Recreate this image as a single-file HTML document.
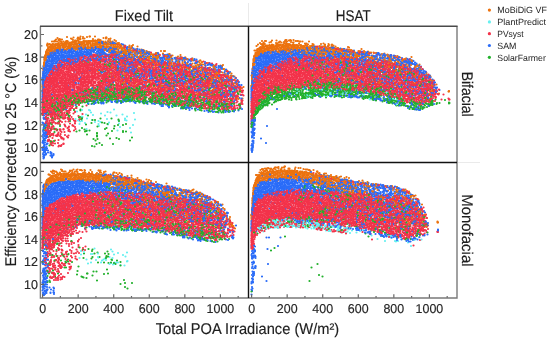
<!DOCTYPE html>
<html><head><meta charset="utf-8"><style>html,body{margin:0;padding:0;background:#fff;width:550px;height:338px;overflow:hidden}svg{display:block}</style></head>
<body><svg width="550" height="338" viewBox="0 0 550 338">
<rect width="550" height="338" fill="#fff"/>
<defs>
<clipPath id="cTL"><rect x="40.4" y="26.3" width="208.1" height="136.2"/></clipPath>
<clipPath id="cTR"><rect x="248.5" y="26.3" width="208.5" height="136.2"/></clipPath>
<clipPath id="cBL"><rect x="40.4" y="162.5" width="208.1" height="135.45"/></clipPath>
<clipPath id="cBR"><rect x="248.5" y="162.5" width="208.5" height="135.45"/></clipPath>
</defs>
<g clip-path="url(#cTL)"><g stroke-width="4.4" stroke-linecap="round" transform="scale(0.5)">
<path stroke="#EC720E" d="M156 75h0m76 7h0m-34-3h0m-12 2h0m-1 0h0m-27 2h0m-41-4h0m-10 4h0m93 6h0m12-4h0m28 10h0m-5-1h0m-2 0h0m13 3h0m5 3h0m61 6h0m-14-2h0m-23 2h0m36 2h0m7 1h0m53 6h0m-50 5h0m8 3h0m25 0h0m45 2h0m3 4h0m-5 1h0m45 6h0m-77 11h0m3-3h0m3 2h0m69 3h0m10-1h0m11 3h0m-4 16h0m-185-2h0m49 6h0"/>
<path stroke="#66F0F0" d="M186 230h0m47 1h0m17 9h0m-53 8h0m1 4h0m42 2h0"/>
<path stroke="#2A6CF8" d="M259 94h0m-68 6h0m54 0h0m55 5h0m-29 2h0m-74-2h0m-46-2h0m175 5h0m3 2h0m37 8h0m-5-4h0m-55 4h0m-89-4h0m107 7h0m101 8h0m-8 0h0m-46-1h0m-284 4h0m258 5h0m48-3h0m38-1h0m-58 6h0m-22 3h0m-91 4h0m13 0h0m138-1h0m45 3h0m-209 13h0m83 8h0m104 4h0m-61 1h0m-172 3h0m107 7h0m74-3h0m91 0h0m6 15h0m-242 2h0m-46 8h0m189 9h0m-42-2h0m24 4h0m122 1h0m-392 26h0m-4 8h0m-1 7h0m8 23h0m-2 7h0"/>
<path stroke="#F3324A" d="M183 111h0m192 8h0m-133-4h0m61 6h0m29 4h0m101 3h0m-232-2h0m-40 5h0m54 3h0m87 2h0m67 0h0m42-2h0m19 4h0m-237 1h0m132 8h0m104 0h0m18 2h0m4 5h0m-24-2h0m-7-2h0m-5 5h0m-29-4h0m-22 4h0m-20-1h0m-172 0h0m-51 3h0m71-1h0m17 5h0m87-1h0m14-4h0m75 1h0m13 0h0m29 2h0m39 1h0m6-4h0m-221 8h0m-10 0h0m-30-1h0m-23 3h0m-70 0h0m-13 7h0m23 0h0m10 0h0m3-1h0m12-4h0m67 4h0m78-1h0m50-1h0m1-1h0m1 3h0m78 4h0m-39 2h0m-7-2h0m-40 2h0m-4-4h0m-16 3h0m-16 2h0m-8-2h0m-19-2h0m-59 1h0m-71 1h0m-3-3h0m-3 5h0m-18 5h0m73-1h0m181 2h0m6-5h0m24 5h0m48-4h0m18 10h0m-18-4h0m-46-1h0m-4 4h0m-3 0h0m-46-4h0m-25 3h0m-35 1h0m-147-3h0m-1 4h0m-27 3h0m2 1h0m238 2h0m31-2h0m1-3h0m16 1h0m8 0h0m26 1h0m38 5h0m-25 4h0m-57-1h0m-229-4h0m-43 2h0m-18 4h0m41 4h0m285-2h0m36-1h0m11-1h0m-21 10h0m-76-2h0m-214-1h0m-42 3h0m-4-1h0m281 4h0m63 0h0m-324 10h0m-18-1h0m-18 7h0m25-5h0m24 10h0m-41 0h0m-8-1h0m-7-1h0m-5 5h0m7 11h0m25 1h0m6 2h0m-16 4h0m-15-1h0m-10 11h0m19 0h0m22 2h0m-15 3h0m-10-3h0m-9-1h0m-7 4h0m0 6h0m9-4h0m12 4h0m-1 6h0m-20-4h0"/>
<path stroke="#22B12C" d="M365 151h0m-93-1h0m158 15h0m-83 8h0m-81 4h0m-37-2h0m-23 1h0m4 4h0m1 1h0m31 1h0m16 2h0m217 0h0m-192 5h0m151 11h0m-99 1h0m-43 1h0m-50 0h0m-5-1h0m-19-1h0m-23 0h0m-2 0h0m-24-2h0m-13 1h0m13 5h0m20 2h0m90-1h0m111 3h0m24-1h0m29 6h0m-18 0h0m-57 0h0m-236 1h0m-6 0h0m35 5h0m230 2h0m12-4h0m32 1h0m-339 18h0m132 21h0m1-5h0m-56 9h0m65 17h0"/>
<path stroke="#EC720E" d="M158 77h0m8 0h0m3 0h0m56 6h0m-27-3h0m-13 2h0m-39-2h0m-51 7h0m53-3h0m118 6h0m-34 4h0m-132-1h0m108 8h0m42-1h0m30 2h0m0 5h0m-52 0h0m-137 3h0m145-2h0m45 3h0m9-2h0m7 4h0m9-2h0m8 0h0m2 0h0m18 7h0m31 6h0m39 0h0m25 7h0m-13-5h0m-31 1h0m-54 4h0m50 2h0m-4 5h0m-109 2h0m75 11h0m120 5h0m6 3h0m3 2h0m-387 11h0m354 17h0"/>
<path stroke="#66F0F0" d="M215 224h0m-1 14h0m-56 3h0m2 2h0m58 2h0m-2 4h0m44 7h0m-25 5h0m-62-3h0"/>
<path stroke="#2A6CF8" d="M186 100h0m50-1h0m1 2h0m61 4h0m-76 1h0m-27 1h0m-7-5h0m-6 2h0m-60 2h0m1 2h0m184 1h0m10 0h0m16 5h0m-8 4h0m-77-4h0m-2 2h0m-69-2h0m5 7h0m154 1h0m9 1h0m25 1h0m12-2h0m6-1h0m12 8h0m-7-3h0m-76 9h0m120-3h0m7 1h0m0 5h0m-8 5h0m-8-1h0m-32-2h0m-149 2h0m57 5h0m12 0h0m147 4h0m-13-1h0m-100 0h0m-132 5h0m-4 2h0m233 1h0m31 6h0m-3 3h0m-37-5h0m-85 4h0m-54 2h0m14 1h0m22 1h0m127 2h0m17 2h0m-1 2h0m-9 1h0m-3 1h0m-13-3h0m-73 0h0m-16 2h0m84 11h0m-46-1h0m-11 15h0m-31-3h0m-104 0h0m-73 9h0m137 1h0m46 5h0m18 3h0m6 0h0m87 4h0m-58 1h0m-331 16h0m-3 7h0m5 32h0m-5 8h0m4 4h0m4 11h0m10 10h0m-11-3h0"/>
<path stroke="#F3324A" d="M222 110h0m55 8h0m-45 3h0m22 2h0m178 7h0m-80-2h0m-1-1h0m-16 0h0m-5 3h0m-70 0h0m-66 1h0m-22-3h0m-15 0h0m-1 1h0m-2 0h0m-11 3h0m5 5h0m25-2h0m102-3h0m103 11h0m-77-4h0m-55 2h0m-62 0h0m-15 0h0m-25 0h0m-17 1h0m49 2h0m8 0h0m31 3h0m177-3h0m47 5h0m17 3h0m-3 2h0m-13 1h0m-47 0h0m-8-1h0m-15-4h0m-2 4h0m-17-4h0m-15 1h0m-17 3h0m-4 1h0m-58-5h0m-20 3h0m-43 7h0m29-2h0m23 0h0m3 0h0m11-2h0m6 5h0m46 0h0m4-2h0m85 2h0m45-2h0m-63 3h0m-107 4h0m-27 1h0m-11-5h0m-20 3h0m-11-2h0m-16 3h0m-1-3h0m-12 4h0m-12-1h0m-31-1h0m-16-3h0m67 10h0m20 0h0m11-2h0m5 1h0m11 2h0m0-5h0m0 2h0m9 2h0m1 1h0m28-2h0m1 1h0m24-1h0m5 0h0m162 1h0m5-1h0m5 7h0m-22 0h0m-1-2h0m-3 0h0m-63 2h0m-59-2h0m-2 3h0m-10-1h0m-8 0h0m-2 0h0m-3 1h0m-1-5h0m-41 4h0m-67 1h0m-49-5h0m51 9h0m17-1h0m46-2h0m45 5h0m10-4h0m8 3h0m17-4h0m15 0h0m7 2h0m6 1h0m17-1h0m9-2h0m19 2h0m1-1h0m10 0h0m11 3h0m3 1h0m49 5h0m-33-2h0m-14 1h0m-8-3h0m-23 5h0m-5-3h0m-3 0h0m-4 1h0m-13 1h0m-40 1h0m-66-4h0m-75 2h0m-73 5h0m144-1h0m28 4h0m88-4h0m1 4h0m32 0h0m42 2h0m-1-1h0m-12 1h0m0 2h0m-5-1h0m-51 2h0m-22-3h0m-5 2h0m-243 2h0m36 6h0m225-2h0m8 2h0m43 0h0m49-5h0m-41 8h0m-9 0h0m-9 2h0m-14-1h0m-11-2h0m-3 3h0m-13-4h0m-269 8h0m8 2h0m289-3h0m34 2h0m10 0h0m-305 5h0m-57 4h0m19 1h0m11 1h0m42-2h0m-35 6h0m-4 0h0m-23 5h0m-6-2h0m-4 7h0m13-4h0m31 3h0m11-2h0m-19 8h0m-14-2h0m-4 0h0m0-1h0m24 10h0m-8 3h0m-8 0h0m-16 9h0m33 7h0m-29-4h0m-7 2h0m-5 1h0m-1-2h0m4 9h0m12 0h0m0 6h0m8 4h0"/>
<path stroke="#22B12C" d="M219 147h0m224 14h0m-222 12h0m2-1h0m93-3h0m8 2h0m-43 8h0m-58-3h0m-26 8h0m60-3h0m212-1h0m-67 9h0m-123 2h0m-8-3h0m-4 0h0m-52 1h0m-50 4h0m52 4h0m39 0h0m85 4h0m-2 2h0m-41-5h0m-40 2h0m0 2h0m-17 0h0m-7-3h0m-33 2h0m-18 1h0m-30-3h0m8 6h0m165 3h0m132 0h0m-12 4h0m-51-2h0m-34 0h0m-26 0h0m-205 6h0m31 5h0m244-5h0m-270 12h0m2 3h0m39 0h0m-57 11h0m21 0h0m-23 5h0m47 9h0m82 6h0m-22 0h0m-54 1h0m-68-4h0m92 8h0m22 0h0m-116 5h0m95 6h0m31 10h0"/>
<path stroke="#EC720E" d="M147 75h0m14-2h0m13 1h0m6-1h0m27 3h0m-8 5h0m-39-2h0m-42 2h0m-8 0h0m-6 2h0m50 4h0m57 2h0m11-2h0m37 4h0m-56 0h0m-40 1h0m82 4h0m38 3h0m11 4h0m-1-1h0m-26 1h0m-10 3h0m-25-3h0m12 8h0m6-3h0m50 5h0m33 0h0m29 6h0m-10-4h0m-9 2h0m-6 2h0m-15-4h0m-10 2h0m-95 2h0m73 3h0m16 3h0m91-2h0m-2 6h0m-4 2h0m-36-3h0m-49 9h0m59-1h0m42-1h0m5 2h0m16 0h0m1-3h0m19 4h0m-32 3h0m-21-2h0m-41 4h0m-40-3h0m2 4h0m137 7h0m-158 2h0m-42-1h0m13 7h0m61 7h0m110 4h0m36 3h0m-80 12h0"/>
<path stroke="#66F0F0" d="M250 237h0m-49 7h0m36-3h0m1 6h0m-68-1h0"/>
<path stroke="#2A6CF8" d="M187 101h0m82-1h0m25 4h0m-5-2h0m-18 4h0m-2 0h0m-8 1h0m-14 0h0m-11-2h0m-14 0h0m-23 1h0m-34-3h0m-16-1h0m-10 4h0m-17-2h0m-1-2h0m-1 9h0m98-2h0m10 3h0m20-2h0m27-1h0m43 4h0m9-2h0m0 1h0m51 7h0m-8 0h0m-21-3h0m-20 0h0m0 2h0m-3-3h0m-37 1h0m-19 1h0m-10-2h0m-42 0h0m-42 2h0m-35-3h0m-14 2h0m37 5h0m112 2h0m8-2h0m56 3h0m40 5h0m-127 0h0m-147 2h0m193 5h0m34-2h0m61 2h0m22 0h0m27 0h0m1 0h0m-50 6h0m-25-2h0m-9 0h0m-37 2h0m35 5h0m5-3h0m52 1h0m27-1h0m7 1h0m-97 7h0m-50-2h0m-8 11h0m13-3h0m8 0h0m82-1h0m49 3h0m-45 3h0m-8-1h0m-40 3h0m58 6h0m42-3h0m22 7h0m-43 0h0m-6-1h0m-21 3h0m-124 0h0m63 3h0m53 4h0m8 0h0m-122 2h0m-16 17h0m-64-3h0m-12 5h0m42 0h0m2 0h0m7 1h0m50 0h0m57 2h0m115 4h0m-27 13h0m-8-2h0m-318 2h0m-17 5h0m-7 6h0m2 12h0m-3-2h0m1 10h0m2 0h0m3 13h0m1 2h0m0 3h0m2 13h0m-8 0h0m2 4h0m-4 6h0m22 13h0m-6 1h0m-11-2h0"/>
<path stroke="#F3324A" d="M226 88h0m76 17h0m-115 4h0m5 1h0m6 0h0m11-1h0m15 3h0m18 0h0m87-1h0m44 7h0m-19-2h0m-84 2h0m-28-2h0m-29 1h0m0 1h0m-27 4h0m23 1h0m4-3h0m74 1h0m28 10h0m-10-5h0m-73 4h0m-6-1h0m-27 1h0m-31 0h0m-3-3h0m-1 2h0m-47 7h0m2 0h0m17-4h0m15 2h0m10-2h0m10 2h0m107 2h0m33-4h0m7 2h0m27 1h0m19-1h0m13 0h0m46 4h0m-29 3h0m-44-1h0m-9-2h0m-5 2h0m-31 0h0m-68-1h0m-77-1h0m-2 1h0m-34 3h0m26 6h0m1 1h0m6-3h0m79-2h0m23 1h0m40 2h0m19 1h0m3 0h0m7-4h0m7 3h0m4 2h0m17 0h0m3-5h0m39 5h0m37 0h0m2-2h0m20 7h0m-14 0h0m-22-2h0m-74 3h0m-43-5h0m-28 5h0m-46 0h0m-4-1h0m-14 1h0m-104-5h0m-2 11h0m8-4h0m1 3h0m7 0h0m1-4h0m0 4h0m1-3h0m2 4h0m40-2h0m19 2h0m1-3h0m15 3h0m7-2h0m2 0h0m1-2h0m7 3h0m26-2h0m17 0h0m53 1h0m9 0h0m19 1h0m7 0h0m3 1h0m42-2h0m58 0h0m-32 8h0m-7 0h0m-13-2h0m-13 1h0m-6 0h0m-58-3h0m0 4h0m-25-3h0m-18 0h0m-18-1h0m-7 1h0m-15-1h0m-15 3h0m-8-3h0m-3 0h0m-31 4h0m-18-3h0m-9-2h0m-41 0h0m0 3h0m41 8h0m1-4h0m49 0h0m46 4h0m6-3h0m20-2h0m1 1h0m24 4h0m10-1h0m16-1h0m18-3h0m8 2h0m7 1h0m3-1h0m2 2h0m9 0h0m12-2h0m14-1h0m15 4h0m7 0h0m11-2h0m1 1h0m4 0h0m26-3h0m18 7h0m-21-2h0m-52 5h0m-36-1h0m-11 1h0m-2-4h0m-22 4h0m-10-4h0m-6-1h0m-24 0h0m-3 1h0m-35-1h0m-3 0h0m-16 3h0m-8-1h0m-4 0h0m-7 2h0m-19 0h0m-5 1h0m-17-1h0m-8-1h0m-2-2h0m-16-1h0m-3 2h0m-24-1h0m-9 1h0m-6 9h0m29-4h0m14 1h0m6 1h0m12 2h0m11-5h0m63 5h0m3-2h0m6-1h0m9-1h0m6 0h0m8 0h0m28 4h0m9-3h0m13 0h0m29 1h0m17 0h0m11 2h0m4-1h0m9-4h0m77 3h0m6 1h0m-23 4h0m-71 3h0m-2-4h0m-7-1h0m-20 5h0m-2-1h0m-18-4h0m-24 1h0m-10-1h0m-35 3h0m-8-3h0m-107 2h0m-63 8h0m19-2h0m30 3h0m36-2h0m38 2h0m23-2h0m1 2h0m31-1h0m30-1h0m16-2h0m12-1h0m19 1h0m16 3h0m31-4h0m5 4h0m20-4h0m22 5h0m3-4h0m2-1h0m11 4h0m25 5h0m-20-1h0m-26 1h0m-39-1h0m-18 0h0m-30-2h0m-6 5h0m-16-1h0m-24-4h0m-5 1h0m-157 3h0m-48-3h0m280 6h0m7 1h0m6-1h0m21 2h0m52 7h0m-15-1h0m-41-2h0m-273 2h0m-25-2h0m-10 6h0m2-1h0m25 1h0m2-1h0m3 3h0m2-1h0m279-2h0m29 3h0m27-3h0m-317 7h0m-12-1h0m-14 4h0m-4-3h0m-10 3h0m-6-4h0m-5 3h0m11 8h0m31 5h0m-10-2h0m0-1h0m-15 2h0m2 8h0m1-2h0m11 8h0m-15-5h0m6 16h0m-7-1h0m-4-2h0m-10 6h0m7 2h0m9 1h0m0 2h0m-3 2h0m-7 14h0m-5-4h0m16 11h0m6-3h0m4-2h0"/>
<path stroke="#22B12C" d="M208 113h0m28 24h0m147 4h0m-57 4h0m105 10h0m-19-2h0m-200 6h0m172 8h0m25 8h0m-33 0h0m-191 1h0m95 7h0m5 2h0m122-2h0m70 5h0m-130-2h0m-38 5h0m-45-1h0m-96 7h0m4-2h0m30 1h0m80 1h0m76-1h0m107-3h0m-23 6h0m-23 1h0m-53 3h0m-13-2h0m-24 0h0m-27-2h0m-43 0h0m-4 3h0m-12 1h0m-75-3h0m-15 3h0m-14 6h0m31-4h0m7 3h0m7-1h0m102-2h0m2 1h0m26 0h0m81 0h0m33-1h0m-26 6h0m-27 4h0m-11-4h0m-12 1h0m-7 2h0m132 5h0m-30 6h0m-210 14h0m-14-2h0m-85-1h0m-15-1h0m-14 3h0m127 12h0m-145 6h0m7-3h0m112 5h0m-31 3h0m-83-3h0m108 32h0"/>
<path stroke="#EC720E" d="M142 77h0m70-2h0m9 2h0m-4 1h0m-21 1h0m-6 2h0m-4-3h0m-6 4h0m-3 0h0m-1 0h0m-4 0h0m-11-4h0m-9 3h0m-8-3h0m-23 1h0m-2-1h0m-13 10h0m10-1h0m2-1h0m27-2h0m4 0h0m8 2h0m0-1h0m62 0h0m10 0h0m19 9h0m-11-1h0m-60 0h0m-76 0h0m82 4h0m50 0h0m0 2h0m6-3h0m35 2h0m13 3h0m-8 3h0m-19 2h0m-6-4h0m-5 2h0m-6 3h0m-9-3h0m-142 0h0m-1 7h0m129 2h0m40-4h0m24 2h0m19-3h0m5 9h0m-21-3h0m-4 9h0m3-1h0m18 1h0m65 1h0m41 6h0m-9-2h0m-11-1h0m-47 3h0m-24-4h0m-11 1h0m-23 2h0m-198 8h0m243-2h0m78 1h0m39 2h0m-17 1h0m-344 8h0m353-2h0m24 2h0m0 5h0m-3 3h0m-28-3h0m-98 0h0m77 4h0m26 1h0m1 3h0m10-1h0m20 8h0m-7-4h0m-12 1h0m-200-1h0m-51 0h0m122 6h0m167 5h0m-120 5h0m113 2h0m-13 13h0m18 3h0"/>
<path stroke="#66F0F0" d="M245 229h0m17 36h0"/>
<path stroke="#2A6CF8" d="M217 83h0m15 4h0m11 1h0m21 7h0m-82 5h0m10-3h0m6 0h0m1 3h0m65 5h0m-3-1h0m-14 2h0m-28-1h0m-42-2h0m-1 0h0m-5 2h0m-32-1h0m-7-2h0m-13 8h0m4 3h0m17-3h0m10-2h0m26 1h0m3 1h0m16-2h0m21 2h0m1 2h0m42-1h0m7-2h0m21 3h0m1-3h0m24 1h0m81 9h0m-19 0h0m-23 0h0m-1-3h0m-6 1h0m-24-1h0m-219-1h0m-2-1h0m-4 11h0m110-2h0m24 0h0m21 1h0m72 1h0m4-4h0m14-1h0m11 4h0m7-1h0m37 0h0m16 8h0m-34-1h0m-168 6h0m97-1h0m72 2h0m72 5h0m-31-3h0m-48 0h0m-50 2h0m-80-1h0m-125-1h0m103 5h0m87 2h0m116 3h0m9-5h0m-15 11h0m-122-2h0m-28 0h0m-181 7h0m241-1h0m66 1h0m11 1h0m31 0h0m41-1h0m-43 6h0m-315 1h0m77 6h0m27-5h0m225 3h0m9 0h0m17 7h0m-6-3h0m-89 2h0m-114-1h0m-96 8h0m160-1h0m71-2h0m30 1h0m27 3h0m10 0h0m17 5h0m-10 1h0m-6-5h0m-13 3h0m-38-3h0m-8 1h0m-204 7h0m158-1h0m45 3h0m44-1h0m33 2h0m-174 4h0m-74 2h0m-59 4h0m126-3h0m2 3h0m176 6h0m-79 0h0m-65-1h0m81 9h0m38 2h0m-46-1h0m-322 9h0m2 6h0m0 14h0m3 11h0m-2-1h0m1 3h0m3 9h0m-6 7h0m2 1h0m4 6h0m-8-4h0m7 11h0m-4 3h0m-2 2h0m9 2h0"/>
<path stroke="#F3324A" d="M263 97h0m-77 13h0m42 0h0m136 5h0m-1 0h0m-89 4h0m-41-4h0m-11 0h0m-4 2h0m-6-3h0m-57 11h0m24 0h0m7-5h0m20 3h0m21 2h0m196 3h0m-42 2h0m-65 0h0m-130-4h0m-1 1h0m-5 1h0m-1 0h0m-19-1h0m-19 2h0m-12 6h0m4 0h0m20-2h0m14 3h0m7-4h0m15 3h0m6-2h0m3 1h0m4-1h0m25 1h0m14 3h0m52-4h0m6 2h0m46-3h0m2 2h0m1 2h0m16 0h0m8-1h0m7 0h0m19 0h0m4 0h0m6 2h0m48 6h0m-66 0h0m-16 0h0m-4-2h0m-26 1h0m-25-3h0m-13 1h0m-9-1h0m0 3h0m-33-2h0m-30-2h0m-11 0h0m-8 2h0m-29-1h0m-4 0h0m-1 1h0m-1 3h0m-13-1h0m-6-2h0m-17 0h0m-9 3h0m-2-4h0m-11 2h0m-15 8h0m16-2h0m6-2h0m1 4h0m8 0h0m19-5h0m4 0h0m24 1h0m4 4h0m28-5h0m1 0h0m16 2h0m28 0h0m3 1h0m24 1h0m7 0h0m29 0h0m30-3h0m11-1h0m12 1h0m10 3h0m36 1h0m31 1h0m-19 3h0m-1-1h0m-1-2h0m-6 0h0m-51 3h0m-5 1h0m-2-1h0m-8-2h0m-2 4h0m-6-2h0m-60 2h0m-27-5h0m-4 3h0m-15-2h0m-19 0h0m0 3h0m-13-1h0m-29-2h0m-17 4h0m-3-3h0m-21 0h0m-3-2h0m-17 4h0m-22-3h0m9 8h0m6 2h0m8-1h0m7-4h0m9 3h0m11-1h0m9 2h0m6 1h0m16-2h0m18-3h0m3 1h0m10 1h0m4 2h0m4-3h0m12 1h0m60 3h0m9-1h0m20 1h0m24-4h0m21 1h0m7 1h0m25 0h0m0-3h0m18 3h0m2-3h0m22 5h0m17-2h0m12 6h0m-2-1h0m-6 1h0m-1-3h0m-11 2h0m-13 1h0m-7-2h0m-14 0h0m-16 2h0m-18 0h0m-5 1h0m-7-4h0m-1 4h0m-4 1h0m-6-1h0m-1-4h0m-23 2h0m-7 1h0m-1-1h0m-4 3h0m-43-2h0m-7-2h0m-9-1h0m-7 2h0m-7 0h0m-11-2h0m-7 0h0m-9 4h0m-1-2h0m-18 1h0m-11 0h0m-9 0h0m-5 1h0m-1 0h0m-2-1h0m-16 1h0m-34-4h0m-6 4h0m16 3h0m6 2h0m22-1h0m17 1h0m1-2h0m18 2h0m22-3h0m12 0h0m29 5h0m3 0h0m6-1h0m10 1h0m9-1h0m14 1h0m4-3h0m5 2h0m66 1h0m2 0h0m13-3h0m1 1h0m24-1h0m21 0h0m8 3h0m24-2h0m4 4h0m-8 1h0m-14 0h0m-18 1h0m-2 2h0m-35-4h0m-31 3h0m-4-1h0m-1-3h0m-22 5h0m-26-5h0m-4 4h0m-5 0h0m-12 1h0m-2-5h0m-9 2h0m-12-2h0m-15 4h0m-9-2h0m-33-1h0m-6 4h0m-22-4h0m-7 4h0m-5-5h0m-1 2h0m-5 1h0m-31 2h0m-2-5h0m-1 0h0m-7 2h0m-5 1h0m-18 6h0m18 2h0m20-4h0m5 0h0m2 2h0m29 1h0m9 0h0m6-3h0m4 3h0m28-4h0m12 1h0m4-1h0m23 5h0m16-4h0m32 4h0m5-1h0m16 1h0m2-3h0m25 3h0m13-1h0m11-2h0m7 0h0m1-2h0m7 1h0m1-1h0m10 2h0m10-1h0m9 0h0m5 0h0m46 0h0m-19 9h0m-21 1h0m-5 0h0m-1-1h0m-3-3h0m0 4h0m-3 0h0m-12-1h0m-9-3h0m0 4h0m-13-5h0m-47 2h0m-1 2h0m-20 1h0m-19-5h0m-31 1h0m-39 4h0m-24-4h0m-30 2h0m-45-3h0m-21 2h0m-7 4h0m39 4h0m1 1h0m3-1h0m14-4h0m4 4h0m1 1h0m36 0h0m4-5h0m17 4h0m89-1h0m4 1h0m9-2h0m19 2h0m0-1h0m19-2h0m28 1h0m27-2h0m2 2h0m19 1h0m24 5h0m-10-1h0m-38 0h0m-2 4h0m-17-5h0m-16 2h0m-17 1h0m-15-2h0m-8 0h0m-66-1h0m-70 0h0m-59 5h0m-2-5h0m-32 2h0m-19 9h0m8-1h0m17-3h0m3-1h0m3 0h0m24 3h0m226-2h0m3 2h0m47-1h0m5 1h0m11-1h0m11 1h0m20 5h0m-21-1h0m-7 3h0m-19-1h0m-34-1h0m-5 2h0m-1-4h0m-31 0h0m-216 2h0m-1-1h0m-14 0h0m-8 3h0m-38 2h0m39 0h0m2 4h0m3-3h0m12 3h0m3-4h0m9 0h0m313 2h0m9-2h0m-353 8h0m-14-2h0m-2 4h0m-3-1h0m-6 4h0m4 3h0m1 1h0m24-3h0m14 1h0m-19 4h0m-15 2h0m18 7h0m-29 4h0m8 6h0m-4 9h0m-4-1h0m-1 6h0m5 0h0m22 0h0m0 1h0m3 7h0m3 3h0m-21 12h0"/>
<path stroke="#22B12C" d="M194 111h0m-18 13h0m44-1h0m30-2h0m123 20h0m19 12h0m-46 7h0m11-3h0m56 2h0m3-1h0m11 9h0m-170 1h0m60 8h0m-122 1h0m7 4h0m3 3h0m38 1h0m9-4h0m13 3h0m21 1h0m84-2h0m72 6h0m-97 1h0m-61-1h0m-1 2h0m-8 0h0m-30-1h0m-17-2h0m-1-2h0m-1 4h0m-3-1h0m-9 2h0m-4-3h0m-44 0h0m-34 3h0m34 3h0m23-1h0m24 1h0m0 2h0m24-3h0m19 3h0m5-2h0m19 0h0m21 2h0m9 1h0m9 0h0m60-4h0m29 1h0m-10 8h0m-21 0h0m-112-3h0m-1 2h0m-12 2h0m-43-3h0m-6 2h0m-8-4h0m-5 4h0m-10-3h0m-22-1h0m-1 4h0m-25 2h0m29 2h0m72-2h0m86 3h0m4 1h0m23 1h0m12-1h0m4 0h0m35-1h0m12 0h0m35 2h0m1-3h0m19 1h0m15 4h0m-39 2h0m-57 0h0m-3-2h0m-22-1h0m-10 1h0m-10-1h0m-173 3h0m235 7h0m19-4h0m35 0h0m16 4h0m-11 2h0m-24 2h0m-314 1h0m-7-3h0m-4 6h0m0 11h0m73 7h0m69 17h0m-93-2h0m105 14h0m-51-4h0m-19 2h0m39 3h0m-34 10h0m-97 2h0"/>
<path stroke="#EC720E" d="M115 76h0m45 0h0m19-3h0m33 4h0m1-2h0m-10 8h0m-2-3h0m-23 2h0m-1 1h0m-10-1h0m-11-1h0m-3 2h0m-20-1h0m-32 7h0m13-1h0m48-4h0m11 4h0m31-1h0m8 1h0m1-1h0m1-1h0m6 3h0m8 0h0m9 0h0m38 4h0m-11-1h0m-21 2h0m-20-4h0m-10 0h0m-4 3h0m-18-1h0m-32 0h0m-55-2h0m-8 6h0m105 1h0m11 3h0m1-3h0m20 1h0m6-1h0m4 4h0m79 1h0m-8 4h0m-27-1h0m-3 1h0m-11-2h0m-20 2h0m-8 0h0m-25-4h0m-2 2h0m32 7h0m9 2h0m11-5h0m23 0h0m19 0h0m23 5h0m4-5h0m31 7h0m-55 2h0m-38-3h0m-21 1h0m-167 0h0m-1 10h0m178-5h0m30 5h0m23-2h0m24 2h0m58 6h0m-18-1h0m-40-3h0m-5-1h0m-31 5h0m-38-1h0m-13-2h0m81 8h0m16 1h0m7-1h0m23-2h0m14 0h0m41 5h0m-25 3h0m-4-1h0m-22 1h0m-24-3h0m-52 6h0m75 8h0m-44-2h0m-98 4h0m-4 5h0m231 6h0m-96-3h0m-143 2h0m99 3h0m49 5h0m12-1h0m67-3h0m23 8h0m-171-2h0m109 11h0m-8 5h0m65 7h0"/>
<path stroke="#66F0F0" d="M180 221h0m48-2h0m-63 15h0m19 6h0m82 10h0m-107-2h0"/>
<path stroke="#2A6CF8" d="M225 84h0m7 4h0m18 3h0m-68 10h0m17 0h0m2-1h0m11-4h0m7 0h0m13 1h0m28 1h0m-4 5h0m-10 0h0m-22 0h0m-24 4h0m-6-4h0m-7 1h0m-5 2h0m-2-1h0m-7 2h0m-10 0h0m0-2h0m-2 0h0m-32-1h0m-5-1h0m-14 2h0m-10 6h0m2 1h0m1-4h0m14 5h0m2-4h0m23 2h0m19-2h0m9 3h0m7-4h0m4 3h0m23-3h0m46 2h0m48-1h0m34 1h0m38 6h0m-2 1h0m-23 2h0m-24-1h0m-13-2h0m-6 1h0m-23 2h0m-11-5h0m-19 2h0m-1 1h0m-7 0h0m-10 2h0m-20-4h0m-12 4h0m-71 0h0m-10-2h0m-10-2h0m-3 1h0m-1 0h0m-10 8h0m50 0h0m115 0h0m100 0h0m11 1h0m15-5h0m9 4h0m28 6h0m-12-3h0m-29 0h0m-16 3h0m-94-3h0m-27 0h0m-23 2h0m-34 1h0m-49-1h0m-26-2h0m-7 2h0m-7 2h0m-11 3h0m26 0h0m99 3h0m9-2h0m16 0h0m82-2h0m62 1h0m6-1h0m11 0h0m6 4h0m23-4h0m6 2h0m-337 7h0m95 4h0m77 1h0m89 1h0m11 0h0m92-4h0m-44 9h0m-19-3h0m-26 2h0m-44 1h0m-47 2h0m-195 0h0m0 3h0m243-1h0m1-1h0m26 5h0m17-4h0m9 0h0m43 2h0m7 1h0m19 0h0m14-1h0m7-3h0m3 6h0m-11 2h0m-17-2h0m-2 4h0m-65 1h0m-31-5h0m-1 5h0m-21-3h0m-1-2h0m-71 5h0m-40-1h0m-78 5h0m112-3h0m133 2h0m16 3h0m61-1h0m21-2h0m-10 5h0m-84 1h0m-7-2h0m-146 4h0m-13-4h0m-134 7h0m377 1h0m-127 4h0m-57 4h0m-193-1h0m159 7h0m16 0h0m154-2h0m9-2h0m43 3h0m4 5h0m-99 1h0m-111-2h0m-28 4h0m-21-2h0m-33 2h0m-2 0h0m-63 1h0m75 4h0m35-4h0m19 1h0m29 1h0m39 2h0m6-2h0m134-2h0m31 11h0m-137-3h0m-6 3h0m-12-3h0m-3 0h0m-191 7h0m235-3h0m29 3h0m18 2h0m54-1h0m0 3h0m-379 13h0m5 29h0m-8 5h0m6 6h0m-7 24h0m3 2h0m15 4h0m-11 3h0m-5 1h0m1 5h0m16 0h0m1-3h0"/>
<path stroke="#F3324A" d="M180 112h0m21-3h0m13 0h0m17 3h0m7 0h0m13 1h0m79 0h0m-78 4h0m-22-3h0m-10 5h0m-17-5h0m-10 5h0m-7 0h0m-1 0h0m-6-1h0m-20-2h0m-40 8h0m46-4h0m5 5h0m2 0h0m8-1h0m14-3h0m6 0h0m7-1h0m3 5h0m15-4h0m2 3h0m5-1h0m6 1h0m11-1h0m10 0h0m2 0h0m2-2h0m2 2h0m6-3h0m1 2h0m1 2h0m4-1h0m2-3h0m93 11h0m-4-2h0m-21-1h0m-8 0h0m-16-2h0m-27 1h0m-21 3h0m-12-2h0m-12-2h0m-6 4h0m-3-3h0m-7 2h0m-13 2h0m-13-5h0m-10 3h0m-4 0h0m-2 0h0m-9 2h0m0-5h0m-8 2h0m-2-1h0m-6 0h0m-11 3h0m-3 0h0m-14 1h0m-9-2h0m-14-2h0m-1 1h0m-7 8h0m2 0h0m17 0h0m9 0h0m2-4h0m6 3h0m1 0h0m0-1h0m1 2h0m7-1h0m19 2h0m16-4h0m5 2h0m7-3h0m13 4h0m0-1h0m4-2h0m5 2h0m20-3h0m1 2h0m3-1h0m12 3h0m10 0h0m3-1h0m8 2h0m7-4h0m6 4h0m1-1h0m13 1h0m22-1h0m8-2h0m4 2h0m18-4h0m3 0h0m11 0h0m14 3h0m4 1h0m49 4h0m-34-1h0m-7 2h0m-27 1h0m-3-1h0m-7 2h0m-4 0h0m-19-5h0m-8 0h0m-39 5h0m-24-5h0m-4 4h0m-26-1h0m-16-1h0m-12-2h0m-13 5h0m-3-3h0m-7 2h0m-11-2h0m-8 3h0m-14-3h0m-2 1h0m-1 0h0m-4 1h0m-13-3h0m-12 0h0m-1 4h0m-2-3h0m-3 1h0m-8 7h0m11-3h0m6 4h0m55-3h0m11 1h0m3 0h0m2 1h0m17-2h0m2-1h0m10-1h0m7 5h0m48 0h0m9 0h0m4-3h0m21 1h0m14 0h0m23 0h0m10-2h0m0 4h0m59-3h0m12 2h0m11 3h0m-2 0h0m-12-1h0m-11 5h0m-9-4h0m-5 1h0m-13 2h0m-11-1h0m-5 0h0m-7 2h0m-13-5h0m-7 4h0m-7-4h0m-35 3h0m-13 0h0m-9-3h0m-5 2h0m-17-1h0m-4 0h0m0 2h0m-5 2h0m-10 0h0m-2-4h0m-2 2h0m-4-2h0m-26 4h0m-4-2h0m-37 0h0m-5-3h0m-2 4h0m-22 0h0m-9-3h0m-4 2h0m-17 1h0m-3 4h0m1 0h0m34-1h0m4 2h0m1 0h0m24 0h0m4 0h0m17-1h0m5-2h0m3 1h0m6 4h0m27-3h0m4 2h0m14-2h0m2-2h0m5 0h0m9 2h0m40 2h0m14-2h0m26-2h0m8 2h0m14 1h0m17-1h0m1-2h0m3 4h0m16-4h0m29 0h0m1 0h0m33 4h0m8 2h0m-23 1h0m-46 2h0m-2-2h0m-25 0h0m-9 2h0m-5-1h0m-6 2h0m-17-1h0m-7-2h0m-5 4h0m-9 0h0m-15-2h0m-7 0h0m-1-3h0m-3 1h0m-16 3h0m-10 1h0m-2-5h0m-31 4h0m0-1h0m-7-3h0m-11 0h0m-22 5h0m-6-4h0m-4 0h0m-5 0h0m-15 1h0m-4-2h0m-11 3h0m-11-3h0m-20 5h0m0-5h0m3 8h0m2 1h0m3-2h0m11-1h0m24 1h0m1 3h0m6-4h0m11 3h0m5 1h0m2-1h0m8-2h0m13 1h0m1-1h0m0-1h0m3 3h0m4-2h0m5 4h0m3-4h0m10 3h0m15-4h0m3 4h0m7-1h0m13-2h0m3 1h0m5-1h0m10-1h0m0 5h0m11-3h0m6 1h0m2-3h0m3 4h0m26 0h0m4 1h0m0-2h0m1 0h0m8 2h0m3-1h0m14-2h0m25 1h0m9-1h0m1 0h0m5-1h0m4 4h0m4-4h0m8-1h0m10 2h0m7 0h0m22 3h0m15 6h0m-1 0h0m-4-5h0m-38 0h0m-3 2h0m-5 2h0m-31-2h0m-26 3h0m-3-4h0m-17 4h0m-14-2h0m-6-2h0m-3 1h0m-2-2h0m-11 2h0m-6 1h0m-16 2h0m-7-4h0m-32 1h0m-15 3h0m0-2h0m-36-2h0m-1-1h0m-44 2h0m-4 3h0m-6-5h0m-1 5h0m-2 0h0m-6 0h0m-13 0h0m4 3h0m10 1h0m29 2h0m25-2h0m9-3h0m1 1h0m28-1h0m1 0h0m5 1h0m8 0h0m10 2h0m4-3h0m31 0h0m8 5h0m14-3h0m7-1h0m10 2h0m11-1h0m8 3h0m3-4h0m9 1h0m5-1h0m8-1h0m5 0h0m14 1h0m24 2h0m18-3h0m3 5h0m42 4h0m-14-3h0m-60 0h0m-17 3h0m-3-1h0m-2 2h0m-9 0h0m0-1h0m-3-1h0m0 2h0m-8-2h0m-4-1h0m-3 1h0m-12 2h0m-10 1h0m-7-5h0m-10 2h0m-7 0h0m-3-1h0m-39-1h0m-6 0h0m-17 2h0m-19 2h0m-48-4h0m-4 5h0m-4-1h0m-2-2h0m-13 0h0m-1 0h0m-25-2h0m-1 2h0m-2 0h0m-6 1h0m-21 1h0m14 4h0m25 0h0m20-2h0m3 5h0m20-1h0m3-3h0m1 0h0m9 1h0m7 3h0m6-5h0m1 4h0m9 0h0m1-1h0m4-2h0m26 1h0m2-1h0m18-1h0m5 0h0m2 1h0m5 0h0m5 4h0m14-3h0m56 3h0m15-2h0m16-1h0m1 0h0m3 2h0m6 0h0m12 1h0m14-5h0m6 4h0m23-1h0m20 3h0m-16 0h0m-5 4h0m-13-3h0m-12-1h0m-6 5h0m-13 0h0m-23-2h0m-2 2h0m-2-3h0m-30-2h0m-16 2h0m-44-1h0m-23-1h0m-49 0h0m-35 2h0m-15 2h0m-7-1h0m-11-1h0m-1 3h0m-12-5h0m-2 2h0m-6 1h0m-5 1h0m-6 0h0m-2-2h0m-1 1h0m-18-1h0m21 6h0m12 1h0m17-1h0m221 1h0m8 2h0m2 0h0m2-4h0m4-1h0m1 0h0m49 0h0m32 1h0m2 8h0m-1 1h0m-9-1h0m-5 0h0m-2-2h0m-16 3h0m-4-3h0m-10 2h0m-3 0h0m-2-2h0m-10 1h0m-8 1h0m-3 0h0m-260-3h0m-14 5h0m-12-1h0m-8-3h0m-3 4h0m-14 0h0m23 1h0m7 1h0m24 1h0m13-2h0m317 0h0m-335 10h0m-9 1h0m-1-5h0m-8 4h0m-6 1h0m-2-3h0m-6 0h0m-10 9h0m5-3h0m12-2h0m5 0h0m4 5h0m39-1h0m-17 7h0m-2-1h0m-9-1h0m-34 1h0m-4-2h0m2 6h0m2 0h0m8-1h0m55-1h0m-54 8h0m-9 4h0m52 0h0m-7 11h0m-13-5h0m-7 1h0m-18 2h0m21 3h0m-25 15h0m25-2h0m4 0h0m-23 6h0m-3 5h0m20 4h0m1 0h0"/>
<path stroke="#22B12C" d="M221 112h0m38 21h0m-48 9h0m-4 1h0m78 6h0m54 4h0m-63 1h0m-24-1h0m18 4h0m28 2h0m140 5h0m-14 3h0m-90-4h0m-22-1h0m-66 5h0m94 6h0m-87 4h0m-66-1h0m2 5h0m21 2h0m25-2h0m27 0h0m3 4h0m21-3h0m7 2h0m41-1h0m114 2h0m28 2h0m-51 3h0m-52-3h0m-28 0h0m-79 4h0m-17-1h0m-49 0h0m-29 0h0m-43 0h0m33 4h0m8-2h0m8 0h0m23 5h0m8 0h0m16-2h0m20-1h0m5 0h0m11 1h0m15 1h0m37-1h0m10-2h0m16 2h0m6-1h0m7-2h0m12 3h0m27-3h0m66 7h0m-36 4h0m-1-2h0m-18 0h0m-26-1h0m-70 3h0m-14 0h0m-6 0h0m-16-2h0m-17 1h0m-6-3h0m-43-1h0m-28 5h0m-17-1h0m-27 7h0m24-4h0m0 2h0m10-2h0m9-1h0m161 4h0m16 0h0m7-4h0m0 3h0m43 0h0m27 2h0m4-5h0m16 4h0m33-1h0m-72 5h0m-6 2h0m-1 1h0m-32 1h0m79 2h0m3 3h0m5-1h0m1 4h0m-363 1h0m-10 5h0m32 0h0m84 7h0m-37-3h0m-6 1h0m-53 0h0m0 2h0m12 7h0m-14 5h0m-15 5h0m125 2h0m-44 3h0m-55 0h0m-27 1h0m22 4h0m137 0h0m-52 7h0m66 10h0m-76 11h0"/>
<path stroke="#EC720E" d="M134 74h0m32 0h0m54 6h0m-9 3h0m-5 0h0m-10-1h0m-1-1h0m-4 0h0m-2 2h0m-16 0h0m-4 0h0m-13-3h0m-6 1h0m-15 1h0m-3 1h0m-8-4h0m-5 2h0m-7 2h0m-14 6h0m11 0h0m10 0h0m4-3h0m1 0h0m1 1h0m13 0h0m3 1h0m3-3h0m2 4h0m12-5h0m2 4h0m2 1h0m3-5h0m32 5h0m4-4h0m2 1h0m12 1h0m25 2h0m23 4h0m-7 2h0m-5-3h0m-4-2h0m-1 5h0m-6-4h0m-9 4h0m-3 0h0m-5-4h0m-5 2h0m-3 1h0m-2-1h0m-14-1h0m-5-2h0m-5 0h0m-11 5h0m-3-4h0m-13 2h0m-5-1h0m-7-2h0m-40 0h0m-5 0h0m-3 1h0m-1 3h0m-3 0h0m-4 6h0m3-4h0m0 2h0m4-2h0m18 4h0m9 0h0m12-2h0m82 2h0m37 0h0m3-4h0m9 3h0m16 1h0m-7 6h0m-4-4h0m-11 2h0m-12 3h0m-1-5h0m-18 5h0m-136 2h0m144 2h0m22 1h0m1 1h0m6-1h0m16-3h0m5 0h0m46 0h0m1 0h0m-40 7h0m-17-2h0m-7 1h0m-186 3h0m0-1h0m191 4h0m25-1h0m0 2h0m95-1h0m-88 5h0m-4 9h0m53-3h0m28 2h0m31 1h0m33 7h0m-33-1h0m-15 0h0m-19-3h0m-7 2h0m-12 3h0m-171 0h0m-109-5h0m298 6h0m39 0h0m6 3h0m3 0h0m1-2h0m21 2h0m4-1h0m10 7h0m-20-2h0m-13 3h0m-206-1h0m-12-2h0m45 9h0m19 1h0m3 0h0m174 2h0m-165 2h0m-34 3h0m9 2h0m83-1h0m108 6h0m-78-1h0m-50 4h0m-12-3h0"/>
<path stroke="#66F0F0" d="M164 220h0m104 6h0m-66 1h0m-20-2h0m-28-2h0m10 10h0m8-4h0m98 10h0m-96-2h0m-10 5h0"/>
<path stroke="#2A6CF8" d="M159 89h0m52-3h0m10 0h0m25 3h0m9 5h0m-3 1h0m-3-1h0m-52 1h0m-67 5h0m4-1h0m25 1h0m18-1h0m10 0h0m23 0h0m14 2h0m1-5h0m2 1h0m1 1h0m26 0h0m16 1h0m9 0h0m7 2h0m4 6h0m-17-4h0m-13 2h0m-18-2h0m-11 2h0m-5 1h0m-11-4h0m-13 2h0m-10 2h0m-16-2h0m-6-1h0m-1-1h0m-10 2h0m-3 1h0m-9-2h0m0 4h0m-5-2h0m-5-1h0m-7 2h0m-2-1h0m-10-1h0m0 3h0m-2 0h0m0-4h0m-16 5h0m6 3h0m2 0h0m8 1h0m12-2h0m10 0h0m21 0h0m6-1h0m13 4h0m7 0h0m12 0h0m6-4h0m12 2h0m16-1h0m55 2h0m5 1h0m4-1h0m47-1h0m47 7h0m-5-1h0m-17-1h0m-7 3h0m-19-5h0m-1 1h0m-51 3h0m-4 0h0m-2-3h0m-25-1h0m-22 4h0m-6 1h0m-32-4h0m-3 2h0m-2-2h0m-1 3h0m-35-1h0m-11-1h0m-3 3h0m-2-1h0m-2-4h0m-6 5h0m-1-5h0m-2 5h0m0-4h0m-1 1h0m-8-1h0m-16 4h0m-2-1h0m-10 0h0m2 2h0m1 3h0m3 0h0m4-3h0m2 3h0m2 2h0m1-5h0m4 0h0m1 5h0m1-1h0m26 1h0m5-2h0m19 0h0m34-3h0m12 1h0m1 0h0m6-1h0m6 4h0m3-2h0m21 0h0m55 0h0m9 0h0m12 1h0m9-3h0m47 1h0m31 3h0m9 5h0m-4 1h0m-12 1h0m-12-5h0m-10 3h0m-23 1h0m-4-1h0m-88 0h0m-18 2h0m-9-3h0m-10-1h0m-79-1h0m-16 1h0m-4 0h0m-11-1h0m-11 1h0m-13 6h0m13 1h0m14 0h0m112 1h0m7-1h0m7 3h0m3-4h0m16 4h0m55-3h0m22-1h0m94 0h0m-11 6h0m-59 4h0m-14-2h0m-6-2h0m-26-1h0m-4 4h0m-14-1h0m-16-2h0m-63 2h0m-46-1h0m-82 2h0m0-1h0m-10-2h0m62 5h0m60 2h0m61-1h0m26-1h0m35 0h0m35 4h0m50-2h0m5-1h0m34 3h0m1-2h0m1 0h0m-19 6h0m-12 3h0m-36-4h0m-34 1h0m-67-2h0m-6 3h0m-10 1h0m-31 1h0m63 1h0m27 2h0m27 2h0m16 1h0m4-2h0m16 0h0m48-1h0m17 2h0m-29 3h0m-5 1h0m-37 0h0m-22-1h0m-30 3h0m-1 0h0m-53 1h0m-56-3h0m20 8h0m68-2h0m3-1h0m14-1h0m2 3h0m3-3h0m29 0h0m22 1h0m3 1h0m16 3h0m18-2h0m6-3h0m24 4h0m9 3h0m-31 2h0m-19-1h0m-13 0h0m-50 2h0m-60-2h0m65 5h0m37 0h0m12-1h0m8 1h0m18-1h0m34 3h0m4 0h0m-6 7h0m-3-2h0m-39-1h0m-135 3h0m-115-4h0m-86 11h0m207-3h0m99 3h0m66-5h0m-35 6h0m-176 2h0m-25 1h0m-5 2h0m-131-5h0m116 7h0m2 2h0m4-2h0m17-1h0m108 5h0m39-1h0m69-4h0m22 6h0m-35 2h0m-76 0h0m-266 2h0m307 3h0m59 7h0m-358 1h0m-3 2h0m-3 0h0m5 12h0m0 8h0m-1 2h0m-3 6h0m0 11h0m1 1h0m3-1h0m1 6h0m-4-1h0m-3 10h0m1 4h0m-2 10h0m5 8h0m0 2h0m2-5h0m4 5h0m5-1h0m0 2h0m-12 5h0m-3-3h0m17 4h0"/>
<path stroke="#F3324A" d="M250 92h0m-9 0h0m40 11h0m-92 8h0m10 1h0m2 1h0m1-4h0m9 1h0m2 2h0m2 0h0m9-4h0m112 5h0m6-1h0m16 5h0m-91 0h0m-9 2h0m-5-3h0m-15 2h0m-36-3h0m0 4h0m-21-5h0m-1 3h0m-18-3h0m-12 2h0m-31 6h0m9-2h0m4 3h0m27 2h0m6-2h0m23 0h0m2 1h0m4 1h0m7-1h0m14 0h0m4-2h0m14 2h0m2 1h0m4-4h0m0 4h0m1-1h0m2-4h0m4 2h0m8-1h0m16 4h0m20-2h0m17-1h0m7 0h0m69-2h0m9 2h0m32 5h0m-11-1h0m-31 4h0m-10 0h0m-17 1h0m-2 0h0m-16 0h0m-4-5h0m-21 5h0m-9-5h0m-15 4h0m-7 0h0m-1 0h0m-6-4h0m-23 3h0m-3-2h0m-7 1h0m-6 3h0m-10-3h0m-19 0h0m-3 1h0m-9-1h0m-4 0h0m0-2h0m-2 3h0m-15-2h0m-4 3h0m-10-1h0m-7-3h0m-18 5h0m-19 6h0m0-5h0m0 4h0m5-1h0m20-1h0m10-2h0m7 2h0m5 2h0m0-3h0m7 0h0m6-1h0m6 3h0m4-1h0m5-2h0m3 2h0m6 1h0m5 1h0m22-4h0m6 1h0m18 3h0m11-2h0m13-1h0m20-1h0m6 3h0m21-3h0m27 2h0m1 2h0m7-4h0m12 0h0m7 4h0m62 4h0m-23-2h0m-5 5h0m-22-5h0m-3 5h0m-19-4h0m-8 3h0m-3-3h0m-4-1h0m-11 2h0m-5 2h0m-17-4h0m-6 1h0m-1 3h0m-2-3h0m-2 3h0m-14-2h0m-10 1h0m-1-3h0m-2 5h0m-2 0h0m-15-3h0m-3 3h0m-17-1h0m-8 1h0m-2-5h0m-3 1h0m-14 3h0m-11-3h0m-3 3h0m-9 0h0m-17-2h0m-1 2h0m-15-2h0m-1 3h0m-4-4h0m-2-1h0m-4 1h0m-5 1h0m-3 0h0m-2 2h0m-1-2h0m-1 3h0m-29 0h0m6 6h0m10-3h0m3 0h0m16 1h0m5 1h0m8-4h0m17 0h0m1 3h0m2-3h0m8 3h0m7-2h0m0 3h0m7-2h0m34 0h0m1-1h0m10-1h0m7 1h0m0-1h0m5 5h0m3-3h0m13-2h0m3 1h0m12 0h0m1 3h0m5 0h0m7 0h0m6-4h0m8 3h0m13-3h0m11 0h0m5 2h0m2 0h0m3 2h0m25 1h0m3-1h0m2 0h0m6 1h0m12 0h0m1-4h0m12 4h0m4 0h0m6-2h0m34 6h0m-2-1h0m-3 3h0m-5 0h0m-11-1h0m-5-3h0m-2 2h0m-12-3h0m-11 0h0m-1 0h0m-3 4h0m-12-1h0m-8-2h0m-3 0h0m-19 0h0m0 4h0m-28-2h0m-9-2h0m-3 4h0m-8-5h0m-13 4h0m-4-1h0m-28 0h0m-4-1h0m-19 1h0m-7-2h0m-17 3h0m-17 0h0m-8 1h0m-3-2h0m-3-3h0m-5 4h0m-2 0h0m-3-1h0m-10 0h0m-8-1h0m-2-2h0m-10 5h0m-6-2h0m-2-1h0m-9 0h0m-1 0h0m-1 1h0m-6-1h0m-3 1h0m-2-2h0m0-1h0m-2 2h0m-5 3h0m-3 3h0m29 1h0m1 0h0m2-2h0m4 2h0m1-2h0m6-1h0m0 4h0m8 1h0m7-1h0m14-4h0m4 2h0m9-1h0m9 1h0m9-2h0m6 5h0m11-5h0m5 4h0m0-3h0m4 4h0m4-5h0m1 2h0m1-2h0m2 2h0m14-1h0m3 0h0m0 4h0m9-4h0m3-1h0m2 2h0m8 1h0m2-3h0m2 4h0m37 0h0m2-3h0m1-1h0m8 3h0m14 0h0m8 0h0m9-3h0m2 3h0m2-3h0m14 4h0m2 1h0m2-1h0m1 0h0m5-2h0m8 3h0m4-3h0m3 1h0m4-3h0m10 0h0m7 2h0m6 1h0m24 5h0m-21 2h0m-6-3h0m-23 3h0m-8-1h0m-4-3h0m-3 5h0m-5-5h0m-6 3h0m-3-3h0m-13 5h0m-9-2h0m-5 0h0m-29 2h0m-11-4h0m-19 0h0m-3 0h0m-3 4h0m-6 0h0m-7-4h0m-5 4h0m-4-1h0m-8-4h0m-9 2h0m-1-2h0m-12 4h0m-12-2h0m-11 1h0m0-1h0m-3 2h0m-17-2h0m-20 0h0m-2 3h0m-1-4h0m-17-1h0m-1 3h0m-8 1h0m-3-4h0m-1 1h0m0 1h0m-1 3h0m-3-1h0m-1-4h0m-6 5h0m0-1h0m-6-1h0m-11 1h0m-4-3h0m-2 6h0m12 4h0m2-5h0m12 3h0m4-2h0m2 2h0m11 0h0m1 0h0m0 2h0m3-3h0m3-1h0m9 1h0m5 1h0m5 1h0m1-3h0m2 1h0m17 1h0m1-1h0m2 1h0m2-1h0m4 1h0m13 1h0m3 1h0m15-2h0m1 1h0m6 0h0m2 0h0m7-2h0m4 0h0m16-2h0m17 1h0m5 2h0m10-2h0m7 2h0m1 1h0m11-2h0m13 1h0m6-3h0m35 1h0m16 4h0m12 0h0m3 0h0m2-2h0m11-2h0m6-1h0m2 5h0m15-5h0m6 0h0m6 1h0m26 6h0m-5 0h0m-35 2h0m-48-1h0m-16-2h0m-5 5h0m-7 0h0m-8-1h0m-8-4h0m-17 5h0m-3-4h0m-4 4h0m-1-1h0m-26-2h0m-7-2h0m-22 5h0m-10-5h0m-7 0h0m0 5h0m-9-5h0m-44 5h0m-3 0h0m-46-4h0m-2 4h0m-15-1h0m-1-1h0m-4-2h0m-2 2h0m-6-3h0m-2 4h0m-2-4h0m-8 3h0m-2 4h0m4 3h0m4 1h0m0-5h0m0 4h0m13-1h0m4-2h0m10 2h0m1-2h0m3-1h0m3 5h0m4-2h0m13-1h0m8 2h0m3-1h0m9-2h0m13 4h0m6 0h0m18-2h0m21-2h0m32 3h0m3-4h0m13 4h0m8-2h0m1-1h0m5 1h0m14-2h0m7 2h0m8 2h0m4-3h0m6 3h0m5 0h0m3 0h0m1 0h0m6-4h0m15 4h0m2-3h0m6 1h0m6 1h0m15 1h0m16 0h0m10-4h0m19 4h0m5-2h0m2 2h0m2-3h0m1 2h0m20-2h0m8 3h0m3-3h0m-33 6h0m-5 3h0m-3 0h0m-11 0h0m-7 1h0m-11-5h0m-32 3h0m-1 1h0m-6-2h0m-2 0h0m-6 3h0m-10 0h0m-22-2h0m-2-1h0m-1 0h0m-7 2h0m-7-2h0m-34 1h0m-30-1h0m-2-2h0m-16 4h0m-6-3h0m-1 4h0m-19 0h0m-12 0h0m-15-3h0m-7 0h0m-10 3h0m-11-5h0m-4 0h0m-5 2h0m-7 3h0m-1-5h0m-3 2h0m-13 2h0m0-1h0m-2 2h0m-4-5h0m-5 5h0m-19 6h0m6-1h0m16 0h0m13-1h0m1-1h0m21-2h0m1 1h0m5 1h0m2 2h0m20-2h0m13-2h0m13 2h0m5 0h0m11 0h0m6 1h0m31-2h0m6 1h0m24 3h0m49-1h0m6-3h0m12 1h0m9-1h0m6 0h0m6 0h0m12-1h0m26 0h0m3 1h0m22 0h0m3-1h0m1 3h0m1 0h0m32-2h0m-46 7h0m-2 1h0m-1 1h0m-12-3h0m-7 2h0m-11-3h0m-8 2h0m-3 0h0m-39-2h0m-4 5h0m-3-5h0m-8 4h0m-1-4h0m-4 5h0m-16-1h0m-143 0h0m-1-4h0m-8 4h0m-17-4h0m-13 5h0m-12 0h0m-9-2h0m-7 5h0m8-1h0m2 1h0m5 1h0m12 2h0m3-5h0m184 0h0m22 3h0m4 0h0m15 2h0m12-5h0m7 2h0m75 1h0m12-1h0m0-2h0m5 0h0m2 2h0m10 2h0m6 0h0m-26 4h0m-24 3h0m-6 0h0m-16-5h0m-21 3h0m-28-3h0m-223 3h0m-3 0h0m-12-2h0m-4-1h0m-13 1h0m-1 2h0m-8-1h0m-15 7h0m15 2h0m8-2h0m6-3h0m299 1h0m33 0h0m2 0h0m11-1h0m4 2h0m17-2h0m-360 6h0m-6 1h0m-7 0h0m-2 4h0m-8-5h0m-11 3h0m-1 1h0m1 3h0m6 0h0m4 2h0m6-2h0m1 1h0m6 1h0m37 7h0m-3-4h0m-7 1h0m-9 2h0m-17 1h0m-1-4h0m-7 0h0m19 8h0m10 1h0m7-3h0m12 4h0m1-2h0m-1 5h0m-5 4h0m0-1h0m-5-3h0m-40 0h0m-2 4h0m-2-5h0m-5 0h0m3 9h0m2-1h0m6 3h0m4-3h0m1-1h0m30 9h0m-39-1h0m8 8h0m11-4h0m17 8h0m-11 2h0m-8-3h0m-12 18h0"/>
<path stroke="#22B12C" d="M198 113h0m37 11h0m23 17h0m-56 2h0m179 10h0m-70 2h0m-2-1h0m62 7h0m32-5h0m40 8h0m-96 2h0m-52 6h0m99 1h0m-46 1h0m-68 1h0m-2 3h0m-11 0h0m-4-1h0m-12 1h0m-3 0h0m-32-2h0m-20-2h0m-35 5h0m25 2h0m29 2h0m5-1h0m34 2h0m4-1h0m11-2h0m25 3h0m19 0h0m128-2h0m-133 5h0m-4 3h0m-6-3h0m-13 3h0m-23 0h0m-3 0h0m-8-2h0m-7-1h0m-1 2h0m-15 0h0m-40-3h0m-9 5h0m-4-2h0m-15-3h0m-26 10h0m49-1h0m1-3h0m5 4h0m3 1h0m6-4h0m8 0h0m31 2h0m16-1h0m1 0h0m14 1h0m7-1h0m16 2h0m2-1h0m54-3h0m23 0h0m11 5h0m81 4h0m-29 0h0m-50 1h0m-4-2h0m-9 3h0m-16 0h0m-10-3h0m-10 1h0m-3-2h0m-6 2h0m-21 0h0m-17-1h0m-7 2h0m-5 0h0m0-4h0m-3 5h0m-10-1h0m-29-3h0m-1 0h0m-4 0h0m-4-1h0m-25 2h0m-25 3h0m-37 0h0m-8-1h0m-6-3h0m-16 2h0m-9 5h0m25 0h0m21-2h0m2 4h0m11-4h0m40 2h0m113-1h0m19 2h0m6-2h0m3 4h0m14-1h0m16 0h0m19-4h0m16 1h0m2 4h0m1 0h0m4-1h0m40 1h0m4 0h0m14-1h0m-11 6h0m-16-3h0m-12 1h0m-51-2h0m-9 2h0m-248 0h0m-17 1h0m15 7h0m253-2h0m53-2h0m1 3h0m12-2h0m0 4h0m27 1h0m-22 3h0m-331-3h0m-14 6h0m40 4h0m26 5h0m-1 2h0m52 9h0m-114-2h0m-8 5h0m-5 28h0m20 3h0m-9 9h0"/>
<path stroke="#EC720E" d="M190 73h0m39 7h0m-42 3h0m-3 0h0m-57 0h0m-6 0h0m-22 5h0m16 0h0m9 0h0m3 0h0m2-2h0m18-1h0m3-1h0m1 4h0m18 1h0m0-3h0m8 3h0m0-1h0m1-4h0m7 3h0m6-1h0m3-1h0m0-1h0m1 3h0m4 1h0m1-1h0m0-3h0m8 5h0m0-2h0m8 2h0m1-2h0m7-2h0m12 1h0m22 9h0m-16-4h0m-7 0h0m-4 2h0m-2 0h0m-2-2h0m-1 3h0m-12-1h0m-1 2h0m-4-1h0m-1-1h0m-3-2h0m-1 2h0m-3-1h0m-6 1h0m-7 2h0m0-4h0m-12-1h0m-5 0h0m-17 0h0m0 2h0m-2 1h0m-4 0h0m-4 1h0m-1-4h0m-2 5h0m-1-2h0m-3-2h0m-2 2h0m-3-1h0m-1 3h0m-10-1h0m-9 1h0m-6-3h0m-2 0h0m-1 0h0m0 1h0m-8-3h0m0 9h0m13 1h0m3-2h0m1 1h0m1 1h0m6-1h0m2-1h0m4 3h0m2-3h0m1-2h0m5 4h0m1-2h0m2-1h0m5 0h0m12 1h0m34-2h0m37 2h0m1 1h0m4 2h0m17 0h0m13 0h0m4 0h0m20 0h0m47 1h0m-2 0h0m-15 5h0m-14 0h0m-2-2h0m-18 1h0m-28-2h0m-1 1h0m-9 1h0m-4-2h0m-126-2h0m-3 1h0m-4 3h0m-11-4h0m-1 5h0m0 2h0m2 2h0m138-3h0m20 0h0m3 3h0m19-1h0m5 3h0m2-1h0m20-2h0m35 0h0m1-1h0m19 4h0m5-3h0m14 8h0m-14-3h0m-8 4h0m-40-5h0m-7 1h0m-10 0h0m-2 0h0m-1 1h0m-5-2h0m-10 1h0m-13 0h0m-3 2h0m-4 1h0m-165-3h0m-1 1h0m-2 3h0m0-5h0m-1 5h0m0 5h0m1-4h0m204 1h0m5-1h0m5 1h0m10-1h0m1 5h0m24-2h0m5-3h0m12 5h0m1-4h0m12-1h0m37 9h0m-9 2h0m-48-1h0m-10-1h0m-62 0h0m-30 1h0m85 2h0m2 0h0m40 4h0m2-1h0m10-2h0m6-1h0m52 0h0m10 9h0m-43-3h0m-1 0h0m-30 0h0m-23 1h0m-10 4h0m-2-2h0m-15 0h0m-9 6h0m9-2h0m5 1h0m17 1h0m36 0h0m1-3h0m9 1h0m59 10h0m-135-3h0m-47 6h0m22 2h0m89 1h0m69-2h0m9 8h0m-125 0h0m-254 2h0m286 4h0m98 0h0m1-1h0m-44 7h0m-18 0h0m-2-1h0m-47-3h0m-57-1h0m-217 4h0m336 4h0m2 6h0m48 9h0m4-1h0"/>
<path stroke="#66F0F0" d="M210 231h0m-54 10h0m34 3h0"/>
<path stroke="#2A6CF8" d="M198 85h0m27 1h0m3 0h0m-57 8h0m-1 1h0m-44 4h0m12 1h0m4 0h0m4-2h0m4-2h0m5 0h0m4 1h0m2-1h0m5 3h0m8 0h0m5 1h0m1 1h0m11-3h0m1-2h0m4 2h0m7 0h0m2 3h0m1-3h0m3 0h0m2 0h0m4 3h0m2-1h0m14-2h0m1 0h0m24 1h0m60 7h0m-22 1h0m-2-1h0m-5-2h0m-4-1h0m-6 3h0m-3-4h0m-35 3h0m-12-2h0m-13-1h0m-3 5h0m-2-2h0m-2-1h0m-3 1h0m-5 0h0m-3-3h0m-20 5h0m-1-2h0m-1 0h0m-3-1h0m-3 0h0m-1 3h0m-7-2h0m-1 0h0m-2 2h0m-4-3h0m-8 1h0m-1-3h0m0 1h0m-4 0h0m-4 0h0m-4 3h0m-17-1h0m-6 1h0m-2-3h0m-11 7h0m2 3h0m3-5h0m11 0h0m12 2h0m1-1h0m1 0h0m5 2h0m3 0h0m0-1h0m4-2h0m5 0h0m1 3h0m3 2h0m1-2h0m1 1h0m1 1h0m6-2h0m18-1h0m6-1h0m3-1h0m4 4h0m7 1h0m5 0h0m1-3h0m3 0h0m4-2h0m26 3h0m2-1h0m4-1h0m14 3h0m4-3h0m45 4h0m9-2h0m24-2h0m3 3h0m4 1h0m-6 3h0m-27 2h0m-17-1h0m-38 0h0m-8 1h0m-14 0h0m-30-2h0m-2 2h0m-12-1h0m-21-1h0m-11 1h0m-3 0h0m-1 0h0m-13 0h0m-3-3h0m-1 5h0m-1-2h0m-3-3h0m-6 1h0m-3-1h0m-4 5h0m-1-4h0m0 4h0m-6-4h0m-2 2h0m-10 2h0m-1-3h0m-3-2h0m-4 7h0m2 0h0m5-1h0m3 3h0m2 0h0m1-3h0m4 2h0m3 2h0m2 0h0m2-2h0m3-2h0m3 5h0m5-3h0m48 0h0m4-2h0m33 3h0m26-3h0m2 0h0m7 0h0m10 4h0m12-3h0m49 0h0m9 3h0m27-3h0m26-1h0m47 10h0m-3 1h0m-1-2h0m-49 1h0m-26 1h0m-13-3h0m-37 1h0m-9 0h0m-34-3h0m-4 4h0m-12-3h0m-21 0h0m-75 1h0m-6 0h0m-33 3h0m-1-1h0m-2-2h0m-1-1h0m-2 0h0m-6 1h0m-1 2h0m-1 7h0m2-3h0m3 3h0m5-5h0m3 0h0m1 2h0m2 1h0m9 0h0m8-3h0m114 0h0m1 2h0m36 3h0m17-2h0m61-2h0m6 2h0m19-3h0m33 4h0m6 1h0m-10 3h0m-4 3h0m-67 0h0m0-5h0m-21 2h0m-28-2h0m-22 1h0m-7-1h0m0 3h0m-11-1h0m-35 3h0m-97-2h0m-11-3h0m-7 0h0m-2 5h0m0-5h0m-1 2h0m-4 3h0m-1 6h0m3-2h0m1-2h0m2 0h0m3 1h0m3-2h0m65 3h0m79-3h0m100 5h0m4-4h0m9-1h0m26 0h0m27 1h0m3 6h0m-27 1h0m-54 2h0m-9-4h0m-52 2h0m0-1h0m-109 4h0m-68-5h0m-1 1h0m-2 2h0m-2-2h0m-2 0h0m0 8h0m2 1h0m3-4h0m1 3h0m169 2h0m19-5h0m8 3h0m3 1h0m9-3h0m38 4h0m7-5h0m6 1h0m9 1h0m15-1h0m13 4h0m22-4h0m0 4h0m9-1h0m35-4h0m-43 8h0m-10 2h0m-32-2h0m-16 0h0m-10 3h0m-12-5h0m-4 1h0m-176 3h0m-5-4h0m-61 0h0m0 4h0m1 4h0m200 3h0m51-1h0m5-4h0m10 3h0m23-2h0m89-1h0m13 1h0m-7 5h0m-27 2h0m-14-2h0m-12 4h0m-2-1h0m-66-2h0m-8 0h0m-16-1h0m-43 1h0m-24-1h0m-170 0h0m117 9h0m28 0h0m70-2h0m45 0h0m97-1h0m13 1h0m-44 8h0m-110-2h0m-55 2h0m-68 0h0m-7-1h0m-1 1h0m-28-1h0m-59 2h0m-1 4h0m8-1h0m30 4h0m89-2h0m115 2h0m72-3h0m54 0h0m17-1h0m-57 8h0m-87 1h0m-13-3h0m-15 4h0m-16 0h0m-22 0h0m-8-4h0m-3 3h0m-11 0h0m-52 1h0m-101-4h0m103 6h0m3-1h0m96 2h0m20 1h0m95 2h0m48 3h0m-76-1h0m-2 4h0m-221-5h0m299 11h0m10 2h0m-36-1h0m-7 2h0m-316 1h0m-13 6h0m3 30h0m-4 4h0m0 3h0m3 17h0m-3-2h0m7 14h0m-3 1h0m-4-3h0m-1 1h0m2 4h0m19 8h0m-15 0h0m-5 5h0"/>
<path stroke="#F3324A" d="M235 88h0m-77 25h0m29-3h0m37 3h0m2-3h0m19 3h0m84-1h0m-43 7h0m-6-2h0m-13 1h0m-14 1h0m-24-4h0m-3 1h0m-1 0h0m-18-1h0m-12 3h0m-7 1h0m-4-5h0m-9 1h0m-1 3h0m-4-1h0m-8 1h0m-2 1h0m-2-5h0m-22 4h0m-15 3h0m2 0h0m1 1h0m4 1h0m12 0h0m6 0h0m4 1h0m8-3h0m0 1h0m2 0h0m2 3h0m8-4h0m19-1h0m3 2h0m4 3h0m7-3h0m27 2h0m11-4h0m5 1h0m20 4h0m5-1h0m6-3h0m0 4h0m15 0h0m2 0h0m15-3h0m1 3h0m6 0h0m13 0h0m1-1h0m77-1h0m12 3h0m-56 5h0m-2-1h0m-2-2h0m-29 0h0m-4 0h0m-7 1h0m0-1h0m-2 1h0m-17 0h0m-18 2h0m-1-3h0m-1 0h0m-19 1h0m0-3h0m-4 2h0m-25-2h0m-2 4h0m-12 1h0m0-5h0m-5 2h0m-31 1h0m-4 0h0m-8 2h0m-6-1h0m0-4h0m-12 3h0m-1 0h0m-4 1h0m0 1h0m-10-5h0m-4 0h0m-4 2h0m-1 1h0m-9-1h0m-10 5h0m8 2h0m0-2h0m8-1h0m4 5h0m10-1h0m3-3h0m1 4h0m1 0h0m13-1h0m3-2h0m5-1h0m1 4h0m10 0h0m2-5h0m3 4h0m4-1h0m14-1h0m2-1h0m0 3h0m5-4h0m2 0h0m2 1h0m5 4h0m4 0h0m21-1h0m26-2h0m1-2h0m15 5h0m1-1h0m6 0h0m6-2h0m1 1h0m3-3h0m12 4h0m13-1h0m8 2h0m8-5h0m8 0h0m30 4h0m10 1h0m16-3h0m14 2h0m22 7h0m-2-1h0m-6 0h0m-5 0h0m-4-3h0m-1 1h0m-9 3h0m-2-4h0m-20-1h0m-18 5h0m-9-2h0m-3-2h0m-5 1h0m-8-2h0m-1 3h0m-7-1h0m-10 2h0m-2-3h0m-1 1h0m-3 0h0m-12 0h0m-12 2h0m-6-2h0m-3-1h0m-1 0h0m-15 4h0m0-5h0m-1 2h0m-3 3h0m-32-1h0m-5-1h0m-2 0h0m-10-2h0m-9 1h0m-7-1h0m-1 3h0m-9-4h0m-11 4h0m-5-3h0m-1 0h0m-7 1h0m-2-2h0m-6 0h0m-1 5h0m-5-3h0m-8-1h0m-3 2h0m-21 0h0m-3-3h0m-1 2h0m-9-1h0m-2 4h0m-5 0h0m-5 2h0m1 0h0m0-1h0m1 1h0m1 2h0m2 0h0m7 1h0m2 1h0m3-4h0m8 4h0m1-5h0m3 3h0m8-2h0m1 0h0m9-1h0m5 0h0m0 2h0m1 1h0m3 2h0m2-1h0m3-2h0m0-2h0m2 0h0m3 3h0m1-2h0m0-1h0m1 4h0m17-2h0m9 3h0m9 0h0m4-2h0m1 0h0m2-2h0m4 4h0m13-3h0m1 1h0m0-1h0m6 2h0m7-2h0m2 2h0m2 0h0m4-3h0m1 2h0m11-3h0m0 5h0m7 0h0m14-1h0m15-1h0m11 0h0m4 1h0m1-4h0m13 5h0m5-1h0m2 0h0m8 1h0m20-1h0m12-2h0m1-1h0m0-1h0m30 0h0m57 11h0m-15-5h0m-3 0h0m-2 0h0m-34 3h0m-12-1h0m-13 1h0m-4-2h0m-21 1h0m-20 2h0m-8-3h0m-20 3h0m-11 0h0m-3-4h0m-4 0h0m-4 5h0m-2-4h0m-12 1h0m-6-1h0m-18 4h0m-14-5h0m-3 4h0m-1-1h0m-9-3h0m-2 4h0m-2 0h0m-6-3h0m0 3h0m-2 0h0m-4-4h0m-3 2h0m-9 0h0m-1 3h0m-4-4h0m-8 4h0m-3-5h0m-1 5h0m0-4h0m-2-1h0m-2 3h0m-1-2h0m-6 2h0m-13 2h0m-3-4h0m-1 3h0m-2-1h0m-3 1h0m-3 1h0m-1-2h0m-1-3h0m-3 1h0m0-1h0m-1 3h0m-5 1h0m-1 0h0m-8 1h0m-1-4h0m-2-1h0m-3 1h0m-6 4h0m-4-1h0m-1-3h0m-4 0h0m-4-1h0m-2 8h0m3 1h0m2-2h0m2 2h0m3-3h0m3 3h0m2-2h0m2 2h0m1-3h0m3 0h0m8 2h0m4-1h0m2 4h0m1-5h0m3 5h0m3-1h0m3-2h0m10 1h0m1-2h0m4 0h0m3-1h0m2 5h0m2-3h0m4-1h0m7 0h0m3 2h0m7 0h0m22-1h0m3-2h0m5 4h0m1 0h0m5-1h0m6 0h0m6 2h0m21-2h0m3-1h0m0 3h0m4 0h0m11-1h0m2 0h0m2-2h0m4 2h0m3 1h0m6-4h0m6 0h0m6 3h0m3 1h0m24-5h0m3 1h0m5 2h0m0-3h0m2 2h0m4 0h0m3 1h0m1-3h0m17 0h0m3 4h0m23-2h0m1 0h0m18 2h0m7 0h0m4-3h0m24 1h0m17 0h0m1 2h0m4 7h0m-9-5h0m-4 1h0m-5 3h0m-4 0h0m-11-4h0m-12 4h0m-25 1h0m-1-2h0m-14 0h0m-4 2h0m-13-3h0m-2-2h0m-2 0h0m-14 0h0m-1 3h0m-9 1h0m-14-2h0m-7 1h0m-4 2h0m-3-3h0m-12 1h0m-4 1h0m-4-2h0m-7-1h0m-9 2h0m-3 0h0m-8 2h0m-5-4h0m-28-1h0m-2 0h0m-3 4h0m-8-4h0m-8 1h0m-4 4h0m-1-2h0m-1 1h0m-9-1h0m-6-1h0m-2 1h0m-4-3h0m-8 1h0m-7 1h0m-1 3h0m-14-1h0m-1-2h0m-3 1h0m-1-2h0m-3 3h0m-8-4h0m0 4h0m-1-4h0m-1 2h0m-1 2h0m0-1h0m-1 1h0m-6-3h0m-7 4h0m0-5h0m-2 4h0m-4-3h0m-1 4h0m-1-1h0m-2 0h0m-6-4h0m-1 2h0m-3-2h0m0 10h0m2-3h0m5-1h0m5 3h0m0-1h0m2-1h0m2 4h0m2-4h0m1-1h0m0 3h0m1-2h0m3 3h0m4-1h0m4 0h0m2 1h0m4-3h0m1 0h0m0 4h0m1-3h0m16-1h0m12 0h0m9 3h0m6-4h0m22 2h0m2 2h0m3 1h0m8-3h0m5 3h0m3-5h0m8 4h0m8-4h0m9 0h0m18 2h0m2 0h0m8 3h0m4-2h0m6-3h0m1 0h0m3 3h0m2 1h0m13-4h0m9 0h0m8 3h0m9 0h0m26-1h0m14 3h0m14-1h0m1 1h0m15-5h0m13 5h0m3-1h0m4 0h0m11-1h0m5-1h0m15 0h0m15 0h0m18 3h0m-17 4h0m-1 2h0m-2-2h0m-2 0h0m0 1h0m-7 0h0m-8-1h0m-14-1h0m-9-1h0m-4 1h0m-5 0h0m-1-2h0m-13 4h0m-7-2h0m-3-2h0m-5 0h0m-12 5h0m-9-2h0m-2 2h0m-1 0h0m-12-3h0m-1 2h0m-6-3h0m-11 3h0m-9-4h0m-5 3h0m-20 2h0m-4-5h0m-1 1h0m-5 3h0m-2-3h0m-11 1h0m0 3h0m-4-3h0m-14 2h0m-1 1h0m-9-4h0m-1-1h0m-14 2h0m-2-1h0m-18-1h0m-1 3h0m-1 2h0m-7-2h0m0-1h0m-1 1h0m-8-1h0m-2 0h0m-1 0h0m-11 2h0m-4 1h0m-3-1h0m-1-1h0m-4-2h0m0 3h0m-4-1h0m-3 2h0m-22 0h0m-2-3h0m-2 3h0m-12-4h0m-1 4h0m-2 0h0m-2 0h0m-2-4h0m-4 1h0m-2 0h0m-1-2h0m-1 4h0m-3-4h0m-4 1h0m-2 4h0m-2-3h0m-2-1h0m-2 10h0m4 0h0m1-3h0m2 1h0m2-1h0m1 1h0m0-2h0m3-1h0m4 1h0m11 2h0m3 1h0m2-2h0m1-1h0m0-1h0m3 3h0m1-1h0m10 3h0m10-5h0m14 1h0m12 0h0m2 3h0m5-1h0m27 1h0m2 1h0m3-3h0m12-2h0m5 4h0m7-4h0m25 4h0m8-3h0m28 2h0m4-3h0m3 2h0m11 2h0m0-1h0m3-3h0m4 3h0m2-1h0m3-1h0m9-1h0m30 2h0m8 0h0m9 2h0m3 0h0m38-1h0m29-1h0m8-1h0m25 10h0m-19 0h0m-1-3h0m-11 3h0m-1-3h0m-5 3h0m-23-4h0m-3-1h0m-10 1h0m-1 0h0m-3 3h0m-7-2h0m-3 3h0m-4-2h0m-27-1h0m-1-2h0m-12 1h0m0 4h0m-3 0h0m-29-4h0m-2 2h0m-2 1h0m-3-1h0m-6 2h0m-9-4h0m-1 1h0m-6 2h0m-16-1h0m-9-1h0m-15 0h0m-7-2h0m-6 2h0m-6 0h0m-1 3h0m-15-5h0m-2 0h0m-2 0h0m-13 3h0m-6-1h0m-2-1h0m-6 2h0m-7 2h0m-9-4h0m-9 0h0m-1 0h0m-16 3h0m-7 0h0m-4 0h0m-3-2h0m-1-2h0m-5 3h0m-9 2h0m-1-2h0m-12 2h0m-2-3h0m-2-1h0m-3 4h0m0-1h0m-2 0h0m-3 0h0m-7 7h0m8-1h0m5-4h0m4 2h0m14-1h0m5 3h0m12-4h0m7 5h0m1-4h0m4 2h0m6-3h0m5 0h0m2 3h0m10 1h0m5 1h0m22-1h0m1 0h0m0-4h0m3 0h0m30 5h0m6 0h0m4-5h0m8 1h0m0 3h0m9-4h0m17 1h0m27 2h0m22 2h0m9-3h0m2-1h0m9 2h0m5-1h0m8 0h0m9 2h0m6 1h0m2-1h0m11 0h0m11 1h0m27 0h0m2-2h0m2-1h0m1 0h0m4 2h0m3-4h0m0 5h0m1-3h0m18-2h0m1 3h0m9 2h0m4 0h0m5-4h0m11 8h0m-11-2h0m-6 4h0m-14-3h0m-13-2h0m-6 1h0m-14 3h0m-9-3h0m-11 3h0m-7-4h0m-16 1h0m-1 0h0m-15 2h0m-39 1h0m-43-4h0m-74 1h0m-14-1h0m-26 3h0m-4 0h0m-12 2h0m-6-2h0m-3 2h0m-17-5h0m-6 1h0m-3-1h0m-1 2h0m-4-1h0m-1 1h0m-7-1h0m-5 4h0m0-2h0m-1 0h0m-8-3h0m9 8h0m4 3h0m7-2h0m3-1h0m2 3h0m10 0h0m5-1h0m1 0h0m7-3h0m0 4h0m4-2h0m4 2h0m191-3h0m20-1h0m0 2h0m2-3h0m5 0h0m5 3h0m2 2h0m28-5h0m7 4h0m7 0h0m6-4h0m5 5h0m12-1h0m7 0h0m4-4h0m1 2h0m0-1h0m12 4h0m26-1h0m-4 3h0m-4 0h0m-5 0h0m-52 2h0m-7-3h0m-2 3h0m-9 1h0m-241-4h0m-14 5h0m-2-5h0m-24 0h0m-5 5h0m-7 0h0m-6-2h0m-4 2h0m-1-1h0m-1-4h0m-9 2h0m0 8h0m12-4h0m8 3h0m6-1h0m11 0h0m15 3h0m4-4h0m7 1h0m274-1h0m22-1h0m4 0h0m10 0h0m9 2h0m-328 7h0m-1 1h0m-3-4h0m0 4h0m-13-3h0m-22 4h0m-15-3h0m0 5h0m20 3h0m15 0h0m2-1h0m14 7h0m-21-2h0m-11 3h0m0 6h0m2 0h0m2-1h0m12 5h0m-3-3h0m-19 2h0m1 8h0m39-3h0m12 1h0m1 4h0m-3 3h0m-11-1h0m-25-2h0m-21 2h0m6 4h0m33 6h0m-10 2h0m-19-1h0m3 14h0"/>
<path stroke="#22B12C" d="M167 123h0m33 1h0m20 3h0m-10 2h0m10 4h0m13 3h0m43 5h0m-25 1h0m-52-2h0m2 7h0m43-3h0m27 3h0m77 0h0m40 8h0m-16-3h0m-51 2h0m-3-3h0m-98 2h0m91 3h0m71 3h0m24 0h0m-50 6h0m-19 0h0m-93 4h0m35 4h0m171-2h0m-72 6h0m-134 2h0m-15-2h0m0 2h0m-37 0h0m-14 0h0m-12 4h0m13 0h0m44 0h0m17 2h0m20-1h0m17-3h0m7 3h0m15 0h0m53 1h0m12-1h0m74 1h0m-87 1h0m-44 5h0m-15-2h0m-3-3h0m-13 0h0m-7 1h0m-8 4h0m-2-5h0m-34 0h0m-5 5h0m-11-5h0m-4 4h0m-10 0h0m-3-1h0m-78 8h0m19-2h0m9 1h0m8 1h0m16-5h0m22 5h0m5-2h0m40-1h0m13 2h0m5 0h0m3 0h0m3-3h0m9 1h0m0 2h0m13-1h0m30 0h0m19-1h0m11-2h0m8 5h0m53-3h0m14 3h0m3 5h0m-24 0h0m-13 0h0m-18 0h0m-9 1h0m-6-1h0m-2-3h0m-3-1h0m-4 0h0m-1 1h0m-3-1h0m-2 1h0m-4 1h0m-2-2h0m-8 3h0m-6-1h0m-2 3h0m-15 0h0m-5-4h0m-17-1h0m-24 2h0m-15 3h0m-10-3h0m-7 2h0m-11 0h0m-2-1h0m-17 0h0m-8 1h0m-6-2h0m-68 8h0m16-1h0m1-2h0m22 3h0m7-3h0m45-1h0m8 0h0m84 3h0m15-2h0m9 0h0m7 1h0m4-1h0m26 0h0m5 1h0m33-1h0m19 0h0m11 3h0m0 1h0m2-5h0m8 5h0m7-5h0m4 4h0m25 0h0m15 1h0m-30 6h0m-11 0h0m-48-4h0m-12 3h0m-8 0h0m-5 1h0m-14-5h0m-197 3h0m-24-2h0m-15 3h0m-3-3h0m-14 9h0m30-1h0m239-2h0m48 0h0m32 6h0m-11 0h0m-301 4h0m-42-2h0m68 9h0m44 11h0m34-3h0m14 6h0m-6 2h0m-126 2h0m75 1h0m-1 13h0m-3 15h0m29-4h0"/>
<path stroke="#EC720E" d="M155 77h0m66 6h0m-5-1h0m-26 0h0m-8 0h0m-1 1h0m-13-1h0m-45 1h0m-8 0h0m-3-4h0m-3 4h0m-4 5h0m6 0h0m6 1h0m5-2h0m5 2h0m1-1h0m2-3h0m0 3h0m1-3h0m1 3h0m1-3h0m0 2h0m1-1h0m0 2h0m2-4h0m2 5h0m1-1h0m1-3h0m3 0h0m1 3h0m4-3h0m1 3h0m2-2h0m1 1h0m0-3h0m3 4h0m3-2h0m1-1h0m3 0h0m1 4h0m1-2h0m3-1h0m1 0h0m5-1h0m0-1h0m2 3h0m0 1h0m1-3h0m2 1h0m0-1h0m3 1h0m0 2h0m5 0h0m2-1h0m3 1h0m2-3h0m0 4h0m14-5h0m2 3h0m1 0h0m24 0h0m4-1h0m-7 4h0m-9 2h0m-5 1h0m-1 0h0m-14 2h0m-3-1h0m-2 0h0m-3 0h0m-8-3h0m-1 3h0m-1-4h0m-1 4h0m-1-4h0m-1 1h0m-1 4h0m-5-1h0m-1 1h0m-4-3h0m-1-1h0m-1 3h0m-1 1h0m-1-1h0m0-4h0m-9 4h0m-1-2h0m-1-1h0m0 4h0m-2-1h0m-5 1h0m-1-3h0m-2 2h0m-3-4h0m-3 1h0m0 4h0m-1-2h0m-5-3h0m-4 2h0m-2 0h0m0 2h0m-2 1h0m0-3h0m-2-1h0m-3 3h0m0-3h0m-3 2h0m0 2h0m-1 0h0m-1-3h0m-1-1h0m-2 0h0m-2 2h0m0-1h0m-2 1h0m-1 1h0m-3 0h0m-9-2h0m-1-2h0m2 11h0m0-3h0m0 2h0m3 0h0m2-1h0m1 1h0m1-4h0m1 2h0m0-1h0m1 3h0m2-4h0m3 1h0m4 0h0m1 0h0m3 0h0m2-1h0m2 4h0m8-1h0m5-3h0m7 2h0m4-1h0m2 0h0m3 3h0m1-4h0m4 3h0m6-1h0m3-1h0m3 0h0m6 0h0m3-1h0m4 0h0m28 4h0m10 1h0m1-3h0m1 0h0m5 2h0m4-1h0m5 0h0m8-1h0m1 0h0m5 2h0m0-3h0m8 3h0m9 0h0m60 7h0m-31-3h0m-5 1h0m-8 0h0m-12-1h0m-12 0h0m-9 1h0m-3 0h0m-6-1h0m-9 0h0m-125 0h0m-2 1h0m-2-3h0m-3 1h0m0 4h0m-2-2h0m-3-3h0m0 4h0m-1 1h0m-1-2h0m-2 7h0m1 0h0m1-1h0m4-2h0m147 4h0m21-4h0m17 4h0m1-3h0m24-1h0m1 3h0m0 1h0m9-1h0m16 0h0m13-1h0m40 6h0m-21 0h0m-22-3h0m-3 4h0m-7 0h0m-16-3h0m-5-1h0m-14 4h0m-15-1h0m-17-3h0m-2 5h0m-172-1h0m-1-2h0m-1 5h0m2-1h0m191 5h0m6-2h0m1 0h0m11 2h0m85-4h0m16 0h0m3 4h0m42 5h0m-5 1h0m-15 0h0m-51-3h0m-1-2h0m-9 1h0m-33 2h0m-7 2h0m-10-1h0m-13-1h0m-1-2h0m-6-1h0m-52 0h0m-155 1h0m0 2h0m0 2h0m0-1h0m0 4h0m136 1h0m30-3h0m16 1h0m7 2h0m3 0h0m67-3h0m21 2h0m27 3h0m8 0h0m24-3h0m-25 6h0m-47 3h0m-14-3h0m-6-1h0m-248 2h0m0-1h0m135 5h0m28 3h0m48-4h0m102 3h0m5 1h0m2-1h0m30-1h0m8-1h0m21 7h0m-12-1h0m-25 4h0m-6-4h0m-1 1h0m-5-2h0m-38 6h0m45 5h0m0-4h0m49 10h0m-27-1h0m-24-2h0m-13-2h0m-15 2h0m-34 0h0m-11 0h0m-48 1h0m-54 1h0m-162 7h0m239-1h0m50-3h0m44 2h0m2 0h0m54-3h0m-45 9h0m-84-1h0m-260-1h0m335 13h0m-25 0h0"/>
<path stroke="#66F0F0" d="M178 220h0m43 5h0m33 8h0m-103 5h0m46 4h0m56-1h0"/>
<path stroke="#2A6CF8" d="M204 84h0m1 3h0m16 8h0m-15-1h0m-15 0h0m-29 1h0m-49 6h0m2-1h0m1 0h0m1 1h0m6-1h0m0-1h0m1 2h0m19-2h0m1-2h0m4 4h0m10-4h0m3 4h0m3-3h0m0 1h0m6-1h0m2 1h0m12-3h0m5 3h0m28-1h0m5-2h0m7 3h0m38-2h0m8 1h0m9 2h0m11 5h0m-10 2h0m-27 0h0m-16-2h0m-12-1h0m-1 0h0m-3-2h0m-1 3h0m-19-3h0m-4 0h0m-5 0h0m-9 2h0m-2-1h0m-4-1h0m-2 5h0m-6-5h0m-8 5h0m-4 0h0m0-5h0m-7 0h0m-1 4h0m-3-1h0m-7 1h0m-1-4h0m-8 4h0m-1 1h0m-3 0h0m0-5h0m-4 3h0m-2 0h0m0-1h0m-2-2h0m-8 2h0m-1 0h0m-9 1h0m-4 1h0m2 5h0m0 2h0m1-2h0m1 2h0m1 0h0m1-5h0m3 1h0m1 2h0m4 0h0m1 2h0m8-2h0m1 2h0m2-2h0m2 2h0m7-1h0m3 0h0m4 1h0m1 0h0m0-5h0m5 3h0m3-1h0m1 1h0m0 2h0m0-5h0m1 3h0m2-2h0m1-1h0m3 3h0m2 0h0m3 1h0m1-3h0m1 0h0m2 0h0m3 0h0m2 2h0m36 2h0m3-4h0m19 0h0m1 4h0m25-4h0m11 2h0m29-3h0m61 11h0m-4-2h0m-32-1h0m-12 3h0m-30-5h0m-7 0h0m-5 4h0m-6-3h0m-19 1h0m-6-2h0m-12 3h0m-17-3h0m-4 5h0m-14-2h0m-5-1h0m-4 3h0m-1-1h0m-6 1h0m-7-5h0m-2 5h0m-9 0h0m0-5h0m-2 3h0m-7 1h0m-3-3h0m-1 0h0m0 4h0m-20-1h0m-2 0h0m-7-2h0m-1 2h0m-2-2h0m0 3h0m0-5h0m-3 4h0m-3-3h0m-9 1h0m-4 8h0m7-2h0m3 3h0m22-4h0m3 3h0m2-3h0m2 1h0m2 0h0m3-2h0m0 3h0m2 0h0m3-3h0m4 4h0m3-2h0m2 0h0m0-2h0m1 4h0m3-1h0m1-3h0m10 0h0m5 2h0m2-1h0m24 0h0m58-1h0m9 5h0m12-5h0m3 4h0m3 0h0m35-1h0m19 1h0m29-3h0m11 3h0m13-4h0m35 10h0m-5-3h0m-84 3h0m-12-3h0m0 2h0m-17 0h0m-21-1h0m-6-2h0m-6 4h0m-6-2h0m-3 3h0m-4-4h0m-2 2h0m-11-3h0m-16 5h0m-2-5h0m-82 1h0m-3-1h0m-19 3h0m-2-1h0m-4 3h0m-1-2h0m-1-1h0m-5 3h0m-2 0h0m-5-4h0m-3 2h0m-7 0h0m-1 1h0m-2 1h0m0-5h0m-4 10h0m3-4h0m2 2h0m3-2h0m2 1h0m0 3h0m2 0h0m0-1h0m6-3h0m13 0h0m4 0h0m6 0h0m116 5h0m11-2h0m4-1h0m3 1h0m5-2h0m52-1h0m15 4h0m20-2h0m82 2h0m4-4h0m0 3h0m1 0h0m10 4h0m-18 1h0m-10-1h0m-32 0h0m-3 0h0m-4 3h0m-43 0h0m-23 1h0m-15 0h0m-3 0h0m-2-3h0m-11 1h0m-18-2h0m-1 3h0m0-1h0m-4 2h0m-12-3h0m-1 3h0m-8-5h0m-9 2h0m-37 0h0m-83 3h0m-7-4h0m-1 2h0m-2-2h0m-4 1h0m-1-2h0m-2 2h0m-1 0h0m-1-1h0m-5 2h0m0-1h0m0-1h0m-3 0h0m-1 4h0m-1 1h0m0 4h0m2 0h0m0-1h0m6 1h0m8 0h0m100-3h0m2 0h0m37 4h0m15-5h0m10 0h0m12 3h0m3 2h0m3-3h0m7-2h0m9 2h0m13-2h0m7 1h0m16 0h0m45 0h0m2 3h0m2 0h0m6-1h0m4-1h0m7 1h0m10 1h0m10-1h0m45 6h0m-67 0h0m-30 1h0m-4-4h0m-3 4h0m-13-1h0m-39-2h0m-8 2h0m0-2h0m-5 0h0m-10 2h0m-12-2h0m-3 2h0m-25 2h0m-22-2h0m-128 1h0m-4-1h0m-2 0h0m-3 1h0m-2-1h0m0 1h0m-1-2h0m0 3h0m-1 2h0m1 1h0m1 3h0m0-1h0m1-4h0m3 5h0m2 0h0m66-3h0m142-1h0m3 0h0m9 3h0m22-4h0m29 5h0m64-1h0m29 0h0m14 5h0m-36-2h0m-8 2h0m-30 1h0m-37-3h0m-9-1h0m-33 0h0m-2 1h0m-2 1h0m-2 0h0m-1-1h0m-154 3h0m-66-3h0m-3 1h0m0 2h0m-1-3h0m-1 2h0m1 4h0m0 4h0m1-2h0m1 2h0m12-1h0m112 0h0m75-2h0m44-1h0m28 1h0m23-1h0m23 0h0m21 3h0m4-1h0m40 2h0m12-3h0m-39 6h0m-21-1h0m-26 4h0m-185-1h0m0-2h0m-28 1h0m-97-2h0m0 4h0m0-2h0m-2 7h0m1 1h0m0-5h0m59 0h0m16 5h0m68-1h0m7-4h0m102 2h0m52-1h0m10-1h0m9 1h0m14 4h0m22 0h0m0 2h0m-3-1h0m0 4h0m-116-3h0m-131-1h0m-91 3h0m-18-2h0m0 4h0m-1-5h0m0 6h0m1 1h0m263 1h0m33 1h0m68-2h0m11-1h0m7 11h0m-20 0h0m-36 0h0m-181-1h0m-1 1h0m-36-3h0m-6 2h0m-102-3h0m-1 1h0m0 3h0m120 2h0m2 2h0m39-3h0m24 1h0m24-1h0m1 4h0m30 1h0m49-5h0m7 0h0m57 8h0m-63 2h0m-24-3h0m20 5h0m6 0h0m1 0h0m1 4h0m69 1h0m-22 3h0m-332-2h0m-2 5h0m0 10h0m-1 15h0m-5 10h0m4 11h0m-4 1h0m1 3h0m2 2h0m-1 13h0m3 3h0m-4-1h0m0 11h0m2-5h0m-2 14h0m0 3h0"/>
<path stroke="#F3324A" d="M250 95h0m17 6h0m5 0h0m-103 11h0m20-3h0m2 4h0m2-2h0m12 1h0m6 0h0m10-1h0m10-2h0m79 0h0m10 1h0m62 8h0m-20-1h0m-2 0h0m-4 0h0m-64 2h0m-8-1h0m-23 1h0m-12-1h0m-13-3h0m-14 4h0m-12-1h0m-4 0h0m-7-4h0m-12 0h0m-3 4h0m-12-4h0m-8 1h0m-12 4h0m-14-1h0m-14 7h0m4 0h0m12-3h0m1-2h0m5 0h0m1 5h0m20-3h0m3 1h0m5-2h0m2-1h0m0 1h0m21 3h0m6-4h0m5 0h0m5 3h0m8 0h0m4 0h0m1-3h0m16 4h0m1-3h0m1 4h0m5 0h0m6-5h0m13 5h0m17 0h0m4 0h0m5-5h0m3 2h0m61 5h0m-3 2h0m-8-2h0m0-1h0m-8 1h0m-9 0h0m-3 0h0m-1 3h0m-5 1h0m-2-1h0m-7-2h0m-3 2h0m-5 1h0m-2-1h0m-2-4h0m-1 0h0m-3 5h0m-4-3h0m-3 1h0m-1 2h0m-1-4h0m-11 0h0m-2 2h0m-3 0h0m-5 0h0m-4 1h0m-13 1h0m-10-1h0m-16-2h0m-12 3h0m-6-2h0m-7-2h0m-3 1h0m-10 1h0m-4 2h0m-4-1h0m-1 1h0m-3-1h0m-1 0h0m-14 1h0m-14-3h0m-7 0h0m-3-2h0m-5 3h0m-10 0h0m-3 2h0m-1-2h0m-10 8h0m3-5h0m9 0h0m7 2h0m1 1h0m0 2h0m2-5h0m5 0h0m0 4h0m3 1h0m7-3h0m1 2h0m0-1h0m5-3h0m6 3h0m5 0h0m8-2h0m8 2h0m4 0h0m3 2h0m6 0h0m7-4h0m10 3h0m1 0h0m6-3h0m5 4h0m4-5h0m4 5h0m3-2h0m2-3h0m0 3h0m1 1h0m17-1h0m4 1h0m5-4h0m7 5h0m5-5h0m13 0h0m3 2h0m3 1h0m1-2h0m13 0h0m11 2h0m13-3h0m25 0h0m2 4h0m15-1h0m2-1h0m27 3h0m12 0h0m44 6h0m-27 0h0m-2-3h0m-6 2h0m-1-2h0m-5-1h0m-17 4h0m-17 0h0m-9 0h0m-10-4h0m-34-1h0m-8 5h0m-5-5h0m-5 5h0m-10 0h0m-9 0h0m-3 0h0m-1-2h0m-2-1h0m-5 0h0m-4 3h0m-2 0h0m-13-3h0m-9-1h0m-2 0h0m-5 0h0m-14 4h0m-2-1h0m-4-1h0m-4-2h0m-1 2h0m-9-3h0m-1 1h0m-6 1h0m-5-2h0m-6 0h0m-1 2h0m-1 3h0m-3-5h0m-10 1h0m-4 4h0m-6-4h0m-1 3h0m-6 0h0m-2-4h0m-16 4h0m-3-2h0m-6 3h0m-3-4h0m-12 3h0m-6-3h0m-7 3h0m-1 0h0m-3 4h0m7 0h0m1 0h0m2-1h0m0 4h0m1-4h0m3 2h0m1-3h0m3 5h0m0-3h0m2 2h0m1-2h0m2-1h0m10-1h0m0 4h0m2-2h0m1 2h0m1-2h0m4-1h0m4 3h0m25-1h0m6-1h0m0 2h0m0-1h0m9 0h0m4-2h0m9 1h0m2 1h0m8 1h0m4 0h0m1 1h0m6 0h0m1-1h0m3-1h0m2 0h0m2 2h0m11-4h0m0 4h0m0-2h0m7-3h0m8 1h0m1 1h0m8-1h0m2 0h0m2 4h0m6-4h0m8 2h0m3-3h0m6 0h0m2 3h0m15-3h0m1 2h0m2 3h0m1-1h0m11-2h0m13 3h0m6-5h0m2 4h0m18 1h0m4 0h0m8-2h0m8-1h0m0 3h0m34 0h0m9-3h0m5-1h0m10-1h0m17 9h0m-9-2h0m-22 0h0m-22-1h0m-7 4h0m-49-4h0m-7 4h0m-3 1h0m-10-4h0m-4 4h0m-8-3h0m-5-1h0m-3 0h0m-7 1h0m-14 3h0m-10-1h0m-6 1h0m-16-4h0m-2 3h0m-1-3h0m-9 3h0m-15-2h0m-2 1h0m-2 0h0m-5 2h0m-6-4h0m-1 1h0m-1-1h0m-2 2h0m-6-2h0m-1 2h0m-2-2h0m-6 3h0m-1-4h0m-2 4h0m-3 1h0m-1-4h0m-2 2h0m-2 0h0m-12-3h0m-1 5h0m-4-5h0m-5 1h0m-7 2h0m0-1h0m-2-1h0m-1 0h0m-8 3h0m-9-4h0m-1 3h0m-12 2h0m-8-1h0m-8 1h0m-3-1h0m0-1h0m-1-3h0m-3 5h0m-2 0h0m-2 6h0m1-3h0m5-1h0m1 0h0m0 3h0m3-4h0m1 0h0m7 4h0m8-2h0m14 3h0m1-1h0m5-2h0m1 0h0m8-1h0m0-1h0m1 2h0m2 3h0m5-1h0m3 1h0m4-2h0m2-3h0m1 0h0m3 0h0m1 2h0m2 2h0m8 0h0m4 1h0m2-4h0m16 3h0m18 1h0m7 0h0m5-1h0m13 1h0m7 0h0m13-3h0m11 3h0m8-3h0m8 0h0m1 0h0m0-1h0m14 2h0m2 2h0m5-4h0m1 3h0m3 0h0m4-2h0m17-1h0m4 0h0m44 3h0m2 0h0m28 1h0m4 0h0m22-2h0m20-3h0m-5 8h0m-5 3h0m-2 0h0m-6-5h0m-8 3h0m-19-1h0m-2 3h0m0-2h0m-1-2h0m-2 3h0m-2 0h0m-14-3h0m-39 4h0m-3-5h0m-7 2h0m-7 2h0m-17-2h0m-6 2h0m-13 1h0m-46-2h0m-16 1h0m-19-3h0m-3 0h0m-5 4h0m-10 0h0m-3-2h0m-5-2h0m-15 1h0m-4-1h0m-2 2h0m-2-2h0m-2 2h0m-2-2h0m-8 4h0m-2-4h0m-3 0h0m-12-1h0m-7 4h0m-8-1h0m-1 1h0m-4-1h0m-1-1h0m0-2h0m-2 2h0m-8 1h0m-3-2h0m-1-1h0m-1 0h0m-3 2h0m-3 1h0m0-3h0m-1 0h0m-1 1h0m-2 0h0m0 2h0m-1 2h0m0-3h0m-4 1h0m-1-2h0m-2 1h0m0 1h0m-1-1h0m-1 6h0m1 2h0m0-4h0m1 4h0m3-3h0m3 3h0m0-1h0m3 2h0m1-2h0m0-1h0m8 0h0m1 2h0m10 0h0m1 0h0m3-1h0m6 1h0m4 0h0m9-3h0m3-1h0m7 5h0m7-3h0m5 3h0m3 0h0m2 0h0m6-3h0m0 3h0m5-2h0m2-1h0m3 0h0m13 3h0m2-5h0m11 3h0m22-3h0m1 3h0m3 1h0m3-3h0m26 3h0m20 0h0m15 0h0m4-3h0m1-1h0m24 3h0m4 2h0m5-4h0m19 2h0m5-1h0m1 3h0m17-2h0m5-3h0m2 1h0m5 1h0m13-1h0m1 3h0m3 1h0m4-2h0m0-2h0m14 3h0m12 1h0m4 0h0m10 0h0m4-5h0m14 1h0m-3 6h0m-11 1h0m-10-1h0m-6 3h0m-1 1h0m-1-1h0m-7-1h0m-39 0h0m-35-1h0m-1-2h0m-24 2h0m-9 3h0m-20-3h0m-23 3h0m-36-5h0m0 2h0m-2 0h0m-8 3h0m-1-3h0m-2 1h0m-8 0h0m-4 2h0m-8 0h0m-12-4h0m-3 1h0m-36 1h0m-2-2h0m0-1h0m-3 0h0m-2 3h0m-3-2h0m-13 0h0m-1 2h0m-3-3h0m-1 3h0m-1 2h0m-1-5h0m-3 3h0m-9 1h0m-1-1h0m-2-2h0m-7 4h0m-4 0h0m-1 0h0m0-2h0m-1 2h0m-4-2h0m-3 1h0m-6 1h0m0-1h0m-1 1h0m-2-1h0m-1 1h0m-1 3h0m1 1h0m0 1h0m2-4h0m0 3h0m2-1h0m6 3h0m6 0h0m1-1h0m8-2h0m2 2h0m2-4h0m3 3h0m1-1h0m6 2h0m6 0h0m0-1h0m2-1h0m0 3h0m2-1h0m9 1h0m9-4h0m0 4h0m6-2h0m5-2h0m0-1h0m5 0h0m6 4h0m1-2h0m9 3h0m12 0h0m7-3h0m13-2h0m3 0h0m5 2h0m7 0h0m1 2h0m6 0h0m6 1h0m2-3h0m3 2h0m11-2h0m8 0h0m5 1h0m13-3h0m0 2h0m8 2h0m4-4h0m4 0h0m19 0h0m30 5h0m1 0h0m5-1h0m23 0h0m16 1h0m5-4h0m21 3h0m5-1h0m2-1h0m3 1h0m13-2h0m5 1h0m18 3h0m2-2h0m12 6h0m-11 2h0m-5-3h0m-1-2h0m-10 3h0m-15-3h0m-10 3h0m0-1h0m-3 1h0m-5-2h0m-7 1h0m-1 1h0m-8 0h0m-21-2h0m-3-1h0m-4 3h0m-42-1h0m-8 0h0m-3 0h0m-30-2h0m-2 5h0m-3-5h0m0 4h0m-16-3h0m-1 3h0m-5 0h0m-1 1h0m-7-3h0m-2 1h0m-9 0h0m-12 1h0m-5-4h0m-10 3h0m-4-2h0m-7-1h0m-3 1h0m-22 0h0m-9 3h0m-9-1h0m-5 0h0m-3 2h0m-1-3h0m-5-1h0m-7-1h0m-1 0h0m-3 3h0m-3 1h0m-7-3h0m-16 3h0m-5 0h0m0-1h0m-2 0h0m-2 2h0m-1-3h0m-1 3h0m-1-4h0m-1 4h0m-1 0h0m-8-5h0m-1 0h0m-3 1h0m-4 1h0m0 3h0m-1-5h0m0 4h0m-1-2h0m-1 2h0m0-1h0m0-1h0m0 7h0m0 2h0m1-5h0m1 1h0m1 3h0m2-1h0m0-1h0m1 3h0m3-3h0m1-1h0m0-1h0m2 5h0m2-4h0m3 4h0m0-2h0m3-3h0m2 3h0m0-2h0m1-1h0m1 4h0m7-3h0m1 0h0m0 4h0m2 0h0m5-5h0m3 4h0m2-1h0m0-2h0m5 2h0m1-3h0m6 0h0m6 1h0m7 0h0m8 3h0m0 1h0m3 0h0m7-3h0m11 2h0m6 1h0m15-2h0m29-3h0m3 4h0m8-1h0m0-3h0m21 0h0m2 4h0m17-2h0m4-2h0m17 0h0m0 3h0m4-3h0m3 2h0m1 2h0m11-3h0m5 2h0m8 2h0m2-1h0m5 1h0m14-4h0m7 2h0m2-3h0m6 4h0m20 0h0m1-1h0m20 1h0m4 0h0m13-4h0m3 1h0m2-1h0m0 4h0m3 0h0m25 1h0m6-2h0m3 8h0m-20 0h0m-1-4h0m0 4h0m-4-4h0m-4 1h0m-4 3h0m-3 0h0m-21-1h0m-13-2h0m-17-1h0m-31 4h0m-7 0h0m-3 0h0m-11-4h0m-22 1h0m-1 3h0m-5 0h0m-26-4h0m-103 1h0m-12 3h0m-3 0h0m-4-5h0m-12 1h0m-6 4h0m-4-3h0m-2 1h0m-3-1h0m-2-1h0m-16 1h0m-5-2h0m-6 2h0m-1-2h0m0 2h0m-1 1h0m0 1h0m-4-1h0m-4 2h0m-1-1h0m-1-2h0m-1-2h0m0 4h0m-3 0h0m-1-3h0m0 4h0m-1-3h0m0 3h0m-1 2h0m0 4h0m0-1h0m0-1h0m2 1h0m0-1h0m1 1h0m1-2h0m2 2h0m1 0h0m0-1h0m1-3h0m2 1h0m4 0h0m4-1h0m0 2h0m3-2h0m12 4h0m5-3h0m0-1h0m3 0h0m6 5h0m5-2h0m3-1h0m5 0h0m2 0h0m180-1h0m15 1h0m28 2h0m2-4h0m20 1h0m31 1h0m1 3h0m1-3h0m3-2h0m31 2h0m-12 4h0m-58 0h0m-4 0h0m-5 2h0m-245 1h0m-11-2h0m0 2h0m-6-1h0m-1 1h0m0-2h0m-2 1h0m-16-2h0m-1 1h0m-2-1h0m-3 3h0m-1-1h0m0 3h0m-3-4h0m0 2h0m-3 1h0m0-2h0m-1 9h0m1-4h0m2 3h0m2-2h0m1 1h0m1 1h0m3-2h0m1 1h0m0-2h0m1 1h0m5 2h0m0-3h0m0-1h0m5 2h0m3-1h0m8-1h0m16 0h0m6 4h0m276-4h0m7 1h0m9-1h0m13 2h0m7 0h0m-319 4h0m-4 3h0m-13-2h0m-14 4h0m-3-4h0m-6-1h0m-2 2h0m-1-1h0m0 1h0m-1 0h0m-1 0h0m-2 0h0m-1 4h0m21 1h0m8 2h0m1 2h0m4-5h0m11 2h0m3 0h0m-7 7h0m-11 0h0m-22 1h0m-1-2h0m7 8h0m6-3h0m33 18h0m-43-1h0m-3 3h0m4 5h0m10 2h0m23-4h0m-2 23h0m-26-3h0"/>
<path stroke="#22B12C" d="M228 119h0m-12 11h0m110 4h0m-50 13h0m52 4h0m-83 1h0m17 4h0m70 5h0m7 5h0m-136-4h0m20 7h0m6 1h0m69-1h0m10 2h0m145 2h0m-33 4h0m-145 0h0m-2-1h0m-15 0h0m-6 1h0m-39 2h0m-32 0h0m-11 2h0m2 1h0m14 3h0m3-3h0m5-2h0m22 0h0m1 0h0m11 4h0m10 1h0m8-2h0m23-3h0m10 3h0m2 2h0m9-1h0m128-4h0m42 4h0m20-1h0m-51 6h0m-47 0h0m-30 0h0m-9-1h0m-19 1h0m-1 1h0m-8 1h0m-9 0h0m-1-5h0m-16 3h0m-12-3h0m-23 4h0m-9-4h0m-1 0h0m-6 0h0m-6 2h0m-13 2h0m-5-1h0m-1-1h0m-6 0h0m-1 1h0m-3-2h0m-12-1h0m-9 0h0m-29 2h0m-48 8h0m27-3h0m14-1h0m3 4h0m6-4h0m28 0h0m3 2h0m9 1h0m9-3h0m6 3h0m7-1h0m3 0h0m3-2h0m5 2h0m1-2h0m2 1h0m24 1h0m28-2h0m6 2h0m16 0h0m12-1h0m10-1h0m12 3h0m1-2h0m17 3h0m9-4h0m2 3h0m10 0h0m3-3h0m22 8h0m-14-2h0m-11 1h0m-13 4h0m-9-4h0m-34 0h0m-4-1h0m0 5h0m-3-1h0m-10-4h0m0 4h0m-5-1h0m0 2h0m-11-2h0m-2 2h0m-1-1h0m-9 0h0m-13-4h0m-5 2h0m-11-2h0m0 1h0m-28-1h0m-6 3h0m-9-3h0m-17 5h0m-7-1h0m-4-3h0m-11 3h0m-7-1h0m-11 0h0m-9-2h0m-2 3h0m-11-3h0m-32 3h0m21 4h0m0 2h0m29-3h0m43-1h0m26 1h0m30-1h0m36 0h0m15 2h0m40-2h0m5 2h0m6 1h0m17-2h0m12 2h0m5-1h0m8 3h0m6-5h0m21 2h0m4-2h0m2 4h0m23-1h0m11 0h0m26 3h0m-25 3h0m-9-3h0m-17 3h0m-9-1h0m-44-1h0m-6-1h0m-7 4h0m0 1h0m-6-3h0m-7 0h0m-1-2h0m-244 3h0m0-1h0m-17 3h0m21 4h0m7-2h0m1 3h0m31 0h0m242-2h0m9-2h0m4 5h0m15 0h0m1-3h0m10 0h0m6-2h0m12 5h0m33-4h0m-39 5h0m-9 2h0m-11-1h0m-300 11h0m64 6h0m5 0h0m19 6h0m-37 3h0m-63 8h0m64 5h0m-20 1h0m21 6h0m13 9h0m-85 5h0m87 10h0m4-5h0"/>
</g></g>
<g clip-path="url(#cTR)"><g stroke-width="4.4" stroke-linecap="round" transform="scale(0.5)">
<path stroke="#EC720E" d="M618 83h0m-19 0h0m-5-1h0m-12-1h0m-1-1h0m-37 1h0m-15 6h0m13-3h0m26 2h0m3 2h0m27-1h0m12 0h0m88 8h0m-31-4h0m-8 4h0m-11-2h0m-16 0h0m-9-1h0m-35-2h0m56 9h0m17 0h0m62-1h0m46 9h0m-79-2h0m-19 2h0m-160-1h0m-2 5h0m237 0h0m77 3h0m-38 3h0m54 12h0m-54-3h0m62 19h0m-3 5h0m29 19h0"/>
<path stroke="#66F0F0" d="M631 179h0m96 11h0m-6 0h0m-100 0h0m-6 5h0"/>
<path stroke="#2A6CF8" d="M653 95h0m-10-2h0m-4 1h0m41 4h0m-6 5h0m-114 8h0m140-3h0m23 4h0m1-1h0m67 1h0m13 4h0m-36-1h0m-18 1h0m-12 0h0m-202 6h0m276-1h0m1 5h0m-16 5h0m25 6h0m-318 8h0m342 0h0m3 3h0m7 6h0m-5 9h0m-84 13h0m-149 4h0m201 5h0m-182 2h0m78 8h0m84 13h0m69 0h0m-76 2h0m48 10h0m6-4h0m-339 55h0m0 15h0m-2-3h0m0-1h0m1 8h0"/>
<path stroke="#F3324A" d="M660 96h0m88 10h0m8 3h0m-86 14h0m30-3h0m56 2h0m1 3h0m16-3h0m36 7h0m-134-3h0m-88 10h0m45-3h0m109-1h0m3 2h0m78 9h0m-159-1h0m-53 6h0m68 1h0m14 0h0m70-5h0m90 0h0m-90 6h0m-114 4h0m154 5h0m62 8h0m-15-1h0m-94 1h0m-21 0h0m-31 0h0m-88 6h0m113-2h0m124 5h0m-9 1h0m-239 0h0m207 4h0m29 10h0m-2-1h0m-41 4h0m13 3h0m26-3h0m17 2h0m10-4h0m4 0h0m32 7h0m-71 4h0m-1-4h0m-18 4h0"/>
<path stroke="#22B12C" d="M686 157h0m-1 7h0m-67 21h0m103-2h0m30 6h0m-12-1h0m-1-1h0m-60 1h0m-7 3h0m-40-2h0m-36 3h0m3 2h0m24 1h0m97-2h0m25 1h0m15 1h0m22 0h0m73-2h0m-63 9h0m-38-4h0m-6 2h0m-169-1h0m-45 1h0m271 5h0m21 3h0m39 0h0m9 0h0m-19 6h0m-4-3h0m-8 0h0m-14 0h0m-16 1h0m7 6h0"/>
<path stroke="#EC720E" d="M605 83h0m-9-1h0m-22 1h0m-21-2h0m-29 1h0m2 6h0m35 1h0m7-5h0m10 4h0m4-4h0m4 1h0m1 0h0m0 4h0m29 0h0m40 3h0m-48 0h0m-43-2h0m-18 0h0m-16 1h0m-6 0h0m154 9h0m20-1h0m40 6h0m-53-2h0m-50 4h0m35 1h0m37 2h0m6 3h0m50-5h0m5 3h0m14 2h0m-58 2h0m26 9h0m1 0h0m56 0h0m8-2h0m-36 5h0m50 5h0m-325 12h0m349 9h0m-2-3h0m1 9h0m-19 4h0m-331 8h0m335 17h0"/>
<path stroke="#66F0F0" d="M672 181h0m29 1h0m-109 15h0m148 2h0m-1-1h0"/>
<path stroke="#2A6CF8" d="M687 98h0m21 3h0m49 5h0m-58-1h0m-5-2h0m0 3h0m-19-1h0m-5 0h0m-37-1h0m-50 5h0m12 1h0m10-2h0m32 2h0m73 1h0m13-2h0m12-1h0m0 2h0m85 8h0m-22 1h0m-23-3h0m-1 1h0m-4-1h0m-21-1h0m-26 1h0m-24 0h0m-131 0h0m-12 9h0m120-2h0m84-2h0m10 0h0m12-1h0m0 4h0m2-4h0m-261 7h0m119 10h0m187-1h0m22 7h0m-33-5h0m-43 7h0m67 0h0m3 2h0m15 4h0m-60-1h0m68 12h0m1 9h0m-21 5h0m-254 6h0m269 9h0m-46-3h0m-153 2h0m32 4h0m6 1h0m9-2h0m35-1h0m42 5h0m8 5h0m62 10h0m-47-1h0m-307 77h0m2 6h0m-2 10h0"/>
<path stroke="#F3324A" d="M649 113h0m105-3h0m39 5h0m-74 4h0m-66 5h0m4-2h0m15 3h0m48-5h0m20 4h0m9-1h0m10-3h0m-15 11h0m-5-3h0m-1 2h0m-85-3h0m-34 0h0m-4-1h0m-29 9h0m30 0h0m21-1h0m92 0h0m11-1h0m21 10h0m-54 0h0m-44 0h0m-24-3h0m-10 2h0m-13-2h0m11 4h0m51 3h0m130-2h0m2 0h0m48 6h0m-7 2h0m-162-3h0m-70 2h0m-50-2h0m-3 1h0m-6 4h0m57 1h0m38 2h0m84-2h0m129 5h0m-14 6h0m-15-4h0m-61 4h0m-72 0h0m-54 3h0m50 2h0m27-4h0m6 1h0m102-1h0m13 5h0m5-4h0m10 0h0m-70 10h0m-64-4h0m-143 1h0m134 4h0m42 4h0m25 0h0m72 0h0m-18 6h0m-2-4h0m-18 3h0m-57-2h0m57 5h0m19 3h0m13 0h0m1-3h0m16 2h0m-13 5h0m-31 0h0m-12-1h0m-3 1h0m32 10h0m-342 37h0"/>
<path stroke="#22B12C" d="M689 147h0m89-2h0m-35 15h0m-130 12h0m88-2h0m21 4h0m-56 3h0m-107 8h0m63-4h0m3 1h0m3 1h0m13-2h0m2 1h0m6 0h0m6-1h0m63 2h0m10-3h0m128 8h0m-79 2h0m-50-3h0m-16 2h0m-12-3h0m-10 1h0m-24-1h0m-13 5h0m-1-2h0m-8 1h0m-7-2h0m-24 1h0m-26 0h0m-17 1h0m-23 6h0m13-1h0m10 0h0m4 2h0m10-1h0m26 0h0m30-3h0m23 0h0m40 1h0m25-1h0m4 3h0m27-4h0m1 1h0m29 2h0m41 8h0m-37-1h0m-4-1h0m-18-3h0m-18 3h0m-25-3h0m-167 2h0m-4-2h0m-6 5h0m-11 3h0m9-1h0m300 4h0m15-1h0m2-3h0m-6 6h0m-44 1h0m-7-1h0m-276-1h0m-2 1h0m303 8h0"/>
<path stroke="#EC720E" d="M578 81h0m-46 1h0m-12 4h0m4 3h0m2 0h0m3-1h0m15 1h0m10-2h0m3-2h0m2-1h0m7 5h0m6-5h0m1 3h0m54 2h0m23 4h0m-48-3h0m-12 4h0m-20-3h0m-61 10h0m3 0h0m170 0h0m12-2h0m8 1h0m2 1h0m43 4h0m-11-2h0m-26 2h0m-2-1h0m-7-1h0m-10 3h0m-32-3h0m-25 0h0m80 8h0m4 2h0m64-1h0m13 0h0m1 4h0m-27 3h0m-14-1h0m-2 1h0m23 3h0m5-1h0m41-1h0m-66 23h0m-113 7h0m-139 10h0m250-4h0m3 10h0m64 17h0m57 4h0"/>
<path stroke="#66F0F0" d="M612 176h0m2 14h0m63 3h0m75-1h0"/>
<path stroke="#2A6CF8" d="M689 98h0m49 8h0m-14-3h0m0 2h0m-9 0h0m-11 0h0m-133 6h0m73 0h0m92-3h0m2 3h0m5 0h0m4 1h0m3 0h0m4-3h0m4-1h0m55 9h0m-37-3h0m-11 2h0m-5-1h0m-23 4h0m-163-5h0m-36 10h0m19-3h0m140 0h0m5-1h0m94 2h0m11 0h0m3 2h0m-13 3h0m-63-1h0m-160 2h0m-54 9h0m313 0h0m9-4h0m4 6h0m-3 1h0m-10 2h0m-88-3h0m-52 3h0m-174 4h0m-16 5h0m337 5h0m30 9h0m-24 0h0m-9 0h0m-30 0h0m-35-3h0m-104 7h0m14 3h0m48 1h0m116-1h0m-19 4h0m-5-2h0m-173 4h0m3 2h0m14 1h0m196 3h0m17-4h0m-101 11h0m-76-5h0m-3 2h0m-6 3h0m0-5h0m-4 4h0m41 3h0m43 8h0m-16-3h0m45 9h0m21 2h0m14 6h0m-3 0h0m-280 3h0m284 2h0m-329 23h0m-2 4h0m0 4h0m2 6h0m-3 5h0m-1-2h0m3 10h0m24 16h0m-25-4h0m-4 9h0m2 9h0"/>
<path stroke="#F3324A" d="M652 95h0m51 22h0m-5 0h0m-15 1h0m-21 1h0m-65-5h0m73 11h0m33-4h0m47 4h0m29-1h0m16 4h0m-11-1h0m-8 4h0m-41-5h0m-1 4h0m-3-4h0m-15 3h0m-40 0h0m-74 2h0m-27-2h0m12 8h0m15-2h0m4-2h0m168 2h0m34-1h0m12 1h0m10 4h0m-9 4h0m-41-4h0m-85 1h0m-84 5h0m149 2h0m17 1h0m60 2h0m-29 3h0m-3 2h0m-13-4h0m-37-1h0m-67 2h0m-37 1h0m-31 0h0m-30-2h0m-44-1h0m16 6h0m27 4h0m27 1h0m1-4h0m2 1h0m65 3h0m1-1h0m35-3h0m16 1h0m2-1h0m35 0h0m16 1h0m2-2h0m35 3h0m12 0h0m11-2h0m4-1h0m-79 8h0m-87 1h0m-2 0h0m-95-3h0m-5 0h0m-22 3h0m102 3h0m68 2h0m20-2h0m34 0h0m28 3h0m0-3h0m43 0h0m20 11h0m-33-1h0m-17 0h0m-79 1h0m-12-2h0m-33-3h0m-43 3h0m-30-1h0m-48 3h0m-25 2h0m167 0h0m42-1h0m46 5h0m4-2h0m12-3h0m37 0h0m1 4h0m10 5h0m-7 0h0m-10-1h0m-7 3h0m-9 0h0m-33-1h0m-53-1h0m-238 0h0m294 3h0m17 5h0m19 0h0m20-4h0m27 4h0m-83 1h0m4 6h0m3 1h0m-318 29h0"/>
<path stroke="#22B12C" d="M654 128h0m37 11h0m53 10h0m94 9h0m-152 13h0m46 4h0m-138 4h0m-14-1h0m-10 5h0m1 2h0m1-4h0m21 3h0m12-1h0m7 2h0m9-4h0m7 1h0m3 1h0m16-1h0m9 3h0m7-3h0m7 3h0m2 0h0m37-5h0m1 4h0m8 0h0m0-4h0m12 5h0m68 5h0m-62-4h0m-2 0h0m-19 2h0m-44 1h0m-6 0h0m-1-2h0m-42 2h0m-8-2h0m-8 0h0m-20 1h0m-25 2h0m-3-1h0m-3-3h0m-4 1h0m42 8h0m14 1h0m1-4h0m44 3h0m96 2h0m4 0h0m41-4h0m12-1h0m-20 8h0m-221-2h0m-24 1h0m-6-1h0m-6 11h0m6 0h0m3-2h0m7 2h0m238-4h0m16 4h0m1-4h0m1-1h0m52 3h0m2 1h0m44-1h0m0-2h0m-71 10h0m-25-4h0m-267 0h0m-9 0h0m311 6h0m-322 8h0"/>
<path stroke="#EC720E" d="M591 82h0m-20-2h0m-41 2h0m-8 6h0m17-3h0m16 3h0m4 1h0m19 0h0m8 0h0m56-1h0m9 7h0m-1-5h0m-4 3h0m-2 1h0m-17-3h0m-16 0h0m-5 1h0m-12-2h0m-28 0h0m-21 1h0m-6-1h0m-7 1h0m-5 1h0m-5 2h0m-8 7h0m28-4h0m1 2h0m132-3h0m7 3h0m55 7h0m-9-4h0m-20 1h0m-10 2h0m-11 2h0m-55-1h0m-18-1h0m-105 7h0m137-3h0m47 1h0m6 3h0m20-1h0m6-1h0m13-3h0m42 11h0m-30-5h0m-2 4h0m-4-4h0m-49 0h0m-188 9h0m0-1h0m250-2h0m25 3h0m10 2h0m21 4h0m-53-3h0m-254 4h0m272 4h0m60 0h0m-52 5h0m-281 6h0m174 1h0m174 0h0m-3 9h0m-12-5h0m-334 3h0m361 7h0m-18 2h0m-101 7h0m27 2h0m94 1h0m31 11h0"/>
<path stroke="#66F0F0" d="M762 191h0m-100-1h0m-34 2h0m165 7h0m-22-1h0"/>
<path stroke="#2A6CF8" d="M664 94h0m0 5h0m23 0h0m1 0h0m54 7h0m-9 1h0m-60-5h0m-3 1h0m-12 3h0m-41 1h0m-29 0h0m-3-2h0m-12 4h0m3 0h0m5 4h0m10-2h0m12-2h0m37 4h0m45-3h0m44-1h0m36 3h0m3-4h0m4 2h0m-41 5h0m-11 1h0m-60-2h0m-1 0h0m-65 3h0m-29 2h0m-28 0h0m-6 1h0m4 3h0m42 2h0m200-4h0m16-1h0m5 1h0m1-1h0m26 1h0m2 1h0m-2 6h0m-18 1h0m-2-3h0m-56 1h0m-77 2h0m-95-1h0m-49 2h0m10 2h0m127 2h0m47 1h0m119-3h0m5 5h0m5 0h0m-63 1h0m-35 2h0m-18 0h0m122 8h0m12 4h0m-20 0h0m-11 0h0m-24 2h0m-69-1h0m-17-2h0m-214-1h0m242 7h0m6 1h0m76 3h0m37-2h0m-89 4h0m4 6h0m38 1h0m56 5h0m-273 10h0m76-5h0m12 4h0m14-3h0m161 5h0m-12 4h0m-17-1h0m-157 1h0m-101-1h0m178 4h0m24 4h0m2-3h0m83 6h0m-337 8h0m295-3h0m1 1h0m34 5h0m-31-1h0m-292 42h0m-26 16h0m-3 5h0m0 24h0"/>
<path stroke="#F3324A" d="M726 105h0m56 5h0m36 9h0m-30-5h0m-9 0h0m-122 1h0m-13-1h0m-3 0h0m-26 0h0m-41 4h0m84 5h0m153-3h0m-4 10h0m-26 1h0m-2-3h0m-9-2h0m-7 2h0m-2 2h0m-29 0h0m-8-1h0m-8-2h0m-16 4h0m-20-4h0m-52-1h0m-11 3h0m-5 0h0m-6 2h0m-29-2h0m19 3h0m4 4h0m1 0h0m5-1h0m26 2h0m83-5h0m24 3h0m6 0h0m17 0h0m19 0h0m59 8h0m-11-3h0m-32 0h0m-41 1h0m-7 0h0m-27-2h0m-10-1h0m-5 2h0m-67 2h0m-2-4h0m-22 3h0m-16 0h0m-9 1h0m-22 0h0m-8 1h0m-4-5h0m-16 6h0m46 3h0m2-2h0m3 3h0m1-1h0m20-2h0m10 0h0m69 1h0m68 3h0m33-4h0m16-1h0m3 4h0m3 1h0m21-1h0m7 0h0m7 4h0m-21 3h0m-42 0h0m-11-1h0m-26-3h0m-2 2h0m-52-3h0m-77 0h0m-7 0h0m-1 1h0m-36-1h0m-13 2h0m-6-1h0m-11 1h0m-14 4h0m83 4h0m6-3h0m2 2h0m18-3h0m3 3h0m14 2h0m24-5h0m4 0h0m30 4h0m12-3h0m16 4h0m2-5h0m2 0h0m24 5h0m5-3h0m2 3h0m14-5h0m9 4h0m5-4h0m1 0h0m10 0h0m12 4h0m2-3h0m3 2h0m16-3h0m16 10h0m-23 1h0m0-5h0m-9 2h0m-1 2h0m-1 0h0m-2-3h0m-53 2h0m-40 2h0m-21-4h0m-2-1h0m-29 5h0m-14-3h0m-48 1h0m-50 0h0m-9 2h0m-28 2h0m31 0h0m41 0h0m3-1h0m56 5h0m12-3h0m57 0h0m4-1h0m13 2h0m18 1h0m8-1h0m48 2h0m17 0h0m24 2h0m-18 3h0m-41 1h0m-10-2h0m-1-1h0m-4-1h0m-54 0h0m-16 2h0m-13 0h0m-6 0h0m-3-1h0m-17 0h0m-13 1h0m-32-1h0m-11-1h0m-25 1h0m-34 5h0m186 1h0m16-1h0m21 3h0m26-1h0m20-1h0m32 5h0m-8 1h0m-32 3h0m-25-5h0m-59 1h0m68 6h0m33 4h0m13 5h0m-16-4h0m-17 0h0m-9 1h0m7 5h0m4 0h0m13 3h0m-340 4h0m0 20h0m0 16h0"/>
<path stroke="#22B12C" d="M730 135h0m63 4h0m-57 0h0m95 14h0m-89 11h0m-30-1h0m-43 3h0m-60 7h0m6-1h0m10 1h0m73-1h0m26-2h0m8 1h0m1 1h0m-99 5h0m-8 2h0m-7-2h0m-2 2h0m-6-3h0m-20-1h0m-28 10h0m4-2h0m1-1h0m7 2h0m3 0h0m10-4h0m51 4h0m13-1h0m23-1h0m12 3h0m6-1h0m40 0h0m67 6h0m-9 0h0m-28 1h0m-2-5h0m-2 5h0m-55-4h0m-35 2h0m-28 0h0m-21-2h0m-5 2h0m-27-2h0m-19 1h0m-25 3h0m8 4h0m4 0h0m32-3h0m3 1h0m13-1h0m8 0h0m13 4h0m5-4h0m117 2h0m6 1h0m30-2h0m11 2h0m64 7h0m-78 0h0m-9-2h0m-20-1h0m-6 0h0m-175-1h0m-12 2h0m-5-1h0m-13-1h0m-2 2h0m-5 3h0m-7 3h0m0 1h0m4-3h0m1 5h0m5-3h0m272 2h0m12-2h0m10 0h0m4-2h0m27 3h0m38-1h0m-34 4h0m-355 26h0"/>
<path stroke="#EC720E" d="M601 83h0m-25 6h0m71-2h0m10 1h0m39 6h0m-25-1h0m-13-3h0m-17 3h0m-6 1h0m-11-2h0m-8 2h0m-3 0h0m0 1h0m-3 0h0m-3 0h0m-4-3h0m-2 0h0m-1-2h0m-7 5h0m-18 0h0m-7-3h0m-3 0h0m-1 0h0m0 1h0m-11-3h0m-6 2h0m-15 0h0m-13 4h0m41 5h0m2-1h0m9-2h0m2 1h0m1-3h0m1 2h0m26-2h0m7 3h0m20-3h0m2 2h0m1 0h0m24 0h0m0-1h0m10 1h0m1 2h0m2-4h0m5 1h0m24 3h0m14 7h0m-16-5h0m-11 5h0m-18-3h0m-11 0h0m-23-2h0m-10 5h0m-95-4h0m-16 5h0m160 4h0m2 1h0m19-1h0m41 1h0m13 0h0m6 0h0m60 4h0m-42-3h0m-13 5h0m-41-1h0m-13-2h0m-5-2h0m-191 6h0m203 0h0m62 2h0m46 0h0m6 0h0m10 8h0m-23-1h0m-40-2h0m-264-1h0m209 7h0m99 0h0m16 2h0m-24 7h0m-83-4h0m-33 0h0m20 6h0m74 4h0m54 5h0m-185 0h0m79 8h0m117 0h0m-8 4h0m-338-1h0m262 6h0m83 1h0m-346 3h0m346 9h0m16-1h0m-14 6h0"/>
<path stroke="#66F0F0" d="M664 173h0m56 3h0m-120 5h0m91 0h0m98 10h0m-135 1h0"/>
<path stroke="#2A6CF8" d="M630 94h0m-54 5h0m49 1h0m25-4h0m106 10h0m-49-2h0m-5 3h0m-5-5h0m-20 1h0m-33 4h0m-13 0h0m-72-5h0m4 8h0m21-1h0m32 1h0m6 0h0m38 1h0m13-2h0m6 2h0m26-1h0m14-1h0m12-1h0m30 1h0m9 3h0m18-1h0m15 8h0m-53 0h0m-23 0h0m-13-3h0m-41-2h0m-55 0h0m-19 0h0m-1 0h0m0 2h0m-18-2h0m-23 5h0m-8-1h0m-5-1h0m-4-3h0m-2 5h0m-1-2h0m-23 4h0m11 3h0m7 0h0m21 1h0m12-3h0m50 2h0m48-3h0m99 4h0m39-2h0m23 2h0m6 0h0m8 6h0m-27-1h0m-11 0h0m-15 1h0m-35-5h0m-14 1h0m-11 0h0m-18 1h0m-43-1h0m-30 2h0m-112-1h0m89 5h0m87 0h0m53 0h0m47 4h0m40 4h0m-5-1h0m-11 1h0m-20 2h0m-18-1h0m-80 1h0m-142-3h0m-33 0h0m-11 2h0m197 4h0m29-1h0m82 1h0m23 5h0m-14 2h0m-45 0h0m-107-3h0m-29 4h0m124 2h0m25 5h0m33-3h0m32 8h0m-6-3h0m-37-1h0m-97 2h0m-83 2h0m10 7h0m29-2h0m91 2h0m17-3h0m53 0h0m26 5h0m-4 0h0m-2 1h0m-49 1h0m-208 1h0m55 7h0m170-3h0m1 0h0m18-1h0m12 6h0m-108 2h0m-46 1h0m-36 0h0m-95 1h0m168 6h0m6-5h0m5 6h0m66 10h0m10-1h0m10-1h0m-332 7h0m-9 5h0m323-2h0m5 2h0m-323 25h0m1 5h0m-1 0h0m-2-2h0m0 4h0m0 2h0m1 9h0m-3 4h0m1 3h0m1-3h0m-2 10h0m1 16h0m-1 5h0m-1 1h0"/>
<path stroke="#F3324A" d="M645 95h0m-6 2h0m56 2h0m95 14h0m15 5h0m-8-3h0m-91 1h0m-10 1h0m-21 0h0m-82-1h0m-2-2h0m-26 11h0m42-1h0m28-3h0m0 2h0m2-3h0m10 1h0m23-1h0m19 2h0m2-2h0m55 5h0m21 5h0m-3-4h0m-2 4h0m-1-4h0m-3 1h0m-16-1h0m-5 1h0m-10 3h0m-4-4h0m-9 1h0m-1-1h0m-18 5h0m-29 0h0m-10-5h0m-57 1h0m-32 1h0m-13-1h0m-2-1h0m9 11h0m17-3h0m0 1h0m24-3h0m5 1h0m6 4h0m22-3h0m17 1h0m26 1h0m9 1h0m11-2h0m29-1h0m29-2h0m2 5h0m12-1h0m4-2h0m13 3h0m2-4h0m26 1h0m27 0h0m-24 8h0m-8 0h0m-12 0h0m-9-1h0m-4 1h0m-9 0h0m-5-2h0m-9-1h0m-30 0h0m-18 0h0m-3 0h0m-16-1h0m-5 4h0m-1-1h0m-45-2h0m-36 1h0m0 2h0m-8 1h0m-3-4h0m-40 9h0m15-2h0m4 3h0m12 0h0m17-1h0m4-1h0m6-1h0m7 0h0m2 2h0m4-1h0m0-1h0m3 3h0m8-5h0m15 1h0m37 0h0m3 2h0m6-3h0m6 0h0m7 4h0m29-3h0m1 2h0m2 0h0m3-2h0m31 3h0m14 0h0m4-4h0m5 0h0m47 10h0m-1-4h0m-15 2h0m-2-1h0m-16 1h0m-4 2h0m-19 1h0m-8-5h0m-21 5h0m-9-3h0m-13-1h0m-46 2h0m-11-2h0m0-1h0m-37 0h0m-1 5h0m-3-2h0m-6 0h0m-2 2h0m-26-5h0m-11 2h0m-3 1h0m-2-3h0m-5 1h0m-12 4h0m-2-3h0m-22-1h0m0 2h0m-9 0h0m-23 8h0m3 0h0m34 0h0m4-1h0m4-1h0m10-2h0m6 2h0m4 0h0m1 0h0m7 0h0m19 0h0m19-2h0m2 4h0m28 0h0m3-5h0m3 3h0m31-1h0m3-1h0m3-1h0m18 1h0m9 3h0m6-1h0m19-1h0m13 0h0m20 3h0m12-5h0m6 5h0m8-3h0m36 3h0m5 0h0m3 0h0m6 3h0m-5 1h0m-34 0h0m-10 1h0m-19-1h0m-20 1h0m-29 1h0m-10-3h0m-15 3h0m-4-3h0m-25 1h0m-2-3h0m-10 0h0m-7 5h0m-24-5h0m-17 1h0m-25-1h0m-21 5h0m-35-4h0m-24 9h0m6-3h0m26 0h0m15 2h0m56 0h0m13-1h0m8-2h0m10 0h0m18 2h0m11 2h0m21-1h0m4-2h0m3 1h0m6-2h0m11 0h0m15 1h0m8-1h0m20 5h0m4-2h0m2 1h0m16 0h0m17-4h0m12 4h0m2-3h0m19 2h0m7-3h0m14 10h0m-8-4h0m-3 4h0m-37 0h0m-10 0h0m-2-2h0m-21 1h0m-10-2h0m-8-1h0m-12 3h0m-6 1h0m-11 0h0m-2 1h0m-8-1h0m-19-3h0m-19 1h0m-8 0h0m-6-1h0m-34 2h0m-6-1h0m-12-2h0m-10 2h0m-3 0h0m-1-1h0m-14 0h0m-10 0h0m-3-1h0m-10 3h0m-4-3h0m-10 0h0m-32 1h0m-1 0h0m-5 2h0m-5-2h0m-3-1h0m21 6h0m12 4h0m14-4h0m138 0h0m2 1h0m23 0h0m26 2h0m4 0h0m3-1h0m7 1h0m7-3h0m6 1h0m23 4h0m7-3h0m11 2h0m1-3h0m1 1h0m5 0h0m17-2h0m6 1h0m14 2h0m5 0h0m-65 3h0m-7 4h0m-2-4h0m-18 0h0m-14 4h0m-16-4h0m-199 0h0m-6 2h0m-18 8h0m2 1h0m246-5h0m21 3h0m11-1h0m2-1h0m13 0h0m11 2h0m5 0h0m6 1h0m17 3h0m-8 4h0m-10-4h0m-8 0h0m-3 4h0m-17-2h0m-5 0h0m-302 7h0m305-3h0m26 4h0m9-4h0m-335 9h0m-11 7h0m1 0h0m8-5h0m-9 9h0m0 13h0"/>
<path stroke="#22B12C" d="M696 124h0m23 1h0m27 11h0m0-3h0m36 2h0m-17 9h0m24 4h0m34-2h0m3 9h0m-60-5h0m-138 9h0m187 6h0m-107 2h0m-55-1h0m-27-3h0m-20 7h0m23 3h0m10 0h0m15-5h0m199 0h0m-68 11h0m-58-4h0m-18 2h0m-3-3h0m-12 3h0m-3 2h0m-2-5h0m-6 0h0m-15 2h0m-14 3h0m-4-4h0m-4 3h0m-9-2h0m0 2h0m-32 1h0m-5-2h0m-2 2h0m-53-4h0m8 8h0m31 2h0m7 0h0m5-5h0m25 3h0m15-3h0m0 1h0m5 2h0m1-2h0m4 2h0m19 2h0m5-5h0m22 1h0m34 4h0m2-1h0m52-1h0m87-3h0m-84 7h0m-21 1h0m-13 3h0m-27-5h0m-3 0h0m-13 4h0m-9-4h0m-9 5h0m-3-2h0m-33 1h0m-6-2h0m-3-2h0m-3 1h0m-3 1h0m-1 2h0m-12-1h0m-8 2h0m-7 0h0m-1 0h0m-11-4h0m-5 2h0m-8-2h0m-1 3h0m-10-3h0m0 2h0m-7 2h0m-2-1h0m0 1h0m-4 0h0m-3-3h0m-19 3h0m6 2h0m27 2h0m7 0h0m11-2h0m16 2h0m2-2h0m9 1h0m62-2h0m2 1h0m4 2h0m41 1h0m4-1h0m4-1h0m5 0h0m101 2h0m23-2h0m-10 6h0m-45 0h0m-24 0h0m-7 0h0m-11 3h0m-19-5h0m-194 5h0m-2-5h0m-15 1h0m-7 0h0m-11 8h0m4-2h0m3 1h0m7-1h0m248 1h0m6-2h0m20 0h0m1 3h0m2-1h0m22 1h0m21-2h0m6 3h0m4-4h0m1 6h0m-29 3h0m-318 8h0m1 2h0m-2 3h0m-1 1h0m-5 5h0m-3 13h0m0 1h0m-1 5h0"/>
<path stroke="#EC720E" d="M587 80h0m-17 2h0m45 7h0m47 6h0m-6-2h0m-16 0h0m-1-1h0m-18 1h0m-1-1h0m-6-1h0m-6 2h0m-5 1h0m-6 0h0m-3 0h0m-5-2h0m-4-1h0m-7 1h0m-6-2h0m-1 4h0m-8 0h0m-5-4h0m-7 1h0m-9 0h0m0 2h0m-3 1h0m-5-2h0m-14 3h0m18 3h0m3-2h0m7 3h0m2-2h0m21 2h0m3 1h0m3-4h0m2 5h0m0-5h0m7 3h0m1-2h0m49 3h0m4 0h0m7-2h0m14 0h0m10-1h0m17 3h0m4 1h0m10 0h0m40 4h0m-6 1h0m-8 1h0m-3 0h0m-18-2h0m-39 0h0m-1-1h0m-6-2h0m-4 0h0m-3 2h0m-24 3h0m-15-2h0m-11 1h0m-5-1h0m-26-1h0m-1 3h0m-11-4h0m-30 0h0m-9 1h0m-7-1h0m-6 10h0m123-4h0m2 1h0m14 1h0m4-2h0m30 3h0m4-3h0m1-1h0m16 5h0m4-2h0m11 0h0m12 1h0m31-1h0m16 2h0m14 0h0m9 2h0m-12 1h0m-48 1h0m-10-2h0m0 1h0m-17-2h0m-11 1h0m-62-1h0m-124 0h0m-9 4h0m155 4h0m22 2h0m25-3h0m26 4h0m2-1h0m7 0h0m34-4h0m39 10h0m-23 1h0m-14-1h0m-29-4h0m-43 8h0m47 2h0m10-4h0m66 1h0m4-1h0m-15 12h0m15 3h0m26 6h0m-7-3h0m-72 3h0m-14-3h0m-98 4h0m-166 3h0m214 2h0m82 6h0m-75-1h0m51 9h0m48 4h0m-14 4h0m53 1h0m-4 6h0"/>
<path stroke="#66F0F0" d="M606 178h0m146 5h0m-58 3h0m-33 0h0m-2 2h0m-7-2h0m-70 5h0m113 2h0m82 2h0m39 7h0"/>
<path stroke="#2A6CF8" d="M629 93h0m-20 8h0m12 0h0m16-4h0m36 2h0m8-2h0m72 9h0m-56-3h0m-7-1h0m-47 4h0m-2-3h0m-11-1h0m-11 4h0m-39-4h0m-1 2h0m-32-1h0m-29 9h0m14-2h0m22 3h0m5 0h0m5-1h0m10-4h0m1 4h0m4 0h0m0-1h0m8-3h0m6 1h0m4 0h0m4 1h0m5 2h0m27 1h0m23-5h0m20 4h0m6-4h0m15 5h0m27-5h0m2 5h0m1-5h0m20 5h0m29-3h0m6 6h0m-39 0h0m-17-1h0m-4 2h0m-1 2h0m-17 0h0m-39-1h0m-3-1h0m-16-2h0m-3 2h0m-3-2h0m-8-1h0m-10 2h0m-4 1h0m-13-1h0m-11-2h0m-6 3h0m-3-3h0m-3 2h0m-6-2h0m-10 3h0m-5 2h0m-7-1h0m-1 1h0m-5-2h0m-1-2h0m-4 4h0m-2-1h0m-5-3h0m-2 2h0m-17-2h0m0 2h0m-1 8h0m31-1h0m6-3h0m3-1h0m34 0h0m17 3h0m3-1h0m48-1h0m23 1h0m36 3h0m9-2h0m3-3h0m79 0h0m23 9h0m-3-1h0m-4-2h0m-5 4h0m-3-4h0m-50 1h0m-53 4h0m-6-1h0m-2-2h0m-27-2h0m-7 0h0m0 2h0m-19 2h0m-54 1h0m-63-5h0m-1 4h0m-8 0h0m-13-3h0m-4 7h0m13-1h0m3 2h0m2-2h0m37 0h0m121-1h0m19 0h0m11 1h0m21 4h0m10-5h0m5 5h0m1-3h0m43-1h0m15-1h0m28 4h0m-1 2h0m-29 0h0m-1 1h0m-72 1h0m-4 0h0m-42 2h0m-21-3h0m-4 0h0m-132-1h0m-27 1h0m8 6h0m2 0h0m173 0h0m7 0h0m3 4h0m19-3h0m4-1h0m70-1h0m48 5h0m5-4h0m7 0h0m8 9h0m-58-3h0m-37 2h0m-30 2h0m-12-4h0m-49 3h0m-156 6h0m161-3h0m59 4h0m50-1h0m35-4h0m35 1h0m-1 5h0m-8 4h0m-37-1h0m-2-3h0m-14 0h0m-9 5h0m0-3h0m-14 2h0m-64 0h0m-38-1h0m-32-3h0m-134 0h0m195 8h0m90 1h0m6-3h0m26 3h0m5 2h0m15 0h0m6-4h0m20 0h0m-6 6h0m-86-1h0m-29 3h0m-38-2h0m-98 0h0m31 7h0m75 2h0m15-4h0m37 0h0m69 5h0m16-1h0m18-3h0m-32 6h0m-23 2h0m-1 0h0m-20-3h0m-55 2h0m-17-2h0m-8 1h0m-45 2h0m-33 1h0m-134 6h0m86-4h0m52 2h0m40-2h0m1 0h0m23 0h0m4 1h0m12 0h0m105 2h0m-26 5h0m-35 1h0m-4 0h0m-10-3h0m-248 0h0m271 7h0m20 1h0m22 10h0m14 3h0m-324 22h0m4 0h0m-7 7h0m0 16h0m6 2h0m-4 27h0"/>
<path stroke="#F3324A" d="M633 94h0m24 3h0m13 1h0m23 2h0m23 6h0m-16-3h0m-92 10h0m27 0h0m36 2h0m-2 4h0m-2-5h0m-12 1h0m-1 0h0m-9 4h0m-3 0h0m-8-1h0m-4-2h0m-1 2h0m-52 0h0m-1 3h0m29 2h0m19 1h0m8-4h0m3 4h0m14 0h0m2 0h0m15-2h0m5-2h0m6 4h0m14 0h0m12 0h0m2 0h0m14-2h0m6 1h0m11 1h0m12-2h0m20 1h0m23 8h0m-13-1h0m-4-4h0m-2 4h0m-2 1h0m-11 0h0m-11-2h0m-3 2h0m-3-1h0m-14-1h0m-18 2h0m0-5h0m-13 3h0m-6-3h0m-1 4h0m-2-2h0m-4-2h0m-21 0h0m-4 1h0m-27 1h0m-18 3h0m0-4h0m-4 4h0m-8-3h0m-5-2h0m-6 2h0m-12 2h0m-4 0h0m-7-1h0m-13-2h0m-14 2h0m21 7h0m8-3h0m0 4h0m2-1h0m1 1h0m2-3h0m18 3h0m6-4h0m0 1h0m12 3h0m2-4h0m3-1h0m3 4h0m8-4h0m2 5h0m0-1h0m5-1h0m23-3h0m1 0h0m9 5h0m18 0h0m5 0h0m11-3h0m0-2h0m4 3h0m15-3h0m6 4h0m0-4h0m2 4h0m4-2h0m4-1h0m3-1h0m2 5h0m1-1h0m17 0h0m9-1h0m3-3h0m12 4h0m1-4h0m15 5h0m0-5h0m1 3h0m2 1h0m1-4h0m13 5h0m12 0h0m17 1h0m-8 5h0m-3-2h0m-14 1h0m-32 1h0m-27-2h0m-3 0h0m-6-2h0m-2-1h0m-6 4h0m-2-4h0m-14 4h0m-1-2h0m-12-2h0m-1 5h0m-32-1h0m-2-3h0m-3 1h0m0 1h0m-7-3h0m-10 1h0m-8 1h0m-1 2h0m-4-3h0m-1 4h0m-9-5h0m-4 1h0m-5-1h0m-10 2h0m-1 1h0m-4 0h0m-1-2h0m-5 0h0m-4 0h0m-1 4h0m-4-5h0m-1 4h0m-14-1h0m-6 0h0m-11-1h0m-7-2h0m-10 2h0m-1 3h0m-17-3h0m-12 7h0m25 0h0m1-1h0m3 0h0m17-2h0m15 5h0m4-1h0m3-4h0m6 0h0m1 5h0m4-3h0m3-1h0m4 0h0m2 4h0m10-3h0m1 1h0m1-3h0m3 0h0m12 0h0m2 0h0m4 0h0m2 1h0m2 2h0m12 0h0m3 1h0m4-1h0m7 2h0m6-1h0m0-2h0m6 1h0m36 2h0m1-1h0m16-2h0m3 1h0m16-1h0m4 2h0m8 0h0m3 0h0m3 0h0m30-2h0m3 3h0m0-3h0m4 3h0m6-3h0m6 1h0m8 1h0m4 0h0m-18 6h0m-35-4h0m-2 4h0m-15-1h0m-3-1h0m-1 2h0m-31-2h0m-1 1h0m-6 2h0m-29-3h0m-15-2h0m-6 1h0m-5 2h0m-4 1h0m-2 1h0m-1-4h0m-8 1h0m-4 0h0m-6 0h0m-11-2h0m-1 5h0m-22 0h0m-2-4h0m-10 4h0m-3-2h0m-13 0h0m-19-2h0m-2 2h0m-1 0h0m-8-1h0m-1 2h0m-2 1h0m-4-1h0m-5 1h0m-5-3h0m-12 3h0m-2-1h0m2 3h0m2 0h0m1-1h0m2 5h0m2-2h0m6 1h0m0-1h0m24-2h0m1-1h0m2 2h0m2 3h0m11-1h0m1-1h0m7-2h0m16 3h0m6 1h0m3 0h0m6-3h0m19 1h0m6 0h0m2-2h0m2 1h0m5 1h0m5-2h0m4 4h0m6-5h0m4 3h0m3-3h0m16 2h0m3 1h0m9 2h0m12-5h0m3 0h0m10 5h0m4-4h0m2 4h0m3-5h0m5 1h0m3 3h0m9 0h0m9-1h0m9 1h0m20 1h0m2-4h0m5 2h0m7 2h0m1-5h0m16 4h0m3-3h0m26-1h0m13 5h0m-4 1h0m-1 1h0m-25 4h0m-25-3h0m-10-1h0m-3 2h0m-8 0h0m0 1h0m-28-3h0m-22 2h0m-11-1h0m-2-1h0m-12 4h0m-6-2h0m-1 1h0m-2 1h0m0-3h0m-1 0h0m-8-1h0m-69-1h0m-15 0h0m-10 5h0m0-5h0m-4 2h0m0-2h0m-8 4h0m-1-3h0m-20 2h0m-7 1h0m-18-3h0m-3 1h0m-4 2h0m-3-3h0m-1 0h0m-4-1h0m-3 1h0m-6 10h0m16 0h0m8-1h0m19-2h0m2 1h0m7-1h0m4 2h0m4 0h0m10-2h0m5 1h0m1 2h0m6 0h0m7-2h0m1-3h0m11 3h0m23 1h0m25-3h0m13 2h0m1-2h0m13 1h0m33-2h0m9 0h0m5 4h0m7-3h0m1 4h0m16 0h0m2-4h0m6 2h0m16-3h0m5 0h0m11 0h0m14 3h0m8-1h0m2 1h0m6-1h0m13 2h0m0-4h0m12 2h0m1 0h0m-13 9h0m-8-4h0m-1-1h0m-2 1h0m-20 0h0m0 2h0m-6 0h0m-4 1h0m-17-4h0m-7 1h0m-15 0h0m-1 0h0m-21 3h0m-7 1h0m-3-1h0m-6-1h0m-5 2h0m-40-1h0m-74-4h0m-8 1h0m-14 2h0m-12 1h0m-2-3h0m0 3h0m-6 1h0m-1-4h0m-2 0h0m-3 1h0m-5 1h0m-5 2h0m-4-2h0m-8-1h0m-5-1h0m-1 0h0m-6 1h0m-12 0h0m36 5h0m8 3h0m202 1h0m7-1h0m1-3h0m12 3h0m15 1h0m2-3h0m30 3h0m22-2h0m22-1h0m18 7h0m-12-1h0m-7 0h0m-21 0h0m-13 0h0m-2-2h0m-6 5h0m-1-1h0m-29 0h0m-1-1h0m-22 0h0m-231 0h0m-5-1h0m-5 2h0m-3 1h0m-8-1h0m-2-3h0m2 8h0m9-3h0m1 1h0m266 4h0m8-2h0m4-1h0m29 0h0m0 3h0m5-5h0m27 10h0m-14-2h0m-18 1h0m-5-3h0m0 2h0m-4 0h0m-4-2h0m-10 4h0m-8-4h0m-294 10h0m345-4h0m-343 6h0m-7 6h0m1 1h0m-6 20h0m0 4h0"/>
<path stroke="#22B12C" d="M657 119h0m-30 2h0m126 7h0m-7 2h0m-53-2h0m-96 2h0m50 5h0m149 8h0m-35-1h0m-74-2h0m-39-1h0m-14 0h0m182 9h0m-62 5h0m-14 1h0m-48-1h0m-26-3h0m-3 8h0m7 0h0m27-1h0m59 6h0m-78 2h0m-4-3h0m-22 4h0m-6-1h0m-12 1h0m-16-1h0m-55 6h0m9 1h0m7-1h0m4 1h0m6-1h0m39-1h0m14 2h0m19-4h0m6 0h0m3 4h0m2-3h0m12-1h0m5 1h0m16 1h0m2 2h0m84 4h0m-17 3h0m-20-1h0m-10-2h0m-16 2h0m-18-2h0m-2 1h0m-7-3h0m-2 1h0m-13 0h0m-22 1h0m-6-2h0m-2 4h0m-2-2h0m-3 2h0m-16-4h0m-7 4h0m-7-4h0m-24 4h0m-3-1h0m-15 0h0m-39 7h0m44-2h0m11-1h0m2 4h0m37-1h0m14-1h0m4 2h0m14-2h0m10 0h0m8 0h0m21 0h0m47-3h0m27 0h0m11 1h0m67-1h0m-71 7h0m-61 3h0m-17 0h0m-12-3h0m-15 0h0m-24 3h0m-17-4h0m-16 2h0m-5 1h0m-17-2h0m-5 3h0m-28-3h0m-13 3h0m-15-2h0m-10 0h0m17 8h0m5-4h0m10 4h0m2 1h0m8-1h0m7-4h0m8 2h0m16 3h0m16-4h0m18-1h0m35 0h0m32 2h0m20-1h0m10 3h0m7 0h0m25 0h0m17 1h0m2-3h0m0 2h0m13 1h0m51-2h0m21 4h0m-16-1h0m-11 4h0m-21 0h0m-48-2h0m-7 0h0m-175-1h0m-1-1h0m-36 3h0m-5 1h0m-14 0h0m-17-1h0m6 3h0m259 3h0m54-3h0m40 2h0m-38 7h0m-11 1h0m-33-3h0m-4 0h0m-267 2h0m-3-2h0m-2 4h0m0-1h0m-2-4h0m-3 6h0m0 4h0m2-3h0m307 1h0m3 0h0m-314 7h0m-7 8h0m3-3h0m1-1h0"/>
<path stroke="#EC720E" d="M579 81h0m-19 2h0m-33 2h0m54 4h0m69 0h0m14 0h0m-40 4h0m-27-2h0m-1 0h0m-1 1h0m-3-2h0m-3 4h0m-5 0h0m-1 1h0m-1-3h0m-2-2h0m-4 4h0m-2-1h0m-1-2h0m-3 3h0m-6 1h0m-4-4h0m-1-1h0m-2 2h0m-3-2h0m0 2h0m-2 1h0m-5 0h0m-6 2h0m-2-4h0m-3 4h0m-1 0h0m0-3h0m0-1h0m-1 4h0m-9-1h0m-10 4h0m2 0h0m2 2h0m2-3h0m1 3h0m1-4h0m0 2h0m2 3h0m2 0h0m2-3h0m5 2h0m3 1h0m0-4h0m10 1h0m11 0h0m20-1h0m4-1h0m4 4h0m4-4h0m4 0h0m17 2h0m1-1h0m0 2h0m4-1h0m17-2h0m11 4h0m2-1h0m3-2h0m8 3h0m10 0h0m2 1h0m3-1h0m4-4h0m44 6h0m-3 0h0m-14 5h0m-20-5h0m-3 3h0m-4 2h0m-31-4h0m-5 4h0m-3-2h0m-3-3h0m-5 4h0m-1-2h0m-2 3h0m-10-3h0m-1-2h0m-5 4h0m-26-1h0m-11-3h0m-13 4h0m-4-2h0m0 2h0m-3-4h0m-5 2h0m-18-1h0m-6 4h0m0-3h0m-3-2h0m-3 0h0m-2 2h0m-1 1h0m0 2h0m-1 1h0m1 3h0m67-3h0m61 3h0m27-2h0m17 4h0m14-4h0m74 3h0m0-3h0m5 2h0m-18 4h0m-1 3h0m-15 1h0m-2-1h0m-8-4h0m-24 4h0m-30-2h0m-2 1h0m-6 1h0m-166-4h0m0 9h0m205 2h0m2-5h0m1 4h0m22-1h0m26 0h0m28-3h0m5 4h0m26-1h0m-1 7h0m-22-3h0m-15 1h0m-8-2h0m-20 0h0m-13 2h0m-56-1h0m-49 0h0m-131 3h0m0-1h0m-2-2h0m0 4h0m-1 6h0m1-3h0m0 3h0m211-1h0m73 0h0m3-3h0m3 1h0m9-1h0m16 4h0m21 2h0m-30 4h0m-23-5h0m-36 3h0m-6-3h0m-41 3h0m-17 2h0m-31-5h0m-23 4h0m-129 0h0m244 7h0m22-2h0m28-1h0m30 6h0m-17 2h0m-28-3h0m-64 1h0m-17 1h0m0-1h0m-200 3h0m0 6h0m150-1h0m5 1h0m37-4h0m16 0h0m113 9h0m-38-4h0m-28 1h0m-50 0h0m-206 9h0m273-3h0m121 14h0"/>
<path stroke="#66F0F0" d="M624 172h0m29 0h0m44 2h0m-2 5h0m-22-3h0m-11 2h0m-29-3h0m-19 5h0m71 5h0m-60 2h0m-10 3h0m-7 0h0m178 7h0m7 12h0"/>
<path stroke="#2A6CF8" d="M663 95h0m-81 4h0m11 2h0m3 0h0m7-2h0m16 1h0m1 0h0m7 0h0m108 4h0m-21 2h0m-7 1h0m-26-1h0m-5-2h0m-17 2h0m-12-4h0m-15 2h0m-8 2h0m-17 1h0m-1-1h0m-7-2h0m-2 1h0m-1-2h0m-2 4h0m-3-3h0m-1 3h0m-4-4h0m-7 4h0m-1 0h0m-7-5h0m-5 4h0m-10 1h0m-4-1h0m-1-4h0m-2 4h0m-3-2h0m-4 0h0m-2 3h0m-18 0h0m-2 6h0m0-5h0m2 3h0m1-1h0m3 3h0m1-4h0m3 4h0m3-2h0m1 2h0m3-3h0m11-1h0m3 4h0m1-4h0m3 0h0m1 4h0m2-2h0m2-2h0m4-1h0m4 4h0m4-4h0m3 5h0m10-2h0m2-1h0m3 1h0m14 1h0m4-2h0m2 3h0m50-5h0m7 0h0m3 2h0m20-2h0m8 2h0m9 2h0m25-1h0m27 0h0m8-1h0m14 0h0m2 1h0m32 7h0m-17-4h0m-37 2h0m-8 2h0m-28 0h0m-29 0h0m-1 1h0m-15-5h0m-1 5h0m-39-3h0m0 3h0m-11-2h0m-13-2h0m-3 3h0m-10-2h0m-2 0h0m-2-1h0m-22 0h0m-5 4h0m0-2h0m-2-3h0m-2 4h0m-5-1h0m-2-2h0m-2 4h0m-2-5h0m-3 1h0m-4 0h0m-7 1h0m-10-1h0m-3 2h0m-3-1h0m-4 3h0m-1-5h0m0 4h0m-2-1h0m-4-1h0m-2 0h0m-2 2h0m-2 3h0m2 2h0m2-3h0m2 0h0m2 2h0m2-2h0m2 2h0m0-1h0m1 2h0m0-1h0m3 3h0m1-3h0m0-2h0m15 5h0m2-3h0m3-2h0m1 2h0m1 0h0m1 1h0m25 1h0m3-2h0m8 2h0m12 0h0m18-1h0m0-2h0m13 3h0m11 1h0m2-2h0m2 0h0m61-2h0m35-1h0m5 1h0m10 3h0m17-1h0m14-3h0m31 1h0m2 5h0m0 2h0m-25-2h0m-74 3h0m-1-3h0m-34 4h0m-47-1h0m-47-3h0m-2 1h0m-24 1h0m-8-2h0m-2 5h0m-16-1h0m-3-2h0m-3 0h0m-2 1h0m-1-1h0m-9 3h0m-6-4h0m0 3h0m-1-1h0m-1 1h0m-4-3h0m0-1h0m3 10h0m4-1h0m1-1h0m1 0h0m5 3h0m0-5h0m8 1h0m2 0h0m2 1h0m14 1h0m2-2h0m1 4h0m5-2h0m9-3h0m52 1h0m4 4h0m4-3h0m27 3h0m4-3h0m4 1h0m7-2h0m22 2h0m26-1h0m7 3h0m16-4h0m8 1h0m42 3h0m0-3h0m45 9h0m-7 0h0m-10 0h0m-2-3h0m-4 0h0m-16 3h0m-43 0h0m-16 0h0m-15-3h0m-23 0h0m-23 2h0m-44-1h0m-89 1h0m0-2h0m-26 0h0m-8 2h0m-3-1h0m3 3h0m4 5h0m4-1h0m3 0h0m1-2h0m1 0h0m164 0h0m32 2h0m51-3h0m15 1h0m78 9h0m-38-5h0m-2 3h0m-7 1h0m-12-2h0m-48 2h0m-26-3h0m-20 2h0m-6-2h0m-178 0h0m-9 1h0m-1-2h0m-3 2h0m-1-1h0m-3 2h0m-1-2h0m-1 4h0m32 6h0m30-5h0m9 4h0m103 1h0m63-2h0m7 2h0m2-3h0m18 3h0m10-3h0m7-1h0m7 2h0m14 1h0m45-3h0m10 9h0m-45-1h0m-34-3h0m-15 4h0m-15-4h0m-6 4h0m-23-2h0m-14 1h0m-29-3h0m-6 2h0m-15 2h0m-8-3h0m-147 3h0m0-1h0m-1 2h0m0-1h0m0 2h0m265 0h0m38 5h0m28-4h0m25 0h0m-6 7h0m-12 3h0m-24-5h0m-19 0h0m-10 1h0m-19 4h0m-44-5h0m-12 4h0m-128-3h0m-83 3h0m0 6h0m172-3h0m31 0h0m29 2h0m41-1h0m23 1h0m28-1h0m14 1h0m25 4h0m-11 1h0m-49 1h0m-27 2h0m-47-5h0m-31 5h0m-68-1h0m-3-3h0m-54 0h0m-73 4h0m0 2h0m0 2h0m160-3h0m29 0h0m7 2h0m19 1h0m139 1h0m-9 6h0m-6-3h0m-41 0h0m-5 4h0m-16-4h0m-19 0h0m-214 0h0m-44 5h0m284 2h0m3 2h0m56 6h0m-9-2h0m-17 2h0m14 5h0m6 0h0m-336 7h0m6 13h0m-3 0h0m-3 0h0m-1 4h0m6 7h0m-5-4h0m0 4h0m2 6h0m3 2h0m-3 0h0m-2 14h0m2 9h0m2-5h0m14 1h0m-19 23h0m1 2h0"/>
<path stroke="#F3324A" d="M635 93h0m104 14h0m-18-3h0m-102 9h0m10 0h0m7 0h0m17 0h0m16 0h0m19 6h0m-5-3h0m-11 3h0m-5 0h0m-6-2h0m-3-1h0m-8 3h0m-3-1h0m-20-4h0m-2 4h0m-1-3h0m-1 3h0m-1-4h0m-4 1h0m-8 1h0m-1 3h0m-2-2h0m-11 2h0m-3 0h0m-1-3h0m-3 3h0m-11 0h0m-11 5h0m2-2h0m2 1h0m8 2h0m5-3h0m4 3h0m3-2h0m4-3h0m7 5h0m3 0h0m1-2h0m4-2h0m10-1h0m1 1h0m4 1h0m5 1h0m6 1h0m6 1h0m1-5h0m1 1h0m3-1h0m8 1h0m7 4h0m2 0h0m1-5h0m6 3h0m0-1h0m22-1h0m5 2h0m3 0h0m1 1h0m17-3h0m6 1h0m5 0h0m12 0h0m4-2h0m17 1h0m8 1h0m4 2h0m17 6h0m-2-4h0m-3 2h0m0 2h0m-6-1h0m-5 1h0m-2-1h0m-2-2h0m-10 4h0m-8-4h0m-1 4h0m-1-5h0m-17 5h0m-7 0h0m-10-2h0m-7-2h0m-10 1h0m-3-2h0m-2 2h0m-9 3h0m-19-5h0m-1 2h0m0-2h0m-5 5h0m0-2h0m-5-1h0m-3 1h0m-5-2h0m-20 2h0m-5 2h0m-14-5h0m0 4h0m-6-3h0m-15 3h0m-9-1h0m-2-3h0m-26 4h0m-3-3h0m-9 4h0m-3 3h0m5 2h0m3-2h0m3 0h0m8 2h0m2-1h0m23 2h0m0-5h0m2 3h0m8 1h0m1-2h0m6 3h0m7-1h0m6 0h0m1 0h0m5-1h0m7 0h0m4 0h0m3-3h0m3 1h0m0 1h0m8 2h0m0-2h0m1 2h0m2-4h0m9 1h0m9-1h0m6 3h0m3-3h0m11 2h0m7 0h0m13 3h0m5 0h0m6-5h0m2 3h0m19 0h0m13-3h0m3 0h0m5 3h0m2-1h0m1-2h0m1 3h0m4-1h0m3-2h0m10 5h0m29-1h0m2 1h0m1-5h0m17 10h0m-21 0h0m-1-4h0m-4 3h0m-9-1h0m-12 3h0m-2-5h0m-9 4h0m-1-4h0m-2 1h0m0 3h0m-1 0h0m-7 0h0m-11-1h0m-12 2h0m-2-3h0m-5 1h0m-1 2h0m-7-4h0m-3 1h0m0 3h0m-5-2h0m-13 0h0m-3 1h0m-12-1h0m-2-3h0m-5 0h0m-4 0h0m-5 4h0m-1 1h0m-5 0h0m-3 0h0m-8-4h0m-3 4h0m-22-1h0m-4-2h0m-4 3h0m-4 0h0m-1 0h0m-2-3h0m-14 2h0m-4-2h0m-3-1h0m-3 3h0m0-2h0m-4 3h0m-6-1h0m-2-1h0m-2 2h0m-2-4h0m0 3h0m-1-2h0m-4-2h0m-2 3h0m-7 0h0m-3 1h0m0-1h0m-2 0h0m-1 0h0m-1-2h0m-4-1h0m0 4h0m-1-2h0m-18-1h0m-2 1h0m-5 3h0m6 5h0m1 1h0m1 0h0m2-4h0m3 4h0m1-3h0m10 1h0m12-2h0m2-1h0m0 2h0m2 1h0m1-3h0m0 4h0m14-1h0m1-3h0m2 2h0m0-2h0m0 3h0m4-2h0m5 4h0m5-4h0m2 1h0m4 0h0m3 2h0m3-1h0m0-1h0m5 1h0m14 2h0m13-2h0m20-3h0m5 1h0m1 4h0m5-1h0m2-1h0m6-1h0m6-1h0m5 0h0m14-1h0m0 3h0m1 2h0m0-1h0m2 1h0m5-2h0m2-2h0m2 2h0m1 1h0m11 0h0m10-1h0m3 2h0m1 0h0m20-4h0m3-1h0m11 1h0m7 2h0m3-2h0m7 0h0m23 1h0m13 3h0m1-2h0m4 0h0m1-3h0m2 1h0m8 6h0m-3 3h0m-11-3h0m-8-1h0m-9 1h0m-12 1h0m-3 2h0m-5-3h0m-4 4h0m-3 0h0m0-5h0m-11 5h0m-3-2h0m-13 1h0m-3-1h0m-6 2h0m-1-3h0m-2 3h0m0-2h0m-9-1h0m-1 2h0m-2-2h0m0-1h0m-13 3h0m0 1h0m-4-5h0m0 4h0m-2-3h0m-3-1h0m-3 0h0m-6 4h0m-3-4h0m-6 4h0m-4-4h0m-12 4h0m-6-3h0m-1 1h0m-5-1h0m-11-1h0m-3 1h0m-9 0h0m-6 4h0m0-3h0m-3 1h0m-10 2h0m-1-3h0m-3-2h0m-5 3h0m-11-2h0m-11 3h0m-1-2h0m-6-1h0m-1 4h0m-5-5h0m-6 4h0m-2-2h0m-2 0h0m-1 3h0m-1-1h0m-1-4h0m-9 2h0m-10-2h0m-8 4h0m-4 1h0m-2-5h0m0 4h0m-3 1h0m0-5h0m-3 3h0m-3-1h0m-10 2h0m4 4h0m8-1h0m1 2h0m3 2h0m1-5h0m0 4h0m5-2h0m3 1h0m8 0h0m3 2h0m4-2h0m2-1h0m7-1h0m4 3h0m4-1h0m0-2h0m11 0h0m7-1h0m19 1h0m4 3h0m1-3h0m5-1h0m7 2h0m1-1h0m27 1h0m6-1h0m3 2h0m1-1h0m1-1h0m5 4h0m6-4h0m1 0h0m4 2h0m4 1h0m4-2h0m2 0h0m4-2h0m3 4h0m4-1h0m3 1h0m2 0h0m1-2h0m7 3h0m11-2h0m4-1h0m5 1h0m8-2h0m1 2h0m7-2h0m11 3h0m15-1h0m7-2h0m14-1h0m2 0h0m3 5h0m15-2h0m8-2h0m4-1h0m4 3h0m16 0h0m13-1h0m1 1h0m-15 4h0m-5 4h0m-7-2h0m-10-2h0m-13 0h0m-1 1h0m-2 3h0m-2-1h0m-14-1h0m-1 1h0m-22-3h0m-3 3h0m-3 1h0m-2-1h0m-5-2h0m-5 3h0m-1-3h0m-6 1h0m-4 1h0m-1-3h0m-1 4h0m-6-4h0m-2 0h0m-1 4h0m-14-1h0m-3 1h0m-5-2h0m-4-2h0m-4-1h0m-9 4h0m-8 1h0m0-2h0m-7-3h0m-12 1h0m-6 0h0m-2 1h0m-2-2h0m-4 5h0m-1-1h0m-1-2h0m-21-2h0m-1 5h0m-4-2h0m-6-2h0m-1 3h0m-3-3h0m-4 2h0m-9-2h0m-9 0h0m-4 0h0m-3 4h0m-3-2h0m-3 1h0m-3-4h0m-1 4h0m-2 0h0m-3 1h0m0-5h0m0 3h0m-6 1h0m-4-4h0m-5 0h0m-4 3h0m-5-1h0m-1 2h0m0-3h0m0 4h0m-1-5h0m0 4h0m-6-1h0m-1 2h0m0-2h0m-2 1h0m-3-3h0m-7 1h0m-6 4h0m6 3h0m2 1h0m3 1h0m2-5h0m3 1h0m1 2h0m14-3h0m1 2h0m2 1h0m21-1h0m4 0h0m9 2h0m1-2h0m6-2h0m1 5h0m5-1h0m4-4h0m0 3h0m15-1h0m14 1h0m3-1h0m2 0h0m5-2h0m16 1h0m2 0h0m2 1h0m2 1h0m35-1h0m1-2h0m8 0h0m10 3h0m3 1h0m11-4h0m0 4h0m5 0h0m3 1h0m6-3h0m6 3h0m1-1h0m3 1h0m5-2h0m0-1h0m5 2h0m11-3h0m9 3h0m11 0h0m10-2h0m1-1h0m13 4h0m6-3h0m2 0h0m7 1h0m16-1h0m3 2h0m7 0h0m3-1h0m1 2h0m5-4h0m-5 8h0m-10 2h0m-12-2h0m-1 0h0m-3-3h0m-18 4h0m-4-4h0m-7 2h0m-4 1h0m-13 1h0m-4-2h0m-11 1h0m-5 0h0m-3 0h0m-3-3h0m-5 1h0m-7 0h0m-3 1h0m-10 3h0m-6-5h0m-8 2h0m-6-2h0m-4 1h0m-2 1h0m-2-1h0m-2 1h0m-5-1h0m0 4h0m-16 0h0m-11-5h0m-7 1h0m-10-1h0m-13 0h0m-8 1h0m-3-1h0m-4 2h0m-4-2h0m-6 2h0m-28-1h0m-16-1h0m-2 3h0m-3-1h0m-2-1h0m-7 4h0m-11-3h0m-1-1h0m-3 3h0m-1 1h0m-25-1h0m-3-1h0m-3 2h0m-10 4h0m4-1h0m4-1h0m4 4h0m7-4h0m16 1h0m0-2h0m1 5h0m3-3h0m1-2h0m3 0h0m2 2h0m2-2h0m161 0h0m10 4h0m24 1h0m0-1h0m3 1h0m21-3h0m4-1h0m5 1h0m3-2h0m1 4h0m14-4h0m2 1h0m0 2h0m4 1h0m25 0h0m11-1h0m16 0h0m11 2h0m3-3h0m-3 4h0m-19 1h0m-2 4h0m-4-5h0m-2 1h0m-14 4h0m-1-4h0m-6-1h0m-3 1h0m-13 3h0m-2 0h0m-15-3h0m-4 4h0m-1-3h0m-4 0h0m-10 2h0m-3-3h0m-232 3h0m-2-4h0m-1 1h0m-8 4h0m-1-4h0m-7 4h0m-8-4h0m1 8h0m1-2h0m6 3h0m3-4h0m2 0h0m2 1h0m0 4h0m3-3h0m253-1h0m3-1h0m7 2h0m5-2h0m5 0h0m8 3h0m8-2h0m0-1h0m1 4h0m2-4h0m0 3h0m5 0h0m14-2h0m23 4h0m5-1h0m5 0h0m12 3h0m-17 3h0m-5-4h0m-1 0h0m-17 3h0m-23-2h0m-6 4h0m-8-5h0m-3 1h0m-277-1h0m-3 0h0m0 4h0m-11 2h0m1 0h0m2 0h0m3 4h0m1-4h0m296 0h0m22 1h0m5 0h0m1 0h0m20-1h0m-24 6h0m-326 1h0m-5-1h0m-2 0h0m-3 7h0m2 1h0m6 2h0m-3 3h0m-3 3h0m-1-1h0m0-2h0m-1-1h0m1 7h0m1 2h0m1 1h0"/>
<path stroke="#22B12C" d="M600 118h0m33 7h0m67 1h0m-77 0h0m-3 4h0m33 2h0m41 1h0m67 1h0m5-1h0m38 6h0m-5 2h0m-60 1h0m-34 0h0m-17 0h0m-9 1h0m-66-1h0m37 2h0m169 2h0m9 2h0m-51 6h0m-107 5h0m35 1h0m1 1h0m43-2h0m97-2h0m12 7h0m-95 0h0m-87-2h0m-74 5h0m-18 0h0m-36 6h0m34 0h0m12-5h0m11 5h0m9-3h0m12-2h0m28 4h0m1-1h0m2 0h0m2-3h0m16 5h0m18-2h0m1 0h0m0 2h0m17-2h0m131-3h0m18 10h0m-57-4h0m-40 5h0m-5-3h0m-13 1h0m-46 1h0m-24-1h0m-1-3h0m-4 4h0m-7-4h0m-12 2h0m0 1h0m-6 1h0m-17-2h0m-23-2h0m-30 4h0m-18 1h0m-14 6h0m21 0h0m16 0h0m10-4h0m16-1h0m19 4h0m1 0h0m6-4h0m8 3h0m20-3h0m0 2h0m21 0h0m16 0h0m10 3h0m4 0h0m40-5h0m12 0h0m23 10h0m-3-2h0m-12-1h0m-18 0h0m0 3h0m-8-1h0m-1 0h0m-2 1h0m-1-3h0m-17 3h0m-12-3h0m-10 1h0m0 1h0m-8 2h0m-11-1h0m-13-4h0m-15 2h0m-12 0h0m0 1h0m-12 2h0m-3-2h0m-1 2h0m0-5h0m-5 0h0m-5 2h0m-10 0h0m-1 3h0m-1-5h0m-9 4h0m-2 0h0m-19-3h0m-10 1h0m-12 1h0m-5-1h0m-8-2h0m-5 3h0m-2 6h0m1-2h0m2-1h0m2 3h0m5 1h0m6-2h0m3-1h0m3 0h0m6 0h0m2 1h0m2 0h0m12-1h0m9 1h0m39-1h0m44 1h0m19 0h0m47-1h0m0 2h0m3-2h0m3 1h0m5-1h0m10 1h0m18-2h0m54 4h0m22 0h0m40 4h0m-25 1h0m-72 2h0m-21-5h0m-173 0h0m-16 2h0m-21-1h0m-18 0h0m-11 3h0m-3-1h0m0 2h0m-1-3h0m-5 3h0m5 6h0m5-1h0m243-2h0m12-1h0m11 1h0m27 3h0m0-5h0m5 3h0m27 2h0m15-3h0m-28 9h0m-321 0h0m-7-3h0m-1 3h0m6 2h0m318 0h0m4 1h0m-332 8h0m-2-2h0m-2 7h0m-5 18h0m-1 1h0m0 3h0"/>
<path stroke="#EC720E" d="M573 80h0m-57 9h0m36-3h0m11-1h0m8 4h0m2 0h0m2-1h0m38-1h0m12 1h0m40 5h0m-2-3h0m-23 5h0m-14-3h0m-6 3h0m-5-1h0m-4-4h0m-2 4h0m-3-1h0m-9 2h0m-1-2h0m-6-2h0m-3 3h0m-1-1h0m-3-2h0m-3 0h0m-2-1h0m-2 3h0m-1-2h0m-9 4h0m-5-5h0m-1 5h0m-1-4h0m-4 2h0m-6 1h0m-2 0h0m-3-1h0m0 1h0m-1 1h0m-8-2h0m-5 0h0m-1 2h0m-3-3h0m0 2h0m-5 1h0m-8-3h0m2 8h0m0-1h0m4-2h0m1 3h0m2 1h0m4-4h0m3 4h0m1-1h0m1-3h0m3 0h0m0 2h0m4 2h0m1 0h0m2 0h0m2-5h0m1 1h0m0 2h0m2 2h0m5-2h0m1-2h0m0 2h0m1-3h0m3 0h0m0 2h0m1 2h0m5-3h0m2 4h0m2-2h0m2 2h0m0-5h0m1 3h0m3 1h0m4 1h0m4-3h0m4-2h0m5 3h0m2-2h0m1 1h0m3-1h0m1 3h0m3-4h0m0 4h0m2-2h0m4-2h0m1 2h0m1 2h0m10-4h0m1 5h0m2-3h0m1 0h0m1-1h0m4 1h0m2 2h0m3-4h0m3 2h0m7 3h0m5-1h0m4 1h0m2-3h0m0-2h0m1 5h0m5-4h0m18 1h0m3 1h0m5-1h0m12 2h0m56 6h0m-22-2h0m-11 1h0m-14-2h0m-12 4h0m-8-3h0m-6 0h0m-3-1h0m-9 3h0m-6 1h0m-9-1h0m-1-3h0m-1 3h0m-2-4h0m-1 4h0m-4-2h0m-4-2h0m-2 2h0m-11-1h0m-1 1h0m-2 2h0m0-1h0m-7-2h0m-5 0h0m-2 0h0m-4-1h0m-2 3h0m-1-2h0m-7-1h0m-12 1h0m-1 2h0m-1-2h0m-4-1h0m-7 5h0m-2-2h0m-11-2h0m-13 0h0m-2 3h0m-5-1h0m-1 1h0m-4 0h0m-1-1h0m0-1h0m-4 2h0m-2-2h0m-6 1h0m-2 1h0m-5 0h0m0-1h0m-2 7h0m0-1h0m2-3h0m1 4h0m4-2h0m1-2h0m0 1h0m80-1h0m11 0h0m4 0h0m5 2h0m8-1h0m3 0h0m10 1h0m3-2h0m14 5h0m8-5h0m2 2h0m15 3h0m2 0h0m10-1h0m18-1h0m1-1h0m2-1h0m2 1h0m3-2h0m90 10h0m-30-1h0m-12 2h0m-23-4h0m-2 0h0m-2 0h0m-16 4h0m-12-4h0m-2 0h0m-2 4h0m-5-4h0m-7-1h0m-3 3h0m-1 0h0m-6 2h0m-3-5h0m-6 5h0m-9-3h0m-4-2h0m-151 3h0m-2-1h0m-1-2h0m-1 5h0m-1-1h0m0 1h0m0 3h0m176-2h0m17 2h0m6 3h0m28-2h0m13-2h0m21-1h0m21 3h0m6 0h0m8-1h0m2-2h0m17 7h0m-20 2h0m-57-2h0m-93 2h0m-4 0h0m-140-1h0m-1 0h0m-1 2h0m191 6h0m74 1h0m6-4h0m35 0h0m26 5h0m-23 5h0m-16-4h0m-8 3h0m-286-4h0m-1 8h0m0 2h0m150 0h0m185 5h0m-69-3h0m-6 5h0m-86-1h0m-174-3h0m-1 0h0m0 5h0m1 3h0m305-3h0m2 0h0m26 1h0m25 4h0m-33 6h0m-27 0h0m-40-4h0m-4 2h0m-13-1h0m-242 5h0m0 2h0m286-1h0m6 3h0m2-5h0m40 2h0m26 1h0m-55 11h0m89 0h0"/>
<path stroke="#66F0F0" d="M644 179h0m-49 0h0m141 6h0m7-2h0m31 2h0m-48 4h0m-41-1h0m-6 0h0m-31 3h0m-28 0h0m-26-5h0m19 10h0m190-1h0"/>
<path stroke="#2A6CF8" d="M667 95h0m-42 0h0m-35 5h0m1 1h0m7-1h0m6 1h0m3 0h0m7-5h0m1 4h0m14-2h0m14 3h0m5-3h0m1 3h0m17-5h0m27 5h0m40 4h0m-46-3h0m-8 5h0m-16-3h0m-1-1h0m-7 0h0m-1-1h0m-15 5h0m-12-4h0m-4-1h0m-4 3h0m-2 0h0m-8 0h0m-8-1h0m-5 3h0m-3-1h0m-6-3h0m-4 1h0m-7 2h0m-6-1h0m-3-3h0m-1 1h0m-2 1h0m-1-1h0m-1 2h0m-17-1h0m0 2h0m-7-2h0m-3 0h0m-1 2h0m-4 0h0m-11 7h0m4-1h0m4-1h0m2-3h0m1 4h0m5-4h0m1 4h0m2 1h0m3-2h0m1-1h0m3-1h0m0 3h0m3 0h0m3-2h0m4-2h0m3 1h0m8 0h0m3-1h0m1 2h0m14 1h0m2-1h0m3 1h0m9-1h0m2-1h0m10 0h0m2 1h0m1 0h0m8 0h0m2 1h0m4 0h0m2 0h0m1-2h0m18-1h0m6 4h0m2 0h0m3-3h0m0 1h0m1 0h0m3 2h0m13-4h0m2 3h0m8 1h0m2 0h0m7-2h0m11 0h0m12-2h0m5 0h0m6 5h0m21 0h0m3-4h0m28 3h0m14 6h0m-5-2h0m-2-1h0m-12 2h0m-1 0h0m-10 0h0m-6 2h0m-5-5h0m-22 4h0m-16 1h0m-6-1h0m-17 0h0m-16-4h0m-11 1h0m-7 1h0m-9 0h0m-2 0h0m0-1h0m-12 2h0m-3-2h0m-6 2h0m-16 2h0m-9-5h0m-1 1h0m-15 4h0m-2-2h0m-4 1h0m0-2h0m-13 3h0m-1-4h0m-1-1h0m-6 2h0m-1-1h0m0-1h0m-6 2h0m-4 2h0m-3-4h0m-2 0h0m-4 5h0m0-3h0m-13 0h0m-5 1h0m-3-2h0m-3 2h0m-3-1h0m1 9h0m8 0h0m9 0h0m0-2h0m1-1h0m2 3h0m0-5h0m7 4h0m0-2h0m1-1h0m3 2h0m1 1h0m3-4h0m3 4h0m2-2h0m5 0h0m1 2h0m2-1h0m9 1h0m2 1h0m1-5h0m6 0h0m2 5h0m6-4h0m1 0h0m6 3h0m2 0h0m2-3h0m2 0h0m13 1h0m6-1h0m0 1h0m9 0h0m21 1h0m41 0h0m3 1h0m20-1h0m10-1h0m7-1h0m3 1h0m3-1h0m10 0h0m12-1h0m8 2h0m20-1h0m4 0h0m13 4h0m6-2h0m3 0h0m3 1h0m2 1h0m3-2h0m13 4h0m-9 0h0m-2-1h0m-19 0h0m-1 4h0m-8-2h0m-1 1h0m-46 1h0m-5-1h0m-13-3h0m-2 5h0m-8-1h0m-24-3h0m-1 4h0m-11-1h0m-3 1h0m-4-4h0m-21 4h0m-8-2h0m-29 1h0m-19-1h0m-12 1h0m-24-4h0m-3 4h0m-6-2h0m-2 0h0m-2-1h0m-1 2h0m-3 2h0m-1-4h0m-1-1h0m-6 0h0m-3 3h0m-5-2h0m-3 1h0m-3 1h0m-3-2h0m-1 2h0m0-2h0m-1 3h0m-2-3h0m0 4h0m0-5h0m-1 5h0m0-2h0m-2-3h0m-7 8h0m0 3h0m1-3h0m2 3h0m2-5h0m1 0h0m6 5h0m4-4h0m3 3h0m2-3h0m2 3h0m0-2h0m2 0h0m0-1h0m9 3h0m5-1h0m7-2h0m0 2h0m1 1h0m1 0h0m3-2h0m4-2h0m62 5h0m23-3h0m3 0h0m30 1h0m14 2h0m72-2h0m22 2h0m0-2h0m22 0h0m3 1h0m6-3h0m29 9h0m-6-1h0m-3 1h0m-13-4h0m-2 0h0m-2 2h0m-17 3h0m-30-3h0m-4-2h0m-2 5h0m-6-2h0m-8-3h0m-7 3h0m-29 0h0m-19 1h0m-4 1h0m-22 0h0m-30-5h0m-59 0h0m-25 0h0m-17 3h0m-4 1h0m-3-3h0m-4 1h0m-7 1h0m-2-1h0m-6-2h0m-3 3h0m0-3h0m-1 2h0m-3 2h0m-1-4h0m0 4h0m-5 4h0m3 1h0m3 0h0m0 2h0m2-5h0m8 4h0m2-4h0m9 0h0m1 0h0m119 3h0m19-2h0m2 0h0m26 0h0m32-1h0m28 5h0m1 0h0m14-5h0m66 2h0m14 5h0m-8 1h0m-1 3h0m-10 0h0m-14-5h0m-4 1h0m-8-1h0m-19 2h0m-13-2h0m-3 4h0m-4-1h0m-22-3h0m-8 1h0m-32 1h0m-27 0h0m-116 0h0m-40 1h0m-7 0h0m-6 2h0m-4 0h0m0-5h0m-1 5h0m-1 6h0m4-2h0m1-3h0m1 2h0m1 2h0m1-4h0m1 2h0m3-1h0m2 0h0m116 2h0m17-3h0m27 2h0m24 3h0m20 0h0m34-4h0m6 1h0m3-1h0m4 1h0m12 1h0m31-1h0m2 2h0m4 1h0m3-1h0m5-2h0m1 1h0m7 2h0m17 6h0m-22-5h0m-51 2h0m-14 0h0m-19 2h0m-31-2h0m-94 2h0m-110-2h0m-3 0h0m-1 3h0m-1-5h0m-2 11h0m2-3h0m1 3h0m2-4h0m19 1h0m218 2h0m51 0h0m6-2h0m8-2h0m30 4h0m31 5h0m-41-3h0m-16 0h0m-5 3h0m-23 1h0m-106 1h0m-36-4h0m-104 3h0m-36-1h0m0 1h0m-1 1h0m-1-3h0m0 6h0m0-2h0m1 4h0m0-2h0m1-2h0m170 5h0m87-5h0m34 3h0m7 1h0m17-4h0m23 5h0m29-1h0m-25 7h0m-12-5h0m-6 5h0m-10-2h0m-121 1h0m-25 1h0m-92-4h0m-77 3h0m-1-3h0m0 2h0m1 5h0m0 2h0m37 0h0m27-4h0m92 0h0m44 1h0m9-1h0m1 2h0m9-2h0m1 1h0m18 2h0m13 2h0m6 0h0m7-3h0m9 0h0m44-1h0m35 2h0m-6 6h0m-73 1h0m-6-3h0m-22 0h0m-245 3h0m-1-2h0m343 7h0m-28 6h0m-19-2h0m-295 20h0m1 9h0m0 16h0m3 4h0m0 6h0"/>
<path stroke="#F3324A" d="M642 96h0m31 2h0m4 1h0m7 1h0m35 6h0m-13-3h0m-97 9h0m4 1h0m101 4h0m-9-1h0m-14 0h0m-1-1h0m-2 2h0m-3-2h0m-1 1h0m-8 2h0m-21 0h0m-2 0h0m-15-2h0m-6 3h0m-5-3h0m-12 1h0m-2-1h0m-2 2h0m-6 1h0m-18-4h0m-6 2h0m-1 0h0m-16 6h0m7 2h0m5-1h0m3-2h0m1 1h0m2-3h0m1 3h0m12-1h0m6 0h0m3-2h0m2 1h0m8 2h0m1 0h0m5 2h0m9-3h0m2 1h0m0-2h0m0 4h0m7-1h0m2-3h0m12 2h0m0-1h0m7 2h0m13 0h0m3-2h0m0-1h0m3 1h0m8 1h0m2-1h0m9 0h0m11 1h0m2 0h0m4-2h0m20 1h0m2-2h0m29 3h0m2 2h0m22 4h0m-17 0h0m-15 0h0m-3-1h0m-1-1h0m-4 4h0m-3-5h0m-5 5h0m-10-3h0m-28 3h0m-11-2h0m-4-3h0m-1 3h0m-9 0h0m-1-3h0m-1 5h0m-7-2h0m-11 0h0m-12-1h0m-3 1h0m-1-3h0m-3 5h0m-2-1h0m-1-2h0m-7-1h0m-2 0h0m-1 1h0m-2 1h0m-4-1h0m0-1h0m-5 3h0m-1-4h0m-7 2h0m-1 1h0m-11-1h0m-1-1h0m-1 4h0m-1-5h0m-2 5h0m-3 0h0m-2-4h0m-1 0h0m-1 3h0m-1-4h0m-10 2h0m-2 0h0m-3 2h0m-3 1h0m-1-3h0m-2 3h0m-2-4h0m-3 2h0m0 1h0m-13 1h0m-13 4h0m5 1h0m4-2h0m0 2h0m1-3h0m1 0h0m7 0h0m5 4h0m0-1h0m5-3h0m4 2h0m4 2h0m1-3h0m0-2h0m4 0h0m2 3h0m1-3h0m8 2h0m3 0h0m1 2h0m3-4h0m3 5h0m0-5h0m2 1h0m1 2h0m7 2h0m5-3h0m1 0h0m9 2h0m3-3h0m2-1h0m16 3h0m3-1h0m7 1h0m1-2h0m6 4h0m6-1h0m7-4h0m4 4h0m3 1h0m0-3h0m1-2h0m1 2h0m9 1h0m8 1h0m13 0h0m3-1h0m10 0h0m2-2h0m1 2h0m9 0h0m17 2h0m1-5h0m7 4h0m3-2h0m6 3h0m3-4h0m16 1h0m7 1h0m0-2h0m37 8h0m-7-2h0m-2 1h0m-4-2h0m-5 0h0m-5 0h0m-20 4h0m-6-2h0m-3-1h0m0 2h0m-2-2h0m-5 0h0m0-1h0m-29 5h0m-7-3h0m-1 2h0m-3-4h0m-17 2h0m-7-2h0m-2 0h0m-4 3h0m0-1h0m-1-2h0m-13 5h0m-1-3h0m-13 1h0m-2 0h0m-1-1h0m-6-2h0m-3 5h0m-4-3h0m0-1h0m-1 3h0m0-1h0m-2-3h0m-1 5h0m-9-4h0m0 4h0m-6-2h0m-3 0h0m-2 2h0m-5-4h0m0 3h0m-4-1h0m-3 0h0m-8 1h0m-8-1h0m0-3h0m-5 3h0m-11-1h0m-1-2h0m-1 0h0m-4 1h0m-1 3h0m-1-4h0m-3 0h0m-4 2h0m-1 1h0m-1-1h0m-5-1h0m-1 0h0m-6 1h0m-3 3h0m-10-4h0m-6 4h0m-1-4h0m-2-1h0m-1 3h0m-8 0h0m0 2h0m-5 0h0m-3-2h0m1 7h0m2-4h0m1 2h0m1-2h0m2 1h0m0 2h0m3 2h0m5-5h0m0 2h0m1 2h0m2-4h0m0 3h0m2-1h0m2 1h0m3 2h0m2-2h0m2 1h0m2-3h0m1 2h0m1 1h0m9-2h0m4-1h0m0 2h0m3-1h0m10-1h0m3 4h0m1-4h0m12 4h0m2 0h0m4-1h0m0-2h0m7-1h0m6 4h0m0-5h0m2 1h0m11 3h0m2 1h0m2-3h0m1-1h0m2 3h0m3 0h0m1 0h0m2 0h0m3 0h0m4-2h0m4-1h0m15 0h0m1 4h0m6 0h0m8-2h0m3-3h0m12 1h0m7 1h0m1 3h0m0-4h0m14-1h0m6 0h0m2 1h0m1 4h0m1-3h0m1 1h0m7-3h0m3 0h0m1 3h0m2 1h0m6-1h0m2 0h0m3 1h0m0-1h0m6-3h0m12 5h0m3-5h0m6 1h0m2-1h0m3 0h0m2 5h0m6 0h0m2-3h0m0-1h0m2 3h0m6 1h0m13-4h0m15 0h0m5-1h0m21 5h0m-2 6h0m-11-3h0m-2 2h0m-4 1h0m-13-2h0m-6 1h0m-8-4h0m-5 3h0m-6 2h0m0-1h0m-5-3h0m-10 1h0m-7-2h0m-3 1h0m-5 4h0m-13-5h0m-7 4h0m-6 1h0m-6-3h0m-5-2h0m-4 3h0m-5 2h0m0-5h0m0 3h0m-7 0h0m0 2h0m-4-3h0m-1 1h0m-2-1h0m-4 1h0m-8 0h0m0-1h0m-13 1h0m-3 2h0m-3-3h0m-5 1h0m-3-3h0m-15 4h0m-4 1h0m-1-5h0m-1 0h0m-7 5h0m-1-2h0m-5-2h0m-10-1h0m0 4h0m-2-4h0m-1 4h0m-1-2h0m-7-1h0m-1 4h0m-1-3h0m-5 1h0m-5 0h0m-3-1h0m-1-2h0m-1 4h0m-1-3h0m0-1h0m-6 4h0m-6 1h0m-1-1h0m0-1h0m-1 1h0m-6 0h0m-5 1h0m-2-5h0m-1 1h0m0-1h0m-7 5h0m0-2h0m-9 1h0m-2 0h0m-1 1h0m-1-4h0m-8-1h0m-1 3h0m-2 2h0m-1-5h0m0 1h0m-2 0h0m-1 2h0m-5-1h0m-1 0h0m-1 2h0m-9-4h0m-3 3h0m0 2h0m-6 2h0m2 2h0m3 1h0m3-4h0m7 2h0m14 1h0m2-2h0m0 4h0m1 0h0m3-5h0m4 2h0m2-1h0m4 2h0m1-3h0m6 2h0m5 0h0m3 2h0m3-3h0m3 4h0m2-3h0m1-2h0m0 4h0m1 1h0m1-5h0m4 2h0m3 0h0m3 1h0m0-1h0m3-1h0m4 1h0m2 2h0m1-4h0m1 1h0m1 1h0m1 0h0m2 2h0m2-4h0m4 0h0m12 5h0m2-3h0m7-1h0m2 0h0m8 4h0m0-1h0m6-2h0m0 2h0m1-1h0m7-3h0m14 2h0m3 0h0m17 2h0m4-3h0m14 1h0m0 1h0m3-3h0m2 2h0m11 2h0m25-1h0m10 2h0m0-3h0m8-2h0m9 4h0m2 1h0m3-5h0m12 4h0m4-1h0m1 1h0m11-2h0m27 1h0m5 0h0m5 2h0m5-2h0m11 7h0m-14 1h0m-8-3h0m-4-1h0m-2 3h0m-12-1h0m-3-1h0m-1 0h0m-3 0h0m0-1h0m-1 1h0m-8 3h0m-2-2h0m-1-3h0m-1 4h0m-10-1h0m-9 0h0m-10 2h0m-2-3h0m-8-2h0m-13 1h0m-2 0h0m-5 1h0m-9-1h0m-14 3h0m-4 1h0m-23-1h0m-15 0h0m-6-3h0m-2-1h0m-3 2h0m-3-1h0m-1 1h0m-13 1h0m-4-2h0m0-1h0m-4 2h0m-1-1h0m0 2h0m-1-3h0m0 2h0m-10-2h0m0 3h0m-2-3h0m-2 4h0m-1 1h0m-6-3h0m-2-2h0m0 5h0m-4-3h0m-10 2h0m-2-3h0m-2 3h0m-1-2h0m-3 2h0m-1-3h0m-6 3h0m-3 1h0m-9-4h0m-6 0h0m-2 1h0m0 2h0m-1-1h0m-3-3h0m-5 3h0m-1 2h0m-1-4h0m-1 0h0m-2 1h0m-1 3h0m-1-5h0m-3 4h0m-1-4h0m-2 1h0m-3 0h0m0 4h0m-5 0h0m-2 0h0m0-1h0m-6-4h0m-4 4h0m-4 1h0m-2-2h0m-1-1h0m-2 1h0m-1-3h0m-1 1h0m-1 1h0m-1 0h0m-1-1h0m0 1h0m-4-1h0m-1-1h0m0 8h0m1 3h0m2-5h0m1 3h0m0-3h0m2 1h0m1 2h0m1 1h0m0-3h0m2 3h0m1-3h0m2 1h0m1 0h0m0-1h0m2 1h0m1 3h0m2-5h0m0 3h0m11 2h0m2-2h0m2 1h0m1-2h0m2 1h0m6-2h0m0 4h0m3-2h0m2 0h0m1 1h0m1 1h0m2-1h0m0-4h0m2 3h0m5 2h0m2 0h0m1-1h0m3-3h0m1 0h0m5-1h0m5 1h0m0 4h0m8-4h0m3 0h0m3-1h0m9 1h0m1 1h0m4 0h0m0-1h0m5 2h0m5-2h0m4 2h0m5-3h0m11 2h0m1-1h0m25 2h0m4-1h0m1-2h0m1 2h0m18-2h0m5 0h0m6 1h0m2-1h0m17 3h0m19 2h0m3-2h0m5-2h0m7 0h0m1 4h0m10 0h0m2-2h0m2-1h0m3-2h0m5 4h0m14 0h0m4-4h0m2 1h0m10 0h0m1 3h0m12-4h0m3 1h0m2 2h0m3-2h0m11-1h0m4 5h0m6-5h0m5 5h0m4-3h0m1 6h0m-3 2h0m-1-3h0m0-1h0m-2 0h0m0 3h0m-3 1h0m-4 0h0m-10-1h0m0-2h0m-2 4h0m-4-1h0m-11-3h0m-5 4h0m-5-4h0m-3 0h0m-1-1h0m-2 4h0m-8-1h0m-6 0h0m-8-1h0m-3 0h0m-6-1h0m-2 1h0m-2-2h0m-21 1h0m-1 1h0m-6-2h0m-2 0h0m-3 1h0m-2 1h0m-16 1h0m-17 2h0m-8 0h0m-6 0h0m-1-1h0m-10-3h0m-10 1h0m-8-1h0m-17-1h0m-42 0h0m-15 0h0m-1 4h0m-6-4h0m-12 2h0m-5 2h0m-5-2h0m0-2h0m-7 2h0m0-1h0m-3-1h0m-2 0h0m-1 2h0m-1-2h0m-3 2h0m-1 2h0m-2 0h0m-3 0h0m0-2h0m-4-1h0m0 4h0m-1 0h0m-4-1h0m-3-2h0m0 3h0m-1-3h0m-3-1h0m-1 1h0m-3 1h0m0 2h0m-2-5h0m0 2h0m-2 3h0m-1-4h0m-2 1h0m-1 8h0m1 0h0m1 0h0m1-2h0m1 2h0m2 1h0m3-1h0m1-3h0m0 4h0m0-5h0m2 5h0m1-3h0m0 1h0m4 1h0m0-2h0m0 3h0m1-5h0m1 1h0m2 4h0m1-2h0m4-2h0m1 3h0m1-3h0m1-1h0m1 2h0m1-1h0m1 3h0m1-4h0m1 1h0m10 3h0m2-3h0m5 4h0m4-5h0m0 4h0m13-4h0m134 0h0m28 1h0m2 2h0m1-3h0m2 4h0m2-4h0m3 4h0m2 1h0m0-3h0m3 1h0m9-3h0m25 5h0m4-3h0m2 0h0m4-2h0m1 4h0m5-4h0m0 4h0m5-4h0m5 2h0m6-2h0m2 2h0m4-1h0m8 2h0m4 2h0m1-1h0m1 0h0m2-4h0m6 0h0m5 5h0m6-1h0m5-2h0m7-1h0m2-1h0m-4 11h0m0-2h0m-5 1h0m-3 1h0m-8-3h0m-1 0h0m-17 2h0m0-2h0m-5-2h0m-7 4h0m-5 0h0m-2-2h0m-3 2h0m-7-2h0m-1-1h0m0 4h0m-9-3h0m-6 1h0m-8-2h0m-16 2h0m-3-3h0m-213 1h0m-8-1h0m-7 0h0m-1 1h0m-3 4h0m-2-4h0m-9-1h0m0 3h0m-4 0h0m0 2h0m0-5h0m-1 1h0m0 1h0m-2-2h0m-1 5h0m-1-5h0m-1 4h0m-1 0h0m0-3h0m0 6h0m2 1h0m1 3h0m2-1h0m2 0h0m3-2h0m0-2h0m2 1h0m1-1h0m2 3h0m4-3h0m2 1h0m0 4h0m7-3h0m252 0h0m15 0h0m22 2h0m9-1h0m6 1h0m6-2h0m3 3h0m2-4h0m50 6h0m-35-1h0m-10 1h0m-2 2h0m-4 2h0m-7-2h0m-16-2h0m-4 1h0m-6-1h0m-2 1h0m-8-1h0m-1 3h0m-3-4h0m-2 0h0m-279 1h0m-1 0h0m-3-1h0m0 3h0m-1-3h0m-1 5h0m-1-2h0m-1 1h0m-1-2h0m-3-2h0m0 2h0m-1-2h0m-1 5h0m0-1h0m0-1h0m-1-3h0m-1 5h0m0 4h0m1 0h0m0-1h0m0-2h0m3 0h0m0 2h0m1 1h0m2 2h0m0-5h0m3 5h0m1-1h0m4-4h0m331 0h0m-336 9h0m-1-2h0m0-1h0m-4 3h0m-2 0h0m-1-2h0m-1 4h0m-1-5h0m0 4h0m2 2h0m1 5h0m0-4h0m1-1h0m0 2h0m1 2h0m2-2h0m-2 8h0m-1 1h0m-2-4h0m-1 1h0m-1 0h0m0 8h0m2-3h0m1 1h0m-1 5h0m-1 1h0m0-2h0m0 3h0"/>
<path stroke="#22B12C" d="M626 117h0m19 8h0m37 0h0m11 5h0m-52 1h0m-34 6h0m85 0h0m50 3h0m-3-2h0m-35 2h0m-111 0h0m129 4h0m79 5h0m-28 3h0m-87-2h0m-30 0h0m-31 1h0m16 5h0m54 3h0m117 2h0m33-2h0m-183 6h0m-3 1h0m-1-1h0m-21 1h0m-7-3h0m-2 2h0m-12-3h0m-6 3h0m10 3h0m0 3h0m2 0h0m13-3h0m2 0h0m3 1h0m6 3h0m2-4h0m1 2h0m15 1h0m31-3h0m5 1h0m14 1h0m25-1h0m101 2h0m-58 6h0m-20-3h0m-8 3h0m-21 1h0m-21-4h0m-11 2h0m-1 3h0m-7-4h0m-15 2h0m-11 2h0m-15-5h0m-30 4h0m-10 0h0m-25-1h0m-1 2h0m-7 0h0m-22-2h0m0-3h0m-1 3h0m-5-2h0m-14 1h0m-8 8h0m18 1h0m2-4h0m1-1h0m1 4h0m8-4h0m4 0h0m1 2h0m15-2h0m9 5h0m13-1h0m0-3h0m20 4h0m16-3h0m20 3h0m22 0h0m1-2h0m3 2h0m2-5h0m2 2h0m9-1h0m2-1h0m2 2h0m13-1h0m0 2h0m11 2h0m18-3h0m10 3h0m7-4h0m7 2h0m2 0h0m45 1h0m37 2h0m-25 2h0m-14-2h0m-21 2h0m-14-1h0m-30 0h0m-4-1h0m-4 5h0m-59-2h0m-23-2h0m-8 2h0m-3 1h0m-19-2h0m-3-2h0m-7 0h0m-6 1h0m-7 2h0m-2 1h0m-26 0h0m-6-4h0m-21 0h0m-1 2h0m-12 3h0m-6-1h0m-3-3h0m8 9h0m4 0h0m3-4h0m12 1h0m19-1h0m3 0h0m5 3h0m27-3h0m4 4h0m33-4h0m28 0h0m50 0h0m9 0h0m2 0h0m13 4h0m29 1h0m5-3h0m15 3h0m7 0h0m62 6h0m-41-3h0m-18 0h0m-21 2h0m-2 1h0m-6 0h0m-7-1h0m-233 1h0m-4-1h0m-5 0h0m-4-3h0m-4 1h0m-1 2h0m4 7h0m2-2h0m7-3h0m250 0h0m29 3h0m26 1h0m4-2h0m24-1h0m-15 10h0m-2 0h0m-5-1h0m-10-4h0m-10 5h0m0-3h0m-6 1h0m-12-3h0m-291 5h0m0 2h0m0-1h0m2 3h0m2 2h0m3-2h0m-6 5h0m-1 1h0m-2-3h0m0 5h0m-3 3h0m4-2h0m-5 8h0m-3 9h0m-1 9h0"/>
</g></g>
<g clip-path="url(#cBL)"><g stroke-width="4.4" stroke-linecap="round" transform="scale(0.5)">
<path stroke="#EC720E" d="M140 341h0m20-1h0m1 0h0m8 0h0m1 1h0m31 0h0m-60 1h0m-8 5h0m-2-4h0m-11 2h0m-12-3h0m6 7h0m45-1h0m116 8h0m-4 3h0m-13-3h0m-21 3h0m8 2h0m36 7h0m8 4h0m5 1h0m24 0h0m41 4h0m26 3h0m-18 0h0m-52 2h0m22 3h0m15 1h0m67 8h0m-53-1h0m19 7h0m4-1h0m9 0h0m34 4h0m-38 1h0m51 5h0m-87 11h0m85 3h0m5 2h0m1 2h0m-23 3h0m37 20h0m-34 3h0"/>
<path stroke="#66F0F0" d="M162 509h0m74-3h0m-26 11h0m23 8h0m-4 0h0m-7 1h0"/>
<path stroke="#2A6CF8" d="M254 356h0m-5-2h0m-56 8h0m125 7h0m-12-2h0m-2 0h0m-11 4h0m-87 0h0m-65 5h0m41 1h0m30 0h0m59-2h0m14 1h0m7 0h0m13 0h0m35 0h0m6-1h0m8 4h0m-13 4h0m-8-3h0m-1-2h0m-19 5h0m-14-4h0m-14 0h0m-50 4h0m-9-1h0m-34-4h0m-4 3h0m-32 2h0m92 3h0m90 3h0m34-3h0m23-1h0m-3 7h0m-39 0h0m-41 1h0m-126 0h0m146 4h0m28-1h0m50 7h0m-15 0h0m-10 1h0m-7 3h0m51 6h0m-96 2h0m-71 10h0m146-1h0m46 7h0m-91 11h0m74 5h0m-35 8h0m-194-2h0m-29 0h0m-9 4h0m51 3h0m17-2h0m10 3h0m195 4h0m-91 2h0m-39-4h0m-3 0h0m53 5h0m90 0h0m11 3h0m3 4h0m-101 0h0m43 5h0m-320 18h0m-2 5h0m-1 18h0m1 29h0m-1 1h0m9 12h0m-7 0h0m-3 11h0m23 14h0"/>
<path stroke="#F3324A" d="M314 371h0m49 9h0m-101 7h0m158 8h0m-130-2h0m-14-2h0m-29 12h0m-7-1h0m-77 9h0m45 0h0m58-1h0m109 3h0m6-4h0m3 4h0m43-2h0m9 8h0m-3-2h0m-40 0h0m0-1h0m-89-2h0m-43 1h0m-18 10h0m168-4h0m27 9h0m-104-4h0m-98 7h0m75-1h0m72 4h0m59-4h0m-18 8h0m-125 0h0m-11 5h0m59 3h0m18-3h0m40 10h0m-5-4h0m-37 2h0m-49 2h0m-25-3h0m-118 3h0m-3-5h0m-36 6h0m14 3h0m145-2h0m11 0h0m67 2h0m6-2h0m4 1h0m12-1h0m53-1h0m18 5h0m5 1h0m-11 5h0m-7-3h0m-37 2h0m-22-4h0m-35 0h0m-220 2h0m-1-2h0m-10 3h0m-11 6h0m8-3h0m15 4h0m274-2h0m20-1h0m12 2h0m13 3h0m-23 0h0m-5 3h0m-5 0h0m-18-3h0m-283 0h0m-21 9h0m5 0h0m12-3h0m39 2h0m1 8h0m-48 0h0m-3 5h0m64 5h0m-27 2h0m-20-3h0m-23-1h0m43 8h0m-18 4h0m-4 2h0m-13 2h0m-16-4h0m32 17h0m-24-1h0m1 3h0m29 2h0m12 2h0m-33 2h0m-2-1h0m9 20h0m13 0h0m-5 4h0"/>
<path stroke="#22B12C" d="M256 383h0m-16 22h0m140 23h0m60 9h0m-151 8h0m159 0h0m-239 10h0m-19-3h0m-2 1h0m-53 5h0m69-1h0m49 1h0m113-1h0m36-1h0m45 3h0m0 4h0m-43 4h0m-73-4h0m0 3h0m119 6h0m-24 4h0m-40-1h0m-272 13h0m101 15h0m-5 4h0m-110 3h0m67 6h0m16 1h0m39 8h0m-8 14h0m-21 4h0m-19 4h0m-9 7h0"/>
<path stroke="#EC720E" d="M227 345h0m-25 0h0m-2 0h0m-50-2h0m-12 2h0m-29-2h0m-1 4h0m-11 2h0m6 3h0m18-4h0m47 1h0m2-1h0m44 3h0m1 2h0m24 4h0m-76 3h0m49 2h0m27 0h0m4 1h0m40 1h0m12 0h0m1-1h0m16 1h0m-16 2h0m-2 0h0m-19 4h0m-8 1h0m-15-1h0m-58 2h0m54 0h0m77 9h0m-3 2h0m-6-1h0m-29-2h0m31 5h0m68 0h0m5 0h0m14 8h0m-92-1h0m48 9h0m43-2h0m31 5h0m-1 6h0m-27 11h0m17 7h0m-55 9h0m82 4h0m-19 10h0"/>
<path stroke="#66F0F0" d="M254 505h0m-57 10h0"/>
<path stroke="#2A6CF8" d="M240 353h0m-25 2h0m-101 10h0m53-2h0m78 1h0m57 1h0m7 5h0m-7-3h0m-20 3h0m-22-1h0m-46-1h0m-12 1h0m-10 1h0m-4-3h0m-10 1h0m-73-1h0m79 5h0m2 3h0m53 1h0m4 1h0m5-3h0m19-1h0m54 3h0m51 4h0m-77 3h0m-48-5h0m-58 5h0m-37 3h0m115-1h0m3 2h0m97-1h0m19 0h0m5 2h0m16 5h0m-10 0h0m-15 1h0m-15 0h0m-89-1h0m-1 1h0m-148-4h0m285 14h0m-207 5h0m235 2h0m-74 5h0m-121 8h0m110-2h0m86-2h0m-46 9h0m51 6h0m6-1h0m-60 6h0m-197 9h0m129 5h0m-51 1h0m-125 0h0m65 2h0m60 3h0m11 1h0m108-5h0m15 3h0m-61 5h0m-55-2h0m38 6h0m36 4h0m37 4h0m-35-1h0m55 8h0m-334 21h0m1 1h0m-5 7h0m1 9h0m5-2h0m2 60h0m-1 7h0m-5 4h0"/>
<path stroke="#F3324A" d="M304 370h0m-150 19h0m4-1h0m257 5h0m-7-2h0m-79 3h0m-81-2h0m-28 6h0m151-2h0m-94 10h0m-72 4h0m59 1h0m23 2h0m71-5h0m39 0h0m16 4h0m-11 5h0m-26-3h0m-147 5h0m-11-4h0m-32-1h0m100 6h0m27 5h0m50-5h0m69 1h0m17 8h0m-178 1h0m-17-2h0m-78 5h0m51-1h0m50 0h0m9 5h0m17 0h0m1-4h0m30-1h0m24 5h0m84-3h0m10-2h0m-22 8h0m-53-1h0m-1-1h0m-19 5h0m-23-5h0m-74 3h0m-92 7h0m20 1h0m6-3h0m4-2h0m60 2h0m14 3h0m163-5h0m5 4h0m2-2h0m8 9h0m-2-3h0m-1 3h0m-78-2h0m-5 1h0m-7-2h0m-21-1h0m-9-1h0m-57 1h0m-17 4h0m-106-2h0m-36-2h0m210 10h0m5 0h0m11-3h0m45 3h0m15 0h0m42-4h0m26 5h0m-26 1h0m-14 0h0m-9 2h0m-6-3h0m-13 1h0m-241 3h0m-28 1h0m-5 1h0m3 4h0m17-4h0m242 5h0m10-5h0m35 5h0m9-5h0m7 5h0m-288 6h0m-23-2h0m-42 7h0m31-3h0m7 0h0m7 7h0m-53 9h0m17-4h0m69 0h0m-53 5h0m-11 4h0m25 2h0m-3 10h0m-21-2h0m-12 8h0m15 0h0m23 1h0m6 0h0m14-2h0m-17 8h0m-20-1h0m24 11h0m-30-2h0m0 4h0m11 9h0m-20 7h0m2 1h0m7 0h0m10-1h0m3 0h0m2-2h0m-18 7h0"/>
<path stroke="#22B12C" d="M186 376h0m34 5h0m194 46h0m-223 10h0m36-3h0m141 2h0m-26 5h0m-173 5h0m17 3h0m5-5h0m46 3h0m36-1h0m94 3h0m55 0h0m28 0h0m-209 5h0m-21 1h0m-47 0h0m19 1h0m37 2h0m36 3h0m24-2h0m83 4h0m-21 1h0m-22 3h0m-57-5h0m164 10h0m13-4h0m9 10h0m-16 0h0m-339 19h0m82 2h0m10 6h0m18 7h0m-14 2h0m18 12h0m-21-1h0m-97 0h0m30 10h0m-31 12h0m12 6h0m-22 16h0"/>
<path stroke="#EC720E" d="M155 339h0m7 1h0m77 6h0m-39-2h0m-45 3h0m-57 2h0m38-1h0m16 2h0m1-1h0m37 1h0m22 2h0m11-1h0m7 1h0m40 7h0m-7-4h0m-13 0h0m-22-1h0m-8 0h0m-2 2h0m-125 6h0m1-2h0m23 1h0m156 2h0m22 2h0m-19 6h0m-4-3h0m-9 1h0m-39 5h0m47-2h0m2 0h0m23 3h0m36-2h0m46 8h0m-16-2h0m-20 0h0m-97 7h0m81 1h0m33-1h0m4-2h0m2 3h0m29 11h0m-12 8h0m-1-1h0m-14 1h0m-6-4h0m65 13h0m-341 10h0m311 14h0m71 13h0m-3 1h0m-5-1h0"/>
<path stroke="#66F0F0" d="M189 497h0m36 6h0m-43 5h0m0 17h0"/>
<path stroke="#2A6CF8" d="M212 349h0m9 0h0m-34 14h0m40 0h0m29 0h0m27 2h0m32 3h0m-3 2h0m-27-3h0m-20 3h0m-38-1h0m-37-2h0m-13 1h0m-25 1h0m-65 2h0m86 5h0m33-4h0m4 2h0m3-2h0m24 4h0m5 1h0m2-4h0m67 4h0m23-4h0m1-1h0m26 7h0m-32 0h0m-25 1h0m-55 1h0m-45-1h0m-13-1h0m-11 1h0m-11 0h0m-30-1h0m-14 5h0m17 2h0m119 0h0m20 3h0m69-2h0m1-2h0m27-1h0m20 7h0m-4 3h0m-8-4h0m-1 5h0m-32 0h0m-8 0h0m-20-2h0m-11 2h0m-184-2h0m107 7h0m118 0h0m16 0h0m33-2h0m5 4h0m-51 3h0m-55 2h0m-66-5h0m-136 0h0m-16 1h0m0 7h0m0 2h0m234 0h0m54-2h0m56 0h0m9 6h0m-48 1h0m-25 0h0m-76-2h0m96 6h0m71 5h0m-125 0h0m-17 3h0m-19 5h0m73 3h0m5-2h0m60 1h0m22 7h0m-12-5h0m-64 1h0m-223 1h0m120 4h0m165 3h0m3 2h0m-2 3h0m-81 3h0m-162-2h0m-15 4h0m3-1h0m4 0h0m40 3h0m85 2h0m94 3h0m-29 3h0m-58-5h0m129 17h0m-55 0h0m4 3h0m20 0h0m-329 6h0m-1 3h0m0 30h0m1-3h0m-6 26h0m3-4h0m7 3h0m-9 12h0m0-1h0m1 1h0m6 1h0m-8 6h0m5 3h0m3 9h0"/>
<path stroke="#F3324A" d="M270 361h0m-113 26h0m93-2h0m132 0h0m-59 6h0m-10 0h0m-23-1h0m-10 3h0m-15 0h0m-73-2h0m-4-1h0m-28 2h0m-1-2h0m-29 5h0m3 1h0m48 5h0m128-4h0m68 2h0m59 7h0m-36-3h0m-7 1h0m-15-2h0m-2 2h0m-10 0h0m-11 1h0m-50-2h0m-1 2h0m-99 0h0m-41-3h0m-5 7h0m28 4h0m23-3h0m51 2h0m8-1h0m60 2h0m10-5h0m16 0h0m11 5h0m18-3h0m4 3h0m1 0h0m6 0h0m28-1h0m4-2h0m-52 7h0m-10-1h0m-58-1h0m-3 4h0m-13-5h0m-7 3h0m-10 1h0m-14-2h0m-2 0h0m-73 1h0m-77 1h0m130 5h0m26 0h0m88-3h0m1 0h0m2 3h0m48 1h0m9-1h0m5 1h0m20-4h0m9 9h0m-5 0h0m-59 1h0m-48-1h0m-69-1h0m0 2h0m-66-1h0m16 6h0m8-3h0m1 3h0m12 1h0m20-4h0m72 3h0m39 2h0m26-1h0m53 1h0m14 4h0m-1 1h0m-16 0h0m-3-2h0m-4 2h0m-81-2h0m-54-1h0m-2 2h0m-137-2h0m-8 3h0m-9-1h0m5 3h0m40 0h0m0 2h0m100-1h0m61-1h0m53 1h0m5 2h0m16-2h0m1 1h0m8-1h0m12 3h0m11 0h0m-17 3h0m-13 2h0m-15 0h0m-8-1h0m-8 2h0m-16-4h0m-25 4h0m-12-2h0m-5 0h0m-47 0h0m-20 2h0m-3-1h0m-4-2h0m-27 3h0m-67-3h0m-14-1h0m-8 6h0m0 1h0m145 0h0m17-1h0m4 1h0m3 1h0m14 3h0m27-1h0m13-3h0m14 2h0m36 0h0m48 4h0m-23 3h0m0-3h0m-61 2h0m-11-2h0m-28 0h0m-2-1h0m-7 0h0m-189 1h0m-4 1h0m-7 2h0m-33 6h0m21-2h0m6-2h0m1 1h0m2 1h0m8 2h0m237-1h0m2 0h0m52 1h0m15 0h0m14-1h0m-30 6h0m-270-1h0m-40 1h0m-4-1h0m-2-1h0m-18 7h0m12-1h0m4 1h0m30 2h0m-1 4h0m-10-1h0m-15 4h0m-7-5h0m-3 1h0m-6 1h0m-6 0h0m-1 0h0m-10 8h0m1-3h0m6 3h0m3-1h0m4-3h0m17 4h0m29-1h0m-5 5h0m-8 6h0m19 11h0m-36 7h0m-13 0h0m-11 7h0m29-2h0m2 3h0m17 7h0m-15-5h0m-7 8h0m1 2h0m18 2h0m-35 7h0m13 3h0m2 1h0m5 2h0m-9 1h0"/>
<path stroke="#22B12C" d="M232 377h0m77 17h0m54 11h0m-16 3h0m47 9h0m-108 24h0m-23 1h0m-96 7h0m32-3h0m203 4h0m-57 4h0m-133 1h0m0-2h0m-6 4h0m48 2h0m22 0h0m39-2h0m33 0h0m13 0h0m39 3h0m-50 2h0m-66 0h0m60 7h0m14 0h0m28 2h0m23 0h0m7-2h0m15 10h0m-21-3h0m-4 2h0m-23-1h0m30 4h0m2 1h0m-231 20h0m-60 6h0m89 6h0m-1 2h0m-4 9h0m23 3h0m-56 19h0m-21 2h0"/>
<path stroke="#EC720E" d="M144 341h0m37-1h0m-41 3h0m-25 3h0m-3-3h0m-10 0h0m9 7h0m39-2h0m2 3h0m9-3h0m14 0h0m1 1h0m8-1h0m3 2h0m3 2h0m7-4h0m8 4h0m50 0h0m11 6h0m-20 0h0m-23-3h0m-8 2h0m-121 4h0m20 0h0m69 2h0m48-3h0m2 2h0m21-1h0m8 4h0m5-5h0m1 2h0m19 2h0m2 4h0m-26-1h0m-5 0h0m-26 4h0m-27-5h0m16 9h0m5-1h0m23 2h0m19 0h0m2-3h0m3 2h0m66-2h0m0 1h0m0 2h0m54 7h0m-6-4h0m-43 1h0m-8 3h0m-8-5h0m-12 1h0m-5 0h0m-3 2h0m-14 8h0m34-5h0m7 2h0m2 3h0m32-5h0m6 5h0m12-3h0m4 9h0m-14-2h0m-19-3h0m-1 0h0m-1 3h0m-1 0h0m-12-3h0m-49 2h0m39 4h0m26 3h0m38 1h0m-35 5h0m-23 4h0m85 1h0m16 9h0m-22-5h0m-182 10h0m63-2h0m106-2h0m-59 8h0m-40 4h0m128 5h0m26-3h0"/>
<path stroke="#66F0F0" d="M219 514h0m-12 5h0m47 4h0"/>
<path stroke="#2A6CF8" d="M150 352h0m77-1h0m29 6h0m-16-2h0m-96 8h0m18-1h0m13 2h0m2 1h0m31 0h0m13-2h0m2 1h0m15-1h0m0 2h0m21-4h0m13-1h0m50 10h0m-6 0h0m-14 1h0m-20 0h0m-40-5h0m-74 0h0m-4 1h0m-17-1h0m-59 3h0m90 5h0m25-2h0m6 1h0m3 2h0m55 1h0m7-1h0m16-3h0m4 5h0m14 0h0m68 4h0m-26 1h0m-4-4h0m-4 3h0m-6 0h0m-11 1h0m-37-4h0m-2 4h0m-16 1h0m-8 0h0m-1-1h0m-4-4h0m-18 2h0m-45 1h0m-18 2h0m0-3h0m-23 3h0m-26 1h0m2 4h0m15-1h0m6-2h0m76-1h0m68 0h0m17 5h0m0-4h0m2 4h0m29-3h0m1-1h0m2 1h0m6 3h0m23-4h0m37 10h0m-11-5h0m-11 5h0m-114-4h0m-40 0h0m-4 2h0m-2 1h0m-131 3h0m3 2h0m2-3h0m261 1h0m29 1h0m9 1h0m12 2h0m3-5h0m-219 8h0m-18 6h0m95-2h0m29 3h0m18 0h0m12-2h0m85 3h0m-71 5h0m-3-1h0m-14-2h0m-1 4h0m-24-1h0m-221-2h0m231 7h0m11-1h0m100 0h0m22-1h0m5 7h0m-39 4h0m-225 4h0m166-3h0m3 4h0m77-2h0m16 8h0m-10 1h0m-13-5h0m-50 0h0m-52 0h0m-217 10h0m287-3h0m54 9h0m-7-3h0m-238 3h0m-23 0h0m74 6h0m33-1h0m131-3h0m15 0h0m20 1h0m10 7h0m-118 5h0m6 1h0m53 9h0m-14-5h0m7 6h0m31 4h0m-345 17h0m10 18h0m-10 9h0m8 0h0m-3 8h0m-3 4h0m5 1h0m-2 9h0m-3-4h0m3 27h0m16 8h0m0 4h0m-20 5h0"/>
<path stroke="#F3324A" d="M307 371h0m56 10h0m-184 6h0m36 1h0m4-1h0m23-1h0m94 8h0m-39 1h0m-7 0h0m-18-4h0m-14 4h0m-8-2h0m-7 1h0m-16-3h0m-42 3h0m-31-1h0m-1 5h0m14 0h0m3 0h0m4-2h0m3 3h0m45 0h0m7-3h0m58 5h0m5-4h0m77 1h0m6 1h0m7 0h0m7 1h0m15 6h0m-27-1h0m-42 2h0m-13-3h0m-26 1h0m-24-3h0m-3 0h0m-15 4h0m-32-1h0m-101 0h0m-1 1h0m-14 0h0m0 1h0m8 2h0m50 2h0m12-3h0m73 4h0m13-1h0m16-2h0m54 1h0m24-1h0m0-1h0m80 8h0m-41 2h0m-24 1h0m-26-5h0m-28 1h0m-16-1h0m-13 3h0m-25-1h0m-16-1h0m-17 2h0m-105 3h0m81 5h0m21-5h0m8 3h0m14 1h0m21-1h0m4-2h0m14 2h0m8-1h0m14 1h0m12-3h0m23 0h0m13 4h0m10-4h0m2 2h0m28 2h0m4 0h0m16-1h0m29 1h0m-35 5h0m0 1h0m-6-3h0m-1 0h0m-21 4h0m-3 0h0m-29-2h0m-9 1h0m-22 0h0m-3 0h0m-7-1h0m0-3h0m-35 1h0m-46 1h0m-1 0h0m-27 2h0m-29-4h0m-30 0h0m27 8h0m59 2h0m10 0h0m5-3h0m11 4h0m8-5h0m1 0h0m21 2h0m12-1h0m4 3h0m1-3h0m4 3h0m2 0h0m18 0h0m14 1h0m4 0h0m30-3h0m9-1h0m5 2h0m6-1h0m1-1h0m36 2h0m3-3h0m8 4h0m0 1h0m12 3h0m-16 3h0m-14-5h0m-13 5h0m-9-3h0m-10 3h0m-13-1h0m-1 1h0m-7-5h0m-3 5h0m-1-2h0m-2-2h0m-3 2h0m-13 0h0m-21 1h0m-14-2h0m-22-2h0m-111 0h0m-28 5h0m-1-2h0m-14-1h0m3 7h0m1-2h0m6 4h0m22-4h0m2 3h0m3 0h0m25-4h0m4 3h0m8 0h0m14 0h0m12-1h0m7 3h0m9-4h0m20 4h0m19-2h0m52 2h0m1-5h0m6 3h0m4-2h0m4 4h0m0-3h0m9-2h0m32 0h0m2 2h0m10 2h0m6 0h0m8-3h0m7 2h0m14-3h0m12 0h0m1 5h0m3-1h0m-25 3h0m-15 2h0m-9 2h0m-51-5h0m-11 3h0m-11-1h0m-10 1h0m-1 2h0m-1-4h0m-16 2h0m-8-2h0m-4 1h0m-21 3h0m-7-4h0m-26 1h0m-33-2h0m-12 1h0m-18-1h0m-44 1h0m-10 10h0m2-3h0m9 2h0m5-3h0m178 0h0m3 1h0m17-1h0m10 2h0m2-2h0m38 3h0m2-4h0m5 1h0m11 1h0m9-2h0m10 4h0m15 0h0m9 1h0m12-5h0m-3 10h0m-22-4h0m-22 0h0m0 4h0m-5-4h0m-10 3h0m-40 1h0m-10-4h0m-19 1h0m-192 4h0m-9-2h0m-19 0h0m-3 3h0m16 3h0m255 1h0m17 1h0m4-1h0m1-1h0m39-1h0m3 4h0m-333 5h0m-10-4h0m-11 6h0m47 2h0m-36 3h0m-21 9h0m8-3h0m4 1h0m5-1h0m6 0h0m17 9h0m27 5h0m-48 4h0m0 4h0m-2 6h0m16-4h0m13 2h0m-25 15h0m11-1h0m22-4h0m-23 10h0m-11 0h0m-9-3h0m-2 6h0m6 1h0m16 1h0m-9 5h0m0 6h0"/>
<path stroke="#22B12C" d="M260 387h0m70 6h0m-86 1h0m-65 4h0m94 2h0m-68 3h0m-16 9h0m138-1h0m50-1h0m20 3h0m21 3h0m-185 1h0m67 7h0m101 2h0m-83 3h0m-163 8h0m229-2h0m-85 7h0m-99 1h0m24 2h0m44 4h0m7-2h0m66 1h0m4-1h0m73-3h0m5 5h0m-65 4h0m-62 1h0m-62 1h0m-5-1h0m-14-2h0m28 5h0m23 3h0m11-3h0m62 2h0m4 1h0m22 1h0m53-2h0m-57 7h0m-9 0h0m-9-1h0m-22 0h0m68 5h0m6 0h0m52-1h0m-3 10h0m-15-4h0m-29 2h0m-12-3h0m-282 10h0m14 3h0m57 11h0m-11 1h0m-73 0h0m130 20h0m1 1h0m-92 15h0m62 26h0m-94 3h0m150 2h0"/>
<path stroke="#EC720E" d="M208 344h0m-30 2h0m-50 1h0m-4-5h0m-20 10h0m17 0h0m11-4h0m23 1h0m5 0h0m6 4h0m6-4h0m9-1h0m12 2h0m9 3h0m16 0h0m1-1h0m13 0h0m31-1h0m-22 8h0m-1-5h0m0 4h0m-9 0h0m-1-4h0m-17 1h0m-11 1h0m-5 2h0m-5-4h0m-1 3h0m-31 1h0m-28 1h0m-23-1h0m-9-2h0m-6 6h0m13 0h0m2-1h0m4 0h0m1-1h0m34 0h0m13 1h0m11 1h0m24-1h0m9 3h0m3-4h0m16 1h0m3-1h0m14 3h0m17 1h0m24-3h0m7 4h0m34 6h0m-32-4h0m-2 0h0m-6-1h0m-3 4h0m-9-3h0m-16-1h0m-10 2h0m-1 3h0m-5-5h0m-3 2h0m-2-2h0m-142 0h0m-1 1h0m143 7h0m0 2h0m28-3h0m48 0h0m9 0h0m14 2h0m35 5h0m-66 3h0m-11-5h0m-8 2h0m-6 1h0m-36-1h0m74 7h0m9-2h0m3 4h0m4-4h0m8-1h0m22 4h0m36 1h0m-35 2h0m-11-1h0m-6 0h0m0 4h0m-7-2h0m-20 0h0m-4 1h0m-24 4h0m112 3h0m13-4h0m3 3h0m-18 8h0m-95 0h0m108 2h0m-57 9h0m-48-4h0m-53 0h0m-170 15h0m260 8h0m87-4h0m12-1h0m2 0h0m-8 17h0m1 5h0m31 3h0"/>
<path stroke="#66F0F0" d="M185 508h0m-26 8h0m17 11h0m43 1h0m7 1h0m2-1h0m13 2h0m8 1h0"/>
<path stroke="#2A6CF8" d="M197 349h0m62 7h0m-7-1h0m-141 10h0m28-2h0m1-1h0m7 3h0m0-1h0m10 1h0m20-1h0m20-1h0m42 1h0m18 5h0m-6 0h0m-5 2h0m-5 0h0m-4-1h0m-27 1h0m-1-4h0m-11 3h0m-11 1h0m-3 0h0m-12-5h0m-1 5h0m-5 0h0m-1 0h0m-4-1h0m-1-4h0m-1 4h0m-14-2h0m-20 0h0m-11-2h0m-2 1h0m-25 9h0m39-1h0m1-2h0m3 0h0m0 3h0m14-1h0m9-1h0m12-1h0m4 4h0m7-1h0m18-1h0m9 2h0m7-4h0m13 3h0m8-1h0m4-3h0m23 3h0m1 0h0m23 1h0m7-1h0m1 1h0m20 0h0m7 0h0m5 0h0m6-3h0m4 3h0m18-1h0m28 8h0m-13 0h0m-3-2h0m-78 1h0m-12 1h0m-5-3h0m-4 1h0m-11-2h0m-5 1h0m0 1h0m-2-1h0m-26 0h0m-1 0h0m-3 3h0m-13 0h0m-11-1h0m-1 1h0m-7-5h0m-8 0h0m-11 5h0m-2-2h0m-7-2h0m-4 1h0m-1 3h0m-5-4h0m-8 0h0m-4 2h0m-3-1h0m-2 3h0m-7-1h0m-2-1h0m-7 0h0m-25-2h0m-1 2h0m-1 8h0m27-1h0m1-2h0m2 2h0m0-3h0m0 2h0m1-2h0m13-1h0m6 4h0m10-4h0m1 5h0m3-5h0m9 2h0m11-2h0m14 3h0m32-1h0m13 3h0m16-5h0m12 0h0m16 0h0m11 3h0m12 0h0m7-3h0m2 2h0m1-1h0m2 1h0m15 0h0m31 3h0m9-2h0m41 0h0m11 5h0m-4 2h0m-22 1h0m-15 0h0m-1-5h0m-6 2h0m-16-2h0m-8 4h0m-14-2h0m-91 2h0m-19 0h0m-105 0h0m-8-3h0m-20 3h0m0 7h0m168-1h0m16-2h0m57 2h0m3-2h0m50 1h0m21-1h0m12 0h0m9 1h0m5 0h0m7 6h0m-2 1h0m-37-4h0m-22 1h0m-3 2h0m-45 0h0m-29 1h0m-47 1h0m-143-4h0m119 7h0m115 2h0m2-4h0m82 2h0m20 1h0m-31 6h0m-29 2h0m-3-2h0m-8 1h0m-40 0h0m-31-1h0m-62-2h0m-41 0h0m125 8h0m38-2h0m17 2h0m48 1h0m2-2h0m1-2h0m1 1h0m12 3h0m2 4h0m-24 1h0m-30-2h0m-45-1h0m-42 1h0m-56 4h0m-38-4h0m-124 10h0m241-3h0m52-2h0m18 5h0m24 0h0m26-2h0m11 4h0m-71 2h0m-21-3h0m-43 4h0m-34-2h0m-10-2h0m-93 5h0m-100-4h0m0 8h0m92-1h0m243 0h0m-82 7h0m-34-2h0m-64 2h0m-30 0h0m-10-1h0m-7 3h0m-30-3h0m36 5h0m34 4h0m5-4h0m41 3h0m13-1h0m41 2h0m51-4h0m9 4h0m39 4h0m-107-3h0m-12 2h0m-184 0h0m266 5h0m-304 14h0m-3 24h0m6 3h0m-3 1h0m1 14h0m-7 1h0m2 11h0m3 9h0m-2 11h0m-1 2h0m-2 6h0m5-1h0m1 5h0m1-4h0m15 10h0m-8 0h0m-5 5h0m-7 5h0m-1 4h0"/>
<path stroke="#F3324A" d="M217 350h0m42 8h0m-6-2h0m18 6h0m37 6h0m29 5h0m-168 13h0m2 2h0m52-3h0m4 2h0m148-2h0m-25 10h0m-1-1h0m-13 1h0m-31-5h0m-22 3h0m-28-1h0m-10 2h0m-11-4h0m-6 4h0m-3-1h0m-17-3h0m-30 3h0m-9 1h0m-8-4h0m-1 5h0m-4-1h0m-19 1h0m-20 5h0m0 1h0m3 0h0m30-2h0m9-1h0m2 2h0m4-3h0m14 0h0m20 1h0m5 3h0m1-1h0m10 0h0m5 1h0m10-4h0m8 1h0m17 3h0m37-1h0m16-4h0m11 3h0m30-2h0m3 4h0m6-1h0m29 2h0m-3 4h0m-10-1h0m-31-3h0m-7 5h0m-25-1h0m-10-2h0m-3-1h0m-22-1h0m-61 1h0m-19 3h0m-9 1h0m-44-2h0m0-2h0m-19 0h0m-5 3h0m-1-2h0m0 2h0m-14 1h0m34 3h0m0-2h0m4 0h0m26 1h0m7 2h0m4-3h0m4 2h0m18 2h0m9-3h0m3 0h0m8 0h0m10 0h0m26 4h0m6-3h0m4-2h0m19 5h0m32-2h0m8-1h0m30 3h0m33-2h0m32 2h0m1-2h0m-7 6h0m-23 2h0m-19-1h0m-19-4h0m-23 1h0m-3 1h0m-7 1h0m-7-3h0m-2 4h0m-8-2h0m-6 0h0m-7 1h0m-7 2h0m-2-2h0m-6 0h0m-7-3h0m-12 4h0m-11 1h0m-9-1h0m-21-3h0m-3-1h0m0 4h0m-3-4h0m-6 4h0m-20-4h0m-2 0h0m-41 0h0m-3 5h0m-12-2h0m-27-2h0m-3 6h0m9 1h0m12 0h0m21 1h0m9-3h0m15 4h0m32 1h0m3 0h0m2-4h0m3 4h0m3 0h0m9-2h0m0-1h0m8 3h0m16 0h0m3-5h0m1 4h0m27 0h0m28 1h0m4-2h0m4 0h0m1-1h0m1-2h0m5 1h0m1 0h0m8 1h0m4 2h0m3 0h0m45-4h0m15 1h0m58 9h0m-6-2h0m-38 1h0m-10-1h0m-8 0h0m-35 3h0m-14-1h0m-19-4h0m-12 3h0m-9-3h0m-1 4h0m-14-4h0m-6 5h0m-13-3h0m-27 1h0m-1-1h0m-10 0h0m-5 1h0m-15-2h0m-5 0h0m-15 1h0m-2 2h0m-2-3h0m-4 1h0m-23 2h0m-2 1h0m-33-3h0m-13 0h0m-3-2h0m0 3h0m38 4h0m33-1h0m48 2h0m9 0h0m26-1h0m14-1h0m11 3h0m3 1h0m3-4h0m12 2h0m17-1h0m5 3h0m2-3h0m4-1h0m5 2h0m19 0h0m7 2h0m42-4h0m5 5h0m9-4h0m40 10h0m-9 0h0m-11 0h0m-6-1h0m-22-1h0m-10 2h0m-8-5h0m-20 0h0m-11 4h0m-1-1h0m-14-1h0m-3 2h0m-9-2h0m-6 0h0m-18 3h0m-9 0h0m-20-1h0m-12-1h0m-13 1h0m0-4h0m-24 4h0m-52 0h0m-3-4h0m-28 11h0m3-1h0m8-4h0m4 5h0m5 0h0m9 0h0m6-5h0m2 3h0m1 1h0m2 0h0m5-4h0m0 4h0m19 1h0m28-3h0m25 0h0m4 0h0m15 0h0m12 3h0m0-1h0m12-1h0m3 1h0m2 1h0m10 0h0m5 0h0m1 0h0m30 0h0m13 0h0m25-3h0m17 2h0m11-3h0m7 3h0m5 0h0m19-4h0m4 5h0m9-3h0m-29 8h0m-3-4h0m-7 4h0m-16 0h0m-2 0h0m-1-4h0m-32 4h0m-7-2h0m-9 3h0m-41-3h0m-2 3h0m-8-1h0m-2-4h0m-20 3h0m-30-2h0m-7 4h0m-13-3h0m-9-2h0m-11 0h0m-73 1h0m-4 4h0m-8-5h0m-14 1h0m9 10h0m9-4h0m8 0h0m173 0h0m8-1h0m17 1h0m3 3h0m5-1h0m2-2h0m1 4h0m4-5h0m8 1h0m0 2h0m2-3h0m7 0h0m10 0h0m14 2h0m2-1h0m1-1h0m13 4h0m4-4h0m48 3h0m-6 3h0m-41 1h0m-4 0h0m-1 3h0m-13-3h0m-1 1h0m-1 0h0m-5-1h0m-9 4h0m-26-1h0m-205 0h0m-18 0h0m-12 0h0m-6 1h0m-5 4h0m6 0h0m3-1h0m5 1h0m8 1h0m232-3h0m52 1h0m0 2h0m20-2h0m8 1h0m13 2h0m-9 5h0m-30-4h0m-8 1h0m-290 4h0m-11-4h0m-26 1h0m0 9h0m14-1h0m7-3h0m2 4h0m0-5h0m3 3h0m3 0h0m4 0h0m18-1h0m294-2h0m-282 6h0m-40 0h0m-1 2h0m-2 3h0m-5-1h0m-1-2h0m-2 9h0m10-2h0m16-3h0m34 2h0m7 7h0m-11-2h0m-29 1h0m-6-1h0m-23 5h0m0 4h0m3-1h0m-2 6h0m-3 3h0m23 0h0m-16 8h0m-11 0h0m6 7h0m23 0h0m10-3h0m-32 16h0m2 0h0"/>
<path stroke="#22B12C" d="M196 399h0m13-3h0m14 5h0m80-2h0m-77 9h0m175 8h0m-90 5h0m79 2h0m43 0h0m-67 6h0m-150 1h0m-69 5h0m51-3h0m14 4h0m122-1h0m7-1h0m70 3h0m-174 4h0m-1 0h0m-17-3h0m-60 0h0m13 6h0m23 4h0m27-2h0m12 1h0m18 0h0m8 0h0m28 1h0m102 5h0m-73 1h0m-13 1h0m-17-5h0m-4 1h0m-39 2h0m-33-3h0m-16 3h0m-30-1h0m32 4h0m29 0h0m2 3h0m15 1h0m21 0h0m17-3h0m2 0h0m102 0h0m20 0h0m13 9h0m-16-4h0m-14 1h0m-247 7h0m227 0h0m5 1h0m40-2h0m22 6h0m-26 4h0m-1-2h0m-12-3h0m39 9h0m-348 8h0m129 22h0m-111-3h0m39 14h0m-47 4h0m9 13h0m49 1h0m32 1h0m-71 4h0m-21 5h0m153 8h0"/>
<path stroke="#EC720E" d="M106 341h0m18-1h0m40 1h0m33 0h0m10 6h0m-13-1h0m-25-2h0m-3 2h0m-13-3h0m-24 0h0m-16 1h0m-9 0h0m0 9h0m1-2h0m7 2h0m2 0h0m1-5h0m7 2h0m5-2h0m5 1h0m10 4h0m0-5h0m10 5h0m4-3h0m1-1h0m6 0h0m4 3h0m12-2h0m1 1h0m0 2h0m1-1h0m2-4h0m3 1h0m1 2h0m14 1h0m2-3h0m14 3h0m9-4h0m10 1h0m57 10h0m-30 0h0m-13-3h0m-14-2h0m-22 3h0m-5 0h0m-15 0h0m-3 2h0m-11 0h0m-3 0h0m-1-3h0m-1-1h0m-1 3h0m-3 0h0m-6 0h0m-3-3h0m-4 3h0m-1-3h0m-2 3h0m-1-4h0m-2 5h0m-5-4h0m-2 3h0m-3 0h0m-1-3h0m-1 2h0m-7 1h0m-12-3h0m-3 0h0m-1 0h0m-4 1h0m-1 3h0m-4 0h0m-6-4h0m-1 0h0m0-1h0m-6 5h0m8 5h0m0-1h0m1-2h0m9-1h0m56 0h0m6 1h0m4 1h0m2 0h0m11-2h0m11 2h0m2-2h0m4 3h0m5 1h0m8 1h0m13-5h0m1 1h0m6 3h0m1 1h0m10-3h0m8 1h0m2 0h0m6 1h0m13 0h0m51 3h0m-32 1h0m-22 1h0m-2-1h0m-3-2h0m-8 1h0m-6 4h0m-7-3h0m-6 0h0m-15 1h0m-15-2h0m39 5h0m23 1h0m2 2h0m14-3h0m2 4h0m29-1h0m56 7h0m-13 0h0m-14-2h0m-21 3h0m-16-1h0m-13-2h0m-12 1h0m-18-1h0m-9-2h0m20 7h0m3 0h0m24-1h0m7 4h0m12-3h0m2 0h0m30 0h0m15 4h0m2-5h0m6 3h0m7 0h0m20 8h0m-29-3h0m-39-2h0m-15 0h0m-22 2h0m-7 0h0m-64-2h0m84 6h0m72 4h0m8 1h0m2-5h0m5 3h0m16 8h0m-16-2h0m-9-1h0m-61-1h0m6 10h0m22-4h0m48 0h0m4 1h0m27 6h0m-17-2h0m-5 5h0m-85 0h0m-109 3h0m190 3h0m31 2h0m-8 3h0m-89-3h0m-16 3h0m-7-1h0m-246-3h0m325 9h0m15 1h0m28 0h0m6 2h0m3 8h0"/>
<path stroke="#66F0F0" d="M196 507h0m32 2h0m23 4h0m-55 1h0m16 6h0m13-4h0"/>
<path stroke="#2A6CF8" d="M202 350h0m39 2h0m-9 2h0m-28 4h0m-85 5h0m4-1h0m2 3h0m1-3h0m1 2h0m2-2h0m2 1h0m4-1h0m4 3h0m11-3h0m3 2h0m1-2h0m7 0h0m12 1h0m8 2h0m6-3h0m2 2h0m41 0h0m11 1h0m53 2h0m-2 1h0m-20-2h0m-32 3h0m-20 1h0m-6-3h0m-2-1h0m0 2h0m-4 2h0m-7 0h0m-5-4h0m0 4h0m-2 1h0m-2-3h0m-3 3h0m-4-4h0m-12 0h0m-1 1h0m-4 2h0m-5-2h0m-8-2h0m-2 3h0m-3 2h0m-47-3h0m-2 1h0m-14 4h0m15 0h0m5 2h0m2-2h0m7 2h0m6-1h0m2 0h0m1-1h0m6 4h0m3-2h0m1-3h0m10 0h0m5 2h0m4-1h0m1 2h0m4-2h0m2-1h0m1 2h0m2 2h0m4-2h0m3 1h0m6 0h0m13 0h0m7-1h0m3 2h0m4-2h0m10 2h0m24-2h0m15-2h0m11 5h0m22-4h0m20 4h0m7-3h0m8 1h0m16 0h0m8 2h0m4-1h0m-13 3h0m-58-1h0m-55 1h0m-9 1h0m-2 1h0m0-1h0m-12-1h0m-4 3h0m0 1h0m-15 0h0m-6-1h0m0-3h0m-3-1h0m-11 1h0m-2 4h0m-2-2h0m-3-3h0m-4 1h0m-10 1h0m-2-1h0m-3 4h0m-7-5h0m-20 3h0m-2-3h0m-20 7h0m0 2h0m17 2h0m5 0h0m6-5h0m2 3h0m4-2h0m3 2h0m2 1h0m6 0h0m3-3h0m2 3h0m10-1h0m12-2h0m2 4h0m3-5h0m3 0h0m7 0h0m4 1h0m15 1h0m8-1h0m25 3h0m14 0h0m39-3h0m3 0h0m3-1h0m13 3h0m1-1h0m11 3h0m7 0h0m74-2h0m9-1h0m7 3h0m-4 4h0m-21 2h0m-1-4h0m-8 3h0m-2 0h0m-16-4h0m-6 1h0m-1 2h0m-21-3h0m-32 3h0m-25-3h0m-30 3h0m-1-2h0m-18 3h0m-14 1h0m-88-5h0m-2 3h0m-1 1h0m-6 0h0m-3 0h0m-5 1h0m-15 1h0m4 3h0m13 1h0m1 0h0m174-4h0m22 0h0m6 4h0m9 0h0m6-3h0m4 3h0m8-2h0m6 2h0m11-2h0m3 0h0m37 2h0m31-3h0m-18 6h0m-20 1h0m-6-1h0m-17-1h0m-21 2h0m-24-2h0m-16 3h0m-35 1h0m-40-1h0m-107-3h0m-11 0h0m-2 3h0m-4 0h0m0 1h0m-14-2h0m0 8h0m10 0h0m139-1h0m61 0h0m33-1h0m16-2h0m33 5h0m36 0h0m10-5h0m13 0h0m-38 7h0m-3 1h0m-37 1h0m-21-3h0m-11 3h0m-41-3h0m-175 5h0m126 1h0m126 2h0m48 2h0m30-2h0m-10 9h0m-13-2h0m-15-2h0m-4 2h0m-21-1h0m-9-1h0m-4 1h0m-3 3h0m-50 0h0m-13-1h0m-44-4h0m-8 7h0m136-1h0m1 0h0m15 5h0m5-5h0m10 4h0m21 3h0m-38 4h0m-15-4h0m-14 0h0m-5-1h0m-32 2h0m-65 0h0m-181 4h0m118 3h0m61 1h0m109-2h0m36 2h0m4-4h0m5 3h0m31 6h0m-14-3h0m-118 5h0m-7-3h0m-78 1h0m-30-1h0m-117 8h0m189-1h0m25-2h0m8 0h0m62 4h0m35 2h0m-41 4h0m-32 0h0m-5-4h0m-13 2h0m-228 8h0m272-4h0m8 3h0m34-4h0m9 2h0m56 5h0m-73-1h0m5 7h0m60-1h0m-366 10h0m-2-3h0m6 5h0m-2 23h0m-4 3h0m4 9h0m-3-5h0m0 7h0m-2 10h0m-1 3h0m3 3h0m3 3h0m-3 0h0m3 9h0m-1 2h0m0 5h0m-2 13h0m2 4h0m10 4h0m0 1h0m-8-4h0m-2 3h0m-2-3h0m-3 4h0"/>
<path stroke="#F3324A" d="M235 353h0m17 5h0m-5-2h0m53 11h0m46 9h0m-6 2h0m-192 11h0m17-2h0m9 1h0m11-2h0m11 2h0m6-4h0m5 0h0m13 5h0m12-3h0m0 1h0m24 0h0m4-2h0m55 9h0m-11 1h0m-11-1h0m-8 1h0m-5 0h0m-15 0h0m-6 0h0m-6-2h0m-7 0h0m-21-3h0m-7 3h0m-4-1h0m-4 3h0m-13-3h0m-6-2h0m-1 5h0m-3-5h0m-3 5h0m-3-5h0m-9 1h0m-18 3h0m-29 5h0m1 2h0m3 0h0m12-5h0m1 3h0m1 2h0m1-5h0m4 1h0m0-1h0m1 5h0m13-5h0m2 5h0m6-2h0m2-2h0m8-1h0m2 1h0m29-1h0m3 2h0m7-2h0m9 2h0m2 3h0m23-5h0m19 1h0m31 1h0m5 2h0m13 1h0m27-4h0m3-1h0m21 4h0m18 1h0m0-1h0m3 1h0m9 2h0m-33 4h0m-36-5h0m-19 2h0m-13-1h0m-10 4h0m-1-3h0m-6 3h0m-4-1h0m-14-4h0m-13 3h0m-11 2h0m-5 0h0m-8-3h0m-1 3h0m-6-1h0m-1-3h0m-5 1h0m0-1h0m-4 2h0m-2 0h0m-3 1h0m-6-4h0m-8 0h0m-39 3h0m-6 1h0m-14 1h0m-11-3h0m-2 3h0m-9-5h0m-5 5h0m-8 5h0m9-1h0m3-3h0m17 0h0m11 4h0m3 1h0m13-4h0m6 1h0m11-1h0m22 3h0m39 1h0m3-2h0m2-2h0m8 1h0m1 0h0m1-2h0m1 2h0m7 1h0m0-3h0m12 1h0m1 0h0m1 4h0m5 0h0m1-2h0m4 0h0m9 0h0m24 0h0m0 1h0m4-4h0m15 4h0m9-1h0m7-1h0m9 0h0m3-1h0m5 2h0m4 1h0m9-1h0m8-2h0m12 1h0m9 0h0m4-2h0m29 11h0m-8-3h0m-11 0h0m-3 1h0m-4 1h0m-11-2h0m-4-2h0m-5 5h0m-11-2h0m-61 2h0m-1 0h0m-2-4h0m-10-1h0m0 4h0m-1 0h0m-2-1h0m-14 0h0m-10-3h0m-3 1h0m-9 0h0m-9 4h0m-9-5h0m-6 5h0m-4-4h0m-1 4h0m-4 0h0m-29-1h0m-8-1h0m-5-1h0m-8 1h0m-6-1h0m-12-2h0m-4 4h0m-5-3h0m-2-1h0m-24 5h0m-4-2h0m-6-1h0m-3 1h0m-7 2h0m0-1h0m-8-2h0m-2 3h0m-6-4h0m0-1h0m-6 8h0m9 3h0m1-4h0m1 0h0m6 2h0m5-1h0m2-2h0m5 2h0m6-2h0m6 1h0m3 4h0m4-2h0m2 0h0m1-2h0m1 0h0m5 1h0m3-1h0m2 0h0m3 3h0m2 1h0m10 0h0m2-2h0m3 1h0m20-3h0m2 4h0m2-1h0m1-1h0m2-3h0m5 0h0m8 4h0m5 0h0m3 0h0m10-3h0m9 3h0m3-3h0m4 4h0m16-2h0m5 1h0m24 0h0m0-3h0m5-1h0m6 1h0m7 2h0m4-3h0m16 3h0m2 1h0m2-2h0m1 1h0m9-2h0m9 0h0m31-1h0m5 4h0m10-4h0m0 2h0m12-1h0m36 10h0m-7 0h0m-9-5h0m-22 0h0m-1 4h0m-5 1h0m-7-4h0m-3 0h0m-8 3h0m-4-4h0m-14 5h0m-21-4h0m-15 3h0m-7 1h0m-6-4h0m0 1h0m-9 2h0m-3-2h0m-2-2h0m-2 4h0m-3 1h0m-2-4h0m0 3h0m-9 1h0m-6-1h0m-8 1h0m-10-5h0m-7 0h0m-4 2h0m-6 0h0m-1 2h0m-1-4h0m-20 1h0m-15-1h0m-3 3h0m-4 0h0m-3 2h0m-19-5h0m-5 4h0m-10-2h0m-3 1h0m-19 1h0m-6 1h0m0-1h0m-30-2h0m-2 1h0m-11-3h0m0 3h0m1 5h0m15 0h0m2 3h0m23-1h0m4 1h0m11-3h0m4 0h0m10 0h0m6-2h0m4 2h0m1 2h0m8 1h0m4-3h0m12 2h0m20 1h0m3-1h0m4-4h0m2 4h0m2-2h0m1-1h0m19 1h0m3 2h0m3-1h0m12 0h0m1-2h0m1 2h0m1 2h0m4-3h0m9 1h0m8 0h0m12-2h0m6 0h0m1 4h0m3-3h0m5-1h0m70 0h0m3 1h0m8 0h0m2 2h0m13 1h0m8-1h0m3-3h0m8 7h0m-9 2h0m-18-2h0m-13 0h0m-14 0h0m-2 3h0m-3 0h0m-27 0h0m-15-2h0m-1 2h0m-1-2h0m-7 0h0m-11-3h0m0 4h0m-4 0h0m-3-4h0m-5 4h0m-1 0h0m-14-2h0m-20 1h0m-6-2h0m-16 3h0m-13-4h0m-15 5h0m-4-2h0m-6-2h0m-6 1h0m-12 0h0m-10 0h0m-7 1h0m-9-3h0m-1 2h0m-3 3h0m-3-1h0m-8 1h0m-2 0h0m-3 0h0m-6-5h0m-22 3h0m-2-3h0m-11 3h0m-4-1h0m-2 1h0m-5 5h0m1 1h0m10 1h0m8 0h0m12-3h0m3 1h0m12-2h0m13 5h0m7-1h0m2 0h0m2-1h0m2 0h0m1-3h0m11 5h0m19-2h0m9-3h0m3 5h0m0-3h0m12 0h0m0 3h0m1-4h0m12 0h0m12 1h0m12 2h0m9-4h0m1 0h0m19 3h0m12-1h0m2 0h0m1-2h0m6 0h0m9 1h0m6 0h0m4 0h0m0 3h0m4-3h0m6 1h0m26-1h0m8 4h0m6-4h0m1 0h0m23 4h0m3-2h0m1 0h0m16-1h0m4 3h0m6-3h0m30-2h0m4 11h0m-5-1h0m-9-3h0m-7 4h0m-6-4h0m-24 2h0m-21 2h0m-21-1h0m-6 0h0m-17-2h0m-15 1h0m-39 2h0m-3-3h0m-4-1h0m-17 4h0m-3 0h0m-9-2h0m-3 0h0m-15-3h0m-1 0h0m-3 1h0m-28 1h0m-16-1h0m-2 0h0m-40 1h0m-8-2h0m-1 4h0m-14-1h0m-3-2h0m-5 4h0m-11-3h0m-5-1h0m0 3h0m-19 7h0m12-1h0m6-2h0m18 1h0m3-2h0m4 2h0m15 0h0m153-3h0m9 3h0m30-3h0m5 3h0m38 2h0m2 0h0m7-5h0m51 5h0m13 5h0m-15-3h0m-4 0h0m-5 3h0m-46 0h0m-3 0h0m-14-4h0m-8 5h0m-183-4h0m-14 0h0m-20 1h0m-9 2h0m-2 0h0m-5-1h0m-5 2h0m-3-5h0m-20 0h0m-1 9h0m13-1h0m2-1h0m32-1h0m257 4h0m3-4h0m30 2h0m11 2h0m12 0h0m13-2h0m-29 5h0m-21 1h0m-300-2h0m0 3h0m-8 1h0m-7-3h0m-1 3h0m-3-2h0m-3-2h0m-10 10h0m2 0h0m4-3h0m5-1h0m9 1h0m27 1h0m24 1h0m-38 5h0m-14 1h0m-7-3h0m-8 2h0m-4 6h0m53-2h0m28 4h0m-11 7h0m-21 0h0m-33 4h0m0-1h0m22-1h0m19 7h0m-8 1h0m-22 7h0m18 7h0m-13-5h0m-8 1h0m-4 5h0m1 4h0m4-1h0m17-1h0m-5 6h0m-12 14h0m0-2h0m-4 6h0"/>
<path stroke="#22B12C" d="M247 391h0m-62 5h0m50 1h0m52-1h0m22 6h0m-72 2h0m-65 2h0m67 7h0m2-4h0m114 10h0m-12-5h0m-81 9h0m67 0h0m21 2h0m67-3h0m20 2h0m-80 3h0m-16 3h0m-84-2h0m-30-2h0m-74 7h0m5 4h0m82-5h0m150 0h0m17 3h0m-1 3h0m-12 3h0m-4-2h0m-84 1h0m-104 3h0m-52 5h0m14-4h0m46 5h0m1-4h0m36 2h0m3 0h0m27 1h0m58 1h0m42 0h0m39-3h0m-9 9h0m-123-4h0m-18 0h0m-24 2h0m-27 1h0m-69-1h0m-18-2h0m-9 0h0m130 8h0m13-1h0m1-2h0m62 0h0m25 5h0m4-4h0m35 3h0m1 1h0m14-3h0m18 9h0m-49-2h0m-33 1h0m-15-3h0m99 10h0m10-1h0m5 7h0m-38-1h0m-4-3h0m-305 3h0m51 4h0m281 0h0m-288 27h0m1-1h0m91 18h0m-96-1h0m-47-1h0m18 21h0m113 2h0m-49 8h0m6 1h0m-74 5h0m156 16h0"/>
<path stroke="#EC720E" d="M147 339h0m6 1h0m76 5h0m-45-1h0m-6 1h0m-7 1h0m-16-2h0m-20 3h0m-29-5h0m-1 4h0m4 6h0m8-1h0m1-2h0m4-1h0m0 4h0m5-1h0m1-3h0m3 3h0m1-1h0m2 0h0m4 3h0m3-3h0m2-1h0m1 3h0m5-2h0m1 3h0m13-1h0m1-4h0m3 1h0m1 2h0m2 0h0m3 1h0m0 1h0m3-1h0m1 1h0m6-1h0m9-4h0m0 4h0m4 1h0m2-3h0m1-1h0m13 2h0m10 1h0m22-2h0m1 5h0m-2 3h0m-8-1h0m-9 2h0m-1-3h0m-3-1h0m-7 4h0m-7-5h0m0 2h0m-10 1h0m-5-2h0m0 2h0m-5-2h0m-2-1h0m0 4h0m-4-2h0m-14-1h0m-7 0h0m-3 0h0m-6 3h0m-7 1h0m-2-5h0m-2 5h0m-3-2h0m-4-3h0m0 2h0m-7 2h0m-5-4h0m-5 5h0m-10 0h0m0-5h0m0 4h0m-1-3h0m-1 3h0m0-3h0m-12 8h0m2-3h0m8 1h0m7 2h0m14-3h0m13 0h0m47 0h0m5 1h0m0 2h0m11-3h0m1 0h0m0 3h0m1-2h0m6 1h0m2 0h0m16 3h0m3 0h0m19 0h0m3-4h0m1 3h0m4-4h0m8 5h0m3-2h0m6-2h0m6-1h0m19 0h0m4 2h0m-3 5h0m-4 2h0m-17-2h0m-12 3h0m-17-1h0m-9-3h0m-2 3h0m-14-1h0m-4-1h0m-23-1h0m-97 0h0m-8 1h0m-1 7h0m2 0h0m149 0h0m5 1h0m0-3h0m30 3h0m51 2h0m2-4h0m42 9h0m-42-3h0m-40-1h0m-10 3h0m-192 2h0m114 6h0m99-2h0m32 1h0m71 1h0m-46 3h0m-25 0h0m0-2h0m-36 0h0m-9 2h0m-24-2h0m-32 9h0m64-1h0m53 3h0m5-5h0m45 2h0m31 7h0m-7-1h0m-10 0h0m-56-1h0m-16 2h0m-29-2h0m-12 1h0m-64-2h0m-15 11h0m64-2h0m26 0h0m2-3h0m13 1h0m112 9h0m-40-4h0m-312 0h0m335 7h0m9 4h0m1 2h0m-346 6h0m289-1h0m42 2h0m17-2h0m-32 6h0m57 10h0m6 2h0"/>
<path stroke="#66F0F0" d="M222 499h0m-60 3h0m30 18h0m12 1h0m51 1h0m-19 3h0m-34 0h0"/>
<path stroke="#2A6CF8" d="M209 351h0m1-2h0m37 8h0m-14-1h0m-11 3h0m-106 6h0m1-1h0m4 0h0m6 1h0m9-3h0m4 3h0m15-3h0m4 0h0m2 3h0m3-2h0m0 2h0m4 0h0m7-2h0m15 1h0m12-2h0m17 1h0m11-3h0m6 3h0m4 1h0m7 0h0m53 7h0m-3-1h0m-7-4h0m-16 1h0m-30 3h0m-9-1h0m-6-3h0m-12 2h0m-15 3h0m-3-4h0m0-1h0m-7 1h0m-12 0h0m-3 4h0m-6-2h0m-12-1h0m-5 2h0m-1-4h0m-5 5h0m-6-3h0m-1 0h0m-1 1h0m-3-1h0m-7-1h0m-7 2h0m-1 2h0m0-2h0m-1-2h0m-1 0h0m0 4h0m-8 0h0m-1-4h0m-1 4h0m-1-5h0m-4 5h0m-7 1h0m3 3h0m3-2h0m5 4h0m1-4h0m2 3h0m1-1h0m1-1h0m5 3h0m2-5h0m3 4h0m3-4h0m4 3h0m3 2h0m2-1h0m10-3h0m11-1h0m2 5h0m0-2h0m6 2h0m2-3h0m9-2h0m5 0h0m14 0h0m5 0h0m0 3h0m5-2h0m12 2h0m0 1h0m1-3h0m18 4h0m11-3h0m13 3h0m3-2h0m40 0h0m1 2h0m10-3h0m2 2h0m19-3h0m36 10h0m-22-3h0m-1-2h0m-10 2h0m-8-2h0m-41 0h0m-16 2h0m-8-2h0m-2 0h0m-5 4h0m-23-4h0m-4 2h0m-3 3h0m-1-3h0m-16 2h0m-3-1h0m0-2h0m-1 2h0m-2-1h0m-6 0h0m-1 1h0m-2-2h0m-10 1h0m-2 1h0m-4 1h0m-6-1h0m-4 0h0m-5-2h0m0 3h0m-9-3h0m-5-1h0m-8 2h0m-2 2h0m-2-1h0m-12-2h0m-2 0h0m-3-1h0m-2 2h0m-1-2h0m-3 3h0m-7-3h0m-2 4h0m0-2h0m-3-2h0m-1 5h0m-2-3h0m-13-1h0m3 10h0m18-4h0m1 2h0m11 1h0m0-2h0m4 3h0m5-4h0m1-1h0m3 0h0m4 0h0m6 1h0m2 1h0m2 1h0m3 2h0m2-5h0m17 2h0m3 0h0m1 0h0m5-2h0m1 2h0m16-1h0m8-1h0m4 2h0m23 3h0m4-2h0m4-3h0m11 2h0m13-1h0m17-1h0m11 1h0m0 1h0m11 3h0m8 0h0m4-5h0m68 5h0m5-1h0m6-3h0m2 10h0m-23 0h0m-17-4h0m-85 1h0m-3 1h0m-15 2h0m-9-3h0m-24 0h0m-6-1h0m-13 3h0m-58-4h0m-9 1h0m-2 3h0m-5-3h0m-3-1h0m0 3h0m-1-2h0m-1 0h0m-12 2h0m0-1h0m-7-2h0m0 4h0m-2-4h0m-8 1h0m-3 3h0m-2 0h0m-1 5h0m2 0h0m4 2h0m3 0h0m2-4h0m1 3h0m3 1h0m3-5h0m5 1h0m4 1h0m1-1h0m2 0h0m102 3h0m30-3h0m3 1h0m3-2h0m43 4h0m11-1h0m14-1h0m19 0h0m4 1h0m20 1h0m2-4h0m15 2h0m8-1h0m29 9h0m0-1h0m-3 2h0m-1-1h0m-4 0h0m-3 1h0m-21 0h0m-4 0h0m-15-4h0m-43 2h0m-8 2h0m-6-5h0m-24 3h0m-2-2h0m-3-1h0m-1 5h0m-21-1h0m-161 1h0m0-1h0m-11 1h0m-2 0h0m0-5h0m-1 5h0m1 3h0m0-1h0m2 0h0m3 3h0m6-3h0m88 0h0m63 3h0m49-4h0m19 2h0m36 0h0m22-1h0m31 2h0m3 2h0m33-4h0m2 9h0m-22-1h0m-39-2h0m-11 0h0m-22-1h0m-6 3h0m-1 2h0m-17-5h0m-26 4h0m-168-4h0m-32 5h0m-9 0h0m0-5h0m-4 2h0m0 2h0m0 4h0m135-1h0m11 0h0m52 1h0m26-1h0m22 0h0m15 3h0m12 1h0m14-4h0m2-1h0m4 1h0m18 1h0m57 3h0m-18 3h0m-3-2h0m-7 5h0m-3-5h0m-1 0h0m-12 0h0m-33 3h0m-30 1h0m-64-4h0m-38 2h0m-23 1h0m-115-3h0m-22 9h0m1-3h0m116 1h0m39 4h0m102-2h0m65 2h0m1-3h0m37 5h0m-10 1h0m-16 1h0m-9 0h0m-3-1h0m-1 3h0m-26-5h0m-128 3h0m-28 1h0m-96 1h0m88 4h0m25-2h0m68 1h0m141 2h0m-67 2h0m-83 0h0m-43 5h0m-30-2h0m-1 1h0m-7-1h0m-28-1h0m-38-1h0m-69-1h0m50 6h0m50 2h0m22-2h0m46 5h0m18 0h0m13-2h0m44 0h0m77 2h0m-49 5h0m-10 1h0m-261 5h0m249-3h0m12 0h0m27-1h0m1 2h0m17 3h0m30-4h0m6 4h0m38 0h0m1 4h0m-62 2h0m-10-2h0m-14-2h0m-3 2h0m-279 2h0m-2 18h0m-10 5h0m4 4h0m3 0h0m-4 9h0m2 9h0m-5 3h0m4 10h0m-2 7h0m0-1h0m2 0h0m-3 8h0m6 4h0m1 7h0m-6-3h0m-2 9h0m8 1h0m0-5h0m-6 9h0m0-3h0m-1 4h0m-2 7h0m17-2h0m6 6h0m-20 3h0m2 0h0"/>
<path stroke="#F3324A" d="M255 358h0m-4-2h0m-9-1h0m65 14h0m26 7h0m-102 7h0m-51 2h0m4 0h0m2 1h0m2 3h0m2-2h0m10 1h0m6-1h0m3 2h0m2-5h0m4 1h0m1-1h0m21 0h0m10 4h0m1-1h0m4 2h0m3 0h0m12 0h0m19 0h0m1-1h0m3 1h0m2-2h0m7 2h0m99-1h0m16 5h0m-53 2h0m-54-1h0m-24 1h0m0-5h0m-8 3h0m-2 2h0m-11 0h0m-1-4h0m-17-1h0m-2 0h0m-7 5h0m-12-5h0m-14 3h0m-4-1h0m-8 3h0m-2-4h0m-2 2h0m0-2h0m-6 4h0m-2-5h0m-3 2h0m-1 2h0m-2-3h0m-11-1h0m-2 1h0m-2 3h0m-1-2h0m-2 2h0m-9-2h0m-1-2h0m-1 4h0m-2-1h0m-4 1h0m-4-1h0m-5 2h0m-7 1h0m4 3h0m2-1h0m2 1h0m3 1h0m7-2h0m1 3h0m6-2h0m0 2h0m2 0h0m4-1h0m1 1h0m4-4h0m2 3h0m1 0h0m1-1h0m5 1h0m1 1h0m3-5h0m10 2h0m2 1h0m1-3h0m1 0h0m12 0h0m8 4h0m5 0h0m3-1h0m9 0h0m5-1h0m3 2h0m1-1h0m3 0h0m5 2h0m3 0h0m2 0h0m6-3h0m3-2h0m3 3h0m4-1h0m6-2h0m5 5h0m7 0h0m0-2h0m4 0h0m11 2h0m37-4h0m1 2h0m5-3h0m21 2h0m5 0h0m7 2h0m54 1h0m1 1h0m-37 4h0m-4-1h0m-8 2h0m-10-5h0m-1 4h0m-3-4h0m-6 5h0m-26-2h0m-4-2h0m-1 4h0m-6-1h0m-5-1h0m-12 0h0m-1 2h0m-2-5h0m-24 2h0m-6 1h0m-6 1h0m-5-4h0m-2 1h0m-2-1h0m-3 1h0m-3-1h0m-5 2h0m-7 2h0m-5-1h0m-2-2h0m-5 3h0m-1-2h0m-1-2h0m-26 1h0m0 4h0m-6-3h0m0-1h0m-2 2h0m-3 1h0m-6 0h0m-1-2h0m-1-2h0m-6 4h0m-1-4h0m-1 5h0m-1-4h0m-2-1h0m-1 2h0m-3 1h0m-6 2h0m-3-3h0m-1 0h0m-8-1h0m-13 0h0m-3-1h0m-2 2h0m-3 0h0m-18 1h0m-11 7h0m3-2h0m3-1h0m1 4h0m2-5h0m0 4h0m6-4h0m1 2h0m1 2h0m3 1h0m4-4h0m0 4h0m1-2h0m1 2h0m8-4h0m14 2h0m2 0h0m7 1h0m0-2h0m2-2h0m0 4h0m6-3h0m8 1h0m1 0h0m0-1h0m5 4h0m0-1h0m4 0h0m7-1h0m0-1h0m2-2h0m4 0h0m4 3h0m3 1h0m1 1h0m1-4h0m7 1h0m3 0h0m1-2h0m4 3h0m8 0h0m3-2h0m4-1h0m2 1h0m10 1h0m2-2h0m12 1h0m11 2h0m1-3h0m1 4h0m6-3h0m9 0h0m11 4h0m2-3h0m4 0h0m1 0h0m2 3h0m3-4h0m24 3h0m3-2h0m5-2h0m9 5h0m10-2h0m8 2h0m0-5h0m6 4h0m2 0h0m13 0h0m3-1h0m11 1h0m5-2h0m7-2h0m1 10h0m-7-4h0m-8 1h0m-4 4h0m-3-2h0m-7 0h0m-1-2h0m0 3h0m-8 1h0m-14-3h0m-4-1h0m-2 3h0m-20-3h0m0-1h0m-13 2h0m-1 1h0m-10-2h0m-25 0h0m-2 4h0m-1 0h0m-7-3h0m-2 0h0m-5 1h0m-4 2h0m-5-2h0m-11-1h0m-5 3h0m-8-5h0m-1 2h0m-10 0h0m-1-1h0m-4 1h0m-4 1h0m-1 1h0m-9 1h0m-4-5h0m-2 1h0m-1-1h0m-4 5h0m-3-1h0m-5 0h0m-2-3h0m0 3h0m-11-1h0m-2-3h0m-1 2h0m-3 0h0m-5-2h0m-3 4h0m-4-1h0m-3 2h0m0-3h0m-4 2h0m-2-3h0m-2-1h0m-2 4h0m-9-4h0m0 3h0m-4-3h0m-7 5h0m-2-5h0m-2 0h0m-2 4h0m-3-3h0m-5 4h0m-4-4h0m-5 2h0m-4-2h0m-4 2h0m-2-1h0m-2 2h0m1 7h0m5-3h0m2 0h0m6 3h0m1 0h0m2 0h0m1-5h0m3 0h0m7 2h0m2 1h0m9-2h0m2 1h0m7-2h0m6 5h0m6 0h0m3-2h0m8 0h0m0 2h0m2-2h0m3 1h0m1-3h0m1 2h0m5 0h0m2-3h0m6 1h0m0 2h0m4-1h0m8-2h0m10 2h0m11 3h0m24-2h0m12 0h0m2 0h0m6 1h0m7-4h0m6 3h0m1 1h0m8 0h0m6-2h0m5 3h0m8-2h0m3-1h0m21-2h0m2 3h0m1-1h0m23 3h0m9-1h0m11 0h0m3-2h0m1 2h0m1 0h0m10 1h0m9-2h0m5-3h0m8 1h0m3 3h0m2-1h0m3-3h0m23 4h0m1 2h0m-1 0h0m-5 3h0m-14 2h0m-14 0h0m-5-4h0m-4 1h0m-3-2h0m-1 4h0m-2-1h0m-5-2h0m-14-1h0m-1 5h0m-12-4h0m0 1h0m-2 2h0m-5 1h0m-11-5h0m-2 1h0m-9 4h0m-2-2h0m0-1h0m-3-2h0m-1 3h0m-9-1h0m-26-2h0m-8 3h0m0 2h0m-2 0h0m0-3h0m-10 0h0m-7 0h0m0 3h0m-4 0h0m0-5h0m-1 2h0m-8 3h0m-3-3h0m-3 3h0m-1-1h0m-3-1h0m-5 0h0m-3-2h0m-7 3h0m-4 0h0m-9-3h0m-3 3h0m0 1h0m-3-1h0m-5-3h0m-4 4h0m0-2h0m-6 2h0m-1-5h0m-5 5h0m-7-1h0m-1-3h0m-4 2h0m0 2h0m-7-4h0m-3 2h0m-1-3h0m-3 1h0m-2 3h0m-1-3h0m0 4h0m-2-4h0m-1 1h0m0 3h0m-3-2h0m-2 0h0m-13-2h0m-3 2h0m-1 2h0m0-5h0m-5 0h0m-1 0h0m0 4h0m-2 1h0m-3-2h0m-4 1h0m-2-1h0m-4 1h0m-6 0h0m-5 0h0m-3-1h0m-6-1h0m-1-1h0m7 5h0m0 4h0m2-4h0m0 3h0m6-3h0m3 2h0m6-1h0m2 0h0m1 0h0m7 2h0m4-1h0m1-2h0m3 3h0m2 0h0m1 1h0m4-1h0m3-1h0m9 1h0m9-1h0m0 3h0m3-5h0m1 5h0m1-4h0m0 4h0m3-4h0m2 4h0m1 0h0m3-1h0m3 1h0m3-5h0m8 3h0m0-3h0m7 5h0m0-2h0m3 0h0m2-1h0m3 2h0m5-3h0m3 4h0m1-4h0m9 0h0m4 3h0m7-4h0m12 5h0m5-3h0m3 3h0m2-5h0m3 3h0m3-2h0m4 3h0m19 1h0m0-2h0m10-1h0m8 2h0m17 1h0m5-1h0m10 0h0m5-2h0m11 0h0m11-2h0m5 5h0m4-5h0m5 4h0m17 0h0m2-4h0m13 0h0m10 4h0m4-2h0m4 1h0m1 0h0m2-2h0m2-1h0m9 0h0m17 6h0m-37 0h0m0 4h0m-2-1h0m-28 2h0m-17-4h0m-17 0h0m-4 0h0m-3 0h0m-3 2h0m-6-2h0m-11 4h0m-7-3h0m-8 0h0m-2 1h0m-7-1h0m-10 0h0m-7 2h0m-2-2h0m-15-2h0m-4 5h0m-6-4h0m-20 4h0m-5-5h0m-3 5h0m0-2h0m-14-3h0m-9 2h0m-6-1h0m-4 1h0m-3-1h0m-4 1h0m-1 1h0m-4 0h0m-6-3h0m-3 1h0m-2 4h0m-9-1h0m-4-4h0m-19 2h0m-11 0h0m-2 2h0m-5-4h0m-6 4h0m-4-3h0m-1-1h0m-1 0h0m-1 4h0m-6-2h0m-9-2h0m0 4h0m0 2h0m3 2h0m1-1h0m5 0h0m4 1h0m0 1h0m4-2h0m1 0h0m1 3h0m3-1h0m1-2h0m0 3h0m2 1h0m11-3h0m4 3h0m0-2h0m9-3h0m6 3h0m0-2h0m1-1h0m8 1h0m15 0h0m10 0h0m17 3h0m3-2h0m22-1h0m10 0h0m4 0h0m14 4h0m1-5h0m3 5h0m7-4h0m11 2h0m7-1h0m11 1h0m1 2h0m1-3h0m15 1h0m1-2h0m1 1h0m3 1h0m6-3h0m5 2h0m7 1h0m26-1h0m10 2h0m3-1h0m2-2h0m7 0h0m4 3h0m6 0h0m1 1h0m12-1h0m8-4h0m1 5h0m2 0h0m33-4h0m3 4h0m6-4h0m-33 10h0m-6-1h0m-2-4h0m-1 3h0m-12-3h0m-17 0h0m-2 0h0m-2 5h0m-2-2h0m-6-2h0m-34 4h0m-7-2h0m-14 0h0m-1 1h0m-5-4h0m-4 0h0m-13 1h0m-4 4h0m0-5h0m0 3h0m-9 1h0m-3 0h0m-51-4h0m-11 0h0m-1 2h0m-1-2h0m-20 0h0m-57 5h0m-4-4h0m-4-1h0m-10 1h0m-1 2h0m-3 1h0m-4 0h0m-8-1h0m-2-3h0m-11 3h0m2 4h0m2 1h0m0 3h0m7-2h0m2-3h0m2 4h0m8 1h0m0-1h0m5 1h0m6-4h0m0-1h0m5 0h0m5 4h0m14 1h0m19-2h0m137-3h0m3 3h0m9-2h0m12 1h0m3-1h0m45-1h0m6 1h0m12 0h0m8 2h0m2 0h0m18-1h0m30 1h0m3 0h0m-4 6h0m-27 0h0m-40 0h0m-2 1h0m-15-2h0m-6 0h0m-3-2h0m-7 4h0m-216-3h0m-5 1h0m0-1h0m-3-1h0m-4 0h0m-2 1h0m-5 2h0m-9 2h0m-3-4h0m-1 4h0m0-5h0m-3 1h0m-1 3h0m-3 1h0m0-2h0m-2 1h0m-1 1h0m-1 0h0m-1-1h0m-2-1h0m-8 0h0m0 6h0m5-3h0m1 0h0m7 5h0m3-5h0m0 3h0m1 1h0m4-3h0m15 3h0m2 0h0m12-1h0m11-3h0m224 1h0m7 1h0m10-1h0m1 0h0m12 3h0m8-3h0m20 0h0m6 1h0m2-2h0m8 7h0m-5-1h0m-16 2h0m-5-1h0m-2 0h0m-2 2h0m-288 0h0m-3 0h0m-11 2h0m-6 0h0m-1-3h0m-6 1h0m-4-1h0m-7 2h0m-2 0h0m-1 1h0m0-1h0m0 3h0m2 0h0m39 1h0m307-2h0m-336 10h0m-11 0h0m22 4h0m5 9h0m15 6h0m20-2h0m10-1h0m-14 9h0m-29-3h0m-25 9h0m23-1h0m5-1h0m6 7h0m-16 1h0m-10 3h0m10 1h0m33 4h0m-2-1h0m-18 2h0m-1-2h0m-18 3h0m4 8h0m8-2h0m-6 3h0"/>
<path stroke="#22B12C" d="M251 382h0m-13 1h0m0 10h0m-32 1h0m-3-1h0m-19 5h0m18 2h0m14-2h0m107 2h0m-46 4h0m-49 8h0m52-4h0m64 9h0m-162 2h0m79 1h0m78 1h0m-21 5h0m-50 2h0m-76 3h0m0-2h0m11 4h0m15 1h0m30 2h0m40 1h0m61 0h0m88-1h0m-64 5h0m-42 0h0m-65-3h0m-8 4h0m-11-1h0m-15-1h0m-23 2h0m-26-1h0m-12-1h0m-16-1h0m-27-1h0m26 7h0m27 0h0m81 3h0m22-1h0m10-2h0m36 2h0m11-2h0m91 10h0m-49-1h0m-4 0h0m-11 1h0m-21-5h0m-9 4h0m-8 1h0m-97-1h0m-8 1h0m-87-5h0m-5 3h0m-43 7h0m30-1h0m150 2h0m31 0h0m14-2h0m3 2h0m5-4h0m11 4h0m42 0h0m2-5h0m46 4h0m22 5h0m-15 0h0m-26-2h0m-3 4h0m-7-3h0m-18 2h0m-10-3h0m-12 2h0m0 6h0m9-1h0m28 0h0m14-1h0m26 0h0m17 8h0m-8-1h0m-15-1h0m2 9h0m-313 3h0m-28 2h0m26 11h0m55 7h0m21 0h0m28 1h0m-90 4h0m-14 0h0m-4 9h0m132 3h0m-105-1h0m-5 0h0m26 10h0m84-2h0m-33 17h0m-113 16h0m146 4h0m9 6h0"/>
<path stroke="#EC720E" d="M122 339h0m76 2h0m35 5h0m-22-3h0m-62 3h0m-4-2h0m-1 2h0m-18-3h0m-26 7h0m7 1h0m2 0h0m1 1h0m2-2h0m1 0h0m5-2h0m6 0h0m1 4h0m6 0h0m4-3h0m1 4h0m1-4h0m1 3h0m1-1h0m1-2h0m5 1h0m0 1h0m1-2h0m2-1h0m0 2h0m1 3h0m7-2h0m1-3h0m1 5h0m3-2h0m0-1h0m4 0h0m6 3h0m0-1h0m11-4h0m3 1h0m6 2h0m3 0h0m5 1h0m2-1h0m3 0h0m1-1h0m2 3h0m10 0h0m15 0h0m11-5h0m6 10h0m-3-2h0m-25 2h0m-7 1h0m-2-4h0m-1 4h0m-5-3h0m-1 1h0m-7-2h0m-4 0h0m-1 4h0m-5-3h0m-1 2h0m-2-2h0m-6-2h0m-1 2h0m-7-2h0m-1 0h0m-2 5h0m-2-3h0m-3 1h0m-2 0h0m-2 2h0m-1 0h0m-6-5h0m-2 3h0m-2 2h0m0-3h0m-4 3h0m-7-1h0m-6-2h0m-3-2h0m-1 2h0m-2 0h0m0 3h0m-1 0h0m-2-1h0m-1 0h0m-3-2h0m0 2h0m-3 0h0m0-3h0m-1 1h0m-3-1h0m-7 1h0m-1 0h0m-1 2h0m0-1h0m-3 0h0m-2 0h0m-4 8h0m1-2h0m0 1h0m3-2h0m1-2h0m0 2h0m0 2h0m2-3h0m0 1h0m1 0h0m0 3h0m6-1h0m4-3h0m10-1h0m1 1h0m5 0h0m2-1h0m37 0h0m2 0h0m5 1h0m19 3h0m7-4h0m10 1h0m6 0h0m1-1h0m1 3h0m3-3h0m9 2h0m19-1h0m4 4h0m5-5h0m7 0h0m2 2h0m10-2h0m2 4h0m4-2h0m11 7h0m0-1h0m-8 2h0m-7-1h0m-25-2h0m-4 1h0m-1 1h0m0-3h0m-8 2h0m-4 2h0m-15-2h0m-124 0h0m-1 2h0m-2-4h0m0 5h0m-1 0h0m-1-2h0m-2 1h0m-1 7h0m1-5h0m2 3h0m137 2h0m22-2h0m6-2h0m1 4h0m5-1h0m35-2h0m4 2h0m48 1h0m5 2h0m-9 3h0m-2 0h0m-49-4h0m-6 3h0m-8 0h0m-1-3h0m-39 0h0m-151 2h0m0-2h0m-1 3h0m131 6h0m45-1h0m65 1h0m16-3h0m47 5h0m5-3h0m2-1h0m4 3h0m6 3h0m-10 1h0m-30-1h0m-21 1h0m-9 0h0m-12-2h0m-240 1h0m170 9h0m77 0h0m19-2h0m15 1h0m67 5h0m-15 1h0m-74-2h0m-53 4h0m-6-3h0m-15 1h0m-51 8h0m7-3h0m163-1h0m5 2h0m41 0h0m11 7h0m-42-2h0m-49-1h0m-125 4h0m-147 0h0m145 5h0m27-2h0m20-1h0m5 0h0m9-1h0m40 3h0m45-2h0m60 1h0m-3 8h0m-16 0h0m-6 1h0m-33-1h0m-6 0h0m-1-3h0m-18 3h0m-15-1h0m-39 0h0m-29-2h0m-186 3h0m290 14h0m12 1h0m14 2h0"/>
<path stroke="#66F0F0" d="M168 504h0m78 6h0m-73 9h0"/>
<path stroke="#2A6CF8" d="M206 351h0m37 3h0m-16 2h0m-95 2h0m-13 6h0m12 1h0m3-1h0m1 1h0m3-2h0m7 0h0m13-2h0m8 0h0m0 2h0m1 2h0m15-2h0m3-1h0m17 2h0m76-2h0m46 9h0m-46 0h0m-8-5h0m-1 1h0m-13 2h0m-26-3h0m-1 3h0m-3-2h0m-7 1h0m0 2h0m-6-2h0m-5 0h0m-6-1h0m-8 0h0m-1 0h0m-7 0h0m-3 3h0m-9 1h0m-1 0h0m-15-4h0m-2 0h0m-1 4h0m-5-5h0m-4 4h0m-3-4h0m-1 5h0m-6-2h0m-1 1h0m-2-4h0m-1 4h0m-1 0h0m-2-4h0m-2 3h0m-9-1h0m0 2h0m-2-2h0m-2 3h0m-7-2h0m0-2h0m-3 4h0m-11-2h0m-6 5h0m7 3h0m3-3h0m1-1h0m0 4h0m5-2h0m14-3h0m3 1h0m5 4h0m0-1h0m7-2h0m6-1h0m0 3h0m3-2h0m5 1h0m3 1h0m2-4h0m1 1h0m9 2h0m0-1h0m4 1h0m1 1h0m0-1h0m14-2h0m3-1h0m0 3h0m1 1h0m5-1h0m0-1h0m6 1h0m2 0h0m4-1h0m0-1h0m6 4h0m9-5h0m11 5h0m1-2h0m9 0h0m17 2h0m0-2h0m20 2h0m1-4h0m1-1h0m7 3h0m2-3h0m15 1h0m15 2h0m9-2h0m11 2h0m9-2h0m10 4h0m8 3h0m-3 0h0m-28 2h0m-8-4h0m-5 2h0m-12 3h0m-1 0h0m-6-1h0m-2-3h0m-7 0h0m-2 1h0m-7 0h0m-12-2h0m-13 2h0m-2-1h0m-11 3h0m0-3h0m-6 2h0m-4 1h0m-1-1h0m-4-1h0m-30-1h0m-6 4h0m-15-4h0m-20 0h0m-8-1h0m0 2h0m-1 1h0m-1 1h0m-3-3h0m-1-1h0m-3 4h0m0-1h0m-6 1h0m-4-3h0m-1 3h0m-5 0h0m-1 0h0m-1-2h0m-7-2h0m-1 4h0m-3-3h0m-1-1h0m-5 2h0m-3-2h0m-3 4h0m-1 0h0m-1-3h0m-1 3h0m-1-3h0m-3 3h0m0-1h0m-6 1h0m0 2h0m1 2h0m0 1h0m1-1h0m2 0h0m3-1h0m1 3h0m2-2h0m0-1h0m2 0h0m0 4h0m1-4h0m2-1h0m0 3h0m2-3h0m2 0h0m0 4h0m3 0h0m0-2h0m2-2h0m3 0h0m7 2h0m2 2h0m6 1h0m2-1h0m7-2h0m2 2h0m1-4h0m19 0h0m3 1h0m1 1h0m5-1h0m2 2h0m6 0h0m9-3h0m12 5h0m15 0h0m0-3h0m32 3h0m5-1h0m2-3h0m2 0h0m20 2h0m3 0h0m20-1h0m20 2h0m6 0h0m61-2h0m30 8h0m-15-4h0m-3 2h0m-12 3h0m-4 0h0m-15-4h0m-30-1h0m-6 4h0m-6-2h0m-15-1h0m-22 1h0m-11 2h0m-2 0h0m-9-4h0m-8 1h0m-7 2h0m-15 2h0m-29-4h0m-34 2h0m-30-3h0m-3 1h0m-9 1h0m-1 1h0m-1 0h0m-6 1h0m-1 1h0m0-1h0m-5-2h0m-2 0h0m-10 1h0m-3 1h0m-1-3h0m-2 4h0m0-3h0m-4 2h0m0-1h0m-1-1h0m0-1h0m-2 0h0m0-1h0m-4 2h0m1 5h0m1 4h0m1-3h0m1-1h0m0-1h0m1 0h0m2 1h0m1 1h0m1 0h0m1-1h0m1 4h0m4 0h0m5 0h0m0-5h0m2 4h0m3 1h0m0-5h0m0 3h0m1 1h0m101-3h0m32 0h0m2 0h0m13 0h0m5 4h0m17-3h0m33-1h0m3-1h0m8 0h0m9 3h0m2-3h0m44 5h0m37-1h0m-11 3h0m-18 0h0m-34 1h0m-5 2h0m-3-1h0m-11-1h0m-3-1h0m-5 2h0m-37-1h0m-9-2h0m-4 1h0m-2 0h0m-5 2h0m-4 2h0m0-2h0m-15-1h0m-9 1h0m-81 0h0m-51-2h0m-13 2h0m-1 1h0m-1-2h0m-1 1h0m-2-1h0m-1-1h0m-1 2h0m0-1h0m-2 0h0m0-1h0m0 3h0m-1-1h0m-1 1h0m1 7h0m4-5h0m3 4h0m1-3h0m32-1h0m16 1h0m2 3h0m108 0h0m71 0h0m50-4h0m18 0h0m9 2h0m8 3h0m26-1h0m-3 5h0m-18-3h0m-31 0h0m-8 4h0m-14-1h0m-1 0h0m-23-2h0m-14 0h0m-7 4h0m-23-5h0m-13 5h0m-20 0h0m-53-3h0m-95 1h0m-21 0h0m-1 0h0m-3 1h0m0-3h0m0 4h0m-1 4h0m2-2h0m1 0h0m0 3h0m31 1h0m6-3h0m107 3h0m39-2h0m6 1h0m113-2h0m3-2h0m6 3h0m7-3h0m7 4h0m1-4h0m18 9h0m-24 2h0m-21-5h0m-20 1h0m-7 2h0m-1 2h0m-9-1h0m-49 0h0m-87 1h0m-128-1h0m0-1h0m-1 2h0m0-5h0m1 7h0m137 4h0m45-1h0m97-3h0m13 1h0m28 2h0m42-4h0m-26 8h0m-37 3h0m-4-1h0m-99-3h0m-6 3h0m-34 1h0m-3-3h0m-61 2h0m-25-3h0m-62 4h0m-6-3h0m0-1h0m0 3h0m-1-1h0m0 5h0m1 0h0m137-2h0m73 4h0m3 1h0m132 0h0m21-3h0m20 5h0m-112 0h0m-100 1h0m-64 3h0m-89-5h0m-21 3h0m0-2h0m-1 4h0m0-2h0m0 4h0m100-1h0m50 1h0m32 1h0m4 1h0m14 0h0m9-1h0m8 0h0m74-1h0m11 4h0m43 0h0m11-1h0m7-1h0m12 5h0m-69 2h0m-44-2h0m-42 0h0m-35-2h0m-176 6h0m275 4h0m17 7h0m-280-1h0m-19 7h0m328-5h0m-319 52h0m-3 3h0m-7 6h0m9 2h0m-2 4h0m-2 6h0m2 10h0m-6 3h0m0 5h0m-1-1h0m0 3h0m0 5h0m9 1h0m13-2h0"/>
<path stroke="#F3324A" d="M252 357h0m23 5h0m12 1h0m41 11h0m-165 14h0m1-1h0m33-1h0m4-1h0m1 0h0m11 0h0m6-1h0m3 2h0m6 1h0m13-2h0m3 1h0m30 2h0m4-1h0m5 2h0m92-5h0m9 3h0m-66 8h0m-2-1h0m-13 0h0m-2-2h0m0 3h0m-3-4h0m-2 0h0m-27 3h0m-9 0h0m-2-3h0m-6 1h0m-5 2h0m-11 0h0m-4-4h0m-8 5h0m-1-2h0m-1 0h0m-5-2h0m-4 2h0m-2-1h0m-2 2h0m-4 0h0m-2-4h0m-4 1h0m-23 0h0m0 4h0m-1-1h0m-1 0h0m-8-1h0m-15 1h0m-5-3h0m-3 2h0m-4 0h0m-5 0h0m-14 5h0m2 0h0m2-2h0m4 1h0m6 3h0m5-3h0m1 0h0m1 2h0m6-3h0m4 0h0m3 3h0m2-2h0m25-1h0m2 3h0m2 0h0m0 2h0m7 0h0m0-3h0m1-2h0m4 0h0m1 3h0m2 1h0m4 0h0m1-4h0m0 2h0m5 3h0m5-5h0m9 3h0m3-2h0m1-1h0m2 4h0m10-3h0m2 4h0m7 0h0m17-2h0m3-2h0m9 2h0m0-1h0m1 1h0m6 0h0m1 0h0m11-2h0m2 3h0m22 1h0m1 0h0m5-4h0m3 3h0m10-3h0m2 2h0m4 1h0m10-2h0m3-1h0m26 4h0m22 6h0m-37-4h0m-5 0h0m-4 2h0m-5-2h0m-5 3h0m-1-2h0m-3 3h0m-3 0h0m-1-2h0m-9-3h0m-1 4h0m-6-4h0m-1 2h0m-3 2h0m-5-4h0m-4 3h0m-2-1h0m-21-2h0m-24 0h0m-9 4h0m-3-3h0m-2 2h0m-1-1h0m-3-1h0m-15 2h0m-15 1h0m-7-3h0m-2 1h0m-1-2h0m-1 1h0m-4 3h0m-1-1h0m-1 2h0m-4-4h0m-5 0h0m-1 0h0m-2-1h0m-2 1h0m-7 3h0m-3-3h0m-1 2h0m-8 1h0m-2-2h0m-3 2h0m-2-2h0m-3 0h0m0-1h0m-3 0h0m-3 4h0m-1-3h0m-2 1h0m0-1h0m-4-2h0m0 3h0m-2-3h0m-3 2h0m-1 0h0m-2-1h0m0 2h0m-2 1h0m-3-3h0m-1 4h0m0-3h0m-3 1h0m-3-1h0m-4-2h0m-2 5h0m-4 0h0m0-5h0m-1 2h0m-2-1h0m-2 3h0m-11 3h0m5 4h0m2-4h0m1 1h0m6 3h0m3-3h0m2 1h0m2 0h0m1 0h0m4-3h0m1 2h0m2 0h0m2 2h0m2-1h0m2-1h0m1 2h0m0-1h0m2 1h0m0-1h0m3 0h0m0-2h0m5-1h0m4 1h0m2 2h0m2 2h0m1-3h0m10 3h0m3-3h0m1 1h0m1-2h0m3 2h0m0 1h0m7-4h0m3 4h0m2-4h0m3 0h0m4 2h0m1 2h0m3-4h0m1 2h0m1-2h0m3 3h0m0-1h0m13 2h0m2-1h0m1-3h0m1 3h0m5 0h0m6 1h0m3 1h0m8 0h0m4 0h0m0-2h0m2 0h0m1 1h0m8-1h0m0-2h0m0-1h0m4 3h0m6 2h0m9 0h0m0-5h0m2 2h0m7-1h0m6-1h0m1 2h0m3 1h0m6 1h0m1-4h0m9 1h0m7 0h0m1 2h0m5-1h0m0-2h0m6 1h0m2 1h0m17 2h0m8-1h0m10-2h0m30-1h0m1 2h0m0-1h0m7 4h0m13-2h0m3-2h0m3-1h0m6 9h0m-2-1h0m-17 1h0m-18 2h0m-2-3h0m-5-1h0m-6 1h0m0 3h0m-2-2h0m-8-3h0m-7 1h0m0-1h0m-2 1h0m-1-1h0m-5 0h0m0 2h0m-4 1h0m-10-2h0m-1 2h0m-3 1h0m-7-3h0m-5 1h0m-5 2h0m-2-2h0m-13-2h0m-6 1h0m-9 3h0m-8 0h0m-5 1h0m-6-2h0m-2-2h0m-1 4h0m0-1h0m-10 0h0m-3-2h0m0-1h0m0 4h0m-2-3h0m-2-1h0m-9 3h0m-8 0h0m0-2h0m-6 3h0m-1-1h0m-1-4h0m-1 0h0m-5 4h0m-1-1h0m-16-1h0m0 2h0m-6-1h0m-1-2h0m-4 1h0m-6 2h0m-1 0h0m-1 0h0m-6 0h0m-4 1h0m-1-1h0m-2 1h0m-4-4h0m-1 1h0m-4 2h0m-3-3h0m-1 1h0m-4 2h0m-2 1h0m-2-3h0m-2 0h0m0-1h0m-2 2h0m-1 1h0m-7-2h0m-1 2h0m-1 0h0m-4-3h0m0 4h0m0-1h0m-2-4h0m-1 1h0m-5 4h0m0-5h0m-1 4h0m-1 0h0m-2-1h0m-1-2h0m-2 3h0m0-2h0m-2-2h0m-10 3h0m-1 2h0m-1 0h0m0-2h0m-4 1h0m-2 1h0m-1-3h0m0 3h0m-2-3h0m-2 7h0m0-1h0m3 1h0m2 1h0m1 0h0m2 0h0m1 1h0m10-4h0m1 2h0m5 1h0m0-1h0m0-2h0m3 4h0m5 0h0m3-1h0m3 0h0m2-2h0m0-1h0m1 3h0m4 0h0m6-3h0m2-1h0m5 4h0m1 1h0m2 0h0m0-5h0m6 5h0m2-5h0m2 0h0m4 1h0m1 4h0m1-5h0m5 1h0m1 0h0m6 3h0m0-3h0m3 3h0m4 1h0m1-5h0m1 2h0m3 2h0m0-2h0m2-1h0m1-1h0m6 0h0m4 1h0m4 1h0m1 0h0m1-1h0m6-1h0m1 3h0m2-3h0m3 0h0m1 0h0m3 3h0m7-1h0m11 1h0m5-2h0m0-1h0m4 2h0m1-1h0m1 2h0m3 2h0m6-4h0m14 0h0m3 4h0m2-5h0m7 4h0m5-4h0m15 2h0m7-2h0m4 3h0m19-1h0m0 3h0m1-2h0m4 0h0m9-3h0m8 5h0m1-4h0m3 3h0m2-1h0m7 0h0m1 0h0m5 1h0m0-4h0m2 1h0m0 4h0m5-4h0m3 0h0m51 1h0m4 8h0m-15-3h0m-7 1h0m-46 3h0m-3-3h0m-10 0h0m-5 0h0m-18-2h0m-4 5h0m-2-5h0m-1 0h0m-3 5h0m-10-5h0m-15 2h0m-2 2h0m-9-1h0m-3 0h0m-6 1h0m-8-1h0m-2 0h0m-4-2h0m-2 1h0m-19 2h0m-12-2h0m-2-1h0m-1 3h0m-3-4h0m-3 0h0m-11 1h0m0-1h0m-5 2h0m-4 3h0m0-5h0m-17 4h0m0-1h0m-6-2h0m-1 4h0m0-2h0m-2 2h0m-2-3h0m-7 0h0m-3 3h0m-4 0h0m-1-4h0m-7 0h0m-1 2h0m-15 2h0m-1-2h0m-1-2h0m-4 0h0m0 3h0m-2-2h0m-2 0h0m-3 3h0m-3-4h0m-1 3h0m-1 1h0m-1-1h0m-1 0h0m-4-3h0m0 4h0m-1 0h0m-6-3h0m-3-2h0m-2 5h0m-4-1h0m-1-1h0m-4 2h0m-1-1h0m0-1h0m-5 2h0m-1-1h0m-1-3h0m-2 3h0m-4 5h0m1-1h0m0 2h0m1-1h0m1 2h0m0-5h0m1 3h0m2-2h0m1 4h0m0-5h0m3 5h0m2 0h0m4-2h0m0-1h0m4 1h0m3-2h0m0 2h0m1-3h0m6 0h0m1 5h0m2-1h0m0-2h0m7 3h0m5 0h0m0-5h0m3 4h0m1-4h0m0 1h0m1 4h0m5-4h0m0-1h0m3 0h0m0 3h0m1 0h0m3 1h0m3 1h0m6-5h0m4 1h0m4-1h0m7 2h0m8-1h0m2 1h0m1 2h0m12-4h0m2 4h0m4-2h0m3-2h0m1 4h0m1-1h0m8 2h0m6-4h0m10 2h0m6 2h0m8 0h0m4-2h0m1 0h0m16-2h0m1 4h0m1-2h0m6 1h0m9-3h0m5 0h0m6 2h0m13-3h0m5 2h0m0 1h0m6-2h0m10 1h0m0-2h0m10 3h0m4-3h0m4 1h0m1 0h0m0-1h0m6 4h0m1 0h0m0-1h0m1 1h0m1-1h0m4-3h0m1 3h0m2 0h0m1-2h0m1 4h0m12-1h0m3 0h0m7-3h0m2 1h0m11 1h0m1-3h0m25 5h0m1-5h0m13 3h0m-25 3h0m-1 3h0m-1 2h0m-13-3h0m0 3h0m-2 0h0m-7-3h0m-1 3h0m-21-2h0m-1-3h0m-10 3h0m-5 0h0m-1-3h0m-1 3h0m-1-3h0m-5 5h0m-9-4h0m-2 3h0m-9-3h0m-5 0h0m-7-1h0m-1 3h0m-32 0h0m-3-3h0m-1 2h0m-4-1h0m-1 3h0m-14-2h0m-10-1h0m-4 1h0m-4-2h0m0 4h0m-11-3h0m-1 1h0m-2-2h0m-3 2h0m-3 2h0m-1-3h0m-4 2h0m-2-3h0m0 4h0m-11 1h0m0-2h0m-3 0h0m-3 2h0m-4-1h0m-4-2h0m-3-1h0m-11 4h0m-4-2h0m0-2h0m-2 4h0m-7 0h0m-1 0h0m-10-4h0m-2-1h0m-1 0h0m-4 5h0m-6-4h0m0 4h0m-3-2h0m-7 0h0m-1-2h0m-3 3h0m-1-4h0m0 4h0m-1-3h0m-4 3h0m-1 1h0m-3 0h0m-4-5h0m0 4h0m-3-4h0m-1 2h0m-2 2h0m0-3h0m-1 4h0m0-5h0m-5 5h0m-1-4h0m-1-1h0m0 2h0m-2-2h0m-1 0h0m0 4h0m-2 0h0m-2-2h0m0 3h0m0 2h0m0 2h0m1 1h0m0-2h0m0 3h0m1-5h0m0 3h0m0-1h0m3 3h0m1-2h0m1 2h0m3 0h0m3-1h0m1-2h0m0-2h0m2 4h0m5 1h0m2-5h0m5 5h0m1-3h0m4-2h0m0 3h0m1-2h0m2 2h0m2-1h0m2 2h0m3-1h0m3-3h0m0 4h0m1-2h0m4 0h0m1 0h0m7 0h0m5 3h0m5 0h0m2-2h0m7-3h0m18 0h0m5 3h0m7-1h0m8-2h0m4 3h0m4 0h0m3-2h0m1 1h0m2-1h0m12 3h0m3-4h0m1 2h0m10 2h0m7-4h0m1 1h0m12 4h0m7-2h0m7-3h0m2 2h0m0-1h0m3-1h0m5 2h0m16 1h0m1 2h0m16-2h0m5-2h0m8 4h0m7-1h0m2-2h0m3-2h0m8 4h0m1 1h0m3-2h0m6 1h0m5 0h0m6 0h0m10-1h0m7-2h0m0 4h0m4-1h0m1 0h0m3-1h0m1-2h0m8 1h0m14-1h0m5 2h0m13-2h0m-5 8h0m-38-2h0m-2 2h0m-9 0h0m-1 1h0m-5-3h0m-6-1h0m-4 4h0m-3-2h0m-15-1h0m-2 3h0m-4 1h0m-6-5h0m-3 5h0m-12-3h0m-1-1h0m-3 0h0m-6 3h0m-4-2h0m-11-1h0m-1 2h0m-14-1h0m-7 0h0m-1 3h0m-10-3h0m-14-1h0m-1 3h0m-1-4h0m-3 0h0m-9 2h0m-15-2h0m-1 2h0m-25-1h0m-20 0h0m-1-1h0m-4 1h0m-20 2h0m-1-1h0m-6-1h0m-3 4h0m-5-1h0m-4 1h0m-2-3h0m0-1h0m0 4h0m-5-2h0m-3 0h0m-1-3h0m-9 2h0m-2 1h0m-2 2h0m-1 0h0m-2-3h0m0-1h0m-6 4h0m0-3h0m-3 0h0m-3-2h0m-2 5h0m-1 0h0m0-5h0m0 4h0m-1-4h0m-2 2h0m-1 2h0m-1-3h0m0 4h0m0-2h0m-1 1h0m0 5h0m1 1h0m2-4h0m1 2h0m1-2h0m1 1h0m3-1h0m2 0h0m4 3h0m0 2h0m1-1h0m1 0h0m2 1h0m0-5h0m6 1h0m1 2h0m2-3h0m1 5h0m0-2h0m2-3h0m2 5h0m0-5h0m4 5h0m3-4h0m2 1h0m26-2h0m131 1h0m11 0h0m11 1h0m24-1h0m2 2h0m4-2h0m9 1h0m13 3h0m6-3h0m9-2h0m14 5h0m1 0h0m37-1h0m0-1h0m1 2h0m1-4h0m4 1h0m5-2h0m4 1h0m4 6h0m-15 0h0m-1 1h0m-4 1h0m-10-2h0m-4 0h0m-2 0h0m-1 4h0m-7-3h0m-18-1h0m-3 2h0m-3 0h0m-18-1h0m-20-1h0m-174 1h0m-33 0h0m-18 1h0m-2 1h0m-1-3h0m0 2h0m-2-3h0m-3 4h0m-4-2h0m-1-1h0m-1-1h0m-1 0h0m-2 2h0m-6 1h0m0-2h0m-2 4h0m0-3h0m-2-2h0m0 4h0m-1 1h0m0-5h0m-1 5h0m0 3h0m1 1h0m0 2h0m3-1h0m0-2h0m2 2h0m4-3h0m3 2h0m6-3h0m1 2h0m264-2h0m13 1h0m9 2h0m3-3h0m3 1h0m1 0h0m25 0h0m1 0h0m4 2h0m1 1h0m5-4h0m19 3h0m-322 6h0m-5-1h0m-13 1h0m-4-3h0m-14 4h0m-3-2h0m-3 0h0m-1 0h0m-2 1h0m-1 0h0m1 5h0m6 3h0m8-4h0m0 4h0m23 1h0m-37 0h0m-1 2h0m0 3h0m1 5h0m6-2h0m3 3h0m3-1h0m0-2h0m2 3h0m2 0h0m1-3h0m14 6h0m-13-1h0m-2-1h0m-3 4h0m13 6h0m21 1h0m18 4h0m-48 2h0m-8-4h0m-5 6h0m51 5h0m-23 4h0m-17-4h0m-9 4h0m8 4h0m10 9h0m-11 0h0m-1-3h0m20 15h0m-11-5h0m-3 0h0m-4 9h0m3 1h0m5-4h0m8 8h0"/>
<path stroke="#22B12C" d="M214 374h0m5 3h0m-20 9h0m140 9h0m-101-3h0m-31 7h0m26 0h0m30 1h0m32 1h0m47 2h0m-99 2h0m-1 2h0m-26 0h0m-30-4h0m39 10h0m45 0h0m47-4h0m35 3h0m35-3h0m17 1h0m-27 4h0m-40 4h0m-86 0h0m-58 3h0m17 4h0m46-5h0m62 4h0m15-2h0m15 0h0m4 2h0m14-4h0m55 2h0m-12 6h0m-118 1h0m-5-3h0m-38 2h0m-26 2h0m-52-3h0m-11 6h0m38 4h0m20-4h0m116 2h0m89-3h0m-103 11h0m-8 0h0m-14-2h0m-1-2h0m-1 1h0m-3 3h0m-2 0h0m-18-1h0m-10-4h0m-17 5h0m-4-1h0m-10-1h0m-93-2h0m-25 10h0m51-1h0m6-4h0m32 3h0m29 0h0m10 0h0m11-2h0m99 3h0m6 0h0m13-4h0m56 7h0m-13 1h0m-9-2h0m-124 0h0m-17 4h0m-30-1h0m-14 2h0m-118-1h0m-8 6h0m152-2h0m11-2h0m19 1h0m6 2h0m10-1h0m7 1h0m63 0h0m81-3h0m-3 11h0m-15-2h0m-17 1h0m-4-2h0m-25-2h0m-9 5h0m-6-3h0m-1 1h0m-55-2h0m-190 6h0m243 2h0m30 0h0m13 0h0m18 6h0m-2-3h0m-19 1h0m-25 0h0m-287 0h0m324 6h0m-253 14h0m26 19h0m-63 7h0m14-2h0m98 2h0m-139 21h0m90 9h0m-22 2h0m101 13h0"/>
</g></g>
<g clip-path="url(#cBR)"><g stroke-width="4.4" stroke-linecap="round" transform="scale(0.5)">
<path stroke="#EC720E" d="M551 335h0m-21 2h0m79 7h0m-63-2h0m102 6h0m7 3h0m30 8h0m3 1h0m37 1h0m-216 8h0m133 3h0m89 5h0m25-5h0m-23 6h0m-26 2h0m-9 3h0m105 7h0m-35 48h0m108 7h0"/>
<path stroke="#66F0F0" d="M610 443h0m-83 3h0m14-1h0m23 3h0m45-1h0m28 4h0m-9 0h0m-1 2h0m-23-3h0m-50 1h0m-23 3h0m-1 3h0m85 0h0m26 1h0m57 1h0m6 2h0m-4 5h0m-10-4h0m148 13h0m-35 3h0m-20-2h0"/>
<path stroke="#2A6CF8" d="M559 365h0m13 0h0m171 3h0m-121 3h0m-8 0h0m-5-1h0m-20-2h0m-34 2h0m-1-2h0m62 4h0m20 4h0m85-3h0m32 0h0m5 2h0m13-3h0m3 3h0m28 7h0m-34-4h0m-19 0h0m-8 2h0m-45-1h0m-59 0h0m-5 1h0m38 4h0m44 1h0m11 0h0m52 3h0m16-3h0m7 0h0m9 1h0m4-1h0m0 5h0m-149 20h0m152 7h0m32 5h0m-161 8h0m157 4h0m-38 4h0m-216 7h0m28 0h0m30 1h0m168 7h0m-33-2h0m-4 4h0m-98 0h0m-26-4h0m58 9h0m57 0h0m13 0h0m0 2h0m-11 5h0m-14 0h0m-248 34h0m-6 6h0m2-2h0m-2 11h0m3 10h0m-3 10h0m1 7h0m3 1h0m-4 13h0"/>
<path stroke="#F3324A" d="M633 349h0m134 22h0m-10 0h0m-135 10h0m191 3h0m-35 9h0m-13-3h0m-4 2h0m29 7h0m26-2h0m-19 8h0m-2 1h0m-29 1h0m-162 2h0m63 0h0m169 6h0m-35-1h0m-4 1h0m-69 3h0m-79-2h0m19 5h0m128 4h0m11-5h0m-120 9h0m-120 8h0m148-2h0m49-2h0m69 0h0m-23 8h0m-39-2h0m-191 2h0m-57 6h0m51-1h0m96 1h0m13-2h0m0 2h0m67 2h0m106 2h0m-54 2h0m-23-3h0m-1 1h0m-1 1h0m-18 2h0m-140 0h0m-60-2h0m-4 3h0m-5-4h0m93 9h0m52-3h0m74 2h0m19 0h0m13 2h0m7 0h0m35-5h0m3 2h0m3 3h0m-28 6h0m-21-4h0m-41-1h0m-1 2h0m-33 0h0m69 5h0m11 1h0m23 4h0m-18 4h0m-4-1h0"/>
<path stroke="#22B12C" d="M631 380h0m112 12h0m102 37h0m-309 16h0m307 6h0m-322 9h0m222 1h0m16 0h0m62 17h0"/>
<path stroke="#EC720E" d="M619 340h0m8 0h0m-3 7h0m-84-5h0m64 8h0m23 0h0m13-1h0m-51 7h0m65 6h0m68 3h0m-80 1h0m33 6h0m62 0h0m14 5h0m3-2h0m22 6h0m-7 0h0m-35 1h0m-57-3h0m-5 2h0m-165-1h0m-1 6h0m0 2h0m196-3h0m12 3h0m22-1h0m62 4h0m-293 9h0m0-2h0m288 6h0m-290 25h0m0 3h0m350 4h0m22 7h0m-51-5h0"/>
<path stroke="#66F0F0" d="M589 439h0m-11 4h0m-3-3h0m-2 0h0m-21 0h0m109 15h0m-32 0h0m-21-4h0m-10 1h0m-1 2h0m-2-4h0m-7 1h0m-13 3h0m-12-3h0m-6 4h0m-12-4h0m-13 7h0m151 1h0m60 12h0m88 7h0"/>
<path stroke="#2A6CF8" d="M653 358h0m-92 5h0m32-3h0m88 5h0m33-1h0m47 5h0m-58-3h0m-24 2h0m-63-2h0m-16 5h0m-22-1h0m-3-2h0m-14-1h0m-1 4h0m-2-4h0m-5 3h0m-7-4h0m28 6h0m4 1h0m20-1h0m19 4h0m3-3h0m6 4h0m11-3h0m21 0h0m12 0h0m2 3h0m9-2h0m20 0h0m2 0h0m27 1h0m16 1h0m15-1h0m1 0h0m8 1h0m42 6h0m-31-4h0m-8 3h0m-16-3h0m-9 1h0m-6 1h0m-47 2h0m-14-5h0m-26 0h0m-28 0h0m27 6h0m13 2h0m42 2h0m5-4h0m26 1h0m43-1h0m45 9h0m-3-3h0m-4 1h0m-66 4h0m-11-1h0m77 3h0m14 4h0m1 3h0m-78 7h0m67-3h0m-139 14h0m164 3h0m-160 3h0m-39 9h0m181 4h0m-27-3h0m-302 10h0m257 1h0m19-2h0m76 3h0m-352 3h0m220 7h0m9 1h0m31 0h0m52-5h0m61 3h0m-66 6h0m-2 0h0m-47-1h0m-24 0h0m-224-2h0m333 9h0m-15 6h0m-293-2h0m-5 0h0m-27 25h0m-2 2h0m3 5h0m4 9h0m-3 31h0m-1-1h0m-1 18h0m-2 18h0"/>
<path stroke="#F3324A" d="M666 384h0m27 3h0m31 5h0m-137 9h0m143-3h0m49 0h0m14 3h0m0-5h0m2 3h0m1-2h0m2 4h0m4 0h0m3-4h0m-8 5h0m-193 4h0m118 7h0m14-2h0m29-2h0m13-1h0m22 8h0m-153 2h0m-47 4h0m22 2h0m44-1h0m19 2h0m3-1h0m89-2h0m51 1h0m6-2h0m-2 5h0m-19 2h0m-123-1h0m-26-1h0m-90 9h0m19 2h0m129-5h0m44 5h0m5-2h0m21 0h0m59-3h0m-9 6h0m-27 4h0m-11-4h0m-18 0h0m-1 2h0m-35 0h0m-15-2h0m-47 1h0m-92-1h0m-1 1h0m-9-1h0m-12 1h0m-40 4h0m-3-1h0m13 6h0m8-1h0m57-2h0m81 4h0m7-3h0m19 3h0m31-3h0m22-1h0m40 0h0m6 3h0m8-1h0m18 0h0m10 2h0m3 4h0m-25 2h0m-23 0h0m-12 0h0m-2-4h0m-11 2h0m-17 2h0m-48-2h0m-7-1h0m-31-2h0m-7 0h0m-30 2h0m-23 2h0m-38-4h0m-12 4h0m-8-3h0m-25 0h0m-5 4h0m-7 6h0m8-3h0m212 2h0m4-2h0m1-2h0m15 2h0m3 2h0m28-2h0m6 1h0m18 2h0m5-1h0m4-1h0m9-1h0m7-1h0m10 7h0m-61-1h0m-3 4h0m-112-4h0m-12 0h0m-155 0h0m276 7h0m8 3h0m20-1h0m10-4h0m18 0h0m-15 23h0m-319-3h0"/>
<path stroke="#22B12C" d="M651 385h0m116 19h0m52 15h0m-93 12h0m-50-4h0m-119 20h0m130 0h0m166 2h0m-244 2h0m148 9h0m45-2h0m-232 15h0m206-4h0m2 0h0m33 10h0"/>
<path stroke="#EC720E" d="M570 333h0m-37 6h0m15-2h0m3 2h0m6-2h0m18 4h0m64 5h0m-5-3h0m-29 0h0m-3 1h0m0-1h0m-51 1h0m-13 0h0m-3 0h0m-7-1h0m-12 7h0m85-2h0m29 4h0m42 1h0m26 3h0m-34-2h0m-8 5h0m-22-4h0m0 3h0m-8-4h0m-112 2h0m109 4h0m131 9h0m-3 0h0m-59-1h0m-39 9h0m3-2h0m24-3h0m16 1h0m10 2h0m3-1h0m20 1h0m10 0h0m5 7h0m-14 1h0m-27-1h0m13 2h0m3 1h0m15 3h0m18 0h0m48 0h0m-15 6h0m-28-2h0m1 6h0m74-1h0m-60 5h0m-28 2h0m90 4h0m-85 7h0m-246 15h0m305 4h0m15 6h0"/>
<path stroke="#66F0F0" d="M544 446h0m5 3h0m4-5h0m5 5h0m96 5h0m-15 0h0m-45-3h0m-1 3h0m-5-2h0m-4 2h0m-2-3h0m-28 3h0m-5 0h0m-1 1h0m-14-1h0m100 3h0m40 4h0m20-4h0m1 6h0m-35-1h0m110 20h0"/>
<path stroke="#2A6CF8" d="M626 351h0m16-1h0m6 0h0m32 9h0m-75-4h0m-49 5h0m0 5h0m77-1h0m48-1h0m3 2h0m36 2h0m-45 0h0m-36 1h0m-15 0h0m-14 3h0m-65-4h0m23 10h0m13-5h0m25 3h0m9-1h0m1 2h0m38 0h0m3 1h0m23-4h0m30 4h0m19 0h0m64-3h0m-89 9h0m-57-4h0m-8 1h0m-19-2h0m-41 0h0m-2 0h0m-20 0h0m-1 3h0m-2-3h0m187 8h0m5-1h0m15 3h0m27-1h0m20-3h0m1 7h0m-13 0h0m-2-1h0m-13 5h0m-4-3h0m0-2h0m-5 4h0m-23-4h0m-10 4h0m-21 0h0m-2-1h0m-55 6h0m73-3h0m55 1h0m38 1h0m12 9h0m-14-2h0m-27-3h0m-4 4h0m-50 1h0m-25 0h0m-8-2h0m-81 2h0m115 1h0m21 3h0m76 3h0m-25 3h0m-63-2h0m-2 8h0m58 0h0m23 7h0m-26-1h0m-64 5h0m37 1h0m-83 3h0m-65 10h0m151 0h0m69-4h0m-128 9h0m-10 2h0m-47-4h0m-3 2h0m-5-2h0m-142 7h0m163-2h0m35 0h0m17 2h0m144 2h0m-137 7h0m24 2h0m8 0h0m7-1h0m59 0h0m-8 8h0m-5 2h0m-56-4h0m48 6h0m10 0h0m-316 23h0m-2 1h0m2 7h0m-5 6h0m6 15h0m-4 5h0m-1 28h0m-3 14h0m0 10h0"/>
<path stroke="#F3324A" d="M627 346h0m129 24h0m-41 17h0m113 5h0m-33 2h0m-58-4h0m-16 5h0m-118-5h0m-7 0h0m-24 1h0m16 8h0m5-1h0m24 2h0m21 0h0m18-4h0m54 5h0m24-4h0m48 1h0m26-2h0m28 4h0m-9 4h0m-26 3h0m-20-5h0m-17 3h0m-7 0h0m-22-2h0m-7 2h0m-65 2h0m-30-3h0m-46 0h0m-34 4h0m65 4h0m50-3h0m83 4h0m6-4h0m7 6h0m-40 4h0m0-3h0m-19 0h0m-12 1h0m-66 4h0m44 3h0m22-4h0m76 3h0m72 7h0m-9 0h0m-23-3h0m-38 0h0m-43 4h0m-22-5h0m-29 4h0m-3-2h0m-75 0h0m0 2h0m-1-3h0m3 8h0m51 1h0m29-1h0m1 1h0m25-4h0m48 5h0m82-4h0m1 5h0m-3 3h0m-6 1h0m-7 1h0m-25-4h0m-52-1h0m-7 3h0m-24 2h0m-31-2h0m-8-1h0m-9 2h0m-29 0h0m-4 1h0m-1 0h0m-17-3h0m-69 8h0m21-2h0m36 2h0m22-3h0m12 1h0m58-2h0m79 1h0m19 2h0m13 2h0m43-4h0m2 7h0m-5 1h0m-19-2h0m-33 2h0m-54-1h0m0-2h0m-5 4h0m-22-3h0m-18 4h0m-26-3h0m-31 3h0m-3-2h0m-55 1h0m70 4h0m1-1h0m12 3h0m25 1h0m35-4h0m14 2h0m10 2h0m3-2h0m41 1h0m4 0h0m2-2h0m19 0h0m9 1h0m10 1h0m15 0h0m-19 2h0m-4 1h0m-7 0h0m-43 3h0m-22-2h0m-14 3h0m-232 5h0m1-1h0m230-3h0m42 0h0m9 4h0m5 0h0m2-3h0m17 1h0m4 3h0m0 2h0m-3 3h0m-3-3h0m-303-1h0"/>
<path stroke="#22B12C" d="M668 380h0m-24 1h0m76 25h0m-28 11h0m-53 4h0m94 14h0m55 1h0m25-4h0m22 5h0m-5 6h0m-229-5h0m-69 8h0m291 0h0m-48 8h0m29 2h0m11 8h0m-78 9h0"/>
<path stroke="#EC720E" d="M554 335h0m-28 3h0m7-1h0m1 4h0m27-1h0m1-1h0m15-2h0m1 1h0m11 3h0m18-3h0m4 1h0m-18 3h0m-3 1h0m-3-1h0m-13 3h0m-45 2h0m-3-2h0m-13 5h0m63-2h0m25 5h0m30-4h0m16 2h0m5 1h0m38 7h0m-36-2h0m-143 5h0m1-2h0m98 3h0m24-2h0m24 2h0m3-1h0m4 2h0m36 1h0m45 3h0m-67 1h0m-37-2h0m-135 8h0m192 1h0m10-1h0m3 2h0m10 0h0m19-5h0m23 0h0m30 5h0m3 3h0m-5-1h0m-77 1h0m-1 2h0m-31 0h0m-176-1h0m190 3h0m1 1h0m36 0h0m86 10h0m-25-4h0m-5 3h0m-4 0h0m-281 2h0m322 1h0m-68 7h0m-254 4h0m-1 15h0m0-2h0m221 7h0m34 9h0m84-1h0m-35 5h0"/>
<path stroke="#66F0F0" d="M618 442h0m-37-3h0m-12 8h0m60-1h0m6 1h0m39 7h0m-70-1h0m-31 0h0m-33 0h0m-13-3h0m125 11h0m68 1h0m-7 3h0"/>
<path stroke="#2A6CF8" d="M641 350h0m43 9h0m-44 0h0m-90-3h0m-3 7h0m36-3h0m25 3h0m17 1h0m33-4h0m3 5h0m34-1h0m61 5h0m-19-3h0m-8 5h0m-14-1h0m-33-2h0m-27 2h0m-29-4h0m-1 5h0m-4-4h0m-8 3h0m-8 1h0m-9 0h0m-31-5h0m14 10h0m20-2h0m4-1h0m43 3h0m1-3h0m20 4h0m18 0h0m4 0h0m2-5h0m5 4h0m2-3h0m17 1h0m19 0h0m21 2h0m29-2h0m4 4h0m-15 5h0m-15-2h0m-28-2h0m-6 2h0m-19-3h0m-20 1h0m-18 0h0m-90 2h0m-35 2h0m153 2h0m20 0h0m10 3h0m22 0h0m2-2h0m16-2h0m14 5h0m26-1h0m19 2h0m-7 2h0m-29 3h0m-21-4h0m-19 2h0m-18 2h0m-1-4h0m-33 3h0m-36 4h0m44-2h0m45 1h0m24 0h0m32 3h0m16-1h0m17 6h0m-10 0h0m-15-3h0m26 8h0m-15 4h0m-34 3h0m-6 0h0m-57-1h0m102 8h0m-26 12h0m21 5h0m-161 1h0m-52-1h0m67 5h0m15-2h0m143 1h0m14-1h0m-328 7h0m-19-1h0m212 7h0m2 3h0m1 0h0m10 1h0m72-5h0m17 2h0m-47 8h0m-10 3h0m13 4h0m7 0h0m43 0h0m6 4h0m-26 2h0m-268 19h0m-28 25h0m-1 36h0m-3 5h0"/>
<path stroke="#F3324A" d="M699 365h0m22 2h0m67 8h0m-192 12h0m1-2h0m56 2h0m14 0h0m23 1h0m7 0h0m45 1h0m3 0h0m-7 5h0m-44-1h0m-95-3h0m-11 1h0m-1-1h0m-28 5h0m-6 3h0m1-2h0m36 2h0m2-1h0m63 3h0m7 0h0m28 0h0m3-4h0m1 5h0m13-4h0m10 3h0m4-1h0m3-3h0m17 2h0m33 0h0m20 2h0m25-1h0m1 3h0m-20 1h0m-11 0h0m-5-1h0m-21 2h0m-2 3h0m-10-1h0m-3 0h0m-1 1h0m0-1h0m-5 1h0m-22-5h0m-2 4h0m-10 0h0m-3 1h0m-13-5h0m-25 3h0m-71-2h0m-16 0h0m-14 3h0m-17 5h0m3 1h0m55-1h0m23-3h0m4 3h0m35-1h0m15 0h0m65 0h0m21 0h0m1 2h0m1-3h0m23 3h0m23-4h0m13 0h0m2 2h0m1 1h0m-5 8h0m-2-1h0m-33 0h0m-65 1h0m-5-5h0m-18 4h0m-2-4h0m-3 3h0m-10 1h0m-6-3h0m-9 0h0m-43 2h0m-28 1h0m-8 0h0m-45 7h0m39-3h0m1 3h0m8-1h0m2-1h0m25 0h0m25 1h0m39-4h0m13 3h0m0-2h0m61 1h0m9 0h0m21-1h0m2 0h0m24-1h0m9 3h0m22 6h0m-7 1h0m-7 0h0m-12 0h0m-66-3h0m-11-1h0m-40 3h0m-2 0h0m-1-1h0m-6 2h0m-4-4h0m-5 2h0m-32-1h0m-11 1h0m-9 1h0m-12 2h0m-25-5h0m-6 0h0m-60 10h0m7-2h0m33 3h0m27-1h0m2-2h0m16 3h0m18-2h0m17-2h0m45-1h0m29 2h0m52 2h0m9-1h0m5-2h0m4-1h0m9 0h0m40 4h0m5 0h0m-8 2h0m-7 4h0m-9-4h0m-37 3h0m-6 0h0m-17-1h0m-3 3h0m-11-5h0m-6 4h0m-7-4h0m-6 1h0m-19 1h0m-1 1h0m-10 1h0m-29 1h0m-11-3h0m-39 1h0m-29-2h0m-52 0h0m-13 2h0m-1-3h0m-4 1h0m0 7h0m5 1h0m2-1h0m19 3h0m4-1h0m2-2h0m27-2h0m17 3h0m67-2h0m30 3h0m3-2h0m3 1h0m1-1h0m6-1h0m11 2h0m18 0h0m5-1h0m5 3h0m8-5h0m2 0h0m23 2h0m26-2h0m12 0h0m3 4h0m4-4h0m11 0h0m11 3h0m-5 7h0m-52-1h0m-70-3h0m-20 0h0m-3 0h0m-24 2h0m-25 1h0m-10 2h0m-39 0h0m-5 0h0m-50-4h0m-39 5h0m1 1h0m9 1h0m6-2h0m154 4h0m82-3h0m35 3h0m18 1h0m32 6h0m-29 0h0m-1-2h0m-20 0h0m-14-2h0m-4 4h0m-8-2h0m-262 4h0m292 0h0m7 0h0m9-1h0m-2 6h0m-308 4h0m-2 9h0m0-1h0m-1 12h0"/>
<path stroke="#22B12C" d="M636 374h0m64 14h0m-49 24h0m12-1h0m162 4h0m-169 10h0m181 4h0m-123 5h0m45 0h0m21 4h0m-1 0h0m-118 4h0m-42-2h0m-14-2h0m-16 4h0m-58 1h0m163 5h0m18-1h0m103 5h0m-11-2h0m-37 2h0m-54 0h0m-2 1h0m-83 0h0m122 3h0m1 2h0m3-2h0m37 0h0m64 9h0m-124 2h0m63 7h0"/>
<path stroke="#EC720E" d="M550 335h0m7 6h0m22-4h0m22-1h0m48 11h0m-17 0h0m-18-2h0m-2-1h0m-11 0h0m-16-2h0m-6 0h0m-14 0h0m-12 0h0m-5 1h0m-6 0h0m-30 7h0m6 1h0m32 0h0m7 1h0m6 1h0m14-4h0m9 1h0m19 1h0m5-3h0m16 1h0m5 2h0m4 0h0m5 0h0m22-1h0m31 4h0m-26 0h0m-15 3h0m-9-2h0m-10-1h0m-7 4h0m-3-2h0m-29 0h0m-1-2h0m-7 4h0m-1 1h0m-20-4h0m-2 0h0m-48-1h0m99 10h0m54 1h0m4-3h0m63 2h0m17 4h0m-35-1h0m-19 0h0m-1 3h0m-59 0h0m-128-4h0m158 7h0m4-1h0m5 0h0m25 5h0m78-4h0m14 1h0m24 9h0m-25-3h0m-7 0h0m-38 3h0m-42-3h0m-2 0h0m-197 3h0m198 1h0m126 7h0m-9 3h0m-110-3h0m-19 6h0m100 3h0m4-4h0m39 3h0m1 1h0m-50 7h0m-78 1h0m32 2h0m6 2h0m83-4h0m1 4h0m13-3h0m-3 8h0m-9-1h0m-24 10h0m-16 1h0m-289 4h0m314 12h0m58 2h0"/>
<path stroke="#66F0F0" d="M626 443h0m-56-3h0m-28 2h0m8 4h0m1-2h0m4 2h0m39-1h0m25-1h0m29 5h0m22 0h0m-37 2h0m-1 3h0m-21 1h0m-20-4h0m-58 6h0m8-1h0m87 1h0m99 2h0m-44 5h0m-1 1h0m-25-3h0m165 30h0"/>
<path stroke="#2A6CF8" d="M674 355h0m-10 4h0m-12-5h0m-118 9h0m30 2h0m41 0h0m48-2h0m11 2h0m10-1h0m3 1h0m12-5h0m13 1h0m8 3h0m17 1h0m20 5h0m-11-1h0m-31 1h0m-3-3h0m-16-1h0m-22 3h0m-16 1h0m-30-4h0m-2 3h0m-2-1h0m-12 2h0m-28-4h0m-19 1h0m2 5h0m3 4h0m3-1h0m2 1h0m17-3h0m5-1h0m19 1h0m1 0h0m3 1h0m13 2h0m7 1h0m60-1h0m15-3h0m19 1h0m1 0h0m13 1h0m28-1h0m12 1h0m30 4h0m-8 2h0m-32 1h0m-27-1h0m-1 1h0m-1 0h0m-20-4h0m-28 0h0m-6 4h0m-21 0h0m-34-2h0m-22 3h0m-30-2h0m-15-3h0m-12 4h0m-17 0h0m-2-4h0m0 4h0m-3-3h0m-23 10h0m29-4h0m0 1h0m46-1h0m18 2h0m140 2h0m11-5h0m11 0h0m13 5h0m19-5h0m24 7h0m-29 3h0m-1-2h0m-9 3h0m-62-1h0m-29 0h0m-30-4h0m73 6h0m8 3h0m71-1h0m17 2h0m6-1h0m-92 8h0m-28-2h0m-16-3h0m-105 0h0m-29 1h0m131 6h0m2 0h0m8 4h0m10-3h0m10-2h0m13 1h0m24 1h0m66 0h0m16 6h0m-29 0h0m-21 0h0m-41 1h0m-54-3h0m-19 4h0m10 3h0m76 3h0m23 0h0m39-1h0m-5 7h0m-54-2h0m-143 9h0m47-5h0m15 3h0m51 1h0m23-3h0m8-1h0m4 2h0m5 0h0m6-1h0m40 0h0m4 8h0m-1 2h0m-162-4h0m-6 2h0m-1-3h0m-25 1h0m-34 3h0m115 2h0m11 0h0m45 0h0m18 5h0m42-5h0m3 1h0m-65 9h0m-264 3h0m188 0h0m21 0h0m90 0h0m45 4h0m-112 4h0m38 7h0m11-1h0m15 1h0m56-3h0m-53 5h0m-241 1h0m-5 17h0m-50 20h0m2 13h0"/>
<path stroke="#F3324A" d="M730 368h0m44 6h0m-124 8h0m-7 1h0m-7-2h0m-32-2h0m-15 2h0m-32 1h0m-3 1h0m14 5h0m2 1h0m2-1h0m9-1h0m13-3h0m36 2h0m2 1h0m9 2h0m46-2h0m29 0h0m83 5h0m0 3h0m-23 0h0m-61-1h0m-32-3h0m-3 0h0m-24 2h0m-63-2h0m-7 0h0m-22 1h0m-4 0h0m-5 2h0m-5 1h0m-3 6h0m5 0h0m27 0h0m5 0h0m2 0h0m5-5h0m2 3h0m4-2h0m12 3h0m8 1h0m34 0h0m7-3h0m24-2h0m15 1h0m49 0h0m9 0h0m4 4h0m4 0h0m19-2h0m18-2h0m35 1h0m-13 8h0m-3 0h0m-8 1h0m-20-2h0m-30-1h0m-46-1h0m-1 4h0m-19-3h0m-39 0h0m-8-2h0m-1 3h0m-4-1h0m-9 3h0m-1-4h0m-27 4h0m-5-2h0m-3-1h0m0 2h0m-4 0h0m-16-4h0m-29 5h0m-30 4h0m25-3h0m3 2h0m7-1h0m17 0h0m30-1h0m10 0h0m4 2h0m24-2h0m4 5h0m7-3h0m4 2h0m4-4h0m23 4h0m2 1h0m2-5h0m2 1h0m18 2h0m3 1h0m16 1h0m9-3h0m11 1h0m9-2h0m2 3h0m20-3h0m22 2h0m3-2h0m39 9h0m-15 1h0m-3-4h0m-4 4h0m-7-4h0m-5 1h0m-5 2h0m-49 0h0m-4 1h0m0-3h0m-16-2h0m-5 0h0m-17 5h0m-11-1h0m-17-1h0m-6 2h0m-4 0h0m-1-3h0m-11 3h0m-7-4h0m-11 3h0m-5-2h0m-2 0h0m-10 2h0m-10-1h0m-21 1h0m-68-1h0m-1 7h0m28 0h0m8-4h0m98 4h0m31-3h0m7 0h0m15 2h0m8 2h0m0-1h0m11-3h0m6 0h0m36 2h0m1-2h0m18 0h0m33-1h0m9 3h0m4 1h0m5-4h0m4 3h0m-30 3h0m-6 1h0m-16-1h0m-5 4h0m-5 1h0m-22-1h0m0-3h0m-46 3h0m-2-4h0m-14 3h0m-14-1h0m-1 1h0m-4 2h0m-18 0h0m-15-5h0m-5 3h0m-2-1h0m-14-2h0m-7 0h0m-6 5h0m-7-2h0m-17-1h0m-2-2h0m-3 0h0m-19 2h0m-17 0h0m-1 1h0m-10 5h0m0 2h0m2-2h0m1 0h0m9 3h0m20 0h0m12 0h0m7-2h0m2 2h0m1-4h0m2 3h0m7-4h0m5 1h0m5 3h0m1-2h0m1-2h0m9 1h0m5 4h0m8-1h0m1-2h0m4 3h0m17-2h0m5 0h0m2 0h0m20-3h0m10 3h0m2-2h0m0-1h0m1 3h0m10 1h0m17 1h0m1-3h0m16 0h0m1 0h0m15-2h0m12 2h0m7 0h0m8 2h0m2-1h0m5-3h0m1 5h0m25 0h0m21-4h0m0 2h0m9 5h0m-4 1h0m-1 0h0m-2-1h0m-31 0h0m-8 1h0m-3 0h0m-11 1h0m-3 0h0m-23 0h0m-4-2h0m-10-2h0m-6 0h0m-12 1h0m-3 0h0m-2 3h0m-10-2h0m-44-1h0m-28 4h0m-3-5h0m-11 1h0m-44 2h0m0-3h0m-18 4h0m-24-4h0m-5 1h0m-9 1h0m51 7h0m5 1h0m43-1h0m28 1h0m11 0h0m24 0h0m2-4h0m12 2h0m3-1h0m4 3h0m21 0h0m3 0h0m1-4h0m26 2h0m9 2h0m4 1h0m10-2h0m14-1h0m22-2h0m13 1h0m11 1h0m4 6h0m-8 0h0m-1-2h0m-3 3h0m-5-3h0m-17 1h0m-5 2h0m-7 1h0m-19-2h0m-11 1h0m-7 2h0m-17-4h0m-2-1h0m-8 3h0m-3-1h0m-11 1h0m-13-3h0m-32 1h0m-70-1h0m-11 3h0m-22-2h0m-36 2h0m-27-1h0m-2 3h0m-2 3h0m125 1h0m20-3h0m13 4h0m23 0h0m36-4h0m12 1h0m5 0h0m31 0h0m7 1h0m4-1h0m10 4h0m29-3h0m15 1h0m2 0h0m5 1h0m29 4h0m-1 0h0m-34-1h0m-7 0h0m-3 1h0m-18 3h0m-1 0h0m-4-1h0m-7 1h0m-4-3h0m-10-1h0m-1 1h0m-4 0h0m-2-1h0m-3 1h0m-22-2h0m-68 2h0m-3 1h0m-16-2h0m-150-1h0m-7 3h0m277 3h0m9 3h0m7 1h0m1 0h0m7-3h0m2 1h0m4 0h0m3 0h0m1 0h0m10 1h0m8-1h0m-26 6h0m-5 1h0m-12-2h0m-19-1h0m-34 5h0m96 1h0"/>
<path stroke="#22B12C" d="M608 377h0m1-1h0m4 1h0m63 3h0m-22 2h0m-23-1h0m-27-1h0m125 15h0m-47-2h0m10 5h0m106 9h0m-195-4h0m162 9h0m38-1h0m-114 6h0m-11-3h0m-7 0h0m-18 1h0m-5 4h0m-22 6h0m127-4h0m8 3h0m73-4h0m-69 7h0m-25 3h0m-5-4h0m-42 2h0m-43 2h0m-3 1h0m-1-5h0m-7 1h0m-67 7h0m53 2h0m181-2h0m41 9h0m-79-4h0m-2-1h0m-80 1h0m-118 9h0m30-1h0m142 0h0m52 0h0m39 2h0m-33 6h0m-40-2h0m-59-2h0m-89 2h0m186 10h0m-30 0h0m-251 4h0m27 34h0m103 52h0"/>
<path stroke="#EC720E" d="M591 335h0m-22-2h0m-33 3h0m9 4h0m24-1h0m15 2h0m51 3h0m0-1h0m-14-1h0m-12 4h0m-10-2h0m-2 2h0m-9-2h0m0-1h0m-16 4h0m-12-5h0m-28 5h0m-3-5h0m-7 5h0m-3 3h0m21 2h0m15 0h0m1-4h0m4 3h0m12-3h0m3 1h0m8 1h0m3-2h0m3 2h0m2 3h0m9-4h0m7 3h0m7-1h0m11-2h0m12 2h0m3 1h0m6 1h0m3 0h0m24-1h0m16 4h0m-10-2h0m-9 0h0m-7 0h0m-8 1h0m-5 3h0m-2-3h0m-2 1h0m-6-2h0m-9 0h0m-1 2h0m-8 0h0m-8 3h0m-2-4h0m-40 3h0m-5-4h0m-6 2h0m-1 0h0m-8-1h0m-7 3h0m-4-4h0m-10 11h0m3-4h0m1-1h0m77 2h0m6 0h0m3-1h0m2 1h0m24-1h0m4 0h0m3 3h0m16-4h0m2 0h0m1 3h0m7-1h0m10 0h0m1 1h0m42 8h0m-2-5h0m-15 0h0m-40 1h0m-11 0h0m-20-1h0m-2 2h0m-7-1h0m-4-1h0m-125 11h0m1-4h0m133 2h0m13-1h0m10 1h0m30 0h0m19 1h0m1-1h0m29-3h0m41 0h0m25 10h0m-54-2h0m-34 3h0m-20 2h0m53 1h0m36 1h0m-55 4h0m-21 4h0m40 4h0m69 3h0m-30 3h0m-1 1h0m-166-1h0m119 11h0m-23 1h0m-7 5h0m72-2h0m54 1h0m-55 9h0m-282 0h0m251 3h0m42 2h0m-24 6h0m63 7h0m8-3h0m9 9h0"/>
<path stroke="#66F0F0" d="M620 441h0m-43 0h0m-7 2h0m-2 0h0m-10-1h0m-1-2h0m-7 3h0m-9 6h0m9-2h0m22 2h0m8-4h0m9-1h0m17 3h0m32 0h0m64 8h0m-25 0h0m-4-2h0m-15 1h0m-30-2h0m-3 0h0m-5 0h0m-11 0h0m-41 1h0m55 4h0m24 0h0m13 3h0m-133 3h0m263 19h0m2 1h0m24 2h0"/>
<path stroke="#2A6CF8" d="M624 351h0m34 1h0m9 7h0m-9-3h0m-13 2h0m-64-1h0m-27 6h0m7-1h0m4 0h0m2 3h0m5-1h0m3-1h0m11 0h0m3 1h0m18-2h0m37 1h0m50-3h0m2 3h0m1 2h0m51 4h0m-13 0h0m-7-2h0m-3-1h0m-8 3h0m-6 1h0m-17-2h0m-6 1h0m-18-2h0m-4 4h0m-51-3h0m-7-2h0m-5 2h0m0-1h0m-2 2h0m-6-2h0m-8 4h0m-2-1h0m-6-2h0m-10-2h0m0 2h0m-5-1h0m0 2h0m-3-1h0m-4-1h0m-14 1h0m-4 3h0m-8-3h0m-2 3h0m-10 2h0m14-1h0m20 4h0m18-4h0m15 4h0m4-1h0m5-1h0m2 1h0m18 1h0m10-1h0m17 2h0m32-2h0m19 2h0m10-5h0m26 1h0m1 4h0m15 0h0m3-3h0m20 1h0m1-2h0m21 0h0m13 10h0m-5 0h0m-71-1h0m-4-4h0m-33 5h0m-11-2h0m-16 1h0m-7-1h0m-11-3h0m-3 2h0m-21-2h0m-7 1h0m-5 0h0m-3 0h0m-1 4h0m-4-5h0m-7 3h0m-4-3h0m-2 3h0m-8-1h0m-7-1h0m-34 3h0m-3-2h0m-5-2h0m-3 5h0m-1-5h0m-7 2h0m-1-1h0m-6 7h0m9 3h0m5 0h0m62-1h0m7 0h0m8-3h0m3 3h0m9-2h0m1 2h0m38 1h0m10-2h0m58 0h0m4 2h0m7-3h0m26 1h0m20-2h0m2 0h0m37 1h0m-38 4h0m-11 1h0m-25-1h0m-43 3h0m-12-3h0m-30 5h0m-40 0h0m48 4h0m54-2h0m48 2h0m18 1h0m38 4h0m-7-2h0m-12 5h0m-5-2h0m-3-3h0m-13 3h0m-1-2h0m-5 3h0m-5 1h0m-27-2h0m-43-1h0m-23 2h0m-9-4h0m-35 2h0m-89 2h0m141 6h0m33-2h0m1 1h0m35-3h0m10 0h0m20 1h0m29 1h0m11-2h0m-7 11h0m-22-2h0m-12-2h0m-21 3h0m-4-1h0m-8 2h0m-4 0h0m-17-1h0m-42-3h0m-12 1h0m-25 3h0m-74-4h0m-76 6h0m124-1h0m143 0h0m2 4h0m68-3h0m-51 8h0m-50 2h0m-125-3h0m-11-2h0m-9 4h0m0-1h0m-22 5h0m12 3h0m37-4h0m56-1h0m103 5h0m2 0h0m10-5h0m26 1h0m31 9h0m-134-4h0m-37 4h0m-81 3h0m22 0h0m22 2h0m4-1h0m52 2h0m24-1h0m47-3h0m17 4h0m38-1h0m20 2h0m-126 6h0m-46-3h0m-30-2h0m-140 5h0m0 5h0m198-3h0m5 1h0m10 2h0m37-2h0m66-2h0m11 2h0m-6 5h0m-84 3h0m52 2h0m9 2h0m34 9h0m-19 0h0m-33-4h0m30 7h0m5 1h0m3 0h0m-313 8h0m2 2h0m1 20h0m-3-2h0m-4 2h0m3 12h0m-2 8h0m31-5h0m-25 8h0m-6 21h0m28 5h0m-28 0h0m-2 5h0m1 7h0m0 7h0"/>
<path stroke="#F3324A" d="M665 358h0m18 4h0m9 2h0m15 2h0m97 16h0m-141 1h0m-21-1h0m-28 1h0m-28-4h0m-2 4h0m-1-2h0m-27 2h0m-28 6h0m15-3h0m2 3h0m4 0h0m2-4h0m10 2h0m3-2h0m4 0h0m18 4h0m1-2h0m7 0h0m18-2h0m19 4h0m8 0h0m4-2h0m5-2h0m3 1h0m21-2h0m4 4h0m3-1h0m5-2h0m28 4h0m27-1h0m78-2h0m-24 9h0m-18-4h0m-12 1h0m-4 2h0m-6-4h0m-31 4h0m-9 0h0m-5-4h0m-10 5h0m-20-1h0m-21-2h0m-13-2h0m-37 1h0m-13 2h0m-9 1h0m-15-2h0m-5-2h0m-1 0h0m-3 5h0m-4-3h0m-2 1h0m-1-1h0m-6 3h0m-28 1h0m37 1h0m9 3h0m17-3h0m0-1h0m3 0h0m1 1h0m7 2h0m2 2h0m2 0h0m2 0h0m11-2h0m2 1h0m1-1h0m5-1h0m7 1h0m4-2h0m10 4h0m7-3h0m10 1h0m2 2h0m3 0h0m8-1h0m9 0h0m3 1h0m6-1h0m1-3h0m2 0h0m10-1h0m33 5h0m10-3h0m22 2h0m8-1h0m2-2h0m27 3h0m14 1h0m-2 4h0m-9-3h0m-28 2h0m-4 2h0m-19 1h0m-7-3h0m-5-1h0m-5 2h0m-6 1h0m-1-4h0m-4 5h0m-12-5h0m-17 0h0m-11 4h0m-27-2h0m0 2h0m-23 0h0m-3 0h0m-4-3h0m-1 0h0m-1 2h0m-2 1h0m-2-4h0m-9 5h0m-1-1h0m-5-4h0m-12 5h0m-11-4h0m-1 1h0m-3-1h0m-4 4h0m-14-4h0m-5 2h0m-8 1h0m-2-1h0m-1 0h0m-14 0h0m-1-1h0m-8 9h0m3 0h0m13-3h0m13-2h0m1 0h0m1 4h0m1 0h0m8-4h0m4 4h0m4-4h0m1 2h0m4 3h0m4-2h0m9 0h0m8-1h0m22 0h0m10 3h0m9-1h0m3-3h0m6 3h0m5-2h0m5-1h0m1 1h0m2-1h0m2 3h0m4-1h0m8 1h0m10-4h0m1 3h0m8-3h0m1 3h0m5 2h0m14-2h0m4 0h0m5-2h0m7 2h0m1-2h0m0 3h0m21-1h0m8-1h0m2 1h0m1-1h0m15 0h0m2 2h0m0-3h0m25 2h0m3-2h0m13 3h0m14 2h0m-34 4h0m-15-2h0m-12-2h0m0 4h0m-1-1h0m-2-3h0m-3 5h0m-6-5h0m-1 4h0m-20-4h0m-7 0h0m-16 3h0m-2-3h0m-4 0h0m-14 1h0m-13 4h0m-2-5h0m-10 1h0m-7 0h0m0 3h0m-6 1h0m-7-3h0m-16-2h0m-9 2h0m-3 2h0m-7-1h0m-1 1h0m-9-1h0m-4 2h0m-4-1h0m-3-1h0m-8-3h0m-3 2h0m-1-1h0m-9 2h0m-2 0h0m-4 2h0m-1-5h0m-3 1h0m-38 0h0m-11 10h0m3-3h0m32 2h0m10 0h0m1 0h0m4-2h0m3 0h0m6 1h0m8 0h0m11 2h0m8-3h0m2 3h0m14-2h0m2-3h0m11 0h0m3 0h0m11 0h0m3 5h0m4-3h0m8 2h0m7-1h0m2-1h0m9 3h0m11-4h0m2 3h0m5 0h0m4 1h0m6-1h0m11-4h0m2 1h0m2 4h0m19-3h0m8-1h0m8 4h0m0-1h0m3-2h0m2-1h0m7 1h0m21 2h0m10-1h0m3 2h0m2-5h0m5 2h0m8 0h0m4 0h0m5 3h0m0-1h0m10-2h0m6-2h0m1 4h0m-11 2h0m-3 2h0m-6 1h0m-7-2h0m-18 4h0m-6-4h0m-1 1h0m-19 2h0m-10 0h0m-8-1h0m-1-1h0m-1-2h0m-9 5h0m-1-3h0m-8 2h0m-2-1h0m-4 1h0m-9-2h0m-2 2h0m-7-3h0m-6 3h0m-13 1h0m-9-5h0m-9 0h0m-5 0h0m-2 4h0m-1-3h0m-4-1h0m-1 5h0m0-3h0m-1-1h0m-2 4h0m-3-4h0m-1 4h0m-12-5h0m-1 5h0m-5 0h0m-1-4h0m-3 1h0m0-1h0m-3 3h0m-10 0h0m-13-4h0m-1 4h0m-17-1h0m-1 0h0m-1 1h0m-4-2h0m-1 0h0m-8 2h0m-28-2h0m-1-1h0m-2 1h0m-19 1h0m-7-2h0m23 6h0m2-1h0m14 5h0m1-2h0m3 2h0m10-3h0m6-1h0m2 3h0m8-2h0m1-2h0m19 4h0m10-3h0m12 3h0m11-3h0m3 2h0m2-3h0m2 5h0m13-2h0m11-1h0m3-1h0m7 1h0m11 0h0m4-2h0m3 2h0m3 2h0m6-2h0m5-1h0m15 4h0m2-1h0m2-3h0m23 3h0m21 0h0m5 1h0m19-1h0m25-2h0m1 0h0m3 3h0m4-2h0m8-1h0m3 6h0m-7-2h0m-3 0h0m-14 2h0m-8 0h0m-2-1h0m-15 2h0m-14 1h0m-3-1h0m-8-1h0m-8 1h0m-3-2h0m-2 1h0m-4 0h0m-1 1h0m-5-2h0m-10 1h0m-45 2h0m-14-3h0m-4 4h0m-5-1h0m-17-1h0m-8 1h0m-7 0h0m-6-1h0m-20-3h0m-4 1h0m-45 0h0m0 4h0m-8-5h0m-28 2h0m-1 3h0m-1 3h0m10 0h0m5 0h0m7 0h0m31-1h0m11 0h0m25 0h0m7 4h0m31-5h0m5 0h0m3 2h0m1-2h0m5 3h0m5-3h0m12 4h0m11 0h0m7-1h0m21-2h0m0 4h0m4-1h0m7-3h0m9-1h0m1 3h0m7 2h0m15-1h0m9 0h0m2-4h0m24 0h0m1 1h0m4 1h0m3 2h0m12-2h0m15 1h0m17 0h0m-2 3h0m-13 2h0m-16 1h0m-12 0h0m-3-1h0m-7 2h0m-6-3h0m-2 0h0m-14 1h0m-3 2h0m-3-3h0m-7 2h0m-4 2h0m-14-3h0m-1-2h0m-15 5h0m-5-3h0m-12-2h0m-8 2h0m-82-2h0m-19 2h0m-5 1h0m-79 1h0m-8 2h0m3 4h0m3-2h0m7-1h0m110 1h0m19-2h0m89 2h0m30-2h0m1 5h0m6 0h0m18-5h0m2 1h0m1 2h0m7 1h0m4-2h0m2-1h0m8 1h0m11 2h0m7 1h0m1-5h0m4 4h0m32 3h0m-29-1h0m-10 2h0m-14-1h0m-7-1h0m-3 1h0m-18-1h0m-7 3h0m-258-3h0m-18 4h0m-1-2h0m-1 7h0m279-2h0m46-1h0m-331 10h0m0 13h0m1 6h0m2-3h0m0 2h0"/>
<path stroke="#22B12C" d="M610 372h0m53 5h0m0 1h0m-12 2h0m-33 2h0m39 3h0m29-1h0m76 9h0m-24-3h0m-133 10h0m14-4h0m143 3h0m-7 5h0m-19 2h0m-66-3h0m-10 6h0m10-1h0m142 4h0m-189 4h0m22 8h0m196 0h0m-15 4h0m-42 1h0m-11-3h0m-57 5h0m-151 4h0m37 0h0m187 0h0m-120 8h0m-5-5h0m-30 4h0m-58 1h0m-25-4h0m28 5h0m104 5h0m74-2h0m43-2h0m-138 9h0m-47-2h0m-80-2h0m-15 0h0m240 10h0m19-3h0m57 6h0m-2 4h0m-69 5h0m68 0h0m-198 56h0m-132 55h0"/>
<path stroke="#EC720E" d="M564 335h0m-38 5h0m15-1h0m22-2h0m0 2h0m27-1h0m29 3h0m-2 5h0m-4 0h0m-3-1h0m-6 1h0m-9 1h0m-1-5h0m-6 4h0m0-1h0m-2 0h0m-1-2h0m0 3h0m-1-1h0m-3-2h0m-1 2h0m0-3h0m-4 0h0m-3 0h0m-2 1h0m-1 1h0m-3-1h0m-2 3h0m-1-3h0m-1 0h0m-11 4h0m-2-2h0m-2 0h0m-1-2h0m-3 0h0m-2 4h0m-3-4h0m-11 4h0m-5-3h0m-4 1h0m-3 8h0m9-4h0m0 2h0m0 2h0m4-2h0m2-2h0m5 3h0m6-2h0m5 3h0m7-4h0m1-1h0m1 5h0m5-3h0m3 3h0m7 0h0m11-3h0m1-1h0m3 4h0m3-5h0m4 3h0m2 1h0m1-1h0m2-1h0m2 2h0m13-3h0m2 1h0m1 0h0m3 3h0m2 0h0m4-2h0m7 2h0m12-2h0m38 2h0m-3 6h0m-2-2h0m-1-1h0m-8 0h0m-3 1h0m-3 1h0m-14-1h0m-3 2h0m-4-3h0m-11 3h0m-1-5h0m-2 1h0m-21-1h0m-2 2h0m-4 1h0m-8 2h0m-5-4h0m-5 0h0m-1 1h0m-3-2h0m-2 1h0m-3 1h0m-3-1h0m-1-1h0m-5 4h0m-7-1h0m-1-1h0m-2 1h0m-1-1h0m-2-1h0m-10 1h0m-2 2h0m-1-4h0m-1 3h0m-5-3h0m-5 1h0m-2-1h0m-2 2h0m-3 0h0m-1-2h0m-7 9h0m0-2h0m1 1h0m0-1h0m1 0h0m10-1h0m7 1h0m10 0h0m14 0h0m40 0h0m25 2h0m7 0h0m8 2h0m4-1h0m1-1h0m1-3h0m3 2h0m3 2h0m4 0h0m35-2h0m3 3h0m1-1h0m7-3h0m7 2h0m2 0h0m12-1h0m17 5h0m-11 0h0m-7 3h0m-11-1h0m-14 0h0m-3-1h0m-5 1h0m-13 2h0m-3-5h0m-10 0h0m0 3h0m-2-2h0m-3 1h0m-6 0h0m-14 1h0m-122-3h0m-2 7h0m6 0h0m140-1h0m2 0h0m9 1h0m22-1h0m51 1h0m46 4h0m26 2h0m-17 4h0m-75-2h0m-20-2h0m-10 3h0m0 1h0m-17-5h0m-16 1h0m-149 6h0m198 3h0m15-4h0m8 2h0m62-2h0m7 2h0m15 2h0m7-1h0m6 4h0m-14 2h0m-47 1h0m-31-2h0m-13 0h0m-74 1h0m-140 2h0m0-5h0m197 7h0m40 1h0m23-1h0m20 4h0m24-5h0m14 5h0m-11 2h0m-308 2h0m0 6h0m257 2h0m42 0h0m-89 4h0m-211-1h0m0 8h0m239-1h0m71-1h0m23 5h0m-108 5h0m34 1h0m60 3h0m2 5h0m-13-2h0m-12 1h0"/>
<path stroke="#66F0F0" d="M606 441h0m-9 2h0m-26-5h0m-17 1h0m-6 3h0m-1 0h0m13 3h0m0 3h0m22-3h0m8 1h0m28 2h0m68 4h0m-10 1h0m-7 2h0m-33-3h0m-38 1h0m-22-1h0m-15 0h0m-5 4h0m82 2h0m16-1h0m37-1h0m7 1h0m-6 9h0m-31-4h0m135 20h0"/>
<path stroke="#2A6CF8" d="M524 351h0m9 1h0m30-3h0m88 5h0m-29 3h0m-5 1h0m-10 1h0m-4-3h0m-3 3h0m-16 0h0m-10-1h0m-12 1h0m-2-2h0m-7 2h0m-9 0h0m-15 4h0m1 2h0m8-4h0m4 4h0m27-3h0m10-2h0m1 4h0m4 1h0m4-5h0m14 2h0m8-1h0m3 0h0m3 1h0m5 1h0m8 2h0m0-3h0m1 3h0m8-4h0m11 3h0m2 1h0m30-4h0m35 3h0m49 7h0m-23-1h0m-20-4h0m-11 5h0m0-4h0m-19 4h0m-4-1h0m-28 1h0m-9 0h0m-1-4h0m-4 3h0m-21-1h0m-1-2h0m-7 1h0m-25 3h0m-3 0h0m0-2h0m-3-2h0m-2-1h0m-2 1h0m-2 0h0m-5 0h0m-4 2h0m-8-2h0m-4 3h0m-6-3h0m-3 1h0m-10 0h0m-2 3h0m-1-3h0m-4-2h0m-1 2h0m-4-2h0m-14 7h0m4 2h0m1 0h0m2-2h0m6 3h0m3-3h0m1 3h0m2-1h0m1-2h0m0 3h0m1 1h0m1-2h0m0-1h0m6-1h0m1-1h0m0 3h0m7-3h0m5 2h0m1-2h0m2 5h0m4-4h0m1-1h0m3 2h0m0-1h0m5 3h0m2-2h0m2 0h0m7-2h0m0 4h0m9-3h0m3 2h0m0 2h0m19-4h0m14 4h0m5-3h0m17 0h0m12 3h0m4 0h0m13-4h0m4 0h0m11-1h0m43 4h0m17-2h0m6-1h0m7 4h0m1-3h0m14 0h0m16 2h0m1 1h0m1 0h0m8 6h0m-4-4h0m-14 4h0m-7-1h0m-11-2h0m-4 2h0m-55 1h0m-9-4h0m-9 4h0m-18-5h0m-3 2h0m0 2h0m-26-1h0m-46 1h0m-23 0h0m-8-4h0m-4 0h0m-7 0h0m-9 0h0m-2 5h0m-1 0h0m-1-4h0m-2 3h0m-2-1h0m-3-2h0m-13 3h0m-4-1h0m-4 1h0m-3 1h0m-3-2h0m8 3h0m1 3h0m3-3h0m5 1h0m7 2h0m1 2h0m1-2h0m2 2h0m0-3h0m4 0h0m1 2h0m7-2h0m2 1h0m0 2h0m3-5h0m9 1h0m5 2h0m8 0h0m14 1h0m7-4h0m13 5h0m27-3h0m6-2h0m10 3h0m3-1h0m22-2h0m43 2h0m17-2h0m15 4h0m5-2h0m19 2h0m5 0h0m12-1h0m4 2h0m21 0h0m-7 6h0m-14 0h0m-26 0h0m-8-3h0m-8 1h0m-9-1h0m-14 3h0m-76-5h0m-36 0h0m-8 0h0m-67 2h0m-14 0h0m-7 2h0m-1-2h0m-3 0h0m0-2h0m-6 0h0m-4 2h0m0 5h0m10-1h0m115 1h0m26 0h0m0 3h0m6 1h0m67-5h0m11 4h0m2-2h0m11-1h0m14-1h0m25 1h0m36 5h0m-32 4h0m-19 0h0m-17-1h0m-45 0h0m-31 2h0m-11-2h0m-5-3h0m-34 5h0m-16-1h0m-118-1h0m16 7h0m193-4h0m10 3h0m2-1h0m64 0h0m24 2h0m19 7h0m-2-5h0m-9 3h0m-4 0h0m-4-3h0m-7 5h0m-1-1h0m-25 0h0m-3-4h0m-9 1h0m-14 1h0m-6 3h0m-42-3h0m-1-2h0m-139 3h0m-67 2h0m1 5h0m119-1h0m53-2h0m38-1h0m23 1h0m17 2h0m13 2h0m0-1h0m36-4h0m28 3h0m-4 5h0m-67-2h0m-14 2h0m-3-1h0m-2 2h0m-12 2h0m-17-2h0m-121 2h0m-8-5h0m-80 0h0m41 6h0m109 0h0m2 5h0m57-2h0m7-2h0m32 4h0m25-5h0m43 5h0m9 0h0m0-5h0m5 1h0m-33 5h0m-7 5h0m-2-5h0m-54 0h0m-25 1h0m-10 1h0m-56-1h0m-23 2h0m-19 0h0m-4 0h0m-7 2h0m-91 1h0m0 2h0m102-1h0m19 2h0m16 2h0m6-5h0m28 1h0m50 4h0m104-2h0m11 4h0m-25 2h0m-59-3h0m-30 4h0m-5 0h0m-44-4h0m-154 5h0m-19 6h0m0-5h0m194 0h0m17 0h0m5 1h0m112 10h0m-90 1h0m10 0h0m16 4h0m5-1h0m17 0h0m60 0h0m0-1h0m-10 4h0m-333 41h0m-3-5h0m1 7h0m1 12h0m-1 21h0m20 3h0"/>
<path stroke="#F3324A" d="M662 357h0m43 6h0m53 7h0m-13 1h0m-16-3h0m-9 1h0m51 4h0m11 0h0m24 6h0m-133 4h0m-12 0h0m-14-1h0m0 1h0m-34-3h0m-1 3h0m0-2h0m-3 2h0m-25-4h0m-4 4h0m-1 0h0m-5-2h0m-3 2h0m-10 0h0m-31 6h0m1 0h0m2 0h0m3-1h0m6 0h0m1-1h0m1 0h0m7 0h0m5-2h0m1 3h0m4 1h0m3 0h0m10-1h0m1-3h0m5 3h0m5-2h0m1 0h0m16 0h0m6-1h0m1 0h0m2 2h0m7 0h0m5-1h0m1 0h0m4-1h0m0 4h0m5-4h0m3-1h0m6 1h0m1 1h0m27 2h0m1-4h0m36 3h0m12 1h0m3 0h0m94-3h0m-10 9h0m-36 1h0m-3-1h0m-10-1h0m-15 1h0m-4 1h0m-28-1h0m-4-1h0m-7-3h0m-4 2h0m-3 2h0m0 1h0m-3-4h0m-2-1h0m-1 4h0m-6 1h0m-3 0h0m-1-4h0m-9 4h0m-5 0h0m-13-3h0m-1-2h0m-1 5h0m-10-1h0m0-3h0m0-1h0m-6 4h0m-13 0h0m-4-1h0m-4 2h0m-4 0h0m-7-4h0m-1 1h0m-1 3h0m-9-1h0m-4-2h0m-3 2h0m-2-3h0m0 1h0m-2 1h0m0 2h0m-4-2h0m-2 2h0m-4-1h0m-3 1h0m-4-4h0m-2-1h0m-2 3h0m-3-3h0m-16 3h0m-3 0h0m0-2h0m-6 4h0m-3 6h0m1-3h0m3 2h0m8-3h0m4-1h0m0 4h0m4 0h0m3 1h0m1-3h0m3 2h0m3-1h0m3 1h0m2-1h0m2 0h0m0 2h0m7 0h0m2-4h0m4-1h0m6 4h0m2 0h0m6-4h0m2 4h0m6 0h0m3 0h0m5 1h0m7-5h0m3 0h0m2 0h0m6 1h0m8 1h0m6 0h0m0-2h0m2 0h0m5 5h0m4-4h0m8 2h0m10-3h0m5 3h0m28 1h0m3 1h0m4 0h0m1-5h0m1 4h0m3-1h0m11 2h0m7-3h0m5 0h0m3 1h0m5 2h0m11-1h0m2-4h0m4 2h0m26 0h0m7 3h0m3-3h0m4-2h0m14 2h0m1 0h0m21 9h0m-3-3h0m-18 3h0m-12-3h0m-1-2h0m-4 5h0m-3 0h0m-3-4h0m-5 4h0m-6-3h0m-2-1h0m-3-1h0m-2 0h0m-15 1h0m-6 0h0m0 3h0m-15-1h0m-6 2h0m-12-4h0m-12 3h0m-9 0h0m-2-2h0m-5 0h0m-1 1h0m-9-2h0m-6 1h0m-1 2h0m-1-3h0m-7 1h0m-7-2h0m-4 4h0m-4 1h0m-11-3h0m-5-2h0m-4 0h0m-9 3h0m0-3h0m-8 2h0m-4 3h0m-2-1h0m-8 1h0m-9-3h0m-2 3h0m-13-3h0m-3 2h0m-6-3h0m0 4h0m-8-1h0m-3 1h0m0-1h0m-1 0h0m-1-2h0m-9 1h0m-2-1h0m-6-1h0m-3 4h0m-2 0h0m-2-2h0m-6 0h0m-4 2h0m-1 0h0m-8 0h0m4 1h0m0 4h0m1 0h0m5 1h0m2-4h0m0 3h0m5 0h0m1 1h0m14-1h0m4 0h0m2 0h0m4 1h0m1 0h0m4-1h0m0-4h0m1 3h0m1-2h0m3 4h0m1-4h0m6 3h0m13-1h0m9-2h0m1 0h0m1 0h0m1 4h0m1 0h0m3 0h0m2-1h0m1-2h0m2 1h0m10 2h0m3 0h0m2-5h0m2 5h0m5-3h0m1 1h0m4-1h0m3 2h0m5 0h0m0-1h0m7 0h0m1-1h0m1-2h0m0 3h0m6-2h0m6-1h0m6 5h0m4-2h0m5-2h0m2 4h0m2-2h0m10 1h0m2-4h0m8 3h0m6 1h0m5-3h0m5 1h0m14 0h0m2-2h0m12 1h0m3 1h0m8-2h0m15 3h0m3-3h0m7 4h0m9-1h0m10 0h0m5-2h0m3 4h0m3-1h0m18-1h0m2 0h0m2 0h0m13 7h0m-14-2h0m-1 2h0m-36-3h0m-4 2h0m-18-2h0m-3 1h0m-6 0h0m-4-2h0m-6 0h0m-7 0h0m-3 4h0m-1-1h0m-5-2h0m-7 0h0m-18 3h0m-3 1h0m-1 0h0m0-1h0m0-3h0m-7 4h0m-6-5h0m-1 0h0m-5 2h0m-9 0h0m-6 1h0m-7 2h0m-5-5h0m0 2h0m-4 1h0m-11-2h0m0-1h0m-2 5h0m-10-4h0m-3 0h0m-3 0h0m0 3h0m-8-4h0m-3 0h0m-2 1h0m-2 1h0m-3 3h0m-3-5h0m-1 0h0m-2 5h0m-1-3h0m0-1h0m-6 0h0m-6-1h0m-4 3h0m-2 2h0m0-5h0m-1 0h0m-1 3h0m0-1h0m-1 3h0m-2-1h0m-1-1h0m-4-1h0m-3-2h0m-6 3h0m-1-3h0m-2 0h0m0 4h0m-3 0h0m-3 1h0m0-2h0m-11 0h0m-11 2h0m-13-4h0m-2-1h0m-8 1h0m3 10h0m5-5h0m1 5h0m3 0h0m1-5h0m1 1h0m6 0h0m6 2h0m4-2h0m4 2h0m1-2h0m3 2h0m5-1h0m3 2h0m0-2h0m1 3h0m1-2h0m12 2h0m0-1h0m9 1h0m1 0h0m3-4h0m0 1h0m3 1h0m1-3h0m4 2h0m6 2h0m15-4h0m1 4h0m1-4h0m11 4h0m7-1h0m2 1h0m3-1h0m4-2h0m4 0h0m11 1h0m5-2h0m0 1h0m3 1h0m6-1h0m12-1h0m14 1h0m8 1h0m4 1h0m2-1h0m14 0h0m10 2h0m5-1h0m6-1h0m2 0h0m9-2h0m21 2h0m3 0h0m7-1h0m5 1h0m4 2h0m4 0h0m7 1h0m23-5h0m11 7h0m-2 2h0m-1-1h0m0 1h0m-4 0h0m-5 1h0m-8-3h0m-3-1h0m-1 3h0m-8-3h0m-6 2h0m-3-1h0m0 3h0m-4-4h0m-13 2h0m-10 0h0m-16 2h0m-6-4h0m-1 4h0m-1-3h0m-17 4h0m-7-5h0m-5 2h0m-11 3h0m-2-5h0m-7 2h0m-3 0h0m-2 0h0m-12 0h0m-4 1h0m-2-3h0m-9 3h0m-7-2h0m0 3h0m-9-3h0m-11 3h0m-9-2h0m-4 0h0m-3 2h0m-4-1h0m0 2h0m-3-3h0m-3 3h0m-1 0h0m-2-1h0m-1-4h0m-2 4h0m0-1h0m-1 1h0m-7-2h0m-5 3h0m-3 0h0m-3-3h0m0 1h0m-2 2h0m-2-1h0m-9-2h0m0 2h0m-14-4h0m-2 3h0m-2-1h0m-13-2h0m-1 5h0m-2-5h0m-3 3h0m-2 0h0m0-1h0m-10-2h0m-3 2h0m-4 3h0m-16 6h0m10-4h0m2 3h0m1-4h0m5 2h0m4 0h0m1-1h0m2 2h0m2-1h0m2 0h0m2-1h0m7 4h0m0-1h0m2-4h0m1 3h0m3 1h0m2-2h0m3-1h0m2 0h0m3 1h0m2-1h0m0 3h0m3 0h0m5-4h0m6 1h0m0-1h0m0 4h0m5 0h0m1-4h0m12 3h0m1-1h0m1 2h0m2-3h0m6 2h0m3-1h0m1 1h0m6 1h0m10-1h0m1 0h0m4-2h0m4 0h0m0-1h0m7 2h0m12-2h0m1 3h0m12 0h0m1-3h0m1 4h0m10-1h0m6 2h0m3-1h0m1-2h0m3 3h0m13-5h0m7 5h0m7-3h0m1 0h0m0 2h0m7-2h0m2 3h0m21-3h0m3 0h0m7-2h0m3 5h0m8-4h0m8-1h0m17 0h0m1 5h0m5-1h0m10 0h0m1 0h0m5-2h0m12-1h0m16-1h0m-21 8h0m-4-1h0m-4 0h0m-9 4h0m-2-2h0m-16-2h0m-5 1h0m-2 3h0m-8-4h0m-9 3h0m-9 0h0m-7 1h0m-7-2h0m-1 2h0m-11-5h0m-3 4h0m-7-3h0m0 4h0m-4-3h0m-10 0h0m-8 0h0m-2 1h0m-3 1h0m-1-1h0m-4 2h0m-5-3h0m-5 2h0m-1 0h0m-1-3h0m-5-1h0m-10 1h0m-1 2h0m-12 2h0m-10-2h0m-4-3h0m-23 2h0m-10 2h0m-1-4h0m-41 1h0m-17 2h0m-5-1h0m-5-2h0m-8 3h0m-3 1h0m0-4h0m-4 4h0m-2-4h0m-2 4h0m-1 4h0m7 2h0m7-3h0m0-1h0m14 2h0m6-1h0m10-1h0m27 1h0m10 3h0m9-2h0m39 2h0m3-4h0m10 0h0m3 1h0m7 1h0m20 2h0m3-2h0m2 1h0m8-3h0m1 0h0m3 0h0m4 0h0m0 1h0m6 1h0m7-1h0m11 4h0m15-4h0m8 3h0m1-1h0m5 0h0m1 0h0m1-2h0m4 4h0m2-2h0m18-2h0m0 4h0m6-2h0m1-1h0m4-1h0m4 4h0m5-5h0m6 5h0m1-3h0m1-1h0m3 4h0m5 0h0m10-2h0m9 1h0m1-3h0m7 3h0m-8 4h0m-18 0h0m-11 3h0m-12-2h0m-5 1h0m-5 1h0m-6-2h0m-8-2h0m-18 3h0m-3-1h0m-4 0h0m-1 2h0m-3-2h0m-1 2h0m-11 0h0m-4-3h0m-39 1h0m-3-2h0m-5 0h0m-36-1h0m-54 2h0m-10 2h0m-17-4h0m-3 1h0m-45-1h0m-4 3h0m-2 2h0m-1 0h0m-6-3h0m137 8h0m2-3h0m15 0h0m31 0h0m31-1h0m10 0h0m7 1h0m18 0h0m1 3h0m16-3h0m2 2h0m8-3h0m0 4h0m30-1h0m8-2h0m6 3h0m0-3h0m16 1h0m10 3h0m4-3h0m-15 9h0m-11 0h0m-12-4h0m-11 3h0m-2-2h0m-6-1h0m-6 4h0m-19-3h0m-12-1h0m-12-1h0m-230 3h0m-10 1h0m-7 5h0m5 2h0m300-1h0m18-1h0m20-2h0m-36 7h0m-305 3h0m-2 2h0m1 4h0m3-2h0m0-3h0m-2 9h0m-2 8h0"/>
<path stroke="#22B12C" d="M629 375h0m12 1h0m20 4h0m-2 2h0m-51 5h0m37 1h0m31 7h0m-78 4h0m76-3h0m22 3h0m22-2h0m-28 6h0m124 7h0m5 4h0m-83 3h0m-77-2h0m-8 3h0m-10 5h0m7 0h0m11-2h0m119 4h0m26-2h0m8 1h0m6 6h0m-81 1h0m-65-4h0m-90 7h0m36 2h0m0-2h0m147 3h0m-20 2h0m-13 0h0m-1 3h0m-40-4h0m-44 3h0m-34 2h0m0-5h0m-74 1h0m187 5h0m93 8h0m-179 3h0m-24-2h0m-89 3h0m157 4h0m153 0h0m-89 4h0m-69-2h0m161 7h0m-27 8h0m-264 19h0m74 39h0m15 15h0"/>
<path stroke="#EC720E" d="M568 335h0m-11-1h0m-36 6h0m3-2h0m7 3h0m7-4h0m4 0h0m3 2h0m36 2h0m16-5h0m16 3h0m2 0h0m3 1h0m34 7h0m-15 0h0m-18-1h0m-10-1h0m-3 1h0m-2-1h0m-3 1h0m-1-3h0m-2 4h0m-3-5h0m0 3h0m-2 1h0m-1-2h0m0 1h0m-2-1h0m-1 1h0m-5 1h0m-2 1h0m-2 0h0m-1-3h0m-3 0h0m-5 2h0m-1-4h0m-2 0h0m-2 5h0m-5-2h0m-1 1h0m-3-2h0m-2-2h0m0 4h0m-1-2h0m-6 2h0m-2 1h0m-1-2h0m-2 0h0m-5 1h0m-2-1h0m-3 0h0m-3-2h0m-5 3h0m-5 5h0m1 1h0m3-3h0m4-1h0m5 3h0m0-3h0m2 1h0m0 2h0m4-3h0m0 1h0m4 2h0m3 0h0m2-2h0m3 2h0m1-2h0m7 4h0m1-5h0m3 2h0m2-2h0m0 4h0m4-2h0m1-2h0m3 2h0m0 2h0m1 1h0m4-1h0m3-1h0m1-2h0m9 3h0m6-4h0m8 5h0m1-5h0m1 1h0m1 2h0m1-1h0m2 2h0m5-4h0m1 2h0m4-1h0m0-1h0m1 1h0m2-1h0m8 4h0m28 1h0m2 0h0m14 5h0m-3-1h0m-4 0h0m-11 0h0m-22-3h0m0 4h0m-7-3h0m-11 0h0m-3-1h0m0 3h0m-4-1h0m-1-1h0m-1 2h0m-5 2h0m-2-4h0m-4 0h0m-1 0h0m-7 0h0m0-1h0m-2 2h0m-5-2h0m-4 4h0m-1 1h0m-3-3h0m-8 1h0m-20-2h0m-4-1h0m-3 1h0m-3 4h0m-2-4h0m-1 2h0m-1 0h0m-3-3h0m0 4h0m0-3h0m-1 0h0m0 4h0m-1-2h0m-2 1h0m-4-1h0m-3 1h0m-1-2h0m-1-2h0m0 1h0m-1 3h0m-2 1h0m-1-2h0m2 6h0m1 2h0m1-2h0m1-3h0m1 1h0m1 0h0m0 2h0m4-1h0m2 0h0m13-2h0m67 3h0m15-1h0m4-1h0m2-1h0m2 0h0m7 1h0m6 0h0m2-1h0m4 3h0m1 0h0m9-2h0m1-1h0m4 2h0m5-1h0m7 1h0m3 0h0m21 0h0m27 3h0m2 6h0m-13-3h0m-6 2h0m-26-1h0m-23-1h0m-17 1h0m-6 2h0m0-1h0m-8-3h0m-2 0h0m-5-1h0m-102 0h0m-2 1h0m-4 3h0m0-1h0m0-3h0m-2 4h0m-1-3h0m-1 0h0m0 4h0m-2 0h0m0 5h0m2-1h0m3-3h0m137 1h0m3 2h0m7-2h0m1 1h0m8 1h0m5 2h0m4-1h0m6 0h0m16-3h0m35 0h0m16-1h0m21 0h0m9 1h0m27 8h0m-2 1h0m-61 1h0m-15-5h0m-9 3h0m-1 0h0m-27 0h0m-5-2h0m-5-1h0m-173 0h0m-2 1h0m0 2h0m-1 7h0m1-3h0m174 1h0m2-2h0m23 1h0m2-1h0m21 0h0m42 5h0m55 3h0m-5 0h0m-18 0h0m-17 3h0m-26 0h0m-29-5h0m-15 0h0m-19 3h0m-7 1h0m-3-3h0m-33 4h0m-149-3h0m-1 9h0m1-4h0m0-1h0m0 4h0m169-2h0m1 0h0m76 3h0m15-4h0m45 3h0m-4 3h0m-19-1h0m-75 3h0m-13 1h0m-37 0h0m-158-4h0m-1 1h0m0 4h0m0 6h0m222 0h0m42-1h0m22-4h0m0 2h0m8 2h0m13-4h0m23 7h0m-67 4h0m-111-4h0m162 10h0m21-3h0m10 7h0m-10-2h0m-336 2h0m-1 6h0m0 2h0m0-1h0m1-2h0m301 0h0m10 4h0m-312 2h0m316 7h0"/>
<path stroke="#66F0F0" d="M614 442h0m-12 1h0m-38-2h0m-18 0h0m61 3h0m6 2h0m7 0h0m12 0h0m3 2h0m3 1h0m56 6h0m-16-3h0m-13 1h0m-14-2h0m-1 2h0m-7 1h0m-51 1h0m-7-4h0m-7 2h0m-9-2h0m-19 4h0m-12-1h0m-8-4h0m-13 6h0m3 1h0m4 3h0m152-2h0m2 2h0m11-4h0m93 16h0m61 7h0m-88-1h0m74 2h0"/>
<path stroke="#2A6CF8" d="M622 344h0m-82 5h0m36 3h0m16-3h0m101 10h0m-54-3h0m-21 3h0m-6 0h0m-14-5h0m-1 4h0m-15-4h0m-14 4h0m-3 0h0m-4 1h0m-3 0h0m-9 0h0m-9-1h0m-2 1h0m-18 6h0m4-1h0m4 0h0m8-1h0m1 2h0m3 0h0m5 0h0m0-5h0m0 3h0m4-1h0m2-2h0m1 4h0m1-4h0m0 2h0m1-1h0m7-1h0m7 4h0m3-4h0m3 0h0m1 5h0m1-2h0m1 2h0m1-5h0m5 2h0m5 1h0m3-2h0m1 2h0m2 2h0m4-4h0m0 3h0m30 1h0m8 0h0m9-2h0m40-3h0m17 2h0m64 8h0m-3 1h0m-14-1h0m-17-3h0m-8 3h0m-2-3h0m0 3h0m-1-1h0m-20 1h0m-24-1h0m0-1h0m-8 2h0m-5 1h0m-26-4h0m-19 1h0m-8 0h0m0-1h0m-10 0h0m-4 4h0m-6-5h0m-5 2h0m-3 3h0m-5-2h0m-1-1h0m-7 2h0m-4 0h0m-6 0h0m-8-2h0m-1 1h0m-1-3h0m-3 5h0m-1-1h0m-1 1h0m-9-1h0m-1-2h0m0-1h0m-5-1h0m-3 3h0m-1-1h0m-1 0h0m-1-2h0m-1 4h0m0-3h0m-1 1h0m-2 3h0m-3-2h0m-1 1h0m-5 6h0m2 0h0m2 0h0m2 1h0m4-1h0m3-2h0m1 2h0m2-3h0m2 4h0m8-4h0m1-1h0m1 1h0m1 1h0m0 3h0m7-1h0m0-3h0m1 3h0m2-2h0m3-2h0m1 2h0m2-1h0m3 4h0m0-1h0m0-1h0m9-1h0m1-2h0m1 2h0m4 3h0m3-3h0m4 3h0m3-3h0m12 3h0m2-1h0m2-1h0m21-3h0m1 3h0m21-2h0m0-1h0m2 3h0m5-1h0m1 0h0m5 3h0m29-5h0m13 0h0m9 5h0m4-5h0m5 3h0m28-3h0m31 0h0m5 5h0m2-5h0m13 4h0m-12 2h0m-2 0h0m-2 0h0m-4 5h0m-37-4h0m-5 2h0m-9 1h0m-7-3h0m-3 0h0m-3 2h0m-1 2h0m-13-4h0m-13 2h0m-11-3h0m-5 3h0m-6 0h0m-2-3h0m-21 4h0m-8 0h0m-2-2h0m0 3h0m-2-1h0m-6-3h0m-1 4h0m-8-5h0m-1 5h0m-1-2h0m-3-2h0m-7 2h0m0-2h0m-4 3h0m-7 1h0m-2-3h0m-1 2h0m-3 0h0m-14-2h0m-2-1h0m0 3h0m-4-1h0m-4 0h0m-5-1h0m-7 2h0m0-1h0m-4-3h0m-5 1h0m-1 1h0m0 1h0m-3 2h0m-3 0h0m-1-5h0m-5 1h0m-1 0h0m-1 4h0m-4-2h0m0-1h0m-2 0h0m-1 2h0m-1-4h0m-2 2h0m-3 1h0m-1 3h0m1 3h0m1-1h0m0-1h0m1 3h0m2 1h0m2-4h0m1 4h0m1-3h0m6 0h0m3-1h0m3 2h0m2-1h0m2-2h0m5 1h0m0-1h0m0 2h0m4 2h0m3-3h0m0-1h0m4 5h0m7-2h0m1-3h0m8 5h0m0-5h0m6 0h0m5 0h0m1 3h0m50-3h0m5 0h0m6 2h0m8 1h0m1 1h0m2-2h0m2 1h0m25-3h0m4 3h0m9-2h0m11 4h0m42-2h0m10-2h0m3 1h0m1 1h0m10 1h0m1-2h0m14 1h0m13 2h0m10-5h0m5 3h0m3 5h0m-31-1h0m-10-1h0m-18 1h0m-1 0h0m-78 2h0m-6-1h0m-8 1h0m-16 1h0m-4-1h0m-1 1h0m-12-3h0m-2-1h0m-1 2h0m-4-1h0m-11 3h0m-42-4h0m-15 1h0m-9 0h0m-12 1h0m-10 1h0m-1-1h0m-3 2h0m0-1h0m-1-2h0m-1 3h0m-1-3h0m-3-1h0m0 5h0m-2-5h0m0 4h0m0-2h0m-2 2h0m-1-2h0m0 5h0m0 3h0m2-3h0m1 2h0m0 1h0m1 1h0m1-5h0m2 4h0m0-1h0m5-3h0m2 3h0m2 0h0m2-2h0m54 2h0m66-1h0m33 1h0m34 2h0m12-2h0m4-1h0m5 3h0m13 0h0m7-4h0m7 1h0m42-2h0m16 0h0m-6 7h0m-28 4h0m-5-1h0m-6-1h0m-35-3h0m-32 5h0m-37-1h0m-3-4h0m-26 3h0m-98 0h0m-29 1h0m-1-2h0m-4 3h0m-1-3h0m0-1h0m-1 7h0m0-2h0m1 0h0m0 4h0m1-4h0m1 3h0m101 0h0m26-3h0m44 0h0m1 0h0m11 5h0m35-2h0m12 2h0m7 0h0m17-3h0m12 2h0m3 0h0m6-1h0m31 2h0m1-2h0m7-2h0m4 4h0m6-1h0m-24 4h0m-3 3h0m-2-5h0m-9 3h0m-14-1h0m-3 3h0m-55 0h0m-23-5h0m-18 4h0m-8 1h0m-3-1h0m-7-3h0m-18 2h0m-107 0h0m-31-3h0m-1 4h0m-2-3h0m0 4h0m0-2h0m1 3h0m1 3h0m2 1h0m71-4h0m48 3h0m25-1h0m22 2h0m22-2h0m20-2h0m5 2h0m0-1h0m7 3h0m4 1h0m45-4h0m3-1h0m2 4h0m25 0h0m7-4h0m1 1h0m28 6h0m-27 3h0m-2 0h0m-4-1h0m-10-1h0m-5-1h0m-2 2h0m-21-2h0m-180-1h0m-40 1h0m-47 3h0m0-3h0m-1 1h0m0 2h0m0-1h0m0 7h0m143-3h0m29 2h0m62-3h0m15 1h0m15-1h0m7 3h0m34-2h0m-144 5h0m-31 0h0m-14 1h0m-6 3h0m0-1h0m-15 2h0m-4 0h0m-1-1h0m-4-2h0m-26 0h0m-60 0h0m-2 2h0m1 3h0m0 3h0m91-3h0m7 0h0m56 3h0m1 0h0m69 0h0m30-4h0m44 0h0m54 2h0m-55 4h0m-69 1h0m-50 1h0m-11 2h0m-167-4h0m0 6h0m0 4h0m372 1h0m-136 2h0m-10 2h0m-227-2h0m259 9h0m3-1h0m5-2h0m21 4h0m37 4h0m-34 0h0m-7-3h0m7 6h0m-291 13h0m6 7h0m-1-2h0m0 16h0m-4 11h0m7 8h0m-1 2h0m-2 15h0m-2-3h0m0 6h0m-1 24h0"/>
<path stroke="#F3324A" d="M643 353h0m79 15h0m92 14h0m-180-1h0m-10 1h0m-8 0h0m-1 0h0m-13 1h0m-3-4h0m-1 1h0m-3 2h0m-2-1h0m-12 1h0m-12 1h0m-22 3h0m1 1h0m6-3h0m5 0h0m5 0h0m5 0h0m1 0h0m4 0h0m3 5h0m10-4h0m1-1h0m0 4h0m3-4h0m0 1h0m2 0h0m4 3h0m6-1h0m8 1h0m2 0h0m5 0h0m1-4h0m2 5h0m1-3h0m3 1h0m9 1h0m2 0h0m21-1h0m3 1h0m2-3h0m2 2h0m0-1h0m0-1h0m1 3h0m4-1h0m0 2h0m4-1h0m2-1h0m1-2h0m7 4h0m10-1h0m8 0h0m10 1h0m18-1h0m4 1h0m59 2h0m-1 2h0m-1-2h0m-16 1h0m-22 2h0m-15 0h0m-9-4h0m-1 3h0m0-3h0m-5 1h0m-9 0h0m-7 1h0m-2-2h0m0 2h0m-11-2h0m-2 2h0m-7 2h0m-13 1h0m0-1h0m-4-3h0m-3 1h0m-1 0h0m-10 2h0m-1 1h0m0-5h0m-4 4h0m-10 0h0m-4 1h0m0-1h0m-1-2h0m-4-1h0m-2 4h0m-6-5h0m-4 0h0m-1 2h0m-1 1h0m-5-2h0m-5 3h0m-1-3h0m-2 3h0m-1-2h0m-8 2h0m-1-3h0m-1 1h0m-7 3h0m-1-5h0m-6 4h0m-1-3h0m-4 4h0m-10 0h0m-2-5h0m-1 1h0m-8 1h0m-4 1h0m-4-1h0m0 3h0m-4-1h0m0-2h0m-2 2h0m-5 1h0m-1-2h0m-14 5h0m3 2h0m1 0h0m3 0h0m1-1h0m2-2h0m3 1h0m3 2h0m0-1h0m3-2h0m0 3h0m2 0h0m2-1h0m4-1h0m2-1h0m2 3h0m3-2h0m8 3h0m3-4h0m2 1h0m2 0h0m0-2h0m1 4h0m2 0h0m1-3h0m3 4h0m1 0h0m0-2h0m3-1h0m3 1h0m1-2h0m12 4h0m1 0h0m5-5h0m3 3h0m1 2h0m0-5h0m1 0h0m1 1h0m3-1h0m4 2h0m7 3h0m3-3h0m4-2h0m2 5h0m4 0h0m1-3h0m1-1h0m0 4h0m1-2h0m6 2h0m0-1h0m1 0h0m1-3h0m1 2h0m7 1h0m0-1h0m2 0h0m1-3h0m17 0h0m4 1h0m7 1h0m3 2h0m1-3h0m14 1h0m3 1h0m5-2h0m3 0h0m4 2h0m0-3h0m6 1h0m5 0h0m1 4h0m16-2h0m43-1h0m5 3h0m17-1h0m5-4h0m5 8h0m-5 0h0m-10-2h0m-19 3h0m-6-3h0m-4 1h0m-10 3h0m-17-1h0m-6 1h0m-1-4h0m-3 1h0m-7 2h0m-2-3h0m-4 0h0m-1 3h0m-1-1h0m-2 1h0m-1-1h0m-12-1h0m-5 0h0m-1 2h0m-3 2h0m-9-4h0m0 1h0m-2 1h0m-1 2h0m-5-1h0m-3-1h0m-2 1h0m-6-1h0m-5-2h0m-3 3h0m0-3h0m-1 4h0m-1-4h0m-2 0h0m-5 1h0m-1 1h0m-2 0h0m-1 2h0m-3-1h0m-1 0h0m0-2h0m-10 2h0m-6 0h0m-4 1h0m-3-1h0m-3-2h0m-2-2h0m-1 4h0m-1-4h0m0 3h0m-1-2h0m-4 1h0m0-2h0m-2 1h0m-3 2h0m-12-1h0m-3 2h0m-4-1h0m-1 2h0m-1-2h0m-3 1h0m-6-3h0m-4 1h0m0 3h0m-1-3h0m-3 1h0m-5 1h0m-5-1h0m-1-3h0m0 3h0m-1-3h0m-4 3h0m-1-1h0m-4 3h0m-1 0h0m-2-1h0m-3-4h0m-1 2h0m-1 0h0m-1 2h0m-5-3h0m-3-1h0m0 4h0m-2 0h0m0-1h0m-2 0h0m0-1h0m-4-1h0m-1 3h0m-1 0h0m-1 0h0m-1-4h0m-2 2h0m0-1h0m0 4h0m-1-3h0m-4 4h0m2 3h0m0-1h0m2 0h0m0-1h0m2 4h0m4-2h0m1 1h0m0-2h0m1 1h0m1-1h0m1 1h0m2-2h0m3 0h0m1 2h0m2 1h0m2-4h0m0 4h0m3-2h0m1 3h0m1-5h0m5 5h0m16-1h0m7-1h0m2-3h0m3 5h0m3 0h0m0-1h0m0-2h0m1 3h0m0-5h0m2 2h0m2-2h0m2 2h0m5 1h0m0-3h0m6 0h0m3 0h0m0 4h0m1-2h0m10 2h0m0 1h0m2-5h0m2 2h0m1 3h0m4-5h0m2 0h0m4 2h0m2 3h0m4-1h0m1-4h0m7 2h0m3 3h0m9 0h0m7-3h0m2 2h0m8 1h0m6-3h0m1 1h0m0-3h0m6 2h0m0 3h0m4-3h0m6 3h0m12-3h0m3-1h0m6 2h0m1 0h0m1-3h0m8 5h0m6 0h0m0-3h0m1 0h0m11 0h0m4-1h0m21 0h0m6 3h0m17-1h0m7 2h0m11-5h0m12 1h0m6-1h0m8 2h0m18 5h0m-4 3h0m-9 0h0m-10-1h0m-2-2h0m-16 3h0m-5-1h0m0 2h0m-2-3h0m-7-2h0m-6 2h0m-2-2h0m-6 1h0m-5 2h0m-7 2h0m-10-5h0m-3 3h0m-8 2h0m-4-5h0m-1 3h0m-8 0h0m-11 1h0m-3-2h0m-3 2h0m-4-4h0m-9 5h0m-30 0h0m-8-1h0m-4-4h0m-14 5h0m-3-3h0m-2-1h0m-1 2h0m-4 2h0m-14-4h0m-1-1h0m-4 1h0m-8 0h0m-1-1h0m-6 0h0m-1 5h0m-2 0h0m-5-2h0m0 2h0m-2-2h0m-3 0h0m-4-2h0m-6 0h0m-10 3h0m-2 1h0m-3 0h0m0-5h0m-3 2h0m-1 1h0m-1-2h0m-1 1h0m-4 1h0m0-1h0m-1 3h0m-2-4h0m0 4h0m-1-1h0m-1 0h0m-1-4h0m-2 0h0m-2 2h0m0-1h0m-1 1h0m-1 2h0m0-1h0m-2-3h0m-5 2h0m-3 1h0m-1-2h0m-1-1h0m-1 4h0m-2 0h0m-2 1h0m0-1h0m-1 1h0m-3-1h0m-1-1h0m-1-1h0m0 2h0m-1 0h0m-1-3h0m0-1h0m-1 1h0m0 4h0m-2 0h0m-1-2h0m-1 0h0m-2 1h0m-1-2h0m-2 8h0m2-4h0m2 5h0m1-2h0m1-2h0m1 1h0m3 2h0m0-2h0m2-1h0m2 3h0m6 0h0m1-3h0m1 1h0m3 0h0m2 1h0m2 2h0m0-5h0m3 1h0m0 3h0m2 0h0m2 0h0m1-3h0m4 3h0m0-1h0m4-2h0m2 3h0m5-2h0m5-1h0m1 2h0m0-2h0m3 2h0m5 0h0m1 2h0m0-4h0m2 0h0m3 2h0m1-1h0m1 0h0m0-2h0m1 1h0m13 3h0m0-2h0m1 0h0m1 0h0m9 1h0m1-2h0m2 2h0m1 0h0m2 0h0m2 0h0m4 2h0m1-4h0m0-1h0m0 3h0m4 0h0m0-1h0m7 0h0m0 2h0m2-4h0m6 0h0m6 1h0m7 1h0m0 2h0m8-1h0m16-3h0m3 4h0m2-3h0m9 2h0m4-1h0m2 0h0m3 1h0m2 1h0m2-2h0m2 0h0m20-1h0m5 0h0m4 0h0m4 4h0m2-5h0m3 4h0m4 0h0m3-3h0m8 1h0m5-1h0m2-1h0m6 0h0m12 4h0m3-2h0m30 1h0m8 0h0m24 8h0m-17-3h0m-4-2h0m-5 0h0m-15 4h0m-8 0h0m-10-3h0m0 4h0m-5-3h0m0 1h0m-2 0h0m-1-3h0m-1 3h0m-1 2h0m-5-1h0m-2 0h0m-6 1h0m-16 0h0m-1-4h0m-6-1h0m-3 1h0m-5 0h0m-4 0h0m-1 2h0m-5-3h0m-2 3h0m-4-3h0m-4 1h0m-10 0h0m-3 4h0m-6-4h0m-4 4h0m0-5h0m-4 0h0m-9 5h0m-4 0h0m-3-4h0m-4 3h0m-6 1h0m-1-5h0m-2 0h0m-6 1h0m-1 3h0m-7-2h0m-9 3h0m-7-5h0m-4 3h0m-1-1h0m-7-2h0m-4 4h0m-1-4h0m-3 5h0m-5-2h0m-8-2h0m-5 2h0m-6 2h0m-4 0h0m-3-4h0m0 4h0m-4-4h0m-1 1h0m-1 0h0m-1-1h0m-1 4h0m-1-4h0m-2 4h0m-7-5h0m0 4h0m-1-3h0m0 4h0m-1-1h0m-2-2h0m-1 3h0m-3-1h0m-6 1h0m-1-2h0m-1 1h0m-5-3h0m-1 4h0m0-2h0m-3 2h0m0-3h0m-2-1h0m0-1h0m-1 2h0m-1 2h0m-4 1h0m-2-1h0m-2-2h0m-3 1h0m-2 2h0m-1-1h0m-2-4h0m0 5h0m-1-2h0m-1 2h0m-1-1h0m0-3h0m-1 4h0m-1-2h0m0-1h0m-1 0h0m0-2h0m-1 0h0m-1 7h0m0 4h0m0-5h0m0 4h0m1-2h0m0-1h0m1-1h0m1 3h0m1-3h0m0 4h0m1 1h0m3-3h0m0-1h0m1-1h0m0 4h0m1-3h0m1 4h0m0-1h0m4-2h0m3 2h0m0-1h0m3 2h0m1 0h0m0-5h0m20 1h0m1 3h0m1-3h0m2 0h0m10-1h0m2 4h0m4-1h0m5-3h0m8 1h0m2 3h0m10-1h0m17-2h0m15-1h0m4 5h0m1-1h0m2-3h0m2 3h0m5-4h0m3 2h0m3 0h0m4 0h0m1 1h0m2-3h0m2 4h0m1 0h0m2 0h0m3 0h0m3 0h0m6 0h0m2 1h0m1 0h0m1-1h0m1-4h0m3 1h0m10 2h0m3-3h0m12 5h0m1-1h0m0-4h0m1 4h0m6-3h0m11-1h0m0 4h0m1-2h0m13-1h0m1 2h0m6 1h0m6 1h0m6-3h0m26-2h0m16 3h0m7-2h0m9 1h0m1 0h0m1-1h0m7 2h0m25 1h0m4-4h0m-1 9h0m-12 0h0m-9-3h0m-12 2h0m-11 0h0m-1 1h0m0-2h0m-12 0h0m-13 4h0m-3-3h0m-1 1h0m-8-1h0m-13 1h0m-20 0h0m-9 2h0m-1-2h0m-14 2h0m0-4h0m-4 0h0m-4 2h0m-1-2h0m-3 0h0m-1 1h0m-5-2h0m-1 3h0m-10-2h0m-6 2h0m-4 0h0m-26-2h0m-4 0h0m-17 3h0m-56 0h0m-40-4h0m0 4h0m-4-4h0m-4 5h0m-1-4h0m-5 4h0m0-5h0m-2 4h0m-1-3h0m-1 3h0m-2-1h0m-1 0h0m-1-2h0m0 4h0m-1-4h0m0-1h0m0 8h0m0-2h0m0 4h0m1 0h0m0-2h0m1 3h0m2-1h0m0-1h0m1-1h0m2 2h0m4-1h0m0-2h0m3-1h0m1 0h0m1 2h0m0 3h0m9-4h0m6 3h0m7-4h0m3 3h0m2 1h0m16 1h0m5-1h0m4-2h0m17 2h0m13-4h0m37 1h0m45-1h0m7 2h0m8 1h0m7-3h0m3 1h0m17-1h0m5 1h0m5 3h0m10-4h0m2 1h0m4-1h0m2 0h0m12 5h0m9-5h0m1 2h0m0-1h0m2 0h0m12-1h0m9 5h0m7-2h0m5 2h0m30-3h0m6 3h0m-7 4h0m-9 1h0m-2-2h0m0-1h0m-5 4h0m-6-5h0m-5 4h0m-1-3h0m-9 3h0m-19-1h0m-14-1h0m-3 1h0m0 2h0m-10-5h0m-16 3h0m-8-2h0m-1-1h0m-13 1h0m-10 0h0m-4 0h0m-7 2h0m-16-3h0m-53 1h0m-70 4h0m-14 0h0m-4-1h0m-16-2h0m-10-1h0m-2-1h0m-2 1h0m-2 3h0m-2-4h0m0 3h0m-1 1h0m0-1h0m-1-2h0m-1 0h0m0 3h0m0-1h0m-1 5h0m1 1h0m3-2h0m0 4h0m16 0h0m13-4h0m101 0h0m16 3h0m84-4h0m5 2h0m1-2h0m31 4h0m5-1h0m6-1h0m3 0h0m22 2h0m4 0h0m12-2h0m5-1h0m14-1h0m2 4h0m-9 5h0m-12 0h0m-12 2h0m-22-1h0m-9 1h0m-1-4h0m-3 4h0m-16-1h0m-2 0h0m-70 1h0m-11-3h0m-10-2h0m-163 1h0m-3 4h0m0-5h0m-1 2h0m0-1h0m0 3h0m-1 0h0m0 3h0m1-1h0m0 4h0m0-2h0m1 1h0m0 2h0m0-5h0m4 1h0m5 1h0m297 0h0m0-2h0m15 1h0m-18 7h0m-302-1h0m0-1h0m-1 1h0m0 2h0m-1 2h0m-1-5h0m0 3h0m0 8h0m0-1h0m0-2h0m2 1h0m0 5h0m-1 3h0m0-2h0m-1 0h0m0-3h0m0 9h0m1-3h0m1 2h0"/>
<path stroke="#22B12C" d="M626 371h0m2 2h0m66 16h0m7 3h0m-5-1h0m-24 1h0m-10-1h0m-39 3h0m-22 0h0m6 2h0m149 5h0m-71 2h0m19 8h0m75 2h0m11 0h0m12-4h0m6 7h0m-49 2h0m-25-4h0m-47 3h0m-42 5h0m29 1h0m9 0h0m32 2h0m-44 4h0m-18 1h0m-14-4h0m-61 9h0m270-1h0m-39 4h0m-44 1h0m-4 1h0m-15 2h0m-92-2h0m-11 0h0m-23 2h0m-37 1h0m-44 6h0m211-5h0m63 1h0m34 6h0m-36 2h0m-196-3h0m-44 2h0m-35 2h0m121 4h0m150 1h0m7 6h0m-44 0h0m-262 0h0m326 6h0m-215 91h0"/>
</g></g>
<line x1="248.5" y1="3" x2="248.5" y2="26" stroke="#e4e4e4" stroke-width="0.8"/>
<line x1="457" y1="162.5" x2="480" y2="162.5" stroke="#e4e4e4" stroke-width="0.8"/>
<path d="M40.4 147.50h3.6M40.4 136.20h2.0M40.4 124.90h3.6M40.4 113.60h2.0M40.4 102.30h3.6M40.4 91.00h2.0M40.4 79.70h3.6M40.4 68.40h2.0M40.4 57.10h3.6M40.4 45.80h2.0M40.4 34.50h3.6M40.4 284.35h3.6M40.4 273.05h2.0M40.4 261.75h3.6M40.4 250.45h2.0M40.4 239.15h3.6M40.4 227.85h2.0M40.4 216.55h3.6M40.4 205.25h2.0M40.4 193.95h3.6M40.4 182.65h2.0M40.4 171.35h3.6M42.60 297.95v-3.6M60.38 297.95v-2.0M78.16 297.95v-3.6M95.94 297.95v-2.0M113.72 297.95v-3.6M131.50 297.95v-2.0M149.28 297.95v-3.6M167.06 297.95v-2.0M184.84 297.95v-3.6M202.62 297.95v-2.0M220.40 297.95v-3.6M238.18 297.95v-2.0M251.60 297.95v-3.6M269.38 297.95v-2.0M287.16 297.95v-3.6M304.94 297.95v-2.0M322.72 297.95v-3.6M340.50 297.95v-2.0M358.28 297.95v-3.6M376.06 297.95v-2.0M393.84 297.95v-3.6M411.62 297.95v-2.0M429.40 297.95v-3.6M447.18 297.95v-2.0" stroke="#666" stroke-width="1.2" fill="none"/>
<path d="M40.4 26.3V297.95H457V26.3" stroke="#7a7a7a" stroke-width="1.4" fill="none"/>
<path d="M40 26.3H457.6" stroke="#4a4a4a" stroke-width="1.4" fill="none"/>
<path d="M40.5 162.5H457" stroke="#111" stroke-width="1.4" fill="none"/>
<path d="M248.5 26.3V297.9" stroke="#111" stroke-width="1.4" fill="none"/>
<g font-family="'Liberation Sans', Arial, sans-serif" font-size="12.8" fill="#262626" stroke="#262626" stroke-width="0.15"><text transform="translate(38.00 152.10) skewX(0.3)" text-anchor="end" textLength="14.00" lengthAdjust="spacingAndGlyphs">10</text><text transform="translate(38.00 129.50) skewX(0.3)" text-anchor="end" textLength="14.00" lengthAdjust="spacingAndGlyphs">12</text><text transform="translate(38.00 106.90) skewX(0.3)" text-anchor="end" textLength="14.00" lengthAdjust="spacingAndGlyphs">14</text><text transform="translate(38.00 84.30) skewX(0.3)" text-anchor="end" textLength="14.00" lengthAdjust="spacingAndGlyphs">16</text><text transform="translate(38.00 61.70) skewX(0.3)" text-anchor="end" textLength="14.00" lengthAdjust="spacingAndGlyphs">18</text><text transform="translate(38.00 39.10) skewX(0.3)" text-anchor="end" textLength="14.00" lengthAdjust="spacingAndGlyphs">20</text><text transform="translate(38.00 288.95) skewX(0.3)" text-anchor="end" textLength="14.00" lengthAdjust="spacingAndGlyphs">10</text><text transform="translate(38.00 266.35) skewX(0.3)" text-anchor="end" textLength="14.00" lengthAdjust="spacingAndGlyphs">12</text><text transform="translate(38.00 243.75) skewX(0.3)" text-anchor="end" textLength="14.00" lengthAdjust="spacingAndGlyphs">14</text><text transform="translate(38.00 221.15) skewX(0.3)" text-anchor="end" textLength="14.00" lengthAdjust="spacingAndGlyphs">16</text><text transform="translate(38.00 198.55) skewX(0.3)" text-anchor="end" textLength="14.00" lengthAdjust="spacingAndGlyphs">18</text><text transform="translate(38.00 175.95) skewX(0.3)" text-anchor="end" textLength="14.00" lengthAdjust="spacingAndGlyphs">20</text><text transform="translate(42.60 312.80) skewX(0.3)" text-anchor="middle" textLength="6.95" lengthAdjust="spacingAndGlyphs">0</text><text transform="translate(78.16 312.80) skewX(0.3)" text-anchor="middle" textLength="20.85" lengthAdjust="spacingAndGlyphs">200</text><text transform="translate(113.72 312.80) skewX(0.3)" text-anchor="middle" textLength="20.85" lengthAdjust="spacingAndGlyphs">400</text><text transform="translate(149.28 312.80) skewX(0.3)" text-anchor="middle" textLength="20.85" lengthAdjust="spacingAndGlyphs">600</text><text transform="translate(184.84 312.80) skewX(0.3)" text-anchor="middle" textLength="20.85" lengthAdjust="spacingAndGlyphs">800</text><text transform="translate(220.40 312.80) skewX(0.3)" text-anchor="middle" textLength="27.80" lengthAdjust="spacingAndGlyphs">1000</text><text transform="translate(251.60 312.80) skewX(0.3)" text-anchor="middle" textLength="6.95" lengthAdjust="spacingAndGlyphs">0</text><text transform="translate(287.16 312.80) skewX(0.3)" text-anchor="middle" textLength="20.85" lengthAdjust="spacingAndGlyphs">200</text><text transform="translate(322.72 312.80) skewX(0.3)" text-anchor="middle" textLength="20.85" lengthAdjust="spacingAndGlyphs">400</text><text transform="translate(358.28 312.80) skewX(0.3)" text-anchor="middle" textLength="20.85" lengthAdjust="spacingAndGlyphs">600</text><text transform="translate(393.84 312.80) skewX(0.3)" text-anchor="middle" textLength="20.85" lengthAdjust="spacingAndGlyphs">800</text><text transform="translate(429.40 312.80) skewX(0.3)" text-anchor="middle" textLength="27.80" lengthAdjust="spacingAndGlyphs">1000</text></g>
<g font-family="'Liberation Sans', Arial, sans-serif" font-size="15.5" fill="#1e1e1e" stroke="#1e1e1e" stroke-width="0.15">
<text transform="translate(144.00 20.90) skewX(0.3)" text-anchor="middle" textLength="58.30" lengthAdjust="spacingAndGlyphs">Fixed Tilt</text>
<text transform="translate(353.30 20.90) skewX(0.3)" text-anchor="middle" textLength="35.00" lengthAdjust="spacingAndGlyphs">HSAT</text>
<text transform="translate(247.50 333.70) skewX(0.3)" text-anchor="middle" textLength="183.50" lengthAdjust="spacingAndGlyphs">Total POA Irradiance (W/m²)</text>
<text transform="translate(15.80 161.40) rotate(-90) skewX(0.3)" text-anchor="middle" textLength="209.70" lengthAdjust="spacingAndGlyphs">Efficiency Corrected to 25 °C (%)</text>
<text transform="translate(461.70 94.15) rotate(90) skewX(0.3)" text-anchor="middle" textLength="45.00" lengthAdjust="spacingAndGlyphs">Bifacial</text>
<text transform="translate(461.70 230.35) rotate(90) skewX(0.3)" text-anchor="middle" textLength="72.40" lengthAdjust="spacingAndGlyphs">Monofacial</text>
</g>
<g font-family="'Liberation Sans', Arial, sans-serif" font-size="9" fill="#222">
<circle cx="489.4" cy="10.1" r="1.6" fill="#EC720E"/>
<text transform="translate(497.30 13.30) skewX(0.3)" textLength="49.60" lengthAdjust="spacingAndGlyphs">MoBiDiG VF</text>
<circle cx="489.4" cy="21.9" r="1.6" fill="#66F0F0"/>
<text transform="translate(497.30 25.10) skewX(0.3)" textLength="48.80" lengthAdjust="spacingAndGlyphs">PlantPredict</text>
<circle cx="489.4" cy="33.7" r="1.6" fill="#F3324A"/>
<text transform="translate(497.30 36.90) skewX(0.3)" textLength="26.40" lengthAdjust="spacingAndGlyphs">PVsyst</text>
<circle cx="489.4" cy="45.5" r="1.6" fill="#2A6CF8"/>
<text transform="translate(497.30 48.70) skewX(0.3)" textLength="19.20" lengthAdjust="spacingAndGlyphs">SAM</text>
<circle cx="489.4" cy="57.3" r="1.6" fill="#22B12C"/>
<text transform="translate(497.30 60.50) skewX(0.3)" textLength="48.60" lengthAdjust="spacingAndGlyphs">SolarFarmer</text>
</g>
</svg></body></html>
